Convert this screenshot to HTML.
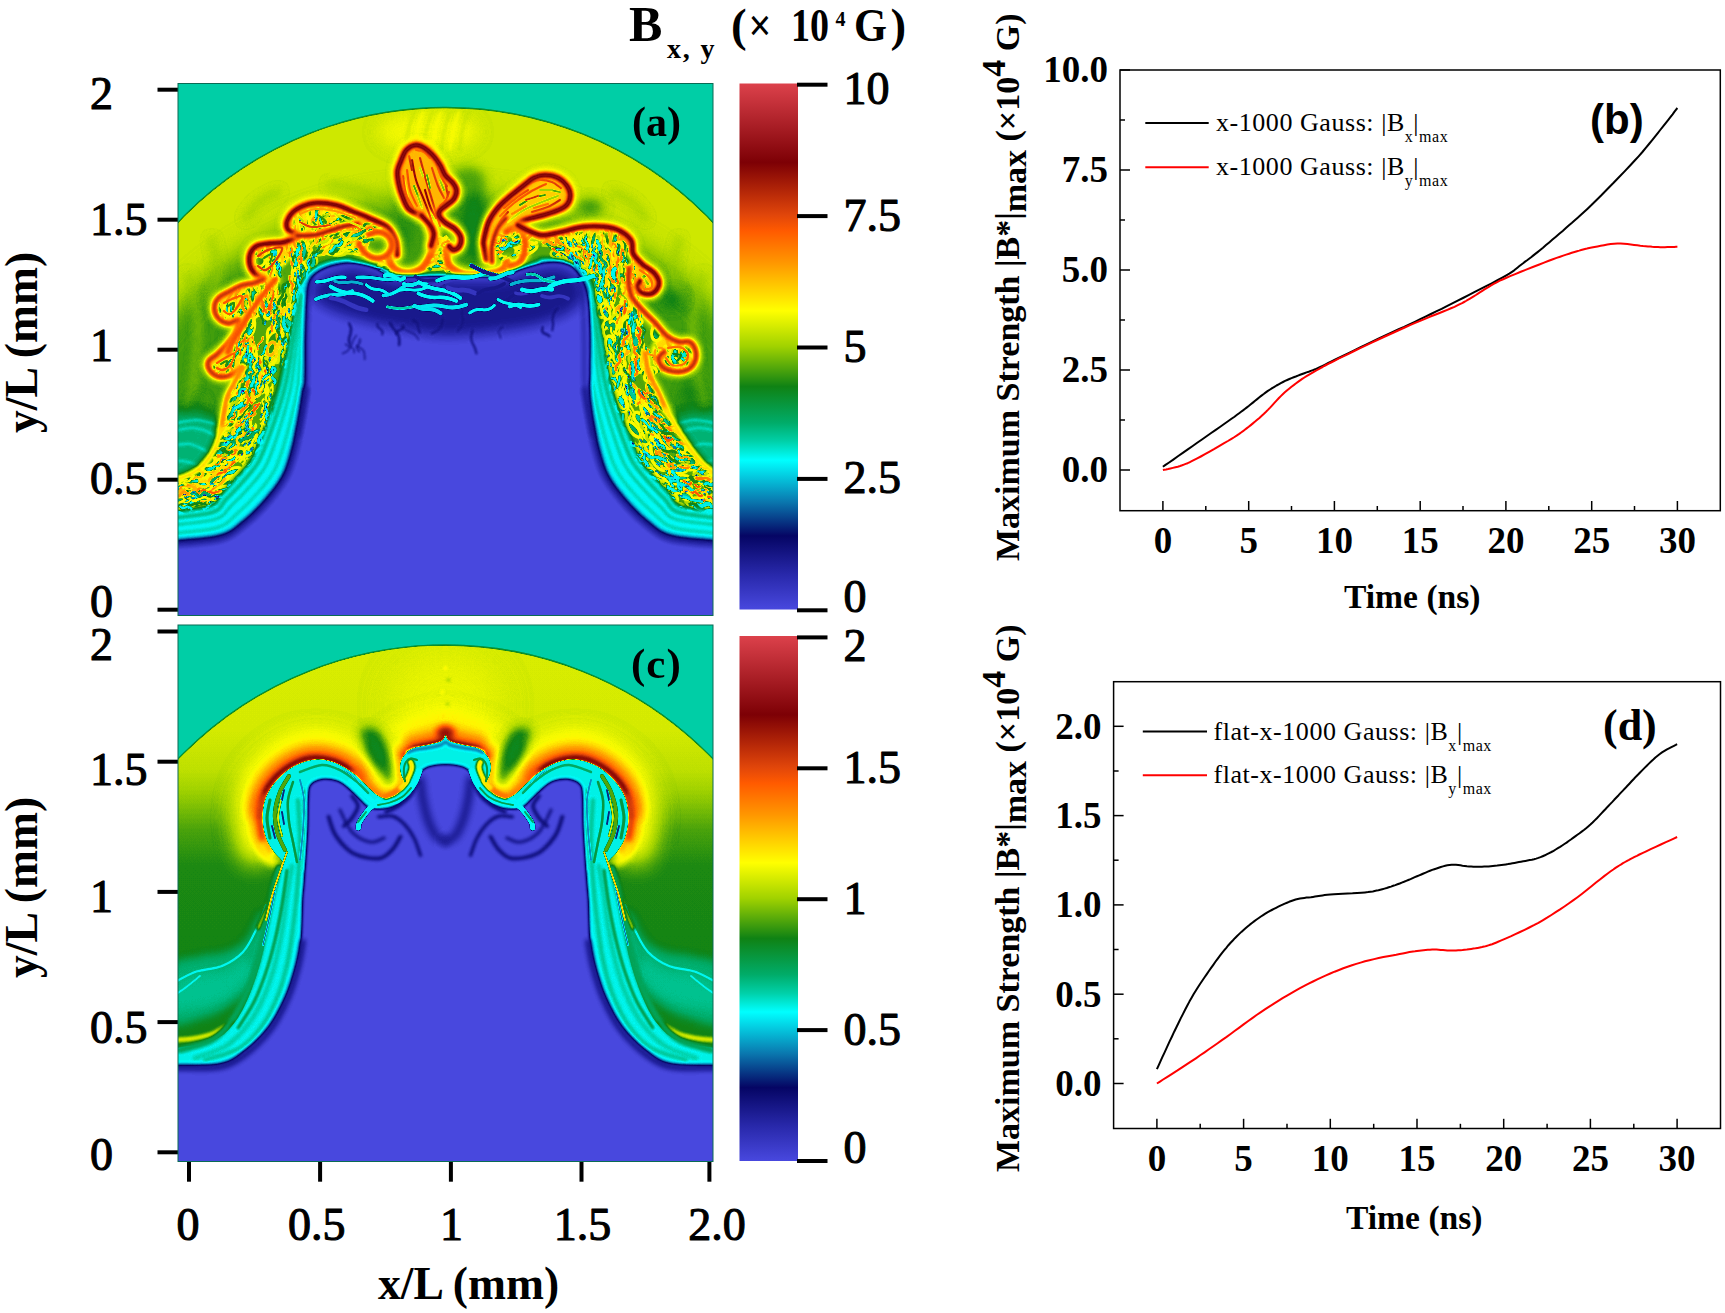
<!DOCTYPE html>
<html lang="en"><head><meta charset="utf-8"><title>Figure</title>
<style>
html,body{margin:0;padding:0;background:#fff;}
body{width:1725px;height:1313px;overflow:hidden;}
svg{display:block;}
text{font-family:"Liberation Serif", "DejaVu Serif", serif;fill:#000;}
.b{font-weight:bold;}
.sans{font-family:"Liberation Sans", "DejaVu Sans", sans-serif;}
</style></head><body>
<svg width="1725" height="1313" viewBox="0 0 1725 1313">
<defs>
<linearGradient id="cb" x1="0" y1="1" x2="0" y2="0"><stop offset="0.0000" stop-color="#4848de"/><stop offset="0.0670" stop-color="#2828aa"/><stop offset="0.1400" stop-color="#050564"/><stop offset="0.2050" stop-color="#0a78af"/><stop offset="0.2840" stop-color="#00ffff"/><stop offset="0.3200" stop-color="#00d0a8"/><stop offset="0.3550" stop-color="#00ac69"/><stop offset="0.4240" stop-color="#0f8214"/><stop offset="0.5000" stop-color="#a0d200"/><stop offset="0.5680" stop-color="#ffff00"/><stop offset="0.6600" stop-color="#ff9600"/><stop offset="0.7200" stop-color="#ff5a00"/><stop offset="0.7500" stop-color="#e1460a"/><stop offset="0.8500" stop-color="#7d0005"/><stop offset="1.0000" stop-color="#dc414b"/></linearGradient>
<filter id="cmap" x="0" y="0" width="100%" height="100%" filterUnits="objectBoundingBox" color-interpolation-filters="sRGB">
<feComponentTransfer>
<feFuncR type="table" tableValues="0.2824 0.2589 0.2355 0.2121 0.1887 0.1653 0.1418 0.1183 0.0948 0.0713 0.0478 0.0243 0.0226 0.0264 0.0302 0.0339 0.0377 0.0355 0.0293 0.0231 0.0169 0.0107 0.0045 0.0000 0.0000 0.0000 0.0000 0.0000 0.0000 0.0064 0.0171 0.0277 0.0384 0.0490 0.0663 0.1598 0.2534 0.3469 0.4404 0.5339 0.6275 0.6959 0.7644 0.8329 0.9014 0.9699 1.0000 1.0000 1.0000 1.0000 1.0000 1.0000 1.0000 1.0000 1.0000 1.0000 1.0000 1.0000 0.9804 0.9314 0.8824 0.8333 0.7843 0.7353 0.6863 0.6373 0.5882 0.5392 0.4902 0.5212 0.5523 0.5833 0.6144 0.6454 0.6765 0.7075 0.7386 0.7696 0.8007 0.8317 0.8627"/>
<feFuncG type="table" tableValues="0.2824 0.2589 0.2355 0.2121 0.1887 0.1653 0.1418 0.1183 0.0948 0.0713 0.0478 0.0243 0.0890 0.1757 0.2624 0.3492 0.4359 0.5208 0.6046 0.6884 0.7722 0.8559 0.9397 0.9821 0.9181 0.8541 0.7955 0.7451 0.6947 0.6566 0.6268 0.5969 0.5671 0.5373 0.5139 0.5655 0.6171 0.6687 0.7203 0.7719 0.8235 0.8560 0.8884 0.9208 0.9533 0.9857 0.9687 0.9127 0.8568 0.8008 0.7449 0.6889 0.6330 0.5784 0.5294 0.4804 0.4314 0.3824 0.3399 0.3072 0.2745 0.2402 0.2059 0.1716 0.1373 0.1029 0.0686 0.0343 0.0000 0.0212 0.0425 0.0637 0.0850 0.1062 0.1275 0.1487 0.1699 0.1912 0.2124 0.2337 0.2549"/>
<feFuncB type="table" tableValues="0.8706 0.8325 0.7945 0.7565 0.7184 0.6804 0.6366 0.5896 0.5426 0.4956 0.4486 0.4016 0.4374 0.4940 0.5505 0.6071 0.6637 0.7161 0.7657 0.8153 0.8650 0.9146 0.9643 0.9668 0.8484 0.7299 0.6235 0.5353 0.4471 0.3755 0.3151 0.2548 0.1944 0.1340 0.0774 0.0645 0.0516 0.0387 0.0258 0.0129 0.0000 0.0000 0.0000 0.0000 0.0000 0.0000 0.0000 0.0000 0.0000 0.0000 0.0000 0.0000 0.0000 0.0000 0.0000 0.0000 0.0000 0.0000 0.0065 0.0229 0.0392 0.0368 0.0343 0.0319 0.0294 0.0270 0.0245 0.0221 0.0196 0.0425 0.0654 0.0882 0.1111 0.1340 0.1569 0.1797 0.2026 0.2255 0.2484 0.2712 0.2941"/>
</feComponentTransfer></filter>
<filter id="bl0_6" filterUnits="userSpaceOnUse" x="120" y="40" width="660" height="1180" color-interpolation-filters="sRGB"><feGaussianBlur stdDeviation="0.6"/></filter>
<filter id="bl0_8" filterUnits="userSpaceOnUse" x="120" y="40" width="660" height="1180" color-interpolation-filters="sRGB"><feGaussianBlur stdDeviation="0.8"/></filter>
<filter id="bl1" filterUnits="userSpaceOnUse" x="120" y="40" width="660" height="1180" color-interpolation-filters="sRGB"><feGaussianBlur stdDeviation="1"/></filter>
<filter id="bl1_5" filterUnits="userSpaceOnUse" x="120" y="40" width="660" height="1180" color-interpolation-filters="sRGB"><feGaussianBlur stdDeviation="1.5"/></filter>
<filter id="bl2" filterUnits="userSpaceOnUse" x="120" y="40" width="660" height="1180" color-interpolation-filters="sRGB"><feGaussianBlur stdDeviation="2"/></filter>
<filter id="bl3" filterUnits="userSpaceOnUse" x="120" y="40" width="660" height="1180" color-interpolation-filters="sRGB"><feGaussianBlur stdDeviation="3"/></filter>
<filter id="bl4" filterUnits="userSpaceOnUse" x="120" y="40" width="660" height="1180" color-interpolation-filters="sRGB"><feGaussianBlur stdDeviation="4"/></filter>
<filter id="bl5" filterUnits="userSpaceOnUse" x="120" y="40" width="660" height="1180" color-interpolation-filters="sRGB"><feGaussianBlur stdDeviation="5"/></filter>
<filter id="bl6" filterUnits="userSpaceOnUse" x="120" y="40" width="660" height="1180" color-interpolation-filters="sRGB"><feGaussianBlur stdDeviation="6"/></filter>
<filter id="bl8" filterUnits="userSpaceOnUse" x="120" y="40" width="660" height="1180" color-interpolation-filters="sRGB"><feGaussianBlur stdDeviation="8"/></filter>
<filter id="bl10" filterUnits="userSpaceOnUse" x="120" y="40" width="660" height="1180" color-interpolation-filters="sRGB"><feGaussianBlur stdDeviation="10"/></filter>
<filter id="bl12" filterUnits="userSpaceOnUse" x="120" y="40" width="660" height="1180" color-interpolation-filters="sRGB"><feGaussianBlur stdDeviation="12"/></filter>
<filter id="bl16" filterUnits="userSpaceOnUse" x="120" y="40" width="660" height="1180" color-interpolation-filters="sRGB"><feGaussianBlur stdDeviation="16"/></filter>
<filter id="bl20" filterUnits="userSpaceOnUse" x="120" y="40" width="660" height="1180" color-interpolation-filters="sRGB"><feGaussianBlur stdDeviation="20"/></filter>
<filter id="bl24" filterUnits="userSpaceOnUse" x="120" y="40" width="660" height="1180" color-interpolation-filters="sRGB"><feGaussianBlur stdDeviation="24"/></filter>
<clipPath id="clipA"><rect x="178" y="83.5" width="535" height="532"/></clipPath>
<clipPath id="clipC"><rect x="178" y="625" width="535" height="536.5"/></clipPath>
</defs>
<rect x="0" y="0" width="1725" height="1313" fill="#fff"/>
<text x="629" y="41" font-size="50" class="b">B</text>
<text x="667" y="58" font-size="28" class="b" letter-spacing="1.8">x, y</text>
<text x="731" y="41" font-size="47" class="b">(</text>
<text x="748.5" y="41" font-size="47" class="b" textLength="23" lengthAdjust="spacingAndGlyphs">×</text>
<text x="791" y="41" font-size="46" class="b" textLength="38" lengthAdjust="spacingAndGlyphs">10</text>
<text x="835.5" y="26" font-size="20" class="b">4</text>
<text x="854" y="41" font-size="47" class="b" textLength="33" lengthAdjust="spacingAndGlyphs">G</text>
<text x="890.5" y="41" font-size="47" class="b">)</text>
<rect x="739.5" y="83.5" width="58.5" height="526" fill="url(#cb)"/>
<rect x="739.5" y="636" width="58.5" height="525" fill="url(#cb)"/>
<line x1="797.0" y1="84.7" x2="827.5" y2="84.7" stroke="#000" stroke-width="4"/>
<text x="843.5" y="103.7" font-size="46" text-anchor="start" class=""  stroke="#000" stroke-width="1.1" stroke-linejoin="round">10</text>
<line x1="797.0" y1="216.1" x2="827.5" y2="216.1" stroke="#000" stroke-width="4"/>
<text x="843.5" y="230.6" font-size="46" text-anchor="start" class=""  stroke="#000" stroke-width="1.1" stroke-linejoin="round">7.5</text>
<line x1="797.0" y1="347.5" x2="827.5" y2="347.5" stroke="#000" stroke-width="4"/>
<text x="843.5" y="362.0" font-size="46" text-anchor="start" class=""  stroke="#000" stroke-width="1.1" stroke-linejoin="round">5</text>
<line x1="797.0" y1="478.9" x2="827.5" y2="478.9" stroke="#000" stroke-width="4"/>
<text x="843.5" y="493.4" font-size="46" text-anchor="start" class=""  stroke="#000" stroke-width="1.1" stroke-linejoin="round">2.5</text>
<line x1="797.0" y1="610.3" x2="827.5" y2="610.3" stroke="#000" stroke-width="4"/>
<text x="843.5" y="612.3" font-size="46" text-anchor="start" class=""  stroke="#000" stroke-width="1.1" stroke-linejoin="round">0</text>
<line x1="797.0" y1="637.4" x2="827.5" y2="637.4" stroke="#000" stroke-width="4"/>
<text x="843.5" y="661.4" font-size="46" text-anchor="start" class=""  stroke="#000" stroke-width="1.1" stroke-linejoin="round">2</text>
<line x1="797.0" y1="768.3" x2="827.5" y2="768.3" stroke="#000" stroke-width="4"/>
<text x="843.5" y="782.8" font-size="46" text-anchor="start" class=""  stroke="#000" stroke-width="1.1" stroke-linejoin="round">1.5</text>
<line x1="797.0" y1="899.2" x2="827.5" y2="899.2" stroke="#000" stroke-width="4"/>
<text x="843.5" y="913.7" font-size="46" text-anchor="start" class=""  stroke="#000" stroke-width="1.1" stroke-linejoin="round">1</text>
<line x1="797.0" y1="1030.1" x2="827.5" y2="1030.1" stroke="#000" stroke-width="4"/>
<text x="843.5" y="1044.6" font-size="46" text-anchor="start" class=""  stroke="#000" stroke-width="1.1" stroke-linejoin="round">0.5</text>
<line x1="797.0" y1="1161.0" x2="827.5" y2="1161.0" stroke="#000" stroke-width="4"/>
<text x="843.5" y="1163.0" font-size="46" text-anchor="start" class=""  stroke="#000" stroke-width="1.1" stroke-linejoin="round">0</text>
<line x1="157.5" y1="89.7" x2="178.0" y2="89.7" stroke="#000" stroke-width="4"/>
<text x="90.0" y="108.7" font-size="46" text-anchor="start" class=""  stroke="#000" stroke-width="1.1" stroke-linejoin="round">2</text>
<line x1="157.5" y1="219.7" x2="178.0" y2="219.7" stroke="#000" stroke-width="4"/>
<text x="90.0" y="235.2" font-size="46" text-anchor="start" class=""  stroke="#000" stroke-width="1.1" stroke-linejoin="round">1.5</text>
<line x1="157.5" y1="349.7" x2="178.0" y2="349.7" stroke="#000" stroke-width="4"/>
<text x="90.0" y="360.7" font-size="46" text-anchor="start" class=""  stroke="#000" stroke-width="1.1" stroke-linejoin="round">1</text>
<line x1="157.5" y1="479.7" x2="178.0" y2="479.7" stroke="#000" stroke-width="4"/>
<text x="90.0" y="493.7" font-size="46" text-anchor="start" class=""  stroke="#000" stroke-width="1.1" stroke-linejoin="round">0.5</text>
<line x1="157.5" y1="609.7" x2="178.0" y2="609.7" stroke="#000" stroke-width="4"/>
<text x="90.0" y="616.7" font-size="46" text-anchor="start" class=""  stroke="#000" stroke-width="1.1" stroke-linejoin="round">0</text>
<line x1="157.5" y1="631.5" x2="178.0" y2="631.5" stroke="#000" stroke-width="4"/>
<text x="90.0" y="659.5" font-size="46" text-anchor="start" class=""  stroke="#000" stroke-width="1.1" stroke-linejoin="round">2</text>
<line x1="157.5" y1="761.7" x2="178.0" y2="761.7" stroke="#000" stroke-width="4"/>
<text x="90.0" y="784.7" font-size="46" text-anchor="start" class=""  stroke="#000" stroke-width="1.1" stroke-linejoin="round">1.5</text>
<line x1="157.5" y1="891.9" x2="178.0" y2="891.9" stroke="#000" stroke-width="4"/>
<text x="90.0" y="911.9" font-size="46" text-anchor="start" class=""  stroke="#000" stroke-width="1.1" stroke-linejoin="round">1</text>
<line x1="157.5" y1="1022.1" x2="178.0" y2="1022.1" stroke="#000" stroke-width="4"/>
<text x="90.0" y="1043.1" font-size="46" text-anchor="start" class=""  stroke="#000" stroke-width="1.1" stroke-linejoin="round">0.5</text>
<line x1="157.5" y1="1152.3" x2="178.0" y2="1152.3" stroke="#000" stroke-width="4"/>
<text x="90.0" y="1169.8" font-size="46" text-anchor="start" class=""  stroke="#000" stroke-width="1.1" stroke-linejoin="round">0</text>
<line x1="189.0" y1="1161.0" x2="189.0" y2="1181.7" stroke="#000" stroke-width="4"/>
<text x="188.0" y="1239.5" font-size="46" text-anchor="middle" class=""  stroke="#000" stroke-width="1.1" stroke-linejoin="round">0</text>
<line x1="320.1" y1="1161.0" x2="320.1" y2="1181.7" stroke="#000" stroke-width="4"/>
<text x="316.7" y="1239.5" font-size="46" text-anchor="middle" class=""  stroke="#000" stroke-width="1.1" stroke-linejoin="round">0.5</text>
<line x1="450.9" y1="1161.0" x2="450.9" y2="1181.7" stroke="#000" stroke-width="4"/>
<text x="451.5" y="1239.5" font-size="46" text-anchor="middle" class=""  stroke="#000" stroke-width="1.1" stroke-linejoin="round">1</text>
<line x1="581.5" y1="1161.0" x2="581.5" y2="1181.7" stroke="#000" stroke-width="4"/>
<text x="582.6" y="1239.5" font-size="46" text-anchor="middle" class=""  stroke="#000" stroke-width="1.1" stroke-linejoin="round">1.5</text>
<line x1="709.4" y1="1161.0" x2="709.4" y2="1181.7" stroke="#000" stroke-width="4"/>
<text x="717.0" y="1239.5" font-size="46" text-anchor="middle" class=""  stroke="#000" stroke-width="1.1" stroke-linejoin="round">2.0</text>
<text x="378.0" y="1298.5" font-size="45.6" text-anchor="start" class="b" >x/L (mm)</text>
<text transform="translate(36.5,433) rotate(-90)" font-size="45.6" class="b">y/L (mm)</text>
<text transform="translate(36.5,978) rotate(-90)" font-size="45.6" class="b">y/L (mm)</text>
<rect x="1120.0" y="70.0" width="600.3" height="440.7" fill="none" stroke="#000" stroke-width="1.5"/>
<line x1="1162.9" y1="510.7" x2="1162.9" y2="501.0" stroke="#000" stroke-width="1.5"/>
<text x="1162.9" y="552.7" font-size="37" text-anchor="middle" class="b" >0</text>
<line x1="1248.7" y1="510.7" x2="1248.7" y2="501.0" stroke="#000" stroke-width="1.5"/>
<text x="1248.7" y="552.7" font-size="37" text-anchor="middle" class="b" >5</text>
<line x1="1334.4" y1="510.7" x2="1334.4" y2="501.0" stroke="#000" stroke-width="1.5"/>
<text x="1334.4" y="552.7" font-size="37" text-anchor="middle" class="b" >10</text>
<line x1="1420.2" y1="510.7" x2="1420.2" y2="501.0" stroke="#000" stroke-width="1.5"/>
<text x="1420.2" y="552.7" font-size="37" text-anchor="middle" class="b" >15</text>
<line x1="1505.9" y1="510.7" x2="1505.9" y2="501.0" stroke="#000" stroke-width="1.5"/>
<text x="1505.9" y="552.7" font-size="37" text-anchor="middle" class="b" >20</text>
<line x1="1591.7" y1="510.7" x2="1591.7" y2="501.0" stroke="#000" stroke-width="1.5"/>
<text x="1591.7" y="552.7" font-size="37" text-anchor="middle" class="b" >25</text>
<line x1="1677.4" y1="510.7" x2="1677.4" y2="501.0" stroke="#000" stroke-width="1.5"/>
<text x="1677.4" y="552.7" font-size="37" text-anchor="middle" class="b" >30</text>
<line x1="1205.8" y1="510.7" x2="1205.8" y2="506.0" stroke="#000" stroke-width="1.5"/>
<line x1="1291.5" y1="510.7" x2="1291.5" y2="506.0" stroke="#000" stroke-width="1.5"/>
<line x1="1377.3" y1="510.7" x2="1377.3" y2="506.0" stroke="#000" stroke-width="1.5"/>
<line x1="1463.0" y1="510.7" x2="1463.0" y2="506.0" stroke="#000" stroke-width="1.5"/>
<line x1="1548.8" y1="510.7" x2="1548.8" y2="506.0" stroke="#000" stroke-width="1.5"/>
<line x1="1634.5" y1="510.7" x2="1634.5" y2="506.0" stroke="#000" stroke-width="1.5"/>
<line x1="1120.0" y1="470.0" x2="1130.0" y2="470.0" stroke="#000" stroke-width="1.5"/>
<text x="1108.0" y="482.3" font-size="37" text-anchor="end" class="b" >0.0</text>
<line x1="1120.0" y1="370.0" x2="1130.0" y2="370.0" stroke="#000" stroke-width="1.5"/>
<text x="1108.0" y="382.3" font-size="37" text-anchor="end" class="b" >2.5</text>
<line x1="1120.0" y1="270.0" x2="1130.0" y2="270.0" stroke="#000" stroke-width="1.5"/>
<text x="1108.0" y="282.3" font-size="37" text-anchor="end" class="b" >5.0</text>
<line x1="1120.0" y1="170.0" x2="1130.0" y2="170.0" stroke="#000" stroke-width="1.5"/>
<text x="1108.0" y="182.3" font-size="37" text-anchor="end" class="b" >7.5</text>
<line x1="1120.0" y1="70.0" x2="1130.0" y2="70.0" stroke="#000" stroke-width="1.5"/>
<text x="1108.0" y="82.3" font-size="37" text-anchor="end" class="b" >10.0</text>
<line x1="1120.0" y1="420.0" x2="1125.0" y2="420.0" stroke="#000" stroke-width="1.5"/>
<line x1="1120.0" y1="320.0" x2="1125.0" y2="320.0" stroke="#000" stroke-width="1.5"/>
<line x1="1120.0" y1="220.0" x2="1125.0" y2="220.0" stroke="#000" stroke-width="1.5"/>
<line x1="1120.0" y1="120.0" x2="1125.0" y2="120.0" stroke="#000" stroke-width="1.5"/>
<path d="M1162.9 466.8 L1165.5 464.9 L1169.1 462.5 L1173.3 459.6 L1177.9 456.3 L1182.8 452.9 L1187.8 449.4 L1192.7 446.0 L1197.2 442.8 L1201.6 439.7 L1206.2 436.5 L1210.8 433.3 L1215.4 430.1 L1219.9 427.0 L1224.1 424.0 L1228.0 421.3 L1231.5 418.8 L1234.5 416.7 L1237.0 414.8 L1239.2 413.2 L1241.1 411.8 L1243.0 410.4 L1244.8 409.0 L1246.6 407.6 L1248.7 406.0 L1250.8 404.3 L1252.9 402.6 L1255.1 400.8 L1257.2 399.1 L1259.4 397.3 L1261.5 395.6 L1263.7 394.0 L1265.8 392.4 L1267.9 390.9 L1270.1 389.5 L1272.2 388.1 L1274.4 386.8 L1276.5 385.5 L1278.7 384.3 L1280.8 383.1 L1283.0 382.0 L1285.1 380.9 L1287.2 380.0 L1289.4 379.0 L1291.5 378.1 L1293.7 377.3 L1295.8 376.5 L1298.0 375.6 L1300.1 374.8 L1302.2 374.0 L1304.4 373.2 L1306.5 372.4 L1308.7 371.7 L1310.8 370.9 L1313.0 370.1 L1315.1 369.3 L1317.2 368.4 L1319.2 367.5 L1320.9 366.7 L1322.6 365.9 L1324.2 365.1 L1326.1 364.1 L1328.3 363.0 L1331.0 361.7 L1334.4 360.0 L1338.5 358.0 L1343.3 355.7 L1348.6 353.1 L1354.2 350.3 L1360.1 347.5 L1366.0 344.6 L1371.7 341.8 L1377.3 339.2 L1382.6 336.7 L1388.0 334.2 L1393.4 331.7 L1398.7 329.2 L1404.1 326.8 L1409.4 324.3 L1414.8 321.8 L1420.2 319.2 L1425.5 316.6 L1430.9 314.0 L1436.2 311.4 L1441.6 308.8 L1446.9 306.1 L1452.3 303.4 L1457.7 300.7 L1463.0 298.0 L1468.6 295.2 L1474.3 292.2 L1480.2 289.2 L1486.1 286.2 L1491.7 283.3 L1497.0 280.5 L1501.8 277.9 L1505.9 275.6 L1509.3 273.6 L1512.0 271.8 L1514.2 270.3 L1516.1 268.8 L1517.7 267.5 L1519.4 266.1 L1521.1 264.7 L1523.1 263.2 L1525.1 261.6 L1527.1 260.2 L1529.1 258.7 L1531.1 257.2 L1533.1 255.6 L1535.3 253.9 L1537.6 252.1 L1540.2 250.0 L1543.0 247.7 L1546.0 245.1 L1549.2 242.4 L1552.5 239.6 L1555.9 236.7 L1559.3 233.8 L1562.7 230.9 L1565.9 228.0 L1569.0 225.3 L1572.0 222.8 L1574.8 220.3 L1577.7 217.8 L1580.7 215.1 L1584.0 212.1 L1587.6 208.7 L1591.7 204.8 L1596.3 200.2 L1601.6 195.0 L1607.2 189.2 L1613.1 183.3 L1618.9 177.2 L1624.6 171.4 L1629.9 165.8 L1634.5 160.8 L1638.6 156.3 L1642.4 152.0 L1645.8 147.9 L1649.0 144.0 L1652.0 140.3 L1654.8 136.8 L1657.6 133.3 L1660.2 130.0 L1662.9 126.7 L1665.5 123.4 L1668.1 120.1 L1670.4 117.1 L1672.6 114.3 L1674.5 111.7 L1676.1 109.6 L1677.4 108.0" fill="none" stroke="#000" stroke-width="2" stroke-linejoin="round"/>
<path d="M1162.9 470.0 L1164.2 469.7 L1166.0 469.4 L1168.1 469.0 L1170.4 468.5 L1172.9 467.9 L1175.4 467.3 L1177.8 466.7 L1180.1 466.0 L1182.1 465.3 L1183.9 464.6 L1185.7 463.9 L1187.6 463.2 L1189.5 462.3 L1191.7 461.2 L1194.2 459.9 L1197.2 458.4 L1200.8 456.5 L1205.0 454.2 L1209.6 451.6 L1214.4 448.9 L1219.1 446.1 L1223.7 443.4 L1227.9 441.0 L1231.5 438.8 L1234.5 437.0 L1237.0 435.3 L1239.2 433.9 L1241.1 432.5 L1243.0 431.2 L1244.8 429.8 L1246.6 428.4 L1248.7 426.8 L1250.8 425.1 L1252.9 423.4 L1255.1 421.6 L1257.2 419.8 L1259.4 417.9 L1261.5 416.0 L1263.7 414.0 L1265.8 412.0 L1267.9 409.9 L1270.1 407.6 L1272.2 405.3 L1274.4 402.9 L1276.5 400.6 L1278.7 398.3 L1280.8 396.1 L1283.0 394.0 L1285.1 392.1 L1287.2 390.2 L1289.4 388.4 L1291.5 386.7 L1293.7 385.1 L1295.8 383.5 L1298.0 381.9 L1300.1 380.4 L1302.2 378.9 L1304.4 377.5 L1306.5 376.2 L1308.7 374.9 L1310.8 373.7 L1313.0 372.4 L1315.1 371.2 L1317.2 370.0 L1319.2 368.9 L1320.9 367.9 L1322.6 367.0 L1324.2 366.0 L1326.1 365.0 L1328.3 363.9 L1331.0 362.5 L1334.4 360.8 L1338.5 358.7 L1343.3 356.4 L1348.6 353.8 L1354.2 351.0 L1360.1 348.2 L1366.0 345.4 L1371.7 342.6 L1377.3 340.0 L1382.7 337.5 L1388.2 335.0 L1393.7 332.5 L1399.2 330.0 L1404.7 327.5 L1410.0 325.2 L1415.2 322.9 L1420.2 320.8 L1425.0 318.8 L1429.7 316.8 L1434.4 315.0 L1438.9 313.2 L1443.2 311.5 L1447.3 309.8 L1451.0 308.3 L1454.5 306.8 L1457.4 305.4 L1459.9 304.2 L1462.1 303.1 L1464.1 302.0 L1465.9 301.0 L1467.7 299.9 L1469.6 298.8 L1471.6 297.6 L1473.7 296.3 L1475.9 295.0 L1478.0 293.6 L1480.2 292.2 L1482.3 290.8 L1484.5 289.4 L1486.6 288.1 L1488.8 286.8 L1490.7 285.7 L1492.4 284.7 L1494.1 283.7 L1495.7 282.8 L1497.6 281.8 L1499.8 280.7 L1502.5 279.5 L1505.9 278.0 L1510.1 276.2 L1515.2 274.1 L1520.8 271.8 L1526.8 269.4 L1532.8 267.0 L1538.7 264.7 L1544.1 262.6 L1548.8 260.8 L1552.9 259.3 L1556.6 257.9 L1560.1 256.7 L1563.2 255.6 L1566.2 254.6 L1569.1 253.7 L1571.8 252.8 L1574.5 252.0 L1577.0 251.2 L1579.2 250.6 L1581.2 250.0 L1583.1 249.5 L1585.0 249.0 L1587.0 248.6 L1589.2 248.1 L1591.7 247.6 L1594.5 247.0 L1597.5 246.4 L1600.7 245.8 L1604.0 245.2 L1607.4 244.6 L1610.7 244.1 L1614.1 243.8 L1617.4 243.6 L1620.6 243.6 L1624.0 243.8 L1627.4 244.1 L1630.8 244.5 L1634.1 244.9 L1637.3 245.3 L1640.3 245.7 L1643.1 246.0 L1645.7 246.2 L1648.0 246.4 L1650.2 246.6 L1652.2 246.8 L1654.2 246.9 L1656.2 247.0 L1658.2 247.1 L1660.2 247.2 L1662.5 247.2 L1664.9 247.2 L1667.4 247.1 L1669.9 247.1 L1672.2 247.0 L1674.3 246.9 L1676.1 246.8 L1677.4 246.8" fill="none" stroke="#f00" stroke-width="2" stroke-linejoin="round"/>
<line x1="1145.3" y1="123.0" x2="1208.7" y2="123.0" stroke="#000" stroke-width="2"/>
<line x1="1145.3" y1="167.2" x2="1208.7" y2="167.2" stroke="#f00" stroke-width="2"/>
<text x="1216" y="131" font-size="26" letter-spacing="0.55">x-1000 Gauss: |B<tspan font-size="16" dy="11">x</tspan><tspan dy="-11">|</tspan><tspan font-size="16" dy="11">max</tspan></text>
<text x="1216" y="175" font-size="26" letter-spacing="0.55">x-1000 Gauss: |B<tspan font-size="16" dy="11">y</tspan><tspan dy="-11">|</tspan><tspan font-size="16" dy="11">max</tspan></text>
<text x="1590" y="133.6" font-size="42" class="sans b">(b)</text>
<text x="1344.0" y="607.8" font-size="33.6" text-anchor="start" class="b" >Time (ns)</text>
<text transform="translate(1018.7,561) rotate(-90)" font-size="34" class="b">Maximum Strength |B*|<tspan dy="7">max</tspan><tspan dy="-7"> (×10</tspan><tspan dy="-14">4</tspan><tspan dy="14"> G)</tspan></text>
<rect x="1113.6" y="681.7" width="606.9" height="446.8" fill="none" stroke="#000" stroke-width="1.5"/>
<line x1="1156.9" y1="1128.5" x2="1156.9" y2="1118.8" stroke="#000" stroke-width="1.5"/>
<text x="1156.9" y="1170.5" font-size="37" text-anchor="middle" class="b" >0</text>
<line x1="1243.6" y1="1128.5" x2="1243.6" y2="1118.8" stroke="#000" stroke-width="1.5"/>
<text x="1243.6" y="1170.5" font-size="37" text-anchor="middle" class="b" >5</text>
<line x1="1330.3" y1="1128.5" x2="1330.3" y2="1118.8" stroke="#000" stroke-width="1.5"/>
<text x="1330.3" y="1170.5" font-size="37" text-anchor="middle" class="b" >10</text>
<line x1="1417.0" y1="1128.5" x2="1417.0" y2="1118.8" stroke="#000" stroke-width="1.5"/>
<text x="1417.0" y="1170.5" font-size="37" text-anchor="middle" class="b" >15</text>
<line x1="1503.7" y1="1128.5" x2="1503.7" y2="1118.8" stroke="#000" stroke-width="1.5"/>
<text x="1503.7" y="1170.5" font-size="37" text-anchor="middle" class="b" >20</text>
<line x1="1590.4" y1="1128.5" x2="1590.4" y2="1118.8" stroke="#000" stroke-width="1.5"/>
<text x="1590.4" y="1170.5" font-size="37" text-anchor="middle" class="b" >25</text>
<line x1="1677.1" y1="1128.5" x2="1677.1" y2="1118.8" stroke="#000" stroke-width="1.5"/>
<text x="1677.1" y="1170.5" font-size="37" text-anchor="middle" class="b" >30</text>
<line x1="1200.2" y1="1128.5" x2="1200.2" y2="1123.8" stroke="#000" stroke-width="1.5"/>
<line x1="1287.0" y1="1128.5" x2="1287.0" y2="1123.8" stroke="#000" stroke-width="1.5"/>
<line x1="1373.7" y1="1128.5" x2="1373.7" y2="1123.8" stroke="#000" stroke-width="1.5"/>
<line x1="1460.4" y1="1128.5" x2="1460.4" y2="1123.8" stroke="#000" stroke-width="1.5"/>
<line x1="1547.1" y1="1128.5" x2="1547.1" y2="1123.8" stroke="#000" stroke-width="1.5"/>
<line x1="1633.8" y1="1128.5" x2="1633.8" y2="1123.8" stroke="#000" stroke-width="1.5"/>
<line x1="1113.6" y1="1083.5" x2="1123.6" y2="1083.5" stroke="#000" stroke-width="1.5"/>
<text x="1101.6" y="1095.8" font-size="37" text-anchor="end" class="b" >0.0</text>
<line x1="1113.6" y1="994.2" x2="1123.6" y2="994.2" stroke="#000" stroke-width="1.5"/>
<text x="1101.6" y="1006.5" font-size="37" text-anchor="end" class="b" >0.5</text>
<line x1="1113.6" y1="904.9" x2="1123.6" y2="904.9" stroke="#000" stroke-width="1.5"/>
<text x="1101.6" y="917.2" font-size="37" text-anchor="end" class="b" >1.0</text>
<line x1="1113.6" y1="815.6" x2="1123.6" y2="815.6" stroke="#000" stroke-width="1.5"/>
<text x="1101.6" y="827.9" font-size="37" text-anchor="end" class="b" >1.5</text>
<line x1="1113.6" y1="726.3" x2="1123.6" y2="726.3" stroke="#000" stroke-width="1.5"/>
<text x="1101.6" y="738.6" font-size="37" text-anchor="end" class="b" >2.0</text>
<line x1="1113.6" y1="1038.8" x2="1118.6" y2="1038.8" stroke="#000" stroke-width="1.5"/>
<line x1="1113.6" y1="949.5" x2="1118.6" y2="949.5" stroke="#000" stroke-width="1.5"/>
<line x1="1113.6" y1="860.2" x2="1118.6" y2="860.2" stroke="#000" stroke-width="1.5"/>
<line x1="1113.6" y1="771.0" x2="1118.6" y2="771.0" stroke="#000" stroke-width="1.5"/>
<path d="M1156.9 1069.2 L1158.2 1066.3 L1160.0 1062.4 L1162.1 1057.7 L1164.5 1052.6 L1167.0 1047.2 L1169.5 1041.7 L1172.0 1036.5 L1174.2 1031.7 L1176.4 1027.2 L1178.6 1022.8 L1180.7 1018.4 L1182.9 1014.1 L1185.1 1009.8 L1187.2 1005.7 L1189.4 1001.6 L1191.6 997.8 L1193.7 994.1 L1195.9 990.5 L1198.1 987.0 L1200.2 983.7 L1202.4 980.5 L1204.6 977.3 L1206.8 974.1 L1208.9 971.0 L1211.1 967.9 L1213.3 964.8 L1215.4 961.8 L1217.6 958.8 L1219.8 955.9 L1221.9 953.1 L1224.1 950.4 L1226.3 947.8 L1228.4 945.2 L1230.6 942.8 L1232.8 940.5 L1234.9 938.2 L1237.1 936.0 L1239.3 933.9 L1241.4 931.9 L1243.6 929.9 L1245.8 928.0 L1247.9 926.2 L1250.1 924.4 L1252.3 922.7 L1254.4 921.1 L1256.6 919.5 L1258.8 918.0 L1260.9 916.5 L1263.1 915.1 L1265.3 913.7 L1267.4 912.4 L1269.6 911.2 L1271.8 910.0 L1273.9 908.9 L1276.1 907.8 L1278.3 906.7 L1280.4 905.6 L1282.6 904.6 L1284.8 903.6 L1287.0 902.7 L1289.1 901.8 L1291.3 901.0 L1293.5 900.2 L1295.6 899.5 L1297.8 899.0 L1300.0 898.5 L1302.1 898.2 L1304.3 897.9 L1306.5 897.6 L1308.6 897.4 L1310.8 897.2 L1313.0 896.9 L1315.0 896.6 L1316.9 896.3 L1318.7 896.0 L1320.5 895.7 L1322.5 895.4 L1324.7 895.1 L1327.3 894.8 L1330.3 894.5 L1333.9 894.3 L1338.2 894.0 L1342.8 893.8 L1347.6 893.5 L1352.5 893.3 L1357.1 893.0 L1361.4 892.7 L1365.0 892.4 L1368.0 892.1 L1370.5 891.7 L1372.8 891.4 L1374.7 891.0 L1376.6 890.6 L1378.4 890.2 L1380.3 889.7 L1382.3 889.2 L1384.5 888.6 L1386.7 888.0 L1388.8 887.3 L1391.0 886.6 L1393.2 885.8 L1395.3 885.1 L1397.5 884.3 L1399.7 883.5 L1401.8 882.6 L1404.0 881.8 L1406.2 880.9 L1408.3 880.0 L1410.5 879.1 L1412.7 878.1 L1414.8 877.2 L1417.0 876.3 L1419.2 875.4 L1421.3 874.5 L1423.5 873.5 L1425.7 872.6 L1427.8 871.7 L1430.0 870.8 L1432.2 869.9 L1434.3 869.2 L1436.5 868.5 L1438.7 867.7 L1440.8 867.0 L1443.0 866.4 L1445.2 865.8 L1447.3 865.3 L1449.5 865.0 L1451.7 864.7 L1453.8 864.7 L1456.0 864.8 L1458.2 865.0 L1460.4 865.3 L1462.5 865.7 L1464.7 866.0 L1466.9 866.3 L1469.0 866.5 L1471.2 866.6 L1473.4 866.7 L1475.5 866.7 L1477.7 866.7 L1479.9 866.7 L1482.0 866.7 L1484.2 866.6 L1486.4 866.5 L1488.5 866.4 L1490.7 866.2 L1492.9 866.0 L1495.0 865.8 L1497.2 865.6 L1499.4 865.3 L1501.5 865.0 L1503.7 864.7 L1505.9 864.4 L1508.0 864.1 L1510.2 863.7 L1512.4 863.3 L1514.5 862.9 L1516.7 862.5 L1518.9 862.1 L1521.0 861.7 L1523.2 861.3 L1525.4 860.9 L1527.5 860.5 L1529.7 860.1 L1531.9 859.7 L1534.0 859.2 L1536.2 858.6 L1538.4 857.9 L1540.5 857.1 L1542.7 856.2 L1544.9 855.3 L1547.1 854.2 L1549.2 853.1 L1551.4 852.0 L1553.6 850.8 L1555.7 849.5 L1557.9 848.2 L1560.1 846.9 L1562.2 845.5 L1564.4 844.0 L1566.6 842.6 L1568.7 841.0 L1570.9 839.5 L1573.1 837.9 L1575.2 836.4 L1577.4 834.8 L1579.6 833.2 L1581.7 831.6 L1583.9 830.0 L1586.1 828.2 L1588.2 826.4 L1590.4 824.5 L1592.6 822.5 L1594.7 820.4 L1596.9 818.2 L1599.1 815.9 L1601.2 813.6 L1603.4 811.3 L1605.6 809.0 L1607.7 806.7 L1609.9 804.4 L1612.1 802.1 L1614.2 799.8 L1616.4 797.5 L1618.6 795.2 L1620.7 792.9 L1622.9 790.6 L1625.1 788.3 L1627.2 786.0 L1629.4 783.7 L1631.6 781.3 L1633.8 779.0 L1635.9 776.7 L1638.1 774.5 L1640.3 772.2 L1642.4 770.1 L1644.6 767.9 L1646.8 765.7 L1648.9 763.6 L1651.1 761.5 L1653.3 759.5 L1655.4 757.5 L1657.6 755.7 L1659.8 754.0 L1662.0 752.4 L1664.5 750.9 L1667.0 749.4 L1669.5 748.1 L1671.9 746.8 L1674.0 745.8 L1675.8 744.9 L1677.1 744.2" fill="none" stroke="#000" stroke-width="2" stroke-linejoin="round"/>
<path d="M1156.9 1083.5 L1159.6 1081.8 L1163.1 1079.5 L1167.4 1076.8 L1172.1 1073.8 L1177.1 1070.7 L1182.1 1067.4 L1187.0 1064.2 L1191.6 1061.2 L1195.9 1058.3 L1200.2 1055.3 L1204.6 1052.3 L1208.9 1049.3 L1213.3 1046.2 L1217.6 1043.2 L1221.9 1040.1 L1226.3 1037.1 L1230.6 1034.0 L1234.9 1030.8 L1239.3 1027.6 L1243.6 1024.4 L1247.9 1021.2 L1252.3 1018.1 L1256.6 1015.0 L1260.9 1012.1 L1265.3 1009.2 L1269.6 1006.4 L1273.9 1003.6 L1278.3 1000.9 L1282.6 998.2 L1287.0 995.6 L1291.3 993.1 L1295.6 990.6 L1300.0 988.2 L1304.3 985.9 L1308.6 983.7 L1313.0 981.5 L1317.3 979.4 L1321.6 977.3 L1326.0 975.4 L1330.3 973.5 L1334.6 971.7 L1339.0 970.0 L1343.3 968.3 L1347.6 966.8 L1352.0 965.3 L1356.3 963.9 L1360.6 962.6 L1365.0 961.3 L1369.4 960.2 L1374.1 959.1 L1378.7 958.1 L1383.4 957.1 L1387.9 956.2 L1392.2 955.4 L1396.2 954.7 L1399.7 954.0 L1402.7 953.4 L1405.2 952.9 L1407.4 952.5 L1409.4 952.1 L1411.3 951.8 L1413.1 951.5 L1415.0 951.3 L1417.0 951.0 L1419.2 950.7 L1421.3 950.4 L1423.5 950.2 L1425.7 950.0 L1427.8 949.8 L1430.0 949.7 L1432.2 949.6 L1434.3 949.5 L1436.5 949.6 L1438.7 949.7 L1440.8 949.9 L1443.0 950.1 L1445.2 950.3 L1447.3 950.5 L1449.5 950.6 L1451.7 950.6 L1453.8 950.6 L1456.0 950.5 L1458.2 950.3 L1460.4 950.2 L1462.5 950.0 L1464.7 949.7 L1466.9 949.5 L1469.0 949.2 L1471.2 948.9 L1473.4 948.6 L1475.5 948.3 L1477.7 947.9 L1479.9 947.5 L1482.0 947.1 L1484.2 946.6 L1486.4 946.0 L1488.4 945.4 L1490.3 944.8 L1492.1 944.2 L1493.9 943.5 L1495.9 942.7 L1498.1 941.8 L1500.7 940.7 L1503.7 939.4 L1507.2 937.8 L1511.2 936.1 L1515.4 934.1 L1520.0 932.0 L1524.6 929.8 L1529.3 927.5 L1533.9 925.2 L1538.4 922.8 L1542.7 920.3 L1547.1 917.7 L1551.4 915.0 L1555.7 912.2 L1560.1 909.4 L1564.4 906.5 L1568.7 903.5 L1573.1 900.4 L1577.5 897.2 L1582.1 893.7 L1586.8 890.0 L1591.5 886.3 L1596.0 882.6 L1600.3 879.2 L1604.2 876.1 L1607.7 873.5 L1610.7 871.3 L1613.3 869.5 L1615.5 867.9 L1617.5 866.6 L1619.3 865.5 L1621.2 864.4 L1623.0 863.2 L1625.1 862.0 L1627.1 860.8 L1629.0 859.8 L1630.8 858.8 L1632.7 857.9 L1634.6 856.9 L1636.9 855.8 L1639.4 854.5 L1642.4 853.1 L1646.2 851.3 L1650.7 849.2 L1655.7 846.9 L1660.8 844.5 L1665.9 842.2 L1670.5 840.1 L1674.3 838.3 L1677.1 837.0" fill="none" stroke="#f00" stroke-width="2" stroke-linejoin="round"/>
<line x1="1142.8" y1="731.5" x2="1207.0" y2="731.5" stroke="#000" stroke-width="2"/>
<line x1="1142.8" y1="775.2" x2="1207" y2="775.2" stroke="#f00" stroke-width="2"/>
<text x="1213.5" y="739.5" font-size="26" letter-spacing="0.55">flat-x-1000 Gauss: |B<tspan font-size="16" dy="11">x</tspan><tspan dy="-11">|</tspan><tspan font-size="16" dy="11">max</tspan></text>
<text x="1213.5" y="783.2" font-size="26" letter-spacing="0.55">flat-x-1000 Gauss: |B<tspan font-size="16" dy="11">y</tspan><tspan dy="-11">|</tspan><tspan font-size="16" dy="11">max</tspan></text>
<text x="1603" y="740" font-size="44" class="b">(d)</text>
<text x="1346.0" y="1229.0" font-size="33.6" text-anchor="start" class="b" >Time (ns)</text>
<text transform="translate(1018.7,1172) rotate(-90)" font-size="34" class="b">Maximum Strength |B*|<tspan dy="7">max</tspan><tspan dy="-7"> (×10</tspan><tspan dy="-14">4</tspan><tspan dy="14"> G)</tspan></text>
<g clip-path="url(#clipA)"><g filter="url(#cmap)">
<rect x="170" y="75" width="551" height="550" fill="#525252"/>
<clipPath id="aCirc"><circle cx="445.5" cy="476.7" r="369.2"/></clipPath>
<g clip-path="url(#aCirc)">
<circle cx="445.5" cy="476.7" r="369.2" fill="#888888"/>
<ellipse cx="445.5" cy="480" rx="338" ry="286" fill="#737373" filter="url(#bl12)"/>
<ellipse cx="428" cy="132" rx="50" ry="20" fill="#909090" filter="url(#bl8)" opacity="0.85"/>
<path d="M405.0 150.0C405.7 146.3 407.5 134.3 409.0 128.0C410.5 121.7 413.2 114.7 414.0 112.0" fill="none" stroke="#858585" stroke-width="2.5" stroke-linecap="round" stroke-linejoin="round" filter="url(#bl1_5)" opacity="0.7"/>
<path d="M414.0 150.0C414.7 146.3 416.5 134.3 418.0 128.0C419.5 121.7 422.2 114.7 423.0 112.0" fill="none" stroke="#939393" stroke-width="2.5" stroke-linecap="round" stroke-linejoin="round" filter="url(#bl1_5)" opacity="0.7"/>
<path d="M423.0 150.0C423.7 146.3 425.5 134.3 427.0 128.0C428.5 121.7 431.2 114.7 432.0 112.0" fill="none" stroke="#858585" stroke-width="2.5" stroke-linecap="round" stroke-linejoin="round" filter="url(#bl1_5)" opacity="0.7"/>
<path d="M432.0 150.0C432.7 146.3 434.5 134.3 436.0 128.0C437.5 121.7 440.2 114.7 441.0 112.0" fill="none" stroke="#939393" stroke-width="2.5" stroke-linecap="round" stroke-linejoin="round" filter="url(#bl1_5)" opacity="0.7"/>
<path d="M441.0 150.0C441.7 146.3 443.5 134.3 445.0 128.0C446.5 121.7 449.2 114.7 450.0 112.0" fill="none" stroke="#858585" stroke-width="2.5" stroke-linecap="round" stroke-linejoin="round" filter="url(#bl1_5)" opacity="0.7"/>
<path d="M450.0 150.0C450.7 146.3 452.5 134.3 454.0 128.0C455.5 121.7 458.2 114.7 459.0 112.0" fill="none" stroke="#939393" stroke-width="2.5" stroke-linecap="round" stroke-linejoin="round" filter="url(#bl1_5)" opacity="0.7"/>
<path d="M459.0 150.0C459.7 146.3 461.5 134.3 463.0 128.0C464.5 121.7 467.2 114.7 468.0 112.0" fill="none" stroke="#858585" stroke-width="2.5" stroke-linecap="round" stroke-linejoin="round" filter="url(#bl1_5)" opacity="0.7"/>
<path d="M188.0 275.0C189.7 282.5 197.0 302.5 198.0 320.0C199.0 337.5 196.0 361.7 194.0 380.0C192.0 398.3 187.3 421.7 186.0 430.0" fill="none" stroke="#7e7e7e" stroke-width="7.0" stroke-linecap="round" stroke-linejoin="round" filter="url(#bl4)" opacity="0.8"/>
<path d="M703.0 275.0C701.3 282.5 694.0 302.5 693.0 320.0C692.0 337.5 695.0 361.7 697.0 380.0C699.0 398.3 703.7 421.7 705.0 430.0" fill="none" stroke="#7e7e7e" stroke-width="7.0" stroke-linecap="round" stroke-linejoin="round" filter="url(#bl4)" opacity="0.8"/>
<path d="M212.0 240.0C213.0 245.8 218.7 265.0 218.0 275.0C217.3 285.0 209.7 295.8 208.0 300.0" fill="none" stroke="#7e7e7e" stroke-width="7.0" stroke-linecap="round" stroke-linejoin="round" filter="url(#bl4)" opacity="0.8"/>
<path d="M679.0 240.0C678.0 245.8 672.3 265.0 673.0 275.0C673.7 285.0 681.3 295.8 683.0 300.0" fill="none" stroke="#7e7e7e" stroke-width="7.0" stroke-linecap="round" stroke-linejoin="round" filter="url(#bl4)" opacity="0.8"/>
<path d="M203.0 400.0C201.8 406.7 199.2 429.2 196.0 440.0C192.8 450.8 186.0 460.8 184.0 465.0" fill="none" stroke="#7e7e7e" stroke-width="7.0" stroke-linecap="round" stroke-linejoin="round" filter="url(#bl4)" opacity="0.8"/>
<path d="M688.0 400.0C689.2 406.7 691.8 429.2 695.0 440.0C698.2 450.8 705.0 460.8 707.0 465.0" fill="none" stroke="#7e7e7e" stroke-width="7.0" stroke-linecap="round" stroke-linejoin="round" filter="url(#bl4)" opacity="0.8"/>
<path d="M246.0 218.0C248.0 215.5 252.7 207.3 258.0 203.0C263.3 198.7 274.7 193.8 278.0 192.0" fill="none" stroke="#7e7e7e" stroke-width="7.0" stroke-linecap="round" stroke-linejoin="round" filter="url(#bl4)" opacity="0.8"/>
<path d="M645.0 218.0C643.0 215.5 638.3 207.3 633.0 203.0C627.7 198.7 616.3 193.8 613.0 192.0" fill="none" stroke="#7e7e7e" stroke-width="7.0" stroke-linecap="round" stroke-linejoin="round" filter="url(#bl4)" opacity="0.8"/>
<path d="M330.0 185.0C335.0 185.8 350.8 186.7 360.0 190.0C369.2 193.3 380.8 202.5 385.0 205.0" fill="none" stroke="#7e7e7e" stroke-width="7.0" stroke-linecap="round" stroke-linejoin="round" filter="url(#bl4)" opacity="0.8"/>
<path d="M561.0 185.0C556.0 185.8 540.2 186.7 531.0 190.0C521.8 193.3 510.2 202.5 506.0 205.0" fill="none" stroke="#7e7e7e" stroke-width="7.0" stroke-linecap="round" stroke-linejoin="round" filter="url(#bl4)" opacity="0.8"/>
<ellipse cx="474" cy="222" rx="13" ry="40" fill="#6a6a6a" filter="url(#bl6)" opacity="0.9"/>
<ellipse cx="468" cy="180" rx="18" ry="14" fill="#737373" filter="url(#bl6)" opacity="0.9"/>
<ellipse cx="404" cy="232" rx="7" ry="18" fill="#6e6e6e" filter="url(#bl6)" opacity="0.9"/>
<ellipse cx="590" cy="207" rx="14" ry="8" fill="#6e6e6e" filter="url(#bl6)" opacity="0.9"/>
<ellipse cx="300" cy="252" rx="8" ry="5" fill="#6e6e6e" filter="url(#bl6)" opacity="0.9"/>
<ellipse cx="672" cy="300" rx="12" ry="9" fill="#6b6b6b" filter="url(#bl6)" opacity="0.9"/>
<ellipse cx="690" cy="410" rx="10" ry="30" fill="#6c6c6c" filter="url(#bl6)" opacity="0.9"/>
<ellipse cx="198" cy="425" rx="10" ry="30" fill="#6c6c6c" filter="url(#bl6)" opacity="0.9"/>
<ellipse cx="232" cy="338" rx="7" ry="5" fill="#6b6b6b" filter="url(#bl6)" opacity="0.9"/>
<path d="M170.0 418.0C174.3 407.0 188.3 413.7 196.0 414.0C203.7 414.3 211.0 416.0 216.0 420.0C221.0 424.0 226.0 431.0 226.0 438.0C226.0 445.0 221.0 456.0 216.0 462.0C211.0 468.0 203.7 471.0 196.0 474.0C188.3 477.0 174.3 489.3 170.0 480.0C165.7 470.7 165.7 429.0 170.0 418.0Z" fill="#585858" filter="url(#bl6)" opacity="0.95"/>
<path d="M170.0 432.0C173.7 431.3 185.0 427.7 192.0 428.0C199.0 428.3 207.0 431.0 212.0 434.0C217.0 437.0 220.3 444.0 222.0 446.0" fill="none" stroke="#4b4b4b" stroke-width="2.2" stroke-linecap="round" stroke-linejoin="round" filter="url(#bl1)" opacity="0.9"/>
<path d="M170.0 446.0C173.3 445.7 183.7 443.0 190.0 444.0C196.3 445.0 205.0 450.7 208.0 452.0" fill="none" stroke="#4b4b4b" stroke-width="2.2" stroke-linecap="round" stroke-linejoin="round" filter="url(#bl1)" opacity="0.9"/>
<path d="M170.0 460.0C173.0 460.3 182.3 460.7 188.0 462.0C193.7 463.3 201.3 467.0 204.0 468.0" fill="none" stroke="#4b4b4b" stroke-width="2.2" stroke-linecap="round" stroke-linejoin="round" filter="url(#bl1)" opacity="0.9"/>
<path d="M172.0 424.0C176.0 423.3 189.0 420.0 196.0 420.0C203.0 420.0 211.0 423.3 214.0 424.0" fill="none" stroke="#4b4b4b" stroke-width="2.2" stroke-linecap="round" stroke-linejoin="round" filter="url(#bl1)" opacity="0.9"/>
<path d="M721.0 418.0C716.7 407.0 702.7 413.7 695.0 414.0C687.3 414.3 680.0 416.0 675.0 420.0C670.0 424.0 665.0 431.0 665.0 438.0C665.0 445.0 670.0 456.0 675.0 462.0C680.0 468.0 687.3 471.0 695.0 474.0C702.7 477.0 716.7 489.3 721.0 480.0C725.3 470.7 725.3 429.0 721.0 418.0Z" fill="#585858" filter="url(#bl6)" opacity="0.95"/>
<path d="M721.0 432.0C717.3 431.3 706.0 427.7 699.0 428.0C692.0 428.3 684.0 431.0 679.0 434.0C674.0 437.0 670.7 444.0 669.0 446.0" fill="none" stroke="#4b4b4b" stroke-width="2.2" stroke-linecap="round" stroke-linejoin="round" filter="url(#bl1)" opacity="0.9"/>
<path d="M721.0 446.0C717.7 445.7 707.3 443.0 701.0 444.0C694.7 445.0 686.0 450.7 683.0 452.0" fill="none" stroke="#4b4b4b" stroke-width="2.2" stroke-linecap="round" stroke-linejoin="round" filter="url(#bl1)" opacity="0.9"/>
<path d="M721.0 460.0C718.0 460.3 708.7 460.7 703.0 462.0C697.3 463.3 689.7 467.0 687.0 468.0" fill="none" stroke="#4b4b4b" stroke-width="2.2" stroke-linecap="round" stroke-linejoin="round" filter="url(#bl1)" opacity="0.9"/>
<path d="M719.0 424.0C715.0 423.3 702.0 420.0 695.0 420.0C688.0 420.0 680.0 423.3 677.0 424.0" fill="none" stroke="#4b4b4b" stroke-width="2.2" stroke-linecap="round" stroke-linejoin="round" filter="url(#bl1)" opacity="0.9"/>
</g>
<circle cx="445.5" cy="476.7" r="369.2" fill="none" stroke="#666666" stroke-width="1.3"/>
<clipPath id="aSheath"><path d="M170.0 480.0C172.3 479.5 179.0 479.0 184.0 477.0C189.0 475.0 195.0 472.5 200.0 468.0C205.0 463.5 210.5 456.3 214.0 450.0C217.5 443.7 219.2 437.2 221.0 430.0C222.8 422.8 223.8 412.8 225.0 407.0C226.2 401.2 226.2 399.5 228.0 395.0C229.8 390.5 233.7 384.6 236.0 380.0C238.3 375.4 242.8 368.3 242.0 367.5C241.2 366.7 235.1 373.6 231.3 375.1C227.5 376.6 222.7 377.4 219.1 376.6C215.5 375.8 211.8 373.0 210.0 370.5C208.2 368.0 207.2 364.2 208.5 361.4C209.8 358.6 214.6 356.6 217.6 353.8C220.6 351.0 223.6 348.2 226.7 344.7C229.8 341.1 233.9 336.6 235.9 332.5C237.9 328.4 240.2 321.8 238.9 320.3C237.6 318.8 231.9 323.8 228.3 323.3C224.8 322.8 219.9 320.1 217.6 317.3C215.3 314.5 214.2 309.9 214.5 306.6C214.8 303.3 216.5 300.0 219.1 297.5C221.7 295.0 226.0 293.4 229.8 291.4C233.6 289.4 237.9 286.7 242.0 285.3C246.1 283.9 250.5 284.0 254.1 283.0C257.6 282.0 263.3 280.8 263.3 279.2C263.3 277.6 256.4 275.6 254.1 273.1C251.8 270.6 250.2 267.3 249.6 264.0C249.0 260.7 249.0 256.4 250.3 253.3C251.6 250.2 254.0 247.3 257.2 245.7C260.4 244.0 264.8 244.0 269.4 243.4C274.0 242.8 280.0 243.2 284.6 241.9C289.2 240.6 296.3 238.0 296.8 235.8C297.3 233.6 289.1 231.6 287.6 228.9C286.1 226.2 286.1 223.1 287.6 219.8C289.1 216.5 292.2 211.9 296.8 209.1C301.4 206.3 308.3 203.7 315.0 203.0C321.7 202.3 330.5 203.7 336.9 205.2C343.3 206.7 348.0 209.7 353.6 211.9C359.2 214.1 364.7 216.1 370.3 218.6C375.9 221.1 383.2 219.7 387.0 226.9C390.8 234.1 391.2 255.0 393.0 262.0C394.8 269.0 395.1 267.2 398.0 269.0C400.9 270.8 406.2 273.2 410.2 273.0C414.2 272.8 418.7 270.8 422.0 268.0C425.3 265.2 428.0 260.5 430.0 256.0C432.0 251.5 432.3 245.0 434.0 241.0C435.7 237.0 437.3 232.2 440.0 232.0C442.7 231.8 449.0 236.7 450.0 240.0C451.0 243.3 446.2 248.0 446.0 252.0C445.8 256.0 447.2 260.8 449.0 264.0C450.8 267.2 453.9 269.2 457.0 271.0C460.1 272.8 461.6 274.2 467.6 274.5C473.6 274.8 487.1 273.9 493.0 273.0C498.9 272.1 502.5 272.0 503.3 269.0C504.1 266.0 500.2 259.8 498.0 255.0C495.8 250.2 489.7 244.5 490.0 240.0C490.3 235.5 495.4 230.5 500.0 228.0C504.6 225.5 511.9 224.5 517.7 225.2C523.5 225.9 528.0 230.8 535.0 232.0C542.0 233.2 552.0 233.0 560.0 232.2C568.0 231.3 575.3 227.8 582.9 226.9C590.5 226.0 599.4 226.2 605.7 226.9C612.0 227.7 616.6 229.0 620.9 231.4C625.2 233.8 629.6 237.6 631.6 241.3C633.6 245.0 631.3 249.7 633.1 253.5C634.9 257.3 638.7 260.9 642.3 264.2C645.9 267.5 651.7 270.0 654.5 273.3C657.3 276.6 659.3 280.7 659.0 284.0C658.7 287.3 656.1 291.1 652.9 293.1C649.7 295.1 641.8 293.2 640.0 296.0C638.2 298.8 639.9 305.5 642.3 309.9C644.7 314.2 650.5 317.8 654.5 322.1C658.5 326.4 662.6 332.5 666.6 335.8C670.6 339.1 675.0 340.9 678.8 341.9C682.6 342.9 686.7 340.4 689.5 341.9C692.3 343.4 694.8 347.4 695.6 351.0C696.4 354.6 695.9 359.9 694.1 363.2C692.3 366.5 689.0 369.5 684.9 370.8C680.8 372.1 674.7 370.1 669.7 370.8C664.7 371.5 657.0 371.7 655.0 375.0C653.0 378.3 655.6 384.7 657.5 390.6C659.4 396.5 663.2 403.8 666.6 410.4C670.0 417.0 674.1 423.7 678.0 430.0C681.9 436.3 685.8 442.3 690.0 448.0C694.2 453.7 697.8 459.0 703.0 464.0C708.2 469.0 718.0 475.7 721.0 478.0L721 640 L170 640Z"/></clipPath>
<g clip-path="url(#aSheath)">
<path d="M170.0 480.0C172.3 479.5 179.0 479.0 184.0 477.0C189.0 475.0 195.0 472.5 200.0 468.0C205.0 463.5 210.5 456.3 214.0 450.0C217.5 443.7 219.2 437.2 221.0 430.0C222.8 422.8 223.8 412.8 225.0 407.0C226.2 401.2 226.2 399.5 228.0 395.0C229.8 390.5 233.7 384.6 236.0 380.0C238.3 375.4 242.8 368.3 242.0 367.5C241.2 366.7 235.1 373.6 231.3 375.1C227.5 376.6 222.7 377.4 219.1 376.6C215.5 375.8 211.8 373.0 210.0 370.5C208.2 368.0 207.2 364.2 208.5 361.4C209.8 358.6 214.6 356.6 217.6 353.8C220.6 351.0 223.6 348.2 226.7 344.7C229.8 341.1 233.9 336.6 235.9 332.5C237.9 328.4 240.2 321.8 238.9 320.3C237.6 318.8 231.9 323.8 228.3 323.3C224.8 322.8 219.9 320.1 217.6 317.3C215.3 314.5 214.2 309.9 214.5 306.6C214.8 303.3 216.5 300.0 219.1 297.5C221.7 295.0 226.0 293.4 229.8 291.4C233.6 289.4 237.9 286.7 242.0 285.3C246.1 283.9 250.5 284.0 254.1 283.0C257.6 282.0 263.3 280.8 263.3 279.2C263.3 277.6 256.4 275.6 254.1 273.1C251.8 270.6 250.2 267.3 249.6 264.0C249.0 260.7 249.0 256.4 250.3 253.3C251.6 250.2 254.0 247.3 257.2 245.7C260.4 244.0 264.8 244.0 269.4 243.4C274.0 242.8 280.0 243.2 284.6 241.9C289.2 240.6 296.3 238.0 296.8 235.8C297.3 233.6 289.1 231.6 287.6 228.9C286.1 226.2 286.1 223.1 287.6 219.8C289.1 216.5 292.2 211.9 296.8 209.1C301.4 206.3 308.3 203.7 315.0 203.0C321.7 202.3 330.5 203.7 336.9 205.2C343.3 206.7 348.0 209.7 353.6 211.9C359.2 214.1 364.7 216.1 370.3 218.6C375.9 221.1 383.2 219.7 387.0 226.9C390.8 234.1 391.2 255.0 393.0 262.0C394.8 269.0 395.1 267.2 398.0 269.0C400.9 270.8 406.2 273.2 410.2 273.0C414.2 272.8 418.7 270.8 422.0 268.0C425.3 265.2 428.0 260.5 430.0 256.0C432.0 251.5 432.3 245.0 434.0 241.0C435.7 237.0 437.3 232.2 440.0 232.0C442.7 231.8 449.0 236.7 450.0 240.0C451.0 243.3 446.2 248.0 446.0 252.0C445.8 256.0 447.2 260.8 449.0 264.0C450.8 267.2 453.9 269.2 457.0 271.0C460.1 272.8 461.6 274.2 467.6 274.5C473.6 274.8 487.1 273.9 493.0 273.0C498.9 272.1 502.5 272.0 503.3 269.0C504.1 266.0 500.2 259.8 498.0 255.0C495.8 250.2 489.7 244.5 490.0 240.0C490.3 235.5 495.4 230.5 500.0 228.0C504.6 225.5 511.9 224.5 517.7 225.2C523.5 225.9 528.0 230.8 535.0 232.0C542.0 233.2 552.0 233.0 560.0 232.2C568.0 231.3 575.3 227.8 582.9 226.9C590.5 226.0 599.4 226.2 605.7 226.9C612.0 227.7 616.6 229.0 620.9 231.4C625.2 233.8 629.6 237.6 631.6 241.3C633.6 245.0 631.3 249.7 633.1 253.5C634.9 257.3 638.7 260.9 642.3 264.2C645.9 267.5 651.7 270.0 654.5 273.3C657.3 276.6 659.3 280.7 659.0 284.0C658.7 287.3 656.1 291.1 652.9 293.1C649.7 295.1 641.8 293.2 640.0 296.0C638.2 298.8 639.9 305.5 642.3 309.9C644.7 314.2 650.5 317.8 654.5 322.1C658.5 326.4 662.6 332.5 666.6 335.8C670.6 339.1 675.0 340.9 678.8 341.9C682.6 342.9 686.7 340.4 689.5 341.9C692.3 343.4 694.8 347.4 695.6 351.0C696.4 354.6 695.9 359.9 694.1 363.2C692.3 366.5 689.0 369.5 684.9 370.8C680.8 372.1 674.7 370.1 669.7 370.8C664.7 371.5 657.0 371.7 655.0 375.0C653.0 378.3 655.6 384.7 657.5 390.6C659.4 396.5 663.2 403.8 666.6 410.4C670.0 417.0 674.1 423.7 678.0 430.0C681.9 436.3 685.8 442.3 690.0 448.0C694.2 453.7 697.8 459.0 703.0 464.0C708.2 469.0 718.0 475.7 721.0 478.0L721 640 L170 640Z" fill="#757575"/>
<path d="M287.6 219.8C289.1 216.5 292.2 211.9 296.8 209.1C301.4 206.3 308.3 203.7 315.0 203.0C321.7 202.3 330.5 203.7 336.9 205.2C343.3 206.7 348.0 209.7 353.6 211.9C359.2 214.1 364.7 216.1 370.3 218.6C375.9 221.1 386.7 224.7 387.0 226.9C387.3 229.1 378.2 231.5 372.0 232.0C365.8 232.5 357.0 230.0 350.0 230.0C343.0 230.0 336.3 231.0 330.0 232.0C323.7 233.0 317.5 235.4 312.0 236.0C306.5 236.6 300.9 237.0 296.8 235.8C292.7 234.6 289.1 231.6 287.6 228.9C286.1 226.2 286.1 223.1 287.6 219.8Z" fill="#9e9e9e" filter="url(#bl2)" opacity="0.95"/>
<path d="M250.3 253.3C251.6 250.2 254.0 247.3 257.2 245.7C260.4 244.0 264.8 244.0 269.4 243.4C274.0 242.8 280.0 243.0 284.6 241.9C289.2 240.8 294.2 236.3 296.8 237.0C299.4 237.7 301.1 242.5 300.0 246.0C298.9 249.5 293.7 254.0 290.0 258.0C286.3 262.0 282.4 266.5 278.0 270.0C273.6 273.5 267.3 278.7 263.3 279.2C259.3 279.7 256.4 275.6 254.1 273.1C251.8 270.6 250.2 267.3 249.6 264.0C249.0 260.7 249.0 256.4 250.3 253.3Z" fill="#9e9e9e" filter="url(#bl2)" opacity="0.95"/>
<path d="M214.5 306.6C214.8 303.3 216.5 300.0 219.1 297.5C221.7 295.0 226.0 293.4 229.8 291.4C233.6 289.4 237.9 286.7 242.0 285.3C246.1 283.9 250.5 283.7 254.1 283.0C257.6 282.3 260.7 280.8 263.3 281.0C265.9 281.2 270.2 281.3 270.0 284.0C269.8 286.7 265.1 292.5 262.0 297.0C258.9 301.5 254.4 306.7 251.1 311.2C247.8 315.7 245.8 322.0 242.0 324.0C238.2 326.0 232.4 324.4 228.3 323.3C224.2 322.2 219.9 320.1 217.6 317.3C215.3 314.5 214.2 309.9 214.5 306.6Z" fill="#9c9c9c" filter="url(#bl2)" opacity="0.95"/>
<path d="M208.5 361.4C209.8 358.6 214.6 356.6 217.6 353.8C220.6 351.0 223.6 348.2 226.7 344.7C229.8 341.1 233.5 335.3 235.9 332.5C238.3 329.7 241.0 325.9 241.0 328.0C241.0 330.1 235.5 340.3 236.0 345.0C236.5 349.7 243.0 352.2 244.0 356.0C245.0 359.8 244.1 364.3 242.0 367.5C239.9 370.7 235.1 373.6 231.3 375.1C227.5 376.6 222.7 377.4 219.1 376.6C215.5 375.8 211.8 373.0 210.0 370.5C208.2 368.0 207.2 364.2 208.5 361.4Z" fill="#9c9c9c" filter="url(#bl2)" opacity="0.95"/>
<path d="M633.1 253.5C635.3 252.2 638.7 260.9 642.3 264.2C645.9 267.5 651.7 270.0 654.5 273.3C657.3 276.6 659.3 280.7 659.0 284.0C658.7 287.3 655.7 291.6 652.9 293.1C650.1 294.6 645.8 293.6 642.3 293.1C638.8 292.6 634.2 293.5 632.0 290.0C629.8 286.5 628.8 278.1 629.0 272.0C629.2 265.9 630.9 254.8 633.1 253.5Z" fill="#9e9e9e" filter="url(#bl2)" opacity="0.95"/>
<path d="M666.6 335.8C670.4 336.1 675.0 340.9 678.8 341.9C682.6 342.9 686.7 340.4 689.5 341.9C692.3 343.4 694.8 347.4 695.6 351.0C696.4 354.6 695.9 359.9 694.1 363.2C692.3 366.5 689.0 369.5 684.9 370.8C680.8 372.1 674.2 371.6 669.7 370.8C665.2 370.0 661.0 369.1 658.0 366.0C655.0 362.9 652.3 356.3 652.0 352.0C651.7 347.7 653.6 342.7 656.0 340.0C658.4 337.3 662.8 335.5 666.6 335.8Z" fill="#9c9c9c" filter="url(#bl2)" opacity="0.95"/>
<g filter="url(#bl0_6)">
<ellipse cx="230.6" cy="333.7" rx="10.5" ry="4.3" transform="rotate(-50 230.6 333.7)" fill="#4c4c4c" stroke="#919191" stroke-width="2.6"/>
<ellipse cx="342.5" cy="213.5" rx="6" ry="5.3" transform="rotate(-36 342.5 213.5)" fill="#5c5c5c" stroke="#919191" stroke-width="3.7"/>
<ellipse cx="249" cy="359.9" rx="6.5" ry="4.1" transform="rotate(-89 249 359.9)" fill="#6b6b6b" stroke="#a1a1a1" stroke-width="3.7"/>
<ellipse cx="336.8" cy="228.3" rx="6.9" ry="3.3" transform="rotate(-26 336.8 228.3)" fill="#4c4c4c" stroke="#a1a1a1" stroke-width="3.7"/>
<ellipse cx="227.6" cy="424.7" rx="9.7" ry="2.9" transform="rotate(-48 227.6 424.7)" fill="#5c5c5c" stroke="#919191" stroke-width="2.7"/>
<ellipse cx="239.2" cy="337.6" rx="9.3" ry="3.5" transform="rotate(-80 239.2 337.6)" fill="#6b6b6b" stroke="#969696" stroke-width="3.1"/>
<ellipse cx="308.5" cy="257.2" rx="8.1" ry="3.5" transform="rotate(-93 308.5 257.2)" fill="#3d3d3d" stroke="#8a8a8a" stroke-width="3.1"/>
<ellipse cx="259.2" cy="378.3" rx="7.3" ry="3.9" transform="rotate(-76 259.2 378.3)" fill="#4a4a4a" stroke="#a1a1a1" stroke-width="2.6"/>
<ellipse cx="206.4" cy="485.4" rx="8.8" ry="4.5" transform="rotate(-4 206.4 485.4)" fill="#3d3d3d" stroke="#919191" stroke-width="3.6"/>
<ellipse cx="354.5" cy="227.5" rx="10.1" ry="3.4" transform="rotate(3 354.5 227.5)" fill="#4c4c4c" stroke="#adadad" stroke-width="3.5"/>
<ellipse cx="186.3" cy="495.3" rx="8.6" ry="5.2" transform="rotate(-23 186.3 495.3)" fill="#6b6b6b" stroke="#919191" stroke-width="3.5"/>
<ellipse cx="239.7" cy="335.9" rx="5.8" ry="3.4" transform="rotate(-60 239.7 335.9)" fill="#4a4a4a" stroke="#919191" stroke-width="2.8"/>
<ellipse cx="270.9" cy="267.2" rx="10" ry="3.9" transform="rotate(-72 270.9 267.2)" fill="#707070" stroke="#919191" stroke-width="2.6"/>
<ellipse cx="288.4" cy="309.8" rx="9.1" ry="2.8" transform="rotate(-106 288.4 309.8)" fill="#5c5c5c" stroke="#919191" stroke-width="3.4"/>
<ellipse cx="170" cy="489.1" rx="9.2" ry="4.5" transform="rotate(-15 170 489.1)" fill="#4a4a4a" stroke="#969696" stroke-width="3.8"/>
<ellipse cx="198.2" cy="515.1" rx="5.4" ry="3.1" transform="rotate(-32 198.2 515.1)" fill="#3d3d3d" stroke="#8a8a8a" stroke-width="3.2"/>
<ellipse cx="229.6" cy="410" rx="7.9" ry="3.3" transform="rotate(-64 229.6 410)" fill="#4c4c4c" stroke="#adadad" stroke-width="2.6"/>
<ellipse cx="288.5" cy="339.2" rx="10.6" ry="3.1" transform="rotate(-114 288.5 339.2)" fill="#6b6b6b" stroke="#8a8a8a" stroke-width="3.7"/>
<ellipse cx="256" cy="369.9" rx="9.6" ry="3.7" transform="rotate(-82 256 369.9)" fill="#4a4a4a" stroke="#a1a1a1" stroke-width="3.1"/>
<ellipse cx="262.2" cy="288.3" rx="8.6" ry="2.8" transform="rotate(-77 262.2 288.3)" fill="#545454" stroke="#a1a1a1" stroke-width="3.6"/>
<ellipse cx="273.1" cy="351.9" rx="7.7" ry="4.8" transform="rotate(-85 273.1 351.9)" fill="#707070" stroke="#919191" stroke-width="2.7"/>
<ellipse cx="239" cy="420.3" rx="8.1" ry="2.8" transform="rotate(-33 239 420.3)" fill="#4a4a4a" stroke="#919191" stroke-width="3.5"/>
<ellipse cx="294" cy="310.4" rx="8.6" ry="4.2" transform="rotate(-61 294 310.4)" fill="#4c4c4c" stroke="#919191" stroke-width="3.5"/>
<ellipse cx="284.8" cy="301" rx="10.5" ry="4.8" transform="rotate(-73 284.8 301)" fill="#6b6b6b" stroke="#969696" stroke-width="3.5"/>
<ellipse cx="256.7" cy="286.3" rx="10.4" ry="5.2" transform="rotate(-73 256.7 286.3)" fill="#545454" stroke="#a1a1a1" stroke-width="3.5"/>
<ellipse cx="321.8" cy="251.6" rx="6.2" ry="3.3" transform="rotate(-16 321.8 251.6)" fill="#707070" stroke="#8a8a8a" stroke-width="2.8"/>
<ellipse cx="249.7" cy="436.8" rx="10.3" ry="5.5" transform="rotate(-22 249.7 436.8)" fill="#4a4a4a" stroke="#919191" stroke-width="2.5"/>
<ellipse cx="242.3" cy="427.8" rx="6.8" ry="3.4" transform="rotate(-50 242.3 427.8)" fill="#5c5c5c" stroke="#969696" stroke-width="2.7"/>
<ellipse cx="177.4" cy="520.6" rx="8.1" ry="4.1" transform="rotate(-22 177.4 520.6)" fill="#707070" stroke="#8a8a8a" stroke-width="2.6"/>
<ellipse cx="305.1" cy="267.1" rx="5.1" ry="4.5" transform="rotate(-74 305.1 267.1)" fill="#4c4c4c" stroke="#919191" stroke-width="2.8"/>
<ellipse cx="213.4" cy="461.7" rx="5.3" ry="3.3" transform="rotate(-13 213.4 461.7)" fill="#4c4c4c" stroke="#a1a1a1" stroke-width="2.5"/>
<ellipse cx="270.2" cy="419.5" rx="10.4" ry="4.3" transform="rotate(-73 270.2 419.5)" fill="#6b6b6b" stroke="#919191" stroke-width="3.8"/>
<ellipse cx="178.7" cy="486.7" rx="11" ry="4.5" transform="rotate(11 178.7 486.7)" fill="#3d3d3d" stroke="#adadad" stroke-width="2.5"/>
<ellipse cx="170" cy="515.6" rx="10.6" ry="3.2" transform="rotate(-7 170 515.6)" fill="#707070" stroke="#8a8a8a" stroke-width="2.6"/>
<ellipse cx="355.4" cy="251" rx="8.7" ry="3" transform="rotate(15 355.4 251)" fill="#4c4c4c" stroke="#919191" stroke-width="3"/>
<ellipse cx="234.9" cy="342.6" rx="8.6" ry="3.8" transform="rotate(-85 234.9 342.6)" fill="#707070" stroke="#adadad" stroke-width="3.3"/>
<ellipse cx="259.9" cy="382.5" rx="9" ry="4.8" transform="rotate(-100 259.9 382.5)" fill="#6b6b6b" stroke="#adadad" stroke-width="3.5"/>
<ellipse cx="275" cy="309" rx="8.8" ry="3.9" transform="rotate(-78 275 309)" fill="#4a4a4a" stroke="#adadad" stroke-width="2.5"/>
<ellipse cx="301.7" cy="231.5" rx="7.4" ry="4.4" transform="rotate(-75 301.7 231.5)" fill="#5c5c5c" stroke="#969696" stroke-width="2.8"/>
<ellipse cx="257.5" cy="436.3" rx="9.3" ry="3.5" transform="rotate(-41 257.5 436.3)" fill="#707070" stroke="#8a8a8a" stroke-width="2.5"/>
<ellipse cx="260.9" cy="442.3" rx="9.3" ry="4.1" transform="rotate(-28 260.9 442.3)" fill="#3d3d3d" stroke="#8a8a8a" stroke-width="3.5"/>
<ellipse cx="249.3" cy="345.3" rx="5.7" ry="4.5" transform="rotate(-76 249.3 345.3)" fill="#5c5c5c" stroke="#adadad" stroke-width="2.7"/>
<ellipse cx="216" cy="500.8" rx="8.2" ry="3.1" transform="rotate(-16 216 500.8)" fill="#6b6b6b" stroke="#8a8a8a" stroke-width="3.3"/>
<ellipse cx="303.3" cy="294.1" rx="6.6" ry="4.4" transform="rotate(-92 303.3 294.1)" fill="#4c4c4c" stroke="#919191" stroke-width="3.5"/>
<ellipse cx="193.3" cy="498.1" rx="11" ry="5.4" transform="rotate(7 193.3 498.1)" fill="#3d3d3d" stroke="#adadad" stroke-width="2.7"/>
<ellipse cx="267.4" cy="367.5" rx="10.4" ry="4.9" transform="rotate(-72 267.4 367.5)" fill="#4c4c4c" stroke="#8a8a8a" stroke-width="2.9"/>
<ellipse cx="284" cy="346" rx="9.1" ry="4.3" transform="rotate(-79 284 346)" fill="#4c4c4c" stroke="#919191" stroke-width="3.3"/>
<ellipse cx="270.8" cy="360.8" rx="10.7" ry="4.2" transform="rotate(-71 270.8 360.8)" fill="#545454" stroke="#8a8a8a" stroke-width="2.7"/>
<ellipse cx="292.4" cy="246.9" rx="5.4" ry="3.5" transform="rotate(-92 292.4 246.9)" fill="#5c5c5c" stroke="#919191" stroke-width="3.3"/>
<ellipse cx="253.5" cy="355.3" rx="8.2" ry="3" transform="rotate(-97 253.5 355.3)" fill="#545454" stroke="#919191" stroke-width="3.3"/>
<ellipse cx="216.3" cy="483.7" rx="8.8" ry="3.8" transform="rotate(-14 216.3 483.7)" fill="#545454" stroke="#adadad" stroke-width="2.7"/>
<ellipse cx="243.6" cy="480.1" rx="9.5" ry="5.1" transform="rotate(-69 243.6 480.1)" fill="#707070" stroke="#919191" stroke-width="2.6"/>
<ellipse cx="351.7" cy="214.6" rx="9.6" ry="3.4" transform="rotate(-27 351.7 214.6)" fill="#3d3d3d" stroke="#adadad" stroke-width="2.8"/>
<ellipse cx="315.1" cy="229.3" rx="5.9" ry="5.1" transform="rotate(-69 315.1 229.3)" fill="#6b6b6b" stroke="#919191" stroke-width="2.8"/>
<ellipse cx="340.5" cy="251.1" rx="8.9" ry="4.4" transform="rotate(-12 340.5 251.1)" fill="#707070" stroke="#8a8a8a" stroke-width="2.9"/>
<ellipse cx="231.1" cy="458.3" rx="7.6" ry="4.3" transform="rotate(-12 231.1 458.3)" fill="#4a4a4a" stroke="#adadad" stroke-width="3"/>
<ellipse cx="337.1" cy="227.6" rx="6.9" ry="5.3" transform="rotate(-27 337.1 227.6)" fill="#4a4a4a" stroke="#919191" stroke-width="3.4"/>
<ellipse cx="290.3" cy="347.1" rx="9.6" ry="3.7" transform="rotate(-67 290.3 347.1)" fill="#5c5c5c" stroke="#919191" stroke-width="2.7"/>
<ellipse cx="224.9" cy="485" rx="10.4" ry="3.7" transform="rotate(-34 224.9 485)" fill="#6b6b6b" stroke="#919191" stroke-width="3.2"/>
<ellipse cx="254.8" cy="464.6" rx="8.2" ry="5.5" transform="rotate(-47 254.8 464.6)" fill="#707070" stroke="#919191" stroke-width="2.7"/>
<ellipse cx="277.1" cy="309.8" rx="5.5" ry="5" transform="rotate(-116 277.1 309.8)" fill="#545454" stroke="#adadad" stroke-width="3.3"/>
<ellipse cx="242.9" cy="429.4" rx="9.8" ry="4.8" transform="rotate(-63 242.9 429.4)" fill="#707070" stroke="#adadad" stroke-width="2.9"/>
<ellipse cx="198.3" cy="513.5" rx="8.5" ry="3.3" transform="rotate(-29 198.3 513.5)" fill="#3d3d3d" stroke="#8a8a8a" stroke-width="3"/>
<ellipse cx="269.2" cy="302.9" rx="5.1" ry="4.2" transform="rotate(-86 269.2 302.9)" fill="#3d3d3d" stroke="#969696" stroke-width="3.2"/>
<ellipse cx="170" cy="499" rx="10.1" ry="3.9" transform="rotate(-1 170 499)" fill="#5c5c5c" stroke="#919191" stroke-width="2.8"/>
<ellipse cx="244.2" cy="379.8" rx="7" ry="3.5" transform="rotate(-96 244.2 379.8)" fill="#4a4a4a" stroke="#adadad" stroke-width="2.8"/>
<ellipse cx="220.3" cy="438.2" rx="8.9" ry="3.1" transform="rotate(-12 220.3 438.2)" fill="#5c5c5c" stroke="#919191" stroke-width="3"/>
<ellipse cx="227.8" cy="321.2" rx="9.6" ry="4.2" transform="rotate(-64 227.8 321.2)" fill="#707070" stroke="#919191" stroke-width="3"/>
<ellipse cx="220.4" cy="444.8" rx="10.8" ry="4.6" transform="rotate(-31 220.4 444.8)" fill="#3d3d3d" stroke="#969696" stroke-width="3.2"/>
<ellipse cx="229.1" cy="439.2" rx="8.7" ry="2.9" transform="rotate(-16 229.1 439.2)" fill="#5c5c5c" stroke="#919191" stroke-width="3.8"/>
<ellipse cx="218.2" cy="383.1" rx="5" ry="3.8" transform="rotate(-79 218.2 383.1)" fill="#3d3d3d" stroke="#969696" stroke-width="3.1"/>
<ellipse cx="322.2" cy="227.1" rx="5.1" ry="3.8" transform="rotate(-95 322.2 227.1)" fill="#5c5c5c" stroke="#adadad" stroke-width="2.6"/>
<ellipse cx="299.7" cy="282.4" rx="6.5" ry="3.2" transform="rotate(-80 299.7 282.4)" fill="#545454" stroke="#919191" stroke-width="3.4"/>
<ellipse cx="293.2" cy="247.5" rx="7.3" ry="4.2" transform="rotate(-100 293.2 247.5)" fill="#545454" stroke="#969696" stroke-width="3.6"/>
<ellipse cx="283.7" cy="345.4" rx="9.4" ry="3.6" transform="rotate(-104 283.7 345.4)" fill="#6b6b6b" stroke="#919191" stroke-width="3.7"/>
<ellipse cx="238.7" cy="350.8" rx="7.8" ry="4.4" transform="rotate(-50 238.7 350.8)" fill="#3d3d3d" stroke="#919191" stroke-width="2.5"/>
<ellipse cx="286.7" cy="335.7" rx="6.1" ry="3.4" transform="rotate(-104 286.7 335.7)" fill="#545454" stroke="#8a8a8a" stroke-width="3.4"/>
<ellipse cx="191.8" cy="515.4" rx="6.1" ry="3.6" transform="rotate(-25 191.8 515.4)" fill="#707070" stroke="#8a8a8a" stroke-width="3.5"/>
<ellipse cx="186" cy="499" rx="8.3" ry="5" transform="rotate(-7 186 499)" fill="#5c5c5c" stroke="#969696" stroke-width="2.8"/>
<ellipse cx="251" cy="443.8" rx="9" ry="4.9" transform="rotate(-68 251 443.8)" fill="#6b6b6b" stroke="#a1a1a1" stroke-width="3.6"/>
<ellipse cx="301.2" cy="276" rx="6.3" ry="3.2" transform="rotate(-70 301.2 276)" fill="#4a4a4a" stroke="#a1a1a1" stroke-width="3.8"/>
<ellipse cx="246.8" cy="339.6" rx="6.6" ry="5.5" transform="rotate(-64 246.8 339.6)" fill="#3d3d3d" stroke="#adadad" stroke-width="2.7"/>
<ellipse cx="271.3" cy="306" rx="7.8" ry="3.8" transform="rotate(-71 271.3 306)" fill="#3d3d3d" stroke="#919191" stroke-width="3.4"/>
<ellipse cx="275.7" cy="356.5" rx="5.9" ry="3.7" transform="rotate(-93 275.7 356.5)" fill="#707070" stroke="#8a8a8a" stroke-width="3.6"/>
<ellipse cx="289.9" cy="234.1" rx="8.8" ry="5.5" transform="rotate(-101 289.9 234.1)" fill="#545454" stroke="#adadad" stroke-width="3.1"/>
<ellipse cx="220.9" cy="489.9" rx="9.6" ry="2.8" transform="rotate(-12 220.9 489.9)" fill="#4c4c4c" stroke="#919191" stroke-width="3.6"/>
<ellipse cx="268.2" cy="311.6" rx="7.1" ry="4.5" transform="rotate(-83 268.2 311.6)" fill="#4a4a4a" stroke="#919191" stroke-width="3.6"/>
<ellipse cx="266.3" cy="288.8" rx="10.7" ry="4.4" transform="rotate(-68 266.3 288.8)" fill="#4a4a4a" stroke="#a1a1a1" stroke-width="2.8"/>
<ellipse cx="250.5" cy="445.7" rx="6.2" ry="4.6" transform="rotate(-32 250.5 445.7)" fill="#707070" stroke="#8a8a8a" stroke-width="3"/>
<ellipse cx="358.9" cy="246.6" rx="7.5" ry="4.1" transform="rotate(15 358.9 246.6)" fill="#4c4c4c" stroke="#8a8a8a" stroke-width="3.7"/>
<ellipse cx="177.4" cy="520.7" rx="7.4" ry="4.3" transform="rotate(22 177.4 520.7)" fill="#6b6b6b" stroke="#919191" stroke-width="3.3"/>
<ellipse cx="260.8" cy="372.5" rx="5.4" ry="3.2" transform="rotate(-64 260.8 372.5)" fill="#6b6b6b" stroke="#919191" stroke-width="3.3"/>
<ellipse cx="191.5" cy="518.2" rx="7.7" ry="5.1" transform="rotate(5 191.5 518.2)" fill="#5c5c5c" stroke="#8a8a8a" stroke-width="3.1"/>
<ellipse cx="243.5" cy="430.8" rx="5.7" ry="4.9" transform="rotate(-35 243.5 430.8)" fill="#4c4c4c" stroke="#969696" stroke-width="3.6"/>
<ellipse cx="265.1" cy="284.2" rx="5.9" ry="4.5" transform="rotate(-63 265.1 284.2)" fill="#4c4c4c" stroke="#919191" stroke-width="3.4"/>
<ellipse cx="205.7" cy="495.2" rx="7.4" ry="4.6" transform="rotate(-20 205.7 495.2)" fill="#3d3d3d" stroke="#969696" stroke-width="2.7"/>
<ellipse cx="357.2" cy="237.6" rx="6.9" ry="3.5" transform="rotate(-12 357.2 237.6)" fill="#6b6b6b" stroke="#919191" stroke-width="3.3"/>
<ellipse cx="231.2" cy="389.3" rx="7.3" ry="3.1" transform="rotate(-48 231.2 389.3)" fill="#3d3d3d" stroke="#a1a1a1" stroke-width="2.6"/>
<ellipse cx="295.3" cy="273" rx="6.2" ry="2.9" transform="rotate(-89 295.3 273)" fill="#545454" stroke="#919191" stroke-width="3.4"/>
<ellipse cx="220.6" cy="464.3" rx="5.2" ry="5.5" transform="rotate(-34 220.6 464.3)" fill="#545454" stroke="#919191" stroke-width="3.5"/>
<ellipse cx="178.1" cy="503" rx="7.6" ry="4.2" transform="rotate(2 178.1 503)" fill="#3d3d3d" stroke="#969696" stroke-width="3.5"/>
<ellipse cx="235.4" cy="379.7" rx="7" ry="3.9" transform="rotate(-95 235.4 379.7)" fill="#707070" stroke="#a1a1a1" stroke-width="3"/>
<ellipse cx="184.4" cy="521.3" rx="9.7" ry="4.6" transform="rotate(0 184.4 521.3)" fill="#3d3d3d" stroke="#919191" stroke-width="2.4"/>
<ellipse cx="288.2" cy="321.6" rx="7.1" ry="4.6" transform="rotate(-111 288.2 321.6)" fill="#545454" stroke="#919191" stroke-width="2.9"/>
<ellipse cx="201.3" cy="480.6" rx="9.7" ry="5" transform="rotate(0 201.3 480.6)" fill="#6b6b6b" stroke="#adadad" stroke-width="2.6"/>
<ellipse cx="251.3" cy="438.3" rx="6.4" ry="4.5" transform="rotate(-55 251.3 438.3)" fill="#4c4c4c" stroke="#919191" stroke-width="3.2"/>
<ellipse cx="198.3" cy="514.3" rx="11" ry="4.7" transform="rotate(18 198.3 514.3)" fill="#4c4c4c" stroke="#8a8a8a" stroke-width="3.2"/>
<ellipse cx="272.4" cy="336.7" rx="9" ry="4.9" transform="rotate(-100 272.4 336.7)" fill="#5c5c5c" stroke="#919191" stroke-width="3.1"/>
<ellipse cx="187.3" cy="481.5" rx="7" ry="3" transform="rotate(15 187.3 481.5)" fill="#5c5c5c" stroke="#a1a1a1" stroke-width="2.8"/>
<ellipse cx="291.8" cy="240.7" rx="10.8" ry="3.2" transform="rotate(-64 291.8 240.7)" fill="#707070" stroke="#919191" stroke-width="3.2"/>
<ellipse cx="220.4" cy="450" rx="8.4" ry="3.5" transform="rotate(-7 220.4 450)" fill="#4a4a4a" stroke="#adadad" stroke-width="3.8"/>
<ellipse cx="362.2" cy="242.7" rx="5.9" ry="5.3" transform="rotate(-38 362.2 242.7)" fill="#4c4c4c" stroke="#969696" stroke-width="3.4"/>
<ellipse cx="207" cy="477.2" rx="9.5" ry="3.8" transform="rotate(-25 207 477.2)" fill="#545454" stroke="#969696" stroke-width="3.2"/>
<ellipse cx="348.9" cy="249.5" rx="5.2" ry="3.3" transform="rotate(17 348.9 249.5)" fill="#707070" stroke="#8a8a8a" stroke-width="3.7"/>
<ellipse cx="334" cy="235.7" rx="9.5" ry="5.1" transform="rotate(-10 334 235.7)" fill="#6b6b6b" stroke="#919191" stroke-width="3.3"/>
<ellipse cx="308.5" cy="266.6" rx="6.2" ry="4.1" transform="rotate(-97 308.5 266.6)" fill="#545454" stroke="#8a8a8a" stroke-width="2.9"/>
<ellipse cx="246.2" cy="335.1" rx="6" ry="4.2" transform="rotate(-93 246.2 335.1)" fill="#707070" stroke="#adadad" stroke-width="3.2"/>
<ellipse cx="264.5" cy="285.2" rx="8.9" ry="2.9" transform="rotate(-79 264.5 285.2)" fill="#4a4a4a" stroke="#969696" stroke-width="2.6"/>
<ellipse cx="250.3" cy="376.1" rx="5.6" ry="3.7" transform="rotate(-50 250.3 376.1)" fill="#4c4c4c" stroke="#a1a1a1" stroke-width="3.7"/>
<ellipse cx="286.9" cy="336.1" rx="6.7" ry="5.2" transform="rotate(-91 286.9 336.1)" fill="#3d3d3d" stroke="#919191" stroke-width="3.7"/>
<ellipse cx="206.8" cy="479.7" rx="7.6" ry="4.3" transform="rotate(16 206.8 479.7)" fill="#3d3d3d" stroke="#a1a1a1" stroke-width="3.1"/>
<ellipse cx="240.3" cy="385.6" rx="7.6" ry="5.2" transform="rotate(-55 240.3 385.6)" fill="#4c4c4c" stroke="#adadad" stroke-width="2.5"/>
<ellipse cx="297.9" cy="273.8" rx="9.4" ry="4.4" transform="rotate(-73 297.9 273.8)" fill="#707070" stroke="#adadad" stroke-width="2.8"/>
<ellipse cx="292.4" cy="243.4" rx="6.5" ry="5.1" transform="rotate(-102 292.4 243.4)" fill="#4a4a4a" stroke="#adadad" stroke-width="3.6"/>
<ellipse cx="249.7" cy="360.8" rx="9.2" ry="4.2" transform="rotate(-95 249.7 360.8)" fill="#707070" stroke="#919191" stroke-width="2.8"/>
<ellipse cx="328.5" cy="229.4" rx="10.3" ry="5.5" transform="rotate(-20 328.5 229.4)" fill="#545454" stroke="#a1a1a1" stroke-width="3.6"/>
<ellipse cx="250.3" cy="311" rx="8.3" ry="4.3" transform="rotate(-99 250.3 311)" fill="#3d3d3d" stroke="#969696" stroke-width="3.3"/>
<ellipse cx="177.8" cy="510.2" rx="5.7" ry="3" transform="rotate(-5 177.8 510.2)" fill="#4c4c4c" stroke="#a1a1a1" stroke-width="2.6"/>
<ellipse cx="206.1" cy="488.6" rx="10.7" ry="2.8" transform="rotate(-20 206.1 488.6)" fill="#4c4c4c" stroke="#adadad" stroke-width="2.8"/>
<ellipse cx="237.3" cy="387.3" rx="5.4" ry="5.2" transform="rotate(-27 237.3 387.3)" fill="#545454" stroke="#969696" stroke-width="3"/>
<ellipse cx="216.5" cy="476.9" rx="8.5" ry="2.9" transform="rotate(-39 216.5 476.9)" fill="#5c5c5c" stroke="#969696" stroke-width="3.7"/>
<ellipse cx="264.6" cy="285.4" rx="8" ry="5.3" transform="rotate(-61 264.6 285.4)" fill="#6b6b6b" stroke="#969696" stroke-width="3.1"/>
<ellipse cx="263.2" cy="361.1" rx="6.8" ry="5.3" transform="rotate(-57 263.2 361.1)" fill="#545454" stroke="#919191" stroke-width="2.7"/>
<ellipse cx="170" cy="509" rx="5.1" ry="4.5" transform="rotate(5 170 509)" fill="#707070" stroke="#969696" stroke-width="3.2"/>
<ellipse cx="223.4" cy="450.4" rx="6.4" ry="5.4" transform="rotate(-3 223.4 450.4)" fill="#5c5c5c" stroke="#adadad" stroke-width="3.3"/>
<ellipse cx="233.4" cy="441.1" rx="9.9" ry="5.4" transform="rotate(-55 233.4 441.1)" fill="#5c5c5c" stroke="#969696" stroke-width="3"/>
<ellipse cx="294.1" cy="222.8" rx="9.2" ry="5.3" transform="rotate(-90 294.1 222.8)" fill="#6b6b6b" stroke="#919191" stroke-width="2.5"/>
<ellipse cx="273.6" cy="251.3" rx="6.8" ry="4.7" transform="rotate(-106 273.6 251.3)" fill="#3d3d3d" stroke="#919191" stroke-width="2.7"/>
<ellipse cx="229.1" cy="309" rx="9" ry="4.9" transform="rotate(-87 229.1 309)" fill="#4c4c4c" stroke="#919191" stroke-width="3.3"/>
<ellipse cx="238.8" cy="416.4" rx="8.1" ry="5.4" transform="rotate(-33 238.8 416.4)" fill="#4c4c4c" stroke="#919191" stroke-width="2.7"/>
<ellipse cx="251.6" cy="447.4" rx="5.8" ry="4.6" transform="rotate(-47 251.6 447.4)" fill="#6b6b6b" stroke="#8a8a8a" stroke-width="2.5"/>
<ellipse cx="240.4" cy="342.5" rx="8.2" ry="2.9" transform="rotate(-67 240.4 342.5)" fill="#4a4a4a" stroke="#adadad" stroke-width="2.8"/>
<ellipse cx="294" cy="222.2" rx="9.8" ry="3" transform="rotate(-100 294 222.2)" fill="#707070" stroke="#969696" stroke-width="3.5"/>
<ellipse cx="344.5" cy="244.3" rx="6.7" ry="4.3" transform="rotate(-28 344.5 244.3)" fill="#545454" stroke="#8a8a8a" stroke-width="3.7"/>
<ellipse cx="241.5" cy="421.4" rx="7.8" ry="4.8" transform="rotate(-51 241.5 421.4)" fill="#4c4c4c" stroke="#919191" stroke-width="3.7"/>
<ellipse cx="247.9" cy="432.3" rx="6.1" ry="4.3" transform="rotate(-47 247.9 432.3)" fill="#4a4a4a" stroke="#919191" stroke-width="2.9"/>
<ellipse cx="220.7" cy="470.9" rx="5.2" ry="3.6" transform="rotate(-12 220.7 470.9)" fill="#3d3d3d" stroke="#a1a1a1" stroke-width="3.3"/>
<ellipse cx="333.6" cy="212.3" rx="10.7" ry="3.3" transform="rotate(-17 333.6 212.3)" fill="#5c5c5c" stroke="#adadad" stroke-width="2.6"/>
<ellipse cx="186.7" cy="490" rx="6.4" ry="4" transform="rotate(9 186.7 490)" fill="#707070" stroke="#adadad" stroke-width="3.5"/>
<ellipse cx="235.3" cy="394.1" rx="7.9" ry="3.4" transform="rotate(-44 235.3 394.1)" fill="#6b6b6b" stroke="#919191" stroke-width="3.1"/>
<ellipse cx="216.4" cy="480" rx="8.6" ry="4.7" transform="rotate(-8 216.4 480)" fill="#545454" stroke="#919191" stroke-width="3.6"/>
<ellipse cx="232.7" cy="385.4" rx="5.9" ry="2.8" transform="rotate(-48 232.7 385.4)" fill="#6b6b6b" stroke="#919191" stroke-width="3"/>
<ellipse cx="326.6" cy="235.6" rx="6.6" ry="5" transform="rotate(-58 326.6 235.6)" fill="#5c5c5c" stroke="#a1a1a1" stroke-width="3.7"/>
<ellipse cx="272.5" cy="288.4" rx="8.3" ry="4.9" transform="rotate(-103 272.5 288.4)" fill="#5c5c5c" stroke="#adadad" stroke-width="2.6"/>
<ellipse cx="293.2" cy="290.6" rx="5.3" ry="3.6" transform="rotate(-81 293.2 290.6)" fill="#707070" stroke="#969696" stroke-width="3.1"/>
<ellipse cx="332.8" cy="214.9" rx="8.5" ry="3" transform="rotate(-15 332.8 214.9)" fill="#3d3d3d" stroke="#969696" stroke-width="2.6"/>
<ellipse cx="272.4" cy="300.7" rx="6" ry="4.7" transform="rotate(-70 272.4 300.7)" fill="#545454" stroke="#969696" stroke-width="3.5"/>
<ellipse cx="201.8" cy="475.6" rx="7.5" ry="3.8" transform="rotate(-22 201.8 475.6)" fill="#6b6b6b" stroke="#919191" stroke-width="3.8"/>
<ellipse cx="234" cy="389.8" rx="7.9" ry="4.9" transform="rotate(-20 234 389.8)" fill="#545454" stroke="#919191" stroke-width="2.6"/>
<ellipse cx="186.5" cy="491.5" rx="9.5" ry="2.9" transform="rotate(-21 186.5 491.5)" fill="#4c4c4c" stroke="#a1a1a1" stroke-width="3.6"/>
<ellipse cx="241.5" cy="415.4" rx="7.4" ry="3.6" transform="rotate(-53 241.5 415.4)" fill="#4a4a4a" stroke="#919191" stroke-width="2.5"/>
<ellipse cx="229.1" cy="403.7" rx="11" ry="4.9" transform="rotate(-42 229.1 403.7)" fill="#5c5c5c" stroke="#919191" stroke-width="2.7"/>
<ellipse cx="292.6" cy="353" rx="8.3" ry="3.5" transform="rotate(-91 292.6 353)" fill="#4a4a4a" stroke="#919191" stroke-width="3.7"/>
<ellipse cx="220.8" cy="477.4" rx="7" ry="5.4" transform="rotate(-24 220.8 477.4)" fill="#6b6b6b" stroke="#969696" stroke-width="2.5"/>
<ellipse cx="238.7" cy="483.6" rx="8.9" ry="3" transform="rotate(-51 238.7 483.6)" fill="#4c4c4c" stroke="#919191" stroke-width="3.4"/>
<ellipse cx="324.5" cy="242.7" rx="7.8" ry="3.9" transform="rotate(-14 324.5 242.7)" fill="#545454" stroke="#adadad" stroke-width="2.9"/>
<ellipse cx="304.9" cy="265.1" rx="7.5" ry="3.5" transform="rotate(-71 304.9 265.1)" fill="#545454" stroke="#8a8a8a" stroke-width="3.5"/>
<ellipse cx="195.6" cy="473.3" rx="7.4" ry="4.4" transform="rotate(8 195.6 473.3)" fill="#545454" stroke="#a1a1a1" stroke-width="3.1"/>
<ellipse cx="216.4" cy="480.3" rx="9.1" ry="5.1" transform="rotate(-29 216.4 480.3)" fill="#5c5c5c" stroke="#a1a1a1" stroke-width="2.9"/>
<ellipse cx="272" cy="287.2" rx="9.1" ry="3.8" transform="rotate(-101 272 287.2)" fill="#4a4a4a" stroke="#919191" stroke-width="2.4"/>
<ellipse cx="262.4" cy="266.9" rx="6.6" ry="3.9" transform="rotate(-64 262.4 266.9)" fill="#5c5c5c" stroke="#919191" stroke-width="3.4"/>
<ellipse cx="201.1" cy="483" rx="7.2" ry="3.2" transform="rotate(18 201.1 483)" fill="#4a4a4a" stroke="#969696" stroke-width="2.9"/>
<ellipse cx="230.2" cy="414.8" rx="10" ry="3.1" transform="rotate(-13 230.2 414.8)" fill="#5c5c5c" stroke="#919191" stroke-width="3.6"/>
<ellipse cx="252" cy="449.2" rx="10.1" ry="3.8" transform="rotate(-59 252 449.2)" fill="#4a4a4a" stroke="#919191" stroke-width="3.6"/>
<ellipse cx="170" cy="492.4" rx="7.4" ry="3.4" transform="rotate(-32 170 492.4)" fill="#6b6b6b" stroke="#919191" stroke-width="2.6"/>
<ellipse cx="258.9" cy="310" rx="5.2" ry="3.6" transform="rotate(-84 258.9 310)" fill="#545454" stroke="#adadad" stroke-width="3.2"/>
<ellipse cx="232.5" cy="472.1" rx="9.2" ry="3.5" transform="rotate(-18 232.5 472.1)" fill="#4c4c4c" stroke="#919191" stroke-width="3.3"/>
<ellipse cx="303.7" cy="252.2" rx="10" ry="4.2" transform="rotate(-90 303.7 252.2)" fill="#545454" stroke="#919191" stroke-width="2.6"/>
<ellipse cx="290.1" cy="246" rx="7.1" ry="3.1" transform="rotate(-95 290.1 246)" fill="#3d3d3d" stroke="#adadad" stroke-width="3.3"/>
<ellipse cx="250.1" cy="326.6" rx="10.1" ry="4.8" transform="rotate(-81 250.1 326.6)" fill="#4a4a4a" stroke="#919191" stroke-width="2.4"/>
<ellipse cx="301.8" cy="270.1" rx="9" ry="5.3" transform="rotate(-104 301.8 270.1)" fill="#5c5c5c" stroke="#919191" stroke-width="3.4"/>
<ellipse cx="340.3" cy="219.3" rx="10.2" ry="3.4" transform="rotate(-26 340.3 219.3)" fill="#3d3d3d" stroke="#919191" stroke-width="2.5"/>
<ellipse cx="352.1" cy="244.9" rx="7.4" ry="3" transform="rotate(-16 352.1 244.9)" fill="#4a4a4a" stroke="#a1a1a1" stroke-width="2.9"/>
<ellipse cx="242.8" cy="330.1" rx="6.7" ry="3.2" transform="rotate(-79 242.8 330.1)" fill="#5c5c5c" stroke="#a1a1a1" stroke-width="3.1"/>
<ellipse cx="297.2" cy="270.3" rx="9" ry="3.4" transform="rotate(-111 297.2 270.3)" fill="#6b6b6b" stroke="#919191" stroke-width="2.9"/>
<ellipse cx="251.6" cy="366.4" rx="5.9" ry="4.4" transform="rotate(-66 251.6 366.4)" fill="#3d3d3d" stroke="#a1a1a1" stroke-width="3.2"/>
<ellipse cx="259.6" cy="260.9" rx="5.7" ry="5.3" transform="rotate(-65 259.6 260.9)" fill="#707070" stroke="#919191" stroke-width="2.8"/>
<ellipse cx="170" cy="508.6" rx="10.1" ry="3.6" transform="rotate(6 170 508.6)" fill="#707070" stroke="#a1a1a1" stroke-width="3.6"/>
<ellipse cx="274.3" cy="307.3" rx="5.2" ry="3.7" transform="rotate(-96 274.3 307.3)" fill="#4a4a4a" stroke="#919191" stroke-width="2.8"/>
<ellipse cx="241.1" cy="311.9" rx="7.8" ry="4.5" transform="rotate(-54 241.1 311.9)" fill="#5c5c5c" stroke="#919191" stroke-width="2.9"/>
<ellipse cx="240.2" cy="405.3" rx="10.7" ry="4.9" transform="rotate(-48 240.2 405.3)" fill="#5c5c5c" stroke="#adadad" stroke-width="3.3"/>
<ellipse cx="263.6" cy="249.4" rx="7.5" ry="3.5" transform="rotate(-70 263.6 249.4)" fill="#4c4c4c" stroke="#a1a1a1" stroke-width="3.6"/>
<ellipse cx="212.9" cy="469.2" rx="5.2" ry="3.2" transform="rotate(-5 212.9 469.2)" fill="#707070" stroke="#a1a1a1" stroke-width="2.8"/>
<ellipse cx="324.1" cy="217.2" rx="10.9" ry="3.2" transform="rotate(-84 324.1 217.2)" fill="#707070" stroke="#969696" stroke-width="2.7"/>
<ellipse cx="303.2" cy="292.7" rx="8.1" ry="5.3" transform="rotate(-60 303.2 292.7)" fill="#545454" stroke="#8a8a8a" stroke-width="2.4"/>
<ellipse cx="242" cy="384.5" rx="10.1" ry="4.9" transform="rotate(-69 242 384.5)" fill="#707070" stroke="#adadad" stroke-width="3.6"/>
<ellipse cx="208.2" cy="460.9" rx="7.1" ry="5.2" transform="rotate(-16 208.2 460.9)" fill="#6b6b6b" stroke="#969696" stroke-width="3.4"/>
<ellipse cx="248.6" cy="289.8" rx="5.9" ry="3.3" transform="rotate(-99 248.6 289.8)" fill="#5c5c5c" stroke="#a1a1a1" stroke-width="2.9"/>
<ellipse cx="245.5" cy="428.1" rx="8.4" ry="3.8" transform="rotate(-68 245.5 428.1)" fill="#3d3d3d" stroke="#a1a1a1" stroke-width="3.4"/>
<ellipse cx="297.8" cy="247.3" rx="6.4" ry="3.5" transform="rotate(-97 297.8 247.3)" fill="#707070" stroke="#adadad" stroke-width="2.6"/>
<ellipse cx="244" cy="396" rx="5.8" ry="3" transform="rotate(-92 244 396)" fill="#5c5c5c" stroke="#adadad" stroke-width="2.5"/>
<ellipse cx="185.8" cy="502.3" rx="10.1" ry="4.2" transform="rotate(3 185.8 502.3)" fill="#4a4a4a" stroke="#969696" stroke-width="2.5"/>
<ellipse cx="276.1" cy="328.8" rx="7.5" ry="4.1" transform="rotate(-93 276.1 328.8)" fill="#3d3d3d" stroke="#adadad" stroke-width="3"/>
<ellipse cx="243.6" cy="422.4" rx="9.3" ry="3.5" transform="rotate(-36 243.6 422.4)" fill="#6b6b6b" stroke="#a1a1a1" stroke-width="2.9"/>
<ellipse cx="177.6" cy="514.2" rx="9.6" ry="5.1" transform="rotate(12 177.6 514.2)" fill="#3d3d3d" stroke="#919191" stroke-width="3.2"/>
<ellipse cx="334.6" cy="250" rx="9.2" ry="4.5" transform="rotate(-4 334.6 250)" fill="#5c5c5c" stroke="#919191" stroke-width="3.5"/>
<ellipse cx="312.4" cy="261.4" rx="7.3" ry="4.6" transform="rotate(-90 312.4 261.4)" fill="#545454" stroke="#8a8a8a" stroke-width="2.7"/>
<ellipse cx="273.7" cy="339.2" rx="8.5" ry="5.3" transform="rotate(-53 273.7 339.2)" fill="#707070" stroke="#919191" stroke-width="2.6"/>
<ellipse cx="308.4" cy="213" rx="6.5" ry="4.6" transform="rotate(-83 308.4 213)" fill="#707070" stroke="#969696" stroke-width="3.4"/>
<ellipse cx="266.3" cy="376.7" rx="5.9" ry="5.5" transform="rotate(-58 266.3 376.7)" fill="#4a4a4a" stroke="#8a8a8a" stroke-width="2.7"/>
<ellipse cx="243.6" cy="299.1" rx="8.2" ry="5" transform="rotate(-85 243.6 299.1)" fill="#5c5c5c" stroke="#969696" stroke-width="3.7"/>
<ellipse cx="246.3" cy="303.9" rx="7.9" ry="3.8" transform="rotate(-91 246.3 303.9)" fill="#3d3d3d" stroke="#adadad" stroke-width="3.5"/>
<ellipse cx="296.3" cy="278.2" rx="7.4" ry="4.5" transform="rotate(-72 296.3 278.2)" fill="#545454" stroke="#969696" stroke-width="3.8"/>
<ellipse cx="350.3" cy="234.5" rx="9.2" ry="4.3" transform="rotate(6 350.3 234.5)" fill="#5c5c5c" stroke="#a1a1a1" stroke-width="2.6"/>
<ellipse cx="300.6" cy="300.7" rx="5.6" ry="5.3" transform="rotate(-102 300.6 300.7)" fill="#3d3d3d" stroke="#8a8a8a" stroke-width="3.1"/>
<ellipse cx="243.2" cy="434.5" rx="6.9" ry="2.9" transform="rotate(-41 243.2 434.5)" fill="#545454" stroke="#919191" stroke-width="2.6"/>
<ellipse cx="280.5" cy="338.5" rx="6.9" ry="3" transform="rotate(-101 280.5 338.5)" fill="#6b6b6b" stroke="#a1a1a1" stroke-width="3.2"/>
<ellipse cx="295" cy="259.6" rx="5.9" ry="2.8" transform="rotate(-72 295 259.6)" fill="#4a4a4a" stroke="#adadad" stroke-width="3.3"/>
<ellipse cx="226.9" cy="454.9" rx="7" ry="3.2" transform="rotate(-14 226.9 454.9)" fill="#545454" stroke="#919191" stroke-width="3.8"/>
<ellipse cx="333.8" cy="211.7" rx="5.2" ry="3.7" transform="rotate(-30 333.8 211.7)" fill="#707070" stroke="#a1a1a1" stroke-width="3.2"/>
<ellipse cx="249.7" cy="437.2" rx="8.7" ry="5" transform="rotate(-59 249.7 437.2)" fill="#4c4c4c" stroke="#919191" stroke-width="2.7"/>
<ellipse cx="235.9" cy="344.7" rx="6.5" ry="5" transform="rotate(-69 235.9 344.7)" fill="#3d3d3d" stroke="#969696" stroke-width="3.7"/>
<ellipse cx="350.4" cy="217.3" rx="10.1" ry="5.4" transform="rotate(-21 350.4 217.3)" fill="#545454" stroke="#919191" stroke-width="3.3"/>
<ellipse cx="240.2" cy="453.2" rx="5.1" ry="4.3" transform="rotate(-70 240.2 453.2)" fill="#6b6b6b" stroke="#969696" stroke-width="3.1"/>
<ellipse cx="222.4" cy="428.8" rx="10.8" ry="2.8" transform="rotate(-29 222.4 428.8)" fill="#4a4a4a" stroke="#919191" stroke-width="3.5"/>
<ellipse cx="271.4" cy="348.8" rx="6.8" ry="4.2" transform="rotate(-70 271.4 348.8)" fill="#707070" stroke="#a1a1a1" stroke-width="3.5"/>
<ellipse cx="266.2" cy="365.6" rx="7.4" ry="4.7" transform="rotate(-94 266.2 365.6)" fill="#707070" stroke="#8a8a8a" stroke-width="3.7"/>
<ellipse cx="282.3" cy="356.2" rx="8.5" ry="3.4" transform="rotate(-86 282.3 356.2)" fill="#4a4a4a" stroke="#8a8a8a" stroke-width="2.9"/>
<ellipse cx="170" cy="498.8" rx="11" ry="4.5" transform="rotate(-9 170 498.8)" fill="#3d3d3d" stroke="#969696" stroke-width="2.8"/>
<ellipse cx="178.2" cy="500.2" rx="6.9" ry="3.1" transform="rotate(-15 178.2 500.2)" fill="#5c5c5c" stroke="#919191" stroke-width="3.4"/>
<path d="M235.3 482.8Q235.3 477.6 240.5 478.1T245.1 472.5T251.6 467.9" stroke="#6e6e6e" stroke-width="3.3"/>
<path d="M215.8 466.5Q218.8 469.6 220.6 465.7T224 465.8" stroke="#919191" stroke-width="2.9"/>
<path d="M293.2 307.8Q297 304.9 294.4 300.8T295.2 295.1T296 286.3" stroke="#4c4c4c" stroke-width="2.2"/>
<path d="M261.4 435.4Q259.3 432.1 261.3 428.7T260.6 422.3" stroke="#8f8f8f" stroke-width="2.6"/>
<path d="M216.9 475.2Q218.5 472.3 221.8 473T226.6 469.9T230.9 468.4" stroke="#b8b8b8" stroke-width="2.2"/>
<path d="M225.7 456.1Q226.8 452.3 230.6 453.8T235.7 451.6" stroke="#b8b8b8" stroke-width="1.8"/>
<path d="M164.3 508.3Q166.7 505.8 170 506.9T176.2 506.3" stroke="#b0b0b0" stroke-width="2.7"/>
<path d="M183.8 501.7Q187.3 503.7 190 500.7T196.4 498.6T203 497.5" stroke="#919191" stroke-width="1.9"/>
<path d="M203.4 377.4Q207.7 376 208.7 371.5T215.5 364.7T220.6 359.8" stroke="#858585" stroke-width="3.3"/>
<path d="M330.7 214Q335.7 212.6 335.1 207.5T339.1 199.7" stroke="#919191" stroke-width="3.3"/>
<path d="M240.2 481.5Q242.8 480.9 243.4 478.3T246 473.9" stroke="#999999" stroke-width="2"/>
<path d="M223.8 471.7Q225.2 467.8 229 466T235.3 461T240.7 454.5" stroke="#b8b8b8" stroke-width="2.4"/>
<path d="M293.3 251.9Q293.2 247.9 295.8 244.8T299 238.1T299.7 229.9" stroke="#919191" stroke-width="2.7"/>
<path d="M255.2 283Q252.8 280.1 255.5 277.6T256 273.4T255.1 265.8" stroke="#b0b0b0" stroke-width="1.9"/>
<path d="M249.1 378.3Q254.1 376.3 252.4 371.2T257.1 364.4T257.7 356.8" stroke="#b0b0b0" stroke-width="3.2"/>
<path d="M235.5 430.7Q240.2 431.3 242.2 427T248 424.6" stroke="#4a4a4a" stroke-width="3.4"/>
<path d="M300.8 235Q303.8 231.4 301.4 227.5T300.5 219.7" stroke="#919191" stroke-width="3.1"/>
<path d="M223.1 421.7Q224.8 419.1 227.2 421T230 418.8" stroke="#919191" stroke-width="2.3"/>
<path d="M195.1 483.7Q197.8 481.6 201.2 481.8T207 479.8" stroke="#999999" stroke-width="2.8"/>
<path d="M356.7 243.5Q359.2 241.7 362 242.9T367.1 242.5" stroke="#b8b8b8" stroke-width="2.2"/>
<path d="M221.8 425.4Q223.7 421.1 227.5 423.9T232.2 422.5" stroke="#6e6e6e" stroke-width="3.4"/>
<path d="M237.5 298.7Q233.9 295.2 237.7 291.9T237.5 285.8T237.5 278.8" stroke="#b0b0b0" stroke-width="2.8"/>
<path d="M217.3 447.6Q218.9 443.6 223.1 444.1T229 440.3" stroke="#919191" stroke-width="1.8"/>
<path d="M284.4 295.6Q283.1 291.4 286.5 288.7T287.3 281.2" stroke="#6e6e6e" stroke-width="2.8"/>
<path d="M292.9 326.1Q296.2 322.5 291.9 320.1T289.7 315T289.2 309.1" stroke="#919191" stroke-width="3.1"/>
<path d="M266.8 291.9Q268.7 288.4 265.2 286.6T262.2 280" stroke="#b0b0b0" stroke-width="3.2"/>
<path d="M343.4 236.8Q347.1 239.6 349.6 235.7T354.9 233.7" stroke="#999999" stroke-width="3.1"/>
<path d="M297.1 271.2Q294.2 266.7 298.6 263.5T300.6 256.6T302.4 247" stroke="#b0b0b0" stroke-width="3.1"/>
<path d="M226.6 303.3Q226.8 299.9 229.2 297.4T232.3 291.4T234.9 286.1" stroke="#b0b0b0" stroke-width="2.4"/>
<path d="M206.4 506.5Q211.4 508.1 212.8 503T218.6 499.2T224.9 496.4" stroke="#5c5c5c" stroke-width="3"/>
<path d="M295.1 253.2Q291.3 250.1 293 245.5T289.6 239T289.7 231.1" stroke="#b0b0b0" stroke-width="3.2"/>
<path d="M245.8 364.9Q249.5 363.4 248.8 359.6T252.5 352.9" stroke="#4a4a4a" stroke-width="3.2"/>
<path d="M246.8 370.9Q246.2 367.1 248.8 364.3T251.4 357.7T252.3 350.4" stroke="#6e6e6e" stroke-width="2.1"/>
<path d="M252.7 387.1Q255.9 384 252.5 381T251 373.4" stroke="#5c5c5c" stroke-width="2.7"/>
<path d="M244.2 380.1Q249 379.3 247.1 374.9T249.3 369.7T252.8 363" stroke="#4a4a4a" stroke-width="3.2"/>
<path d="M291.7 355.5Q295 353.5 291.9 351.1T293.3 346.3" stroke="#4c4c4c" stroke-width="2.5"/>
<path d="M350.6 252.8Q352.4 251 354.9 251.5T360.6 250.6" stroke="#858585" stroke-width="2.5"/>
<path d="M270.3 302.6Q274.7 300.2 272.9 295.5T275.3 288.3T277.8 281.7" stroke="#858585" stroke-width="3.1"/>
<path d="M228.3 419.7Q229.1 415.6 232.7 413.7T237.2 406.7T242.3 400.2" stroke="#4c4c4c" stroke-width="2"/>
<path d="M286.5 348.9Q283.5 344.8 287.1 341.1T287.1 334.2T287.1 324.2" stroke="#4c4c4c" stroke-width="1.9"/>
<path d="M245.8 447.2Q245.8 443 248.8 440T251.9 431.4T254.7 426.1" stroke="#919191" stroke-width="3.2"/>
<path d="M255.3 376.6Q251.9 372.7 255.1 368.6T254 361.7" stroke="#858585" stroke-width="2.5"/>
<path d="M238.1 404.3Q240.7 401.9 240.8 398.4T242 391.3T245.8 386.6" stroke="#919191" stroke-width="2"/>
<path d="M241.8 441.9Q246 440.5 246.3 436.2T252.2 429.4T254.6 424" stroke="#8f8f8f" stroke-width="3.2"/>
<path d="M212.6 312.5Q216.7 311.4 215.2 307.4T216.4 301.1T219.7 296.3" stroke="#4c4c4c" stroke-width="2.9"/>
<path d="M270.5 420.7Q273.7 417.9 273.3 413.7T275.6 407.4" stroke="#8f8f8f" stroke-width="2.5"/>
<path d="M212.2 454Q213.9 450.4 217.7 451.6T223.2 450.1T230 448" stroke="#6e6e6e" stroke-width="1.9"/>
<path d="M352.3 234.5Q356 232 358.5 235.6T365.3 236.6" stroke="#a8a8a8" stroke-width="2.8"/>
<path d="M239.3 462.5Q240.7 459.6 243.7 458.6T248.3 454.5T253.6 450.4" stroke="#8f8f8f" stroke-width="2.5"/>
<path d="M268.9 269.8Q267 266.9 268.5 263.9T267.2 259.2T266.4 252.3" stroke="#919191" stroke-width="3.1"/>
<path d="M216.1 439Q218.5 435.2 222.8 436.4T230.2 434.1" stroke="#5c5c5c" stroke-width="2.2"/>
<path d="M307.7 264Q311.5 263.3 311.1 259.5T315.3 254.4T318.5 251.7" stroke="#5c5c5c" stroke-width="2.2"/>
<path d="M233.6 376.6Q232.6 371.7 237.7 371.3T242.6 365.8" stroke="#4a4a4a" stroke-width="2.6"/>
<path d="M190.4 512.5Q193.8 512.2 196 509.6T201.8 506.6T205.8 503.3" stroke="#858585" stroke-width="2.5"/>
<path d="M182.2 488.4Q184.5 486.6 186.8 488.6T192.3 488.4" stroke="#919191" stroke-width="2.2"/>
<path d="M239.7 422.3Q243.5 422.1 243.8 418.3T247.7 415.3T252.6 411.5" stroke="#b8b8b8" stroke-width="2.8"/>
<path d="M245.1 403.9Q243.8 401.1 245.3 398.5T246.3 392.4" stroke="#a8a8a8" stroke-width="2.6"/>
<path d="M284.4 367.6Q288.3 367.2 286.2 363.9T288.7 360.7" stroke="#4a4a4a" stroke-width="2.3"/>
<path d="M267.8 401.8Q264.4 398.6 267.1 394.7T267.3 386.9T265.8 380" stroke="#8f8f8f" stroke-width="2.7"/>
<path d="M222.7 382.8Q226.1 382.7 228 380.1T233.2 377.1T239.6 375.8" stroke="#4a4a4a" stroke-width="2.9"/>
<path d="M246.9 467.7Q247.1 462.9 251.7 461.6T255.9 456.5" stroke="#999999" stroke-width="2.6"/>
<path d="M276.3 331.5Q272.6 329.5 274.8 325.9T271.9 321.3" stroke="#919191" stroke-width="2.7"/>
<path d="M297.7 251.9Q296 249.5 298.1 247.7T298.6 243.6" stroke="#4a4a4a" stroke-width="2.4"/>
<path d="M246 466.4Q246.5 461.3 251.7 461.7T255.9 456" stroke="#919191" stroke-width="2.9"/>
<path d="M227.3 316.4Q230 313.1 229 308.9T230.3 300.6" stroke="#919191" stroke-width="2.3"/>
<path d="M300.5 220.8Q302.5 218.7 300.4 216.7T299.3 211.6" stroke="#b0b0b0" stroke-width="2"/>
<path d="M340.6 248.8Q343.6 247.2 346 249.5T351.7 250.7T357.3 250.9" stroke="#5c5c5c" stroke-width="2.5"/>
<path d="M217.1 441.6Q219 438.2 222.8 437.8T230.1 434.9" stroke="#858585" stroke-width="3.2"/>
<path d="M231 485.4Q230.7 482.6 233.5 482.1T236.4 478.2" stroke="#8f8f8f" stroke-width="2.1"/>
<path d="M178 477.5Q180.9 480.7 184.3 478T190.3 478.7T198.1 480.6" stroke="#4c4c4c" stroke-width="3.3"/>
<path d="M333.1 243.7Q335.4 241.9 337.7 243.6T342.4 242.8" stroke="#8f8f8f" stroke-width="3.2"/>
<path d="M247.8 456.2Q252.9 455.6 251.8 450.7T256.9 446" stroke="#4c4c4c" stroke-width="2.9"/>
<path d="M221.6 439.7Q224.4 435 229 438T236.5 435" stroke="#919191" stroke-width="2.9"/>
<path d="M171.1 484.7Q174.8 488.4 178.8 484.9T186.4 485.3" stroke="#919191" stroke-width="2.3"/>
<path d="M275.3 308.8Q271.3 306.3 272.5 301.7T271 295T266.2 287" stroke="#4a4a4a" stroke-width="2.1"/>
<path d="M273.6 384Q277.2 381 273.2 378.6T273.6 372.3T271.3 367.3" stroke="#4c4c4c" stroke-width="3"/>
<path d="M284.5 315.6Q282.4 311.7 285.9 308.9T287.8 303.6T289.7 296.6" stroke="#999999" stroke-width="3"/>
<path d="M275.9 311Q279.6 309.2 278.1 305.3T280.4 299.3T283.4 293.3" stroke="#b8b8b8" stroke-width="2.9"/>
<path d="M291.8 238.8Q287.8 236.3 289.4 231.9T286.3 224.1" stroke="#999999" stroke-width="1.9"/>
<path d="M267.1 313.7Q265.2 311.1 266.7 308.3T266.9 304.2" stroke="#b0b0b0" stroke-width="2.9"/>
<path d="M257.1 385.1Q261.2 382.5 258 378.8T258.6 372.8T258.6 365.5" stroke="#5c5c5c" stroke-width="2"/>
<path d="M316.6 252.1Q319.7 248.8 318.7 244.4T321 238T321.8 229.1" stroke="#b8b8b8" stroke-width="2.6"/>
<path d="M213.6 385.6Q213 382.3 215.6 380.2T216.3 376T218.1 368.6" stroke="#5c5c5c" stroke-width="2.5"/>
<path d="M231.4 410.8Q231.9 406.5 236.2 407.3T239.7 404.7T244.7 399.1" stroke="#858585" stroke-width="1.9"/>
<path d="M232.7 421Q231.6 417 235.5 415.8T237.3 410.1" stroke="#919191" stroke-width="3.4"/>
<path d="M221.5 431.2Q224.8 430.3 225.6 427T229.5 421.6T233.8 417.4" stroke="#919191" stroke-width="3.1"/>
<path d="M218.8 441.5Q223 442.3 225.7 439T231.1 436" stroke="#858585" stroke-width="3.4"/>
<path d="M272.8 397.8Q270.3 395.6 271.6 392.4T270.7 386.7" stroke="#919191" stroke-width="2.7"/>
<path d="M248.8 456.6Q252.1 456.6 252.8 453.4T257.3 451.4" stroke="#5c5c5c" stroke-width="1.9"/>
<path d="M233.7 389.5Q237.2 388.5 238.2 385T243.4 380.9" stroke="#b0b0b0" stroke-width="2.8"/>
<path d="M245.1 418.5Q246.4 415.2 249.7 413.7T255.5 408.4T259.4 405.3" stroke="#b8b8b8" stroke-width="3.2"/>
<path d="M159.5 483.8Q163.6 484.3 166.5 481.4T172.8 479.3T179.8 476.7" stroke="#4a4a4a" stroke-width="1.9"/>
<path d="M299.6 297Q302.1 294.3 299 292.5T298.7 287.1" stroke="#5c5c5c" stroke-width="2.5"/>
<path d="M300.2 283Q302.8 280.4 301.3 277T303.5 270.1" stroke="#919191" stroke-width="2.7"/>
<path d="M215.9 398.6Q217.1 395.3 220.3 393.8T225.2 388.9T229.3 382.7" stroke="#b8b8b8" stroke-width="2.5"/>
<path d="M229.8 479.8Q233.4 478.5 234.9 475T240.4 469.5T245.1 464.6" stroke="#8f8f8f" stroke-width="3"/>
<path d="M278.2 314.2Q276.5 310.7 280.1 309T283.3 302.7T284.2 299.2" stroke="#6e6e6e" stroke-width="2.5"/>
<path d="M231.1 367.9Q233.7 366 233.4 362.8T236.1 357.3T239.3 351.5" stroke="#999999" stroke-width="2.9"/>
<path d="M261.4 393.9Q265.3 392.7 264.8 388.6T267 383.7T270.2 377.2" stroke="#8f8f8f" stroke-width="1.8"/>
<path d="M212.1 475.3Q215.9 474.2 217.8 470.8T224.1 467.5T230.5 461.6" stroke="#999999" stroke-width="2.8"/>
<path d="M200.6 491.4Q204.2 488.6 208 491.1T215.9 492.2T222.1 491.2" stroke="#b8b8b8" stroke-width="2.8"/>
<path d="M299.1 278.7Q302.2 276.7 300.9 273.3T303.9 266.8" stroke="#6e6e6e" stroke-width="2.2"/>
<path d="M242.9 337.3Q241.1 334 244.5 332.5T246.9 327" stroke="#4c4c4c" stroke-width="2.5"/>
<path d="M245.6 454.4Q247.6 450.8 251.6 450.2T259 446.5" stroke="#4c4c4c" stroke-width="3.2"/>
<path d="M334.7 244.4Q338.9 244.5 342.4 242.3T350.7 239.2T356.8 238" stroke="#919191" stroke-width="2.8"/>
<path d="M322.6 255.3Q324.3 251.4 328.4 250.4T333.3 244.1" stroke="#999999" stroke-width="3.2"/>
<path d="M280.3 291.5Q278.2 289.4 278.9 286.5T278.1 281.8" stroke="#6e6e6e" stroke-width="2"/>
<path d="M253.3 363.3Q249.9 360.1 251.9 355.9T250 347.4" stroke="#b8b8b8" stroke-width="3"/>
<path d="M296.7 268.2Q300.3 265 296.2 262.6T296.9 257.8T296.1 252.7" stroke="#919191" stroke-width="2.1"/>
<path d="M239.5 437.3Q238 432.6 242.8 431.8T244.9 427.6" stroke="#6e6e6e" stroke-width="3.3"/>
<path d="M194.3 499.4Q196.8 497.7 199.7 498.4T206.5 498.4" stroke="#4a4a4a" stroke-width="2.2"/>
<path d="M244.7 426.7Q248.1 425.3 246.9 421.7T249.2 417.9T251.6 411.2" stroke="#4c4c4c" stroke-width="2.2"/>
<path d="M236.9 354.6Q241.1 352.3 239.7 347.8T241.3 339.8" stroke="#5c5c5c" stroke-width="2.1"/>
<path d="M243.6 444.3Q248.2 442.7 248.1 437.7T251.7 432.6" stroke="#858585" stroke-width="2.8"/>
<path d="M301.2 310Q298.9 307.5 301.5 305.3T302.7 301.5" stroke="#999999" stroke-width="3.1"/>
<path d="M280.4 322.5Q283 318.6 279.9 315.2T278.9 308.4" stroke="#858585" stroke-width="2.4"/>
<path d="M259.2 384.9Q262 383.1 261.6 379.8T263.4 375.2T265 369.2" stroke="#b8b8b8" stroke-width="2.7"/>
<path d="M259.9 293Q261.5 289.1 259.3 285.5T257.7 278.3T259.3 269.1" stroke="#999999" stroke-width="2.2"/>
<path d="M244.6 433.2Q249.2 433.1 248.2 428.7T250.9 423.5" stroke="#6e6e6e" stroke-width="2.5"/>
<path d="M243.9 439.1Q243.2 435.2 246.9 433.4T250.7 427.7" stroke="#b0b0b0" stroke-width="1.8"/>
<path d="M323.1 214.9Q327.1 214.4 325.3 210.8T327.3 207" stroke="#858585" stroke-width="2.3"/>
<path d="M303.3 243.1Q305.2 240.1 302.5 237.8T302 233.2T301.4 225.9" stroke="#919191" stroke-width="2.3"/>
<path d="M260.6 316.8Q262.9 314.1 259.9 312.1T259 306.4" stroke="#5c5c5c" stroke-width="3.4"/>
<path d="M223.3 327.6Q224.6 324.1 222.2 321.3T219.8 313.9" stroke="#4a4a4a" stroke-width="2.3"/>
<path d="M202.4 470.3Q204.5 467.3 207.6 469.4T213.4 469" stroke="#919191" stroke-width="2.7"/>
<path d="M173.7 508.8Q176.5 509 177.9 506.6T183.5 503.9" stroke="#6e6e6e" stroke-width="2.5"/>
<path d="M293.6 261.5Q291.3 258.5 294.3 256.2T293.9 250.4" stroke="#6e6e6e" stroke-width="2.5"/>
<path d="M294.4 291.2Q296.6 289 296.3 285.9T297.5 281.5T300.4 275.9" stroke="#6e6e6e" stroke-width="2.5"/>
<path d="M358.2 229.6Q362 229.9 363.4 226.4T368.6 223.3T374.3 220.2" stroke="#4c4c4c" stroke-width="2.7"/>
<path d="M329.9 252.1Q332.4 255.7 333.9 251.6T336.8 252" stroke="#6e6e6e" stroke-width="3.4"/>
<path d="M284.9 324.7Q281.4 321.4 285 318.2T285.5 311.4T285 306.6" stroke="#999999" stroke-width="1.9"/>
<path d="M192.1 500.5Q196.2 501 199.7 498.7T207.7 497.6" stroke="#919191" stroke-width="3"/>
<path d="M240.3 364.6Q240.8 360.6 243.3 357.4T246.3 351.6T250.4 344.4" stroke="#858585" stroke-width="2.9"/>
<path d="M234.9 336.2Q237.2 334.2 235.2 331.9T234.2 327.3" stroke="#999999" stroke-width="3.3"/>
<path d="M287.6 341Q289.3 338.7 287.2 336.8T285.8 332.8" stroke="#8f8f8f" stroke-width="3.1"/>
<path d="M232.5 386.9Q235.8 385.2 236.6 381.6T241.5 375.3" stroke="#858585" stroke-width="3.1"/>
<path d="M307.3 249Q309.9 246.7 308.5 243.5T310.6 236.6" stroke="#919191" stroke-width="2.6"/>
<path d="M318.6 249.4Q319 244.4 324.1 244T330.9 238.8" stroke="#919191" stroke-width="3.3"/>
<path d="M258.5 314Q254.5 311.5 258.1 308.6T256.7 302.7" stroke="#919191" stroke-width="2.5"/>
<path d="M182.4 515.1Q185.8 514.2 188.5 516.4T194.7 516.4T200.2 518.4" stroke="#4a4a4a" stroke-width="2.5"/>
<path d="M237.6 349.9Q240.4 346.5 236.6 344.2T236.3 337.9T233.8 331.3" stroke="#919191" stroke-width="1.9"/>
<path d="M305.1 232.2Q305.2 228.6 308.4 227T311.4 221.7" stroke="#858585" stroke-width="1.9"/>
<path d="M233.1 438.8Q237.1 436.7 237.6 432.2T241.4 425.1" stroke="#4a4a4a" stroke-width="2"/>
<path d="M281.3 342.9Q284.7 340 282.7 336.1T282.7 329.4T284.6 322.2" stroke="#919191" stroke-width="2.4"/>
<path d="M232.3 368.4Q234.2 365.6 233.5 362.4T234.4 357.7T236.5 351.2" stroke="#4c4c4c" stroke-width="2"/>
<path d="M258.2 350.4Q256.6 346 260 342.9T262.7 336.5" stroke="#b0b0b0" stroke-width="1.9"/>
<path d="M287.7 242.6Q286.1 239.1 289.6 237.4T290.4 230.8T293.6 228.2" stroke="#4a4a4a" stroke-width="2.2"/>
<path d="M165.2 516.6Q167.2 519.8 170 517.3T174.3 519.2" stroke="#6e6e6e" stroke-width="2.4"/>
<path d="M271.4 279.8Q269.2 275.9 271.3 272T271.5 264.8T269.9 256.2" stroke="#b0b0b0" stroke-width="2.2"/>
<path d="M305.8 225.6Q310.1 225.5 308.4 221.5T310.9 216.8" stroke="#999999" stroke-width="2.9"/>
<path d="M239.5 406.4Q240 402.9 243.4 402.6T246.2 398.2" stroke="#919191" stroke-width="1.8"/>
<path d="M295.8 269.5Q294.1 266.6 295.9 263.7T296.2 257.4" stroke="#4c4c4c" stroke-width="3.4"/>
<path d="M333.6 245.9Q336.8 245 339.6 246.9T347.1 249.2T352.2 247.7" stroke="#8f8f8f" stroke-width="2"/>
<path d="M266.6 394Q264.3 390.5 265.6 386.6T265.9 379.9T263.3 372.6" stroke="#919191" stroke-width="3"/>
<path d="M229.2 366.2Q226.9 361.7 231.6 359.9T234.8 352.6T235.8 348.7" stroke="#4c4c4c" stroke-width="2.1"/>
<path d="M323.2 213.9Q325.7 209.2 330.5 211.5T338.8 209.4T344 207.5" stroke="#919191" stroke-width="3.1"/>
<path d="M173.1 518.4Q175.2 519.8 177.5 518.7T183 520.5" stroke="#919191" stroke-width="2.5"/>
<path d="M255.3 368Q257.8 365.8 256.6 362.6T259.3 357.9" stroke="#5c5c5c" stroke-width="2.4"/>
<path d="M245.9 294.2Q244.8 290.2 247 286.6T248.1 277.8" stroke="#858585" stroke-width="1.8"/>
<path d="M303.7 233Q299.4 230.2 301.8 225.7T300.9 218.6T296.9 212" stroke="#858585" stroke-width="2.9"/>
<path d="M210.8 377.4Q213.5 375.5 212.6 372.3T214.8 366.7" stroke="#4a4a4a" stroke-width="3.4"/>
<path d="M289.5 353.4Q290.6 350.5 289.4 347.8T288.1 343.4T290.3 336.4" stroke="#5c5c5c" stroke-width="3"/>
<path d="M283.3 344.9Q281.5 341.2 285.1 339.3T286.5 332.1T289.7 328.3" stroke="#4a4a4a" stroke-width="3.4"/>
<path d="M293.2 315.4Q294.6 312.7 293.8 309.8T295.5 304.7" stroke="#4a4a4a" stroke-width="2.9"/>
<path d="M260.8 355.7Q264.3 354.1 264.4 350.2T267.2 345.2" stroke="#4c4c4c" stroke-width="2"/>
<path d="M229.9 380.4Q226.9 376.9 230.3 373.8T230.2 365.8T231.4 361.1" stroke="#b0b0b0" stroke-width="2.7"/>
<path d="M241.9 415.7Q242.8 412.7 245.3 411T248.1 406.2" stroke="#b0b0b0" stroke-width="2.6"/>
<path d="M269.9 400.9Q268.2 397.5 270.6 394.5T272.6 389T272.7 383.3" stroke="#8f8f8f" stroke-width="2"/>
<path d="M232.1 434.4Q232.6 430.9 235.2 428.6T239.3 424.2T242.2 415.8" stroke="#b0b0b0" stroke-width="2.7"/>
<path d="M220.5 454.6Q224.9 454.3 226.5 450.1T234 444.4" stroke="#4a4a4a" stroke-width="2.5"/>
<path d="M267.6 394.2Q268.2 390.8 266.6 387.7T265.4 380.9T265.6 376.1" stroke="#919191" stroke-width="2.7"/>
<path d="M339.2 252.6Q341.3 247.8 346.1 249.9T351.8 247.4T358.6 243.2" stroke="#8f8f8f" stroke-width="3.3"/>
<path d="M330.8 233.8Q331.8 229.7 335.8 231T339.7 229.1" stroke="#999999" stroke-width="3"/>
<path d="M213.2 431.4Q217.6 431.5 219.3 427.4T225.8 422T231.3 421" stroke="#6e6e6e" stroke-width="2.3"/>
<path d="M271.8 365Q271.2 361.2 274.2 359T276.4 353.2T278.4 346.5" stroke="#999999" stroke-width="3.2"/>
<path d="M266.4 291.5Q263.7 289.7 265.4 286.9T263.1 281.1" stroke="#b8b8b8" stroke-width="3.4"/>
<path d="M339.6 224.1Q343.3 221.4 347.4 223.4T354.8 222.4" stroke="#4a4a4a" stroke-width="3.4"/>
<path d="M211.2 484.1Q214.6 484.1 216.4 481.2T221.5 478.1" stroke="#b0b0b0" stroke-width="2.4"/>
<path d="M163.6 515.6Q167.1 516.6 170 514.5T175.9 513.8" stroke="#8f8f8f" stroke-width="2.6"/>
<path d="M312.6 223Q312.3 219.4 315.1 217.1T318.3 210.5T319.1 206.7" stroke="#a8a8a8" stroke-width="3.3"/>
<path d="M291.9 246.9Q290.5 244.2 291.5 241.4T289.8 235.2T289.4 231.4" stroke="#a8a8a8" stroke-width="2.4"/>
<path d="M259.9 420.1Q263 417.9 264.3 414.3T269.7 407.6T272.6 402" stroke="#919191" stroke-width="2"/>
<path d="M250.5 328.7Q253.6 326.3 253.4 322.4T256 316.9T257.7 309.9" stroke="#919191" stroke-width="2.7"/>
<path d="M270.4 420.1Q273.6 416.4 270.9 412.4T271.3 404T272 395.7" stroke="#6e6e6e" stroke-width="2.9"/>
<path d="M213.8 390.1Q212.2 386 215.5 383T217.1 376.7T220.4 368.1" stroke="#858585" stroke-width="1.9"/>
<path d="M263.1 324.5Q263.8 320.4 261.4 317T258.4 310.4T258.3 302" stroke="#6e6e6e" stroke-width="2"/>
<path d="M338.2 221.9Q340.9 221.3 340.6 218.5T344.1 216.6" stroke="#5c5c5c" stroke-width="2.8"/>
<path d="M254.2 394.7Q256.5 392 256 388.5T258.9 382.9" stroke="#4a4a4a" stroke-width="3.1"/>
<path d="M194.1 504.2Q197.6 502.2 201.4 503.3T209.8 501.9T215.2 501.5" stroke="#6e6e6e" stroke-width="2.5"/>
<path d="M280.9 367.8Q279.5 363.7 281.8 360T284.1 352.9T284.8 345.5" stroke="#6e6e6e" stroke-width="2.2"/>
<path d="M356.1 238.9Q359.4 235.4 361.6 239.6T367.6 240.5T372.9 240.7" stroke="#4a4a4a" stroke-width="3.4"/>
<path d="M351.7 239.5Q355.9 239 358.5 235.7T365.3 232.7" stroke="#858585" stroke-width="3.3"/>
<path d="M264.2 253.6Q265.6 250.3 262.7 248.1T259.9 241.5T258.4 236.9" stroke="#919191" stroke-width="2"/>
<path d="M255.7 295.6Q259.6 293.1 256.5 289.7T256.6 284.9T258.3 278.4" stroke="#919191" stroke-width="2.8"/>
<path d="M264.9 284.4Q262.3 283 263.6 280.4T261.2 275.1" stroke="#919191" stroke-width="2.1"/>
<path d="M341 247.4Q343.5 250 346.6 248.3T351.3 247.8T356.3 251.1" stroke="#8f8f8f" stroke-width="3.2"/>
<path d="M280.8 313Q282.5 309.7 280.1 306.9T278.6 302.2T278.9 295.4" stroke="#999999" stroke-width="2.7"/>
<path d="M290 257.1Q289.4 253.4 292.2 250.8T295.5 244T297.9 238.4" stroke="#b0b0b0" stroke-width="2.2"/>
<path d="M240.2 441.8Q240.3 438 243.8 439.5T246.6 435.9" stroke="#5c5c5c" stroke-width="2.1"/>
<path d="M238.8 345.7Q242.3 343.5 239.3 340.6T241.2 336.4" stroke="#5c5c5c" stroke-width="3.1"/>
<path d="M255 401.8Q252.7 397.7 257.2 396.3T258.9 390.5T261.8 384.6" stroke="#999999" stroke-width="2.8"/>
<path d="M261.4 389.1Q262.7 385.7 260.8 382.7T260 377.2T259.7 369.8" stroke="#999999" stroke-width="2.8"/>
<path d="M211.6 506.2Q213.8 504.7 215.9 506.2T219.6 506.5" stroke="#4c4c4c" stroke-width="2.3"/>
<path d="M318.7 234.6Q321.1 231 325.3 230.7T331.9 225.9T339.5 221.7" stroke="#919191" stroke-width="2.2"/>
<path d="M217 456.9Q220.7 456.4 223.5 454T230.6 451.5T237 449.3" stroke="#b0b0b0" stroke-width="3.1"/>
<path d="M278.4 343.9Q276.7 340.8 278.7 338T278.3 332.7T279.7 327.5" stroke="#6e6e6e" stroke-width="2.8"/>
<path d="M316 256.8Q315.3 253.1 317.7 250.3T319.3 245T321.1 236.9" stroke="#4c4c4c" stroke-width="2"/>
<path d="M205.1 467.9Q209.1 471.7 213 467.8T219.8 466.3" stroke="#4c4c4c" stroke-width="2.7"/>
<path d="M179.8 505.7Q181.7 509.7 185.4 507.4T192 509.5" stroke="#4a4a4a" stroke-width="2.4"/>
<path d="M217.4 314.1Q221.5 311.8 218.7 308.1T220 302.8" stroke="#4c4c4c" stroke-width="3"/>
<path d="M249.6 316.5Q247.3 314 249.1 311.1T247.6 306.4T247.1 300.4" stroke="#858585" stroke-width="3.4"/>
<path d="M233.9 328.3Q236.9 325.8 235.2 322.3T237.7 315T238.6 311.7" stroke="#919191" stroke-width="3.2"/>
<path d="M252.5 403.8Q248.9 400.1 252.3 396.3T252.1 388.9" stroke="#b8b8b8" stroke-width="3.1"/>
<path d="M203.3 510.2Q207.3 509.7 210.4 512.3T217 514.4" stroke="#4a4a4a" stroke-width="2.7"/>
<path d="M278.1 327.6Q280.2 324.7 278.2 321.7T277.4 315" stroke="#5c5c5c" stroke-width="2.4"/>
<path d="M242.1 437.9Q243.3 433.2 248.1 433T253.1 428.5" stroke="#b0b0b0" stroke-width="2.9"/>
<path d="M259.8 295.4Q263.3 293.2 262.6 289.1T266.8 283.1" stroke="#b8b8b8" stroke-width="2.8"/>
<path d="M316.6 247.2Q318 243.1 322.3 242.6T328.1 238.3T334 235" stroke="#858585" stroke-width="3"/>
<path d="M259.6 290.8Q258.3 287.3 259.9 283.9T261.4 278.5" stroke="#919191" stroke-width="3.1"/>
<path d="M188.1 503.4Q189.8 506.3 192.7 504.6T198 505.6" stroke="#6e6e6e" stroke-width="2.6"/>
<path d="M268.1 380.9Q265.5 377 269.6 374.9T271.6 368.2T272.2 363" stroke="#4a4a4a" stroke-width="2"/>
<path d="M295.1 238.1Q293.6 234.1 295.3 230.3T294.9 222.7" stroke="#858585" stroke-width="1.9"/>
<path d="M190.8 478.4Q193.4 479.9 195.2 477.6T198.1 478" stroke="#a8a8a8" stroke-width="2.2"/>
<path d="M236.1 461.7Q235.6 456.6 240.7 456.8T244.2 450.7" stroke="#919191" stroke-width="2.8"/>
<path d="M230.9 402.4Q233.5 399.5 233.5 395.7T237.1 389.8T238.8 381.6" stroke="#919191" stroke-width="2.5"/>
<path d="M243.2 361.4Q241.9 357.8 245.1 355.7T248 350.8T248.1 345.1" stroke="#4c4c4c" stroke-width="2"/>
<path d="M250.8 401Q253.2 399.4 252.5 396.7T252.8 392" stroke="#999999" stroke-width="3.3"/>
<path d="M231.4 418.7Q236.2 417.4 235.7 412.4T238.8 406.6" stroke="#5c5c5c" stroke-width="3.3"/>
<path d="M204.3 508.8Q208.1 510.6 210.7 507.3T217.9 504.4" stroke="#858585" stroke-width="2.6"/>
<path d="M230.3 402.4Q231.4 398.3 235.6 397.7T239.5 392.5T246.4 389" stroke="#4c4c4c" stroke-width="2.7"/>
<path d="M257.1 450.6Q260.6 448 259 444T260.2 436.8T264.2 430.8" stroke="#4c4c4c" stroke-width="3"/>
<path d="M215.8 442.2Q216 437.6 220.5 438.9T225.9 434.4T230 431.6" stroke="#999999" stroke-width="3"/>
<path d="M304.5 258.8Q306.8 256.5 307.1 253.2T309 248.5T313.3 241.2" stroke="#6e6e6e" stroke-width="2.6"/>
<path d="M251 464.1Q254.4 462.2 253 458.5T254.1 453.1T257.3 447.3" stroke="#4a4a4a" stroke-width="2.8"/>
<path d="M298.1 256.3Q295.7 253.4 298.1 250.6T297.8 243.9T297 240.2" stroke="#4a4a4a" stroke-width="3.2"/>
<path d="M251.7 370.8Q254.3 367.9 251.4 365.3T251.5 358.8T250.6 354" stroke="#4c4c4c" stroke-width="3.2"/>
<path d="M282.9 355.2Q287 353.4 285.4 349.2T287.4 343.2" stroke="#999999" stroke-width="2.5"/>
<path d="M224.1 397.5Q225.4 393.8 228.5 391.5T233.2 385.2T238 379.5" stroke="#5c5c5c" stroke-width="2.3"/>
<path d="M167.8 496.2Q171.2 493.8 174.8 495.8T181.5 493.8T188.3 494.8" stroke="#a8a8a8" stroke-width="3.3"/>
<path d="M286.1 263.8Q281.7 262.8 284.8 259.4T284.3 255.5" stroke="#999999" stroke-width="2"/>
<path d="M271.2 314.4Q268.4 310.9 271.4 307.6T273 302" stroke="#b0b0b0" stroke-width="3.2"/>
<path d="M320.6 223.5Q320.5 220 323.8 218.7T328.3 213.7" stroke="#858585" stroke-width="3"/>
<path d="M261.2 389.1Q265 387.4 263.3 383.6T265 376.8T267.6 373.9" stroke="#4a4a4a" stroke-width="2.6"/>
<path d="M255 254.9Q258.3 252.4 254.6 250.4T255.7 245.5" stroke="#4c4c4c" stroke-width="2.2"/>
<path d="M365.3 229.3Q368.8 232.4 371.3 228.5T377.2 227.6T382.8 227.1" stroke="#4c4c4c" stroke-width="2"/>
<path d="M222.5 425.9Q225.9 426.7 227.5 423.6T233.1 422.3" stroke="#b0b0b0" stroke-width="2"/>
<path d="M233.6 353.6Q236.7 351.8 236.7 348.2T240.8 342.1T244.2 338.1" stroke="#b8b8b8" stroke-width="2.1"/>
<path d="M216.6 481.2Q219.9 481.4 220.8 478.1T224.6 474" stroke="#919191" stroke-width="2.4"/>
<path d="M238.6 352.6Q241.9 349.5 238.7 346.2T240 339" stroke="#919191" stroke-width="2"/>
<path d="M306.8 265.2Q311.8 264.3 310.8 259.3T315.1 252.1T318.5 247" stroke="#6e6e6e" stroke-width="2.8"/>
<path d="M205.3 381Q209.8 380.1 211.1 375.7T217.6 369.1T221.4 366.5" stroke="#919191" stroke-width="2.3"/>
<path d="M297.6 297.7Q300.8 295.9 299.9 292.3T301.6 286.2T306 280.8" stroke="#5c5c5c" stroke-width="2.2"/>
<path d="M207.2 442.9Q210.8 440.3 213.8 443.6T220.8 445.1T228 445.6" stroke="#4c4c4c" stroke-width="3.2"/>
<path d="M234.6 384.4Q236.6 382.6 235.6 380.1T235.9 374.6" stroke="#4a4a4a" stroke-width="1.8"/>
<path d="M262.9 314.7Q260.1 310.6 264.4 308.2T265.9 301.7T268 294.1" stroke="#4c4c4c" stroke-width="2.5"/>
<path d="M300.6 306.3Q303 303.5 300.3 301T300.9 295.3T300.6 289.1" stroke="#4c4c4c" stroke-width="2.5"/>
<path d="M220.2 407.2Q219.5 402.5 224.1 401T227.3 394.6T230.8 387.9" stroke="#4c4c4c" stroke-width="2"/>
<path d="M275.7 283.9Q272.7 281.2 275.5 278.5T274 272.5" stroke="#919191" stroke-width="2"/>
<path d="M329.9 245.3Q333.4 242.8 337.6 243.9T344.6 242.1" stroke="#858585" stroke-width="1.8"/>
<path d="M260 390.2Q263.5 388.5 263.2 384.7T267.8 377.7T270.4 374.6" stroke="#919191" stroke-width="2.7"/>
<path d="M211.6 446Q214.8 446.6 217.4 444.7T223.8 444.4T229.2 441.3" stroke="#4a4a4a" stroke-width="3.1"/>
<path d="M206.2 497.4Q209.9 495.1 212.8 498.4T220.1 499T225.9 500.5" stroke="#8f8f8f" stroke-width="3"/>
<path d="M241.1 428.6Q245.3 426.3 243.5 421.9T245.2 415.3" stroke="#858585" stroke-width="3"/>
<path d="M180.1 483.3Q181.2 479.4 185 481T191.1 479T194.6 476.4" stroke="#919191" stroke-width="2.5"/>
<path d="M262.9 413.8Q260.3 409.6 264.7 407.5T267.6 401.9" stroke="#999999" stroke-width="2.4"/>
<path d="M287.3 251.9Q289.8 248.6 289.8 244.5T291.4 237" stroke="#999999" stroke-width="2.6"/>
<path d="M253.7 351.1Q256.6 347.2 252.5 344.7T252 338.7" stroke="#999999" stroke-width="3.3"/>
<path d="M311.6 251.2Q309.7 246.9 313.3 243.8T315.8 235.8T315.5 229.7" stroke="#999999" stroke-width="3"/>
<path d="M303.3 246.7Q304.6 244.3 302.7 242.2T302.7 236.9" stroke="#4a4a4a" stroke-width="3"/>
<path d="M262.2 312.2Q265.4 309.5 263.5 305.8T263.6 299.9T266.6 292.2" stroke="#b8b8b8" stroke-width="3"/>
<path d="M216.1 435.8Q219.7 436.2 222.2 433.6T227.2 431T235.6 428" stroke="#858585" stroke-width="2.1"/>
<path d="M245.3 441.9Q244.4 438.2 247 435.4T250.1 430.2T250.6 421.2" stroke="#8f8f8f" stroke-width="3"/>
<path d="M225.5 374.5Q229.8 373 227.4 369.2T227.8 363.5T230.3 359.9" stroke="#5c5c5c" stroke-width="2.3"/>
<path d="M278.4 305.5Q277.9 301.2 280.9 298.2T283 289.5T286.3 284.1" stroke="#6e6e6e" stroke-width="3.3"/>
<path d="M264.7 299.8Q261.4 296.6 263.1 292.3T262.2 286.2T261 278.7" stroke="#4c4c4c" stroke-width="3.3"/>
<path d="M294.2 292.6Q291.5 290.6 292.5 287.3T291.4 283T289.8 275.3" stroke="#b0b0b0" stroke-width="2.2"/>
<path d="M274.2 314Q272.5 311.3 275.4 310T276.3 305.8" stroke="#6e6e6e" stroke-width="2.1"/>
<path d="M251.5 374.7Q254.8 372.4 252.7 369T254.1 363.2T254.6 356.6" stroke="#5c5c5c" stroke-width="2"/>
<path d="M283.2 342.9Q282.2 339.1 285.6 337.3T287.2 331.5" stroke="#6e6e6e" stroke-width="2.4"/>
<path d="M297.3 248.3Q294.6 244.6 296.8 240.6T296.7 233.8T295.3 224.8" stroke="#a8a8a8" stroke-width="1.8"/>
<path d="M250.3 450.2Q252.6 447.8 252.3 444.5T254.7 438.5T257.5 434.1" stroke="#8f8f8f" stroke-width="2.7"/>
<path d="M264.1 369Q267.9 365.4 263.9 362.1T263.1 355.3" stroke="#8f8f8f" stroke-width="2.5"/>
<path d="M244.1 437.4Q244.1 432.6 248.8 432.2T252.4 426.9" stroke="#b0b0b0" stroke-width="2.8"/>
<path d="M255.5 370.6Q251.5 366.9 255.2 362.9T255.3 355.9T254.5 346.5" stroke="#919191" stroke-width="2.8"/>
<path d="M235.7 384.2Q239 382 238.9 378.1T241.2 371.9" stroke="#4c4c4c" stroke-width="3.2"/>
<path d="M315.4 218.8Q317.1 216.6 316.4 213.8T318.8 207.4" stroke="#4a4a4a" stroke-width="3"/>
<path d="M262 408.2Q264.8 406.5 263 403.7T264.2 398.4" stroke="#919191" stroke-width="2"/>
<path d="M235.3 447.9Q239.9 446.7 237.5 442.7T240.4 436.3T242.2 431" stroke="#999999" stroke-width="2.7"/>
<path d="M288.9 334.3Q285.7 332.5 286.9 329.1T283.6 322.8" stroke="#6e6e6e" stroke-width="2.6"/>
<path d="M217.5 409.7Q221 411.1 223 407.8T229.7 406T234.3 403.1" stroke="#4c4c4c" stroke-width="2.4"/>
<path d="M363 237.7Q364.4 234.4 367.2 236.7T372.7 236.1" stroke="#5c5c5c" stroke-width="2.1"/>
<path d="M251.4 387.5Q250.8 384.4 253.1 382.3T253.8 376.2" stroke="#4a4a4a" stroke-width="2.8"/>
<path d="M241.8 464.5Q245.5 463.2 244.6 459.4T247.9 455.6T250.9 449.6" stroke="#8f8f8f" stroke-width="2.7"/>
<path d="M287.2 335Q289.2 331.6 286.1 329.1T283.6 321.9T284 316.1" stroke="#4c4c4c" stroke-width="3.2"/>
<path d="M231 417.8Q235.6 418.2 234.3 413.8T237.3 409.4" stroke="#b0b0b0" stroke-width="2.3"/>
<path d="M219.1 506.8Q219.3 502.5 223.4 501.1T227.1 496T231.7 488.7" stroke="#919191" stroke-width="3.4"/>
<path d="M295.4 289.4Q299.4 286.9 297.1 282.8T299.6 275.7" stroke="#6e6e6e" stroke-width="2.1"/>
<path d="M222 456.6Q225.8 454.8 226.6 450.7T232 443.4" stroke="#858585" stroke-width="2.6"/>
<path d="M231 408.2Q231.2 403.8 235.6 403.6T241.5 399.3T245.4 394.6" stroke="#919191" stroke-width="2.7"/>
<path d="M222.8 329.8Q225 327 224.1 323.6T226.1 317.7" stroke="#4c4c4c" stroke-width="1.8"/>
<path d="M299.4 262Q296.2 259.1 299.6 256.6T299.3 252.4" stroke="#a8a8a8" stroke-width="2.4"/>
<path d="M248.9 451Q248.3 447.4 251.9 447.4T254.9 443.7" stroke="#8f8f8f" stroke-width="3.4"/>
<path d="M307.2 264.5Q304.5 260.8 308.5 258.6T311 254.1" stroke="#858585" stroke-width="1.9"/>
<path d="M223.2 416.9Q228.3 416.2 227.3 411.2T232.6 406.1T235.7 400.9" stroke="#858585" stroke-width="3.3"/>
<path d="M294.3 251.3Q294.9 248.9 293.1 247T291.9 242.6" stroke="#919191" stroke-width="2.3"/>
<path d="M207.2 503.8Q208.2 498.7 213.1 500.2T219.7 498T225.5 492.4" stroke="#999999" stroke-width="2"/>
<path d="M227.4 437.1Q231.8 437.6 232.5 433.4T236.2 429.2" stroke="#999999" stroke-width="2.5"/>
<path d="M365.4 217.7Q367.3 220.7 370.3 218.8T375.3 220.7" stroke="#a8a8a8" stroke-width="1.8"/>
<path d="M238.5 381.7Q242.2 378.9 239.6 375T242 367T240.6 362" stroke="#4c4c4c" stroke-width="3.3"/>
<path d="M265.9 430.6Q269.5 427.5 265.4 425T264.3 419.6T264.7 412.6" stroke="#999999" stroke-width="2.3"/>
<path d="M308.6 234Q307.3 230.4 308.5 226.7T308.6 219.6T306.7 210.7" stroke="#919191" stroke-width="3.1"/>
<path d="M227.2 418.1Q230.7 416.1 232 412.3T237.8 406.8T242 401.9" stroke="#4a4a4a" stroke-width="3.3"/>
<path d="M325.9 220Q328.5 217.8 331.6 218.9T335.9 218.8" stroke="#999999" stroke-width="2.8"/>
<path d="M246.8 464.1Q247.7 460.3 250.9 458T253.8 452.7T259.9 444.6" stroke="#858585" stroke-width="2.8"/>
<path d="M265.1 440.7Q262.6 438.4 265.3 436.1T265.4 431.4" stroke="#999999" stroke-width="3.2"/>
<path d="M250.9 300.1Q248.6 296.9 250.4 293.5T249.6 285.9" stroke="#858585" stroke-width="2.1"/>
<path d="M287.8 302.7Q291.1 299.1 288.6 294.9T288.6 288.2" stroke="#858585" stroke-width="3.1"/>
<path d="M238.5 419.5Q241.7 417.9 243 414.7T246.8 409.4T250.9 405.3" stroke="#6e6e6e" stroke-width="1.9"/>
<path d="M237.4 425.4Q242.1 425.9 243.5 421.5T250.8 416T254.2 412.1" stroke="#a8a8a8" stroke-width="2.7"/>
<path d="M246 466.7Q250.8 467.7 252 462.9T256.6 458.7T263.8 453.9" stroke="#858585" stroke-width="2.4"/>
<path d="M307.8 255Q310.8 253.4 308.5 250.9T309.5 246.4" stroke="#999999" stroke-width="2.3"/>
<path d="M269.3 368.2Q269.4 364.8 272.4 363.3T276.2 358.1" stroke="#8f8f8f" stroke-width="3.4"/>
<path d="M267 420.1Q265.1 417.2 266.6 414.1T266.1 409.1T267.1 402.9" stroke="#4a4a4a" stroke-width="2.2"/>
<path d="M337 235.6Q338.7 232.9 341.8 232.1T347.4 229.2T351.7 223.5" stroke="#919191" stroke-width="3.3"/>
<path d="M215 464.4Q219.4 465.4 220.6 461T227.4 458.3" stroke="#b0b0b0" stroke-width="1.8"/>
<path d="M253.5 311.4Q255.3 307.9 253.9 304.2T252.9 296.7T253.2 291.2" stroke="#4a4a4a" stroke-width="3.1"/>
<path d="M221.9 453.7Q223 449.3 226.7 452.1T232.6 450.2" stroke="#6e6e6e" stroke-width="3.3"/>
<path d="M278 270Q276.1 267.3 278.3 265T278.4 261.4" stroke="#4a4a4a" stroke-width="2.2"/>
<path d="M263.1 295.2Q266.8 293.1 263.3 290.6T264.5 287.1" stroke="#4c4c4c" stroke-width="2"/>
<path d="M239.7 442.5Q241.9 438.7 246.3 438.4T253.1 434T259 431.2" stroke="#5c5c5c" stroke-width="3.1"/>
<path d="M231.1 340.1Q233 336.3 232.1 332.2T232 323.7T233.6 317.3" stroke="#919191" stroke-width="2.7"/>
<path d="M240.9 379.8Q239.1 376.9 241.8 374.9T242.2 368.8" stroke="#919191" stroke-width="2.6"/>
<path d="M276 353.4Q274.8 349.5 277.3 346.2T280 340.3" stroke="#999999" stroke-width="3.2"/>
<path d="M239.4 355.3Q242.1 351.6 238.6 348.8T237.8 341T238.2 335.3" stroke="#b8b8b8" stroke-width="2.2"/>
<path d="M231.5 378.8Q233.7 377.2 232.7 374.6T232.7 371.7" stroke="#919191" stroke-width="2.5"/>
<path d="M272.1 297.2Q269.3 294 272.2 290.9T272 285.8T271 277.4" stroke="#919191" stroke-width="3.1"/>
<path d="M269.3 309.9Q268.7 306.2 270.6 303T273 295.5T271.9 290.6" stroke="#b8b8b8" stroke-width="2.9"/>
<path d="M339.1 246.6Q343.5 247.4 345.1 243.3T351.3 240.4" stroke="#8f8f8f" stroke-width="2.5"/>
<path d="M283.5 357.9Q281.5 353.1 286.4 351.4T289.5 346.4" stroke="#919191" stroke-width="3.4"/>
<path d="M275.9 266.4Q273.9 263.3 277.3 262T279.1 258.8" stroke="#919191" stroke-width="3.2"/>
<path d="M212.5 388.2Q212.8 384.9 215.4 383T217.8 378.9T222.3 374" stroke="#b0b0b0" stroke-width="1.9"/>
<path d="M204.8 454Q207.8 451 210.8 453.9T215.4 453T221.7 453.5" stroke="#4a4a4a" stroke-width="3.3"/>
<path d="M206.9 495.2Q209.7 498.5 213 495.9T220.3 495.8T224.8 498.6" stroke="#6e6e6e" stroke-width="1.8"/>
<path d="M254 408.2Q253.2 404.9 256.5 404.8T259.7 402.3" stroke="#b8b8b8" stroke-width="2"/>
<path d="M328.7 251.8Q332.4 251.9 333.7 248.4T337.8 245.7T342.4 240.6" stroke="#4c4c4c" stroke-width="2.6"/>
<path d="M281.3 276.9Q277.5 274.5 280 270.8T277.2 264.8T275.9 257.5" stroke="#4a4a4a" stroke-width="2"/>
<path d="M216.9 503.4Q220.4 502.9 222.6 500.2T226.9 496.2T234.5 494.6" stroke="#8f8f8f" stroke-width="2.7"/>
<path d="M291.7 354.2Q289.7 351 289.8 347.1T289.3 341.3T287 332.4" stroke="#919191" stroke-width="3"/>
<path d="M351.9 228.8Q355.7 225.1 359.3 229T367.4 229T374.5 230.8" stroke="#b8b8b8" stroke-width="2.7"/>
<path d="M338.7 211.7Q342.5 213.2 344 209.4T349.3 206.9" stroke="#919191" stroke-width="3.2"/>
<path d="M360.3 240.6Q364.2 239.9 366.9 237T372.3 233.7" stroke="#919191" stroke-width="2.1"/>
<path d="M190.8 494.6Q193.9 491.3 197 494.7T202 494.1T209 495.7" stroke="#5c5c5c" stroke-width="3"/>
<path d="M292.9 309.4Q291.3 305.3 294.6 302.3T296.3 295.7T298.9 289" stroke="#919191" stroke-width="2.1"/>
<path d="M251.7 324.5Q254.8 320.5 251.5 316.8T252.2 308.7T251.7 302.9" stroke="#919191" stroke-width="2.4"/>
<path d="M269.7 303.5Q266 299.5 269.8 295.6T268.5 287.6" stroke="#999999" stroke-width="2.7"/>
<path d="M221.3 414.8Q225.6 413.7 226.5 409.4T232.8 403.4T238.2 397.1" stroke="#858585" stroke-width="3.2"/>
<path d="M206.3 489.3Q210.4 490.5 211.9 486.4T218.1 484.8" stroke="#919191" stroke-width="2.7"/>
<path d="M267.7 373.3Q270.2 368.8 266.2 365.5T263.8 358.7" stroke="#6e6e6e" stroke-width="1.8"/>
<path d="M294.4 281.5Q296.3 277.8 295.4 273.8T295.6 266.7" stroke="#919191" stroke-width="2.7"/>
<path d="M259.6 297.1Q261.6 293.1 258 290.5T256 283.9T254.8 278" stroke="#858585" stroke-width="2.4"/>
<path d="M352.7 235.3Q356.7 235.5 360.2 233.3T366.2 230.3" stroke="#4c4c4c" stroke-width="3.2"/>
<path d="M210.1 443.7Q214.9 445.9 216.9 441T224.5 438.3T231.9 435.5" stroke="#4a4a4a" stroke-width="2.8"/>
<path d="M239.6 438.8Q244.4 440.1 245.9 435.4T252.4 432.1T259.8 429.3" stroke="#5c5c5c" stroke-width="1.8"/>
<path d="M298.2 299.7Q295.7 295.9 298.2 292T299 285.2T298.1 275.2" stroke="#4a4a4a" stroke-width="2.4"/>
<path d="M214.8 427.5Q218.9 427.3 222.3 425T229.3 421.3" stroke="#919191" stroke-width="2.3"/>
<path d="M342.6 216Q345.1 212.1 348.6 215.2T354.7 213.6T359.2 212.6" stroke="#5c5c5c" stroke-width="2.7"/>
<path d="M330.2 237.1Q330.7 233.1 334.5 234.4T339.2 231.3" stroke="#4a4a4a" stroke-width="2"/>
<path d="M307.2 277Q306 273.5 308.1 270.5T308.3 265T310 258.9" stroke="#4a4a4a" stroke-width="1.8"/>
<path d="M249.2 362.6Q248.3 360.4 249.9 358.7" stroke="#333333" stroke-width="1.5"/>
<path d="M273.1 324.7Q274.6 322.8 273.5 320.7" stroke="#333333" stroke-width="1.5"/>
<path d="M270.2 267.6Q271.5 265.6 270.3 263.6" stroke="#333333" stroke-width="1.5"/>
<path d="M230.8 336.1Q232.4 334.3 231.5 332.1" stroke="#333333" stroke-width="1.5"/>
<path d="M269.7 397.3Q271.4 395.6 270.5 393.3" stroke="#333333" stroke-width="1.5"/>
<path d="M268.7 315Q270.2 313.1 269.1 311" stroke="#333333" stroke-width="1.5"/>
<path d="M271.5 321Q270.3 318.9 271.8 317.1" stroke="#333333" stroke-width="1.5"/>
<path d="M277.6 265Q276.4 263 277.7 261" stroke="#333333" stroke-width="1.5"/>
<path d="M243 445.8Q245.3 445.3 245.8 443" stroke="#333333" stroke-width="1.5"/>
<path d="M259.1 371.8Q260.9 370.3 260.2 368" stroke="#333333" stroke-width="1.5"/>
<path d="M354.4 250.1Q356.1 248.5 358.3 249.4" stroke="#333333" stroke-width="1.5"/>
<path d="M263.7 285.6Q265 283.7 263.7 281.6" stroke="#333333" stroke-width="1.5"/>
<path d="M260.2 279Q261.6 277 260.3 275" stroke="#333333" stroke-width="1.5"/>
<path d="M293.6 294.2Q294.9 292.2 293.7 290.2" stroke="#333333" stroke-width="1.5"/>
<path d="M227.5 486.6Q228.5 484.4 230.9 484.5" stroke="#333333" stroke-width="1.5"/>
<path d="M224.1 394.3Q226.3 393.4 226.3 391" stroke="#333333" stroke-width="1.5"/>
<path d="M282.8 345.9Q284.3 344 283.2 341.9" stroke="#333333" stroke-width="1.5"/>
<path d="M315.4 221.5Q317.2 219.8 316.4 217.6" stroke="#333333" stroke-width="1.5"/>
<path d="M232.5 409Q232.6 406.7 234.8 405.7" stroke="#333333" stroke-width="1.5"/>
<path d="M264.4 384.3Q263.7 382 265.5 380.4" stroke="#333333" stroke-width="1.5"/>
<path d="M301.5 232.1Q302.9 230.2 301.7 228.1" stroke="#333333" stroke-width="1.5"/>
<path d="M227.2 438.3Q228.2 436.1 230.6 436.2" stroke="#333333" stroke-width="1.5"/>
<path d="M342.5 230.7Q343.8 228.7 346.2 229.1" stroke="#333333" stroke-width="1.5"/>
<path d="M249.1 392.8Q250.9 391.2 250.2 388.9" stroke="#333333" stroke-width="1.5"/>
<path d="M247 431.6Q247.5 429.2 249.9 428.7" stroke="#333333" stroke-width="1.5"/>
<path d="M291.8 257.2Q290.6 255.2 291.9 253.2" stroke="#333333" stroke-width="1.5"/>
<path d="M265.1 325Q264.2 322.8 265.8 321" stroke="#333333" stroke-width="1.5"/>
<path d="M359.3 244.2Q361.5 245.1 363.2 243.5" stroke="#333333" stroke-width="1.5"/>
<path d="M246.3 427.6Q246.8 425.2 249.1 424.7" stroke="#333333" stroke-width="1.5"/>
<path d="M267.3 416.4Q269.1 414.8 268.5 412.5" stroke="#333333" stroke-width="1.5"/>
<path d="M302.3 239.9Q303.6 237.9 302.4 235.9" stroke="#333333" stroke-width="1.5"/>
<path d="M210.1 484.5Q211.9 483 214 484.1" stroke="#333333" stroke-width="1.5"/>
<path d="M298.4 278.7Q297.2 276.7 298.6 274.7" stroke="#333333" stroke-width="1.5"/>
<path d="M288.6 312.4Q290 310.4 288.7 308.4" stroke="#333333" stroke-width="1.5"/>
<path d="M280.1 340Q279 337.8 280.5 336" stroke="#333333" stroke-width="1.5"/>
<path d="M250.4 450.1Q250.9 447.8 253.3 447.3" stroke="#333333" stroke-width="1.5"/>
<path d="M246.2 358.3Q245.3 356.1 246.9 354.3" stroke="#333333" stroke-width="1.5"/>
<path d="M338.2 239.6Q340.6 239.9 341.9 238" stroke="#333333" stroke-width="1.5"/>
<path d="M184.2 497.2Q186.3 498.3 188.1 496.8" stroke="#333333" stroke-width="1.5"/>
<path d="M301.3 269.2Q300 267.2 301.4 265.2" stroke="#333333" stroke-width="1.5"/>
<path d="M260.2 386.6Q262.1 385.1 261.4 382.8" stroke="#333333" stroke-width="1.5"/>
<path d="M288.9 313.1Q290.3 311.1 289 309.1" stroke="#333333" stroke-width="1.5"/>
<path d="M168 497.7Q170.1 498.8 172 497.3" stroke="#333333" stroke-width="1.5"/>
<path d="M354.7 249.8Q356.4 248.1 358.6 249.1" stroke="#333333" stroke-width="1.5"/>
<path d="M300 281.2Q298.8 279.2 300.2 277.2" stroke="#333333" stroke-width="1.5"/>
<path d="M363.1 239.6Q365.3 240.5 367 238.9" stroke="#333333" stroke-width="1.5"/>
<path d="M299.5 297.2Q300.8 295.3 299.6 293.2" stroke="#333333" stroke-width="1.5"/>
<path d="M274.3 306.4Q273 304.4 274.4 302.4" stroke="#333333" stroke-width="1.5"/>
<path d="M247.8 445.4Q250 444.5 250 442.1" stroke="#333333" stroke-width="1.5"/>
<path d="M264.7 295.4Q266.1 293.4 264.8 291.4" stroke="#333333" stroke-width="1.5"/>
<path d="M245.6 423.8Q248 423.3 248.4 420.9" stroke="#333333" stroke-width="1.5"/>
<path d="M269.7 361.4Q268.7 359.2 270.4 357.5" stroke="#333333" stroke-width="1.5"/>
<path d="M237.5 337.6Q236.5 335.4 238.1 333.6" stroke="#333333" stroke-width="1.5"/>
<path d="M297.5 274.2Q298.9 272.2 297.6 270.2" stroke="#333333" stroke-width="1.5"/>
<path d="M273.2 306.5Q274.5 304.5 273.2 302.5" stroke="#333333" stroke-width="1.5"/>
<path d="M257.4 366.4Q259.1 364.7 258.1 362.5" stroke="#333333" stroke-width="1.5"/>
<path d="M250.5 451.7Q250.8 449.3 253.1 448.7" stroke="#333333" stroke-width="1.5"/>
<path d="M202.7 508.4Q204.8 509.5 206.7 508" stroke="#333333" stroke-width="1.5"/>
<path d="M191.8 492.7Q193.7 491.2 195.8 492.3" stroke="#333333" stroke-width="1.5"/>
<path d="M243.2 406.6Q245.5 406.1 246 403.8" stroke="#333333" stroke-width="1.5"/>
<path d="M278.5 314.7Q277.2 312.6 278.6 310.7" stroke="#333333" stroke-width="1.5"/>
<path d="M233.3 317.9Q232.4 315.7 234 314" stroke="#333333" stroke-width="1.5"/>
<path d="M240.7 313.7Q239.7 311.5 241.4 309.7" stroke="#333333" stroke-width="1.5"/>
<path d="M222.8 476.9Q225.2 477 226.2 474.8" stroke="#333333" stroke-width="1.5"/>
<path d="M314.4 233.8Q316.1 232.2 315.4 229.9" stroke="#333333" stroke-width="1.5"/>
<path d="M261.3 417.5Q260.6 415.2 262.4 413.6" stroke="#333333" stroke-width="1.5"/>
<path d="M264.1 384.1Q265.7 382.3 264.8 380.1" stroke="#333333" stroke-width="1.5"/>
<path d="M365.7 236.4Q367.5 234.8 369.7 235.7" stroke="#333333" stroke-width="1.5"/>
<path d="M241.8 422.3Q244.1 421.7 244.5 419.3" stroke="#333333" stroke-width="1.5"/>
<path d="M244.6 417.5Q246.9 417 247.4 414.7" stroke="#333333" stroke-width="1.5"/>
<path d="M248.6 444.9Q248.7 442.5 250.9 441.6" stroke="#333333" stroke-width="1.5"/>
<path d="M295.4 276.3Q294.2 274.3 295.6 272.3" stroke="#333333" stroke-width="1.5"/>
<path d="M191.4 498.1Q193.5 499.1 195.3 497.6" stroke="#333333" stroke-width="1.5"/>
<path d="M245 430.9Q247.2 430 247.3 427.6" stroke="#333333" stroke-width="1.5"/>
<path d="M324.8 237.3Q325.7 235.1 328.1 235" stroke="#333333" stroke-width="1.5"/>
<path d="M328.3 225.6Q329.2 223.4 331.6 223.4" stroke="#333333" stroke-width="1.5"/>
<ellipse cx="647.5" cy="431" rx="8" ry="3.8" transform="rotate(-103 647.5 431)" fill="#4c4c4c" stroke="#adadad" stroke-width="3.7"/>
<ellipse cx="633.5" cy="331.8" rx="8.2" ry="5.2" transform="rotate(-77 633.5 331.8)" fill="#4c4c4c" stroke="#919191" stroke-width="3.5"/>
<ellipse cx="633.2" cy="304.9" rx="5.5" ry="3.7" transform="rotate(-99 633.2 304.9)" fill="#4a4a4a" stroke="#adadad" stroke-width="2.5"/>
<ellipse cx="639.4" cy="359.8" rx="7.2" ry="3.9" transform="rotate(-122 639.4 359.8)" fill="#6b6b6b" stroke="#a1a1a1" stroke-width="2.6"/>
<ellipse cx="613.5" cy="352.4" rx="7.6" ry="4.5" transform="rotate(-97 613.5 352.4)" fill="#545454" stroke="#919191" stroke-width="2.5"/>
<ellipse cx="657.2" cy="331.8" rx="8.8" ry="5.4" transform="rotate(-79 657.2 331.8)" fill="#545454" stroke="#919191" stroke-width="3.2"/>
<ellipse cx="647.6" cy="428.7" rx="9.1" ry="3.8" transform="rotate(-148 647.6 428.7)" fill="#3d3d3d" stroke="#adadad" stroke-width="3"/>
<ellipse cx="614.1" cy="347.9" rx="6" ry="3.2" transform="rotate(-76 614.1 347.9)" fill="#5c5c5c" stroke="#8a8a8a" stroke-width="3"/>
<ellipse cx="647.6" cy="444.4" rx="7.3" ry="3.2" transform="rotate(-106 647.6 444.4)" fill="#545454" stroke="#a1a1a1" stroke-width="2.9"/>
<ellipse cx="600.8" cy="295.4" rx="8" ry="3" transform="rotate(-120 600.8 295.4)" fill="#6b6b6b" stroke="#8a8a8a" stroke-width="2.5"/>
<ellipse cx="649.9" cy="290.5" rx="6.1" ry="3.6" transform="rotate(-108 649.9 290.5)" fill="#4a4a4a" stroke="#919191" stroke-width="3.6"/>
<ellipse cx="665.1" cy="492.5" rx="7.9" ry="4.9" transform="rotate(-167 665.1 492.5)" fill="#6b6b6b" stroke="#919191" stroke-width="3.1"/>
<ellipse cx="569.6" cy="246.6" rx="7.9" ry="5.3" transform="rotate(-112 569.6 246.6)" fill="#5c5c5c" stroke="#919191" stroke-width="2.8"/>
<ellipse cx="615.3" cy="356.9" rx="9.6" ry="5.2" transform="rotate(-115 615.3 356.9)" fill="#4c4c4c" stroke="#969696" stroke-width="3.3"/>
<ellipse cx="619" cy="316.4" rx="10.8" ry="5" transform="rotate(-79 619 316.4)" fill="#5c5c5c" stroke="#a1a1a1" stroke-width="3.5"/>
<ellipse cx="556" cy="241.9" rx="6.2" ry="5.1" transform="rotate(-155 556 241.9)" fill="#545454" stroke="#919191" stroke-width="2.4"/>
<ellipse cx="639.7" cy="347.3" rx="6.3" ry="4.5" transform="rotate(-90 639.7 347.3)" fill="#545454" stroke="#969696" stroke-width="2.5"/>
<ellipse cx="631.7" cy="319.7" rx="9.8" ry="3.8" transform="rotate(-84 631.7 319.7)" fill="#4c4c4c" stroke="#969696" stroke-width="3.4"/>
<ellipse cx="638.1" cy="362" rx="6.2" ry="3.8" transform="rotate(-117 638.1 362)" fill="#545454" stroke="#adadad" stroke-width="3.4"/>
<ellipse cx="579.1" cy="268.2" rx="9.1" ry="5.3" transform="rotate(-122 579.1 268.2)" fill="#545454" stroke="#919191" stroke-width="3.5"/>
<ellipse cx="648.2" cy="429.2" rx="10.9" ry="4" transform="rotate(-124 648.2 429.2)" fill="#545454" stroke="#969696" stroke-width="2.4"/>
<ellipse cx="601.8" cy="278.8" rx="5.6" ry="4.5" transform="rotate(-114 601.8 278.8)" fill="#707070" stroke="#969696" stroke-width="2.6"/>
<ellipse cx="604" cy="250.2" rx="9.4" ry="4.6" transform="rotate(-107 604 250.2)" fill="#6b6b6b" stroke="#919191" stroke-width="2.8"/>
<ellipse cx="660.8" cy="484.5" rx="8.3" ry="4.3" transform="rotate(-170 660.8 484.5)" fill="#707070" stroke="#919191" stroke-width="2.6"/>
<ellipse cx="602.2" cy="311.2" rx="6.5" ry="5.3" transform="rotate(-69 602.2 311.2)" fill="#6b6b6b" stroke="#919191" stroke-width="2.9"/>
<ellipse cx="583.1" cy="269.4" rx="7.5" ry="3.3" transform="rotate(-125 583.1 269.4)" fill="#3d3d3d" stroke="#919191" stroke-width="2.5"/>
<ellipse cx="715" cy="488" rx="10" ry="2.8" transform="rotate(-172 715 488)" fill="#4a4a4a" stroke="#919191" stroke-width="3.2"/>
<ellipse cx="545.3" cy="235.9" rx="10.9" ry="4.3" transform="rotate(-172 545.3 235.9)" fill="#4c4c4c" stroke="#919191" stroke-width="3.5"/>
<ellipse cx="613.8" cy="351.1" rx="10.6" ry="4" transform="rotate(-76 613.8 351.1)" fill="#5c5c5c" stroke="#919191" stroke-width="2.5"/>
<ellipse cx="611.7" cy="279.6" rx="8.2" ry="3.5" transform="rotate(-79 611.7 279.6)" fill="#3d3d3d" stroke="#a1a1a1" stroke-width="3.4"/>
<ellipse cx="635.1" cy="313.6" rx="5.5" ry="5.3" transform="rotate(-81 635.1 313.6)" fill="#4a4a4a" stroke="#919191" stroke-width="2.8"/>
<ellipse cx="635.8" cy="353.8" rx="8" ry="2.9" transform="rotate(-71 635.8 353.8)" fill="#3d3d3d" stroke="#919191" stroke-width="2.7"/>
<ellipse cx="616.3" cy="252.6" rx="9.4" ry="3.1" transform="rotate(-116 616.3 252.6)" fill="#6b6b6b" stroke="#adadad" stroke-width="3.7"/>
<ellipse cx="573.4" cy="235.4" rx="9.2" ry="4.6" transform="rotate(-123 573.4 235.4)" fill="#4c4c4c" stroke="#919191" stroke-width="3.8"/>
<ellipse cx="607.2" cy="237.4" rx="10.9" ry="4.1" transform="rotate(-81 607.2 237.4)" fill="#545454" stroke="#a1a1a1" stroke-width="2.6"/>
<ellipse cx="620.3" cy="368.9" rx="8.8" ry="3.5" transform="rotate(-69 620.3 368.9)" fill="#3d3d3d" stroke="#969696" stroke-width="3.8"/>
<ellipse cx="662.5" cy="393.3" rx="9.6" ry="5.1" transform="rotate(-126 662.5 393.3)" fill="#707070" stroke="#969696" stroke-width="3.2"/>
<ellipse cx="632.1" cy="294.9" rx="5.8" ry="3.6" transform="rotate(-70 632.1 294.9)" fill="#545454" stroke="#a1a1a1" stroke-width="2.4"/>
<ellipse cx="697.1" cy="507.7" rx="6" ry="3.9" transform="rotate(-192 697.1 507.7)" fill="#3d3d3d" stroke="#919191" stroke-width="2.8"/>
<ellipse cx="621.7" cy="418.1" rx="9.1" ry="3.1" transform="rotate(-125 621.7 418.1)" fill="#707070" stroke="#919191" stroke-width="3.1"/>
<ellipse cx="636.7" cy="397.5" rx="6.1" ry="4.6" transform="rotate(-102 636.7 397.5)" fill="#3d3d3d" stroke="#adadad" stroke-width="3.7"/>
<ellipse cx="560.8" cy="249.9" rx="8.1" ry="3.5" transform="rotate(-164 560.8 249.9)" fill="#3d3d3d" stroke="#919191" stroke-width="2.5"/>
<ellipse cx="573.7" cy="237.5" rx="6.1" ry="4.7" transform="rotate(-141 573.7 237.5)" fill="#5c5c5c" stroke="#919191" stroke-width="3.8"/>
<ellipse cx="645.9" cy="433" rx="10.7" ry="4.7" transform="rotate(-134 645.9 433)" fill="#6b6b6b" stroke="#919191" stroke-width="2.6"/>
<ellipse cx="564" cy="246.3" rx="5.1" ry="3.4" transform="rotate(-113 564 246.3)" fill="#707070" stroke="#a1a1a1" stroke-width="2.6"/>
<ellipse cx="616.7" cy="354.3" rx="7" ry="5.4" transform="rotate(-117 616.7 354.3)" fill="#4a4a4a" stroke="#919191" stroke-width="3"/>
<ellipse cx="636.7" cy="304.7" rx="8" ry="5.3" transform="rotate(-96 636.7 304.7)" fill="#4a4a4a" stroke="#adadad" stroke-width="2.7"/>
<ellipse cx="632.1" cy="318.9" rx="10.8" ry="3.5" transform="rotate(-108 632.1 318.9)" fill="#707070" stroke="#919191" stroke-width="3"/>
<ellipse cx="595.4" cy="264.7" rx="7.6" ry="4.1" transform="rotate(-99 595.4 264.7)" fill="#6b6b6b" stroke="#a1a1a1" stroke-width="3.5"/>
<ellipse cx="616.1" cy="406.6" rx="8.2" ry="4.2" transform="rotate(-116 616.1 406.6)" fill="#3d3d3d" stroke="#8a8a8a" stroke-width="2.5"/>
<ellipse cx="565.3" cy="249.2" rx="5.4" ry="5.1" transform="rotate(-114 565.3 249.2)" fill="#545454" stroke="#adadad" stroke-width="2.4"/>
<ellipse cx="651.2" cy="404.4" rx="10" ry="4.1" transform="rotate(-153 651.2 404.4)" fill="#4c4c4c" stroke="#969696" stroke-width="3.8"/>
<ellipse cx="644.9" cy="438.8" rx="6.1" ry="4.7" transform="rotate(-106 644.9 438.8)" fill="#5c5c5c" stroke="#919191" stroke-width="3.4"/>
<ellipse cx="715" cy="485" rx="5.1" ry="3.4" transform="rotate(-164 715 485)" fill="#6b6b6b" stroke="#919191" stroke-width="3.7"/>
<ellipse cx="636.4" cy="426.2" rx="9" ry="4.6" transform="rotate(-133 636.4 426.2)" fill="#3d3d3d" stroke="#8a8a8a" stroke-width="3.7"/>
<ellipse cx="561.5" cy="251" rx="7.2" ry="4.9" transform="rotate(-149 561.5 251)" fill="#4c4c4c" stroke="#969696" stroke-width="3.3"/>
<ellipse cx="577.4" cy="258.5" rx="9.2" ry="3.7" transform="rotate(-87 577.4 258.5)" fill="#4c4c4c" stroke="#919191" stroke-width="3"/>
<ellipse cx="630.4" cy="317.4" rx="9.3" ry="2.8" transform="rotate(-111 630.4 317.4)" fill="#5c5c5c" stroke="#919191" stroke-width="3.5"/>
<ellipse cx="655.8" cy="399.8" rx="11" ry="3" transform="rotate(-155 655.8 399.8)" fill="#707070" stroke="#919191" stroke-width="3.2"/>
<ellipse cx="652.1" cy="418" rx="6.4" ry="5.5" transform="rotate(-96 652.1 418)" fill="#707070" stroke="#919191" stroke-width="2.5"/>
<ellipse cx="606.4" cy="374.8" rx="5.5" ry="5" transform="rotate(-69 606.4 374.8)" fill="#6b6b6b" stroke="#919191" stroke-width="3.8"/>
<ellipse cx="703.1" cy="476.3" rx="9.2" ry="3.2" transform="rotate(-175 703.1 476.3)" fill="#5c5c5c" stroke="#919191" stroke-width="3.1"/>
<ellipse cx="665.8" cy="442" rx="9.7" ry="3.4" transform="rotate(-131 665.8 442)" fill="#4a4a4a" stroke="#969696" stroke-width="3.5"/>
<ellipse cx="651.6" cy="402.5" rx="10.3" ry="2.8" transform="rotate(-134 651.6 402.5)" fill="#4a4a4a" stroke="#a1a1a1" stroke-width="3.5"/>
<ellipse cx="599.6" cy="268.3" rx="5.9" ry="3.7" transform="rotate(-101 599.6 268.3)" fill="#5c5c5c" stroke="#969696" stroke-width="3.1"/>
<ellipse cx="613.2" cy="381.5" rx="10.3" ry="5.2" transform="rotate(-106 613.2 381.5)" fill="#4a4a4a" stroke="#919191" stroke-width="2.7"/>
<ellipse cx="625.8" cy="346.6" rx="7.5" ry="5.2" transform="rotate(-84 625.8 346.6)" fill="#5c5c5c" stroke="#a1a1a1" stroke-width="3.6"/>
<ellipse cx="615.4" cy="322.2" rx="7.6" ry="5" transform="rotate(-79 615.4 322.2)" fill="#545454" stroke="#8a8a8a" stroke-width="3.3"/>
<ellipse cx="697.3" cy="502.2" rx="10.1" ry="4.1" transform="rotate(-187 697.3 502.2)" fill="#4a4a4a" stroke="#919191" stroke-width="3.1"/>
<ellipse cx="608.7" cy="360.2" rx="6.4" ry="4.4" transform="rotate(-114 608.7 360.2)" fill="#6b6b6b" stroke="#919191" stroke-width="2.7"/>
<ellipse cx="657.1" cy="408.5" rx="9.5" ry="5.5" transform="rotate(-150 657.1 408.5)" fill="#707070" stroke="#969696" stroke-width="3.5"/>
<ellipse cx="640" cy="358.9" rx="7.4" ry="4.3" transform="rotate(-88 640 358.9)" fill="#4a4a4a" stroke="#969696" stroke-width="3.4"/>
<ellipse cx="621" cy="355.8" rx="7.3" ry="3.3" transform="rotate(-90 621 355.8)" fill="#4c4c4c" stroke="#a1a1a1" stroke-width="2.9"/>
<ellipse cx="667.2" cy="375.8" rx="5.1" ry="5" transform="rotate(-114 667.2 375.8)" fill="#4a4a4a" stroke="#919191" stroke-width="3.6"/>
<ellipse cx="625.2" cy="337.3" rx="5.6" ry="3.4" transform="rotate(-114 625.2 337.3)" fill="#707070" stroke="#969696" stroke-width="3.8"/>
<ellipse cx="628.4" cy="341.6" rx="10.1" ry="5.3" transform="rotate(-92 628.4 341.6)" fill="#4a4a4a" stroke="#a1a1a1" stroke-width="3.1"/>
<ellipse cx="592.3" cy="249.5" rx="6.6" ry="3.2" transform="rotate(-77 592.3 249.5)" fill="#545454" stroke="#919191" stroke-width="3.7"/>
<ellipse cx="634" cy="331" rx="6.1" ry="3.6" transform="rotate(-95 634 331)" fill="#4c4c4c" stroke="#919191" stroke-width="2.8"/>
<ellipse cx="697.3" cy="501.8" rx="5.7" ry="3" transform="rotate(-150 697.3 501.8)" fill="#4c4c4c" stroke="#969696" stroke-width="3"/>
<ellipse cx="675.9" cy="375.4" rx="5.8" ry="5.5" transform="rotate(-134 675.9 375.4)" fill="#4a4a4a" stroke="#a1a1a1" stroke-width="3.5"/>
<ellipse cx="605.7" cy="294.1" rx="6.7" ry="4.1" transform="rotate(-92 605.7 294.1)" fill="#6b6b6b" stroke="#8a8a8a" stroke-width="3.4"/>
<ellipse cx="614.3" cy="258.2" rx="9.2" ry="3" transform="rotate(-105 614.3 258.2)" fill="#6b6b6b" stroke="#adadad" stroke-width="2.8"/>
<ellipse cx="605.3" cy="245" rx="7.5" ry="3.1" transform="rotate(-116 605.3 245)" fill="#545454" stroke="#a1a1a1" stroke-width="2.5"/>
<ellipse cx="688.1" cy="464.5" rx="8.9" ry="5.4" transform="rotate(-168 688.1 464.5)" fill="#5c5c5c" stroke="#919191" stroke-width="2.7"/>
<ellipse cx="675.8" cy="436.6" rx="8" ry="3.6" transform="rotate(-131 675.8 436.6)" fill="#707070" stroke="#adadad" stroke-width="2.8"/>
<ellipse cx="686.8" cy="486.7" rx="5.3" ry="3.5" transform="rotate(-149 686.8 486.7)" fill="#707070" stroke="#969696" stroke-width="3.1"/>
<ellipse cx="601.3" cy="231.8" rx="6.5" ry="3.2" transform="rotate(-123 601.3 231.8)" fill="#707070" stroke="#919191" stroke-width="3.7"/>
<ellipse cx="613.6" cy="351.7" rx="7.3" ry="3.1" transform="rotate(-89 613.6 351.7)" fill="#3d3d3d" stroke="#8a8a8a" stroke-width="3.1"/>
<ellipse cx="620.9" cy="257.6" rx="10.5" ry="5" transform="rotate(-101 620.9 257.6)" fill="#3d3d3d" stroke="#adadad" stroke-width="3.5"/>
<ellipse cx="623.1" cy="416.2" rx="7.3" ry="3" transform="rotate(-88 623.1 416.2)" fill="#545454" stroke="#8a8a8a" stroke-width="3.4"/>
<ellipse cx="614" cy="369.2" rx="7.1" ry="3.3" transform="rotate(-83 614 369.2)" fill="#545454" stroke="#8a8a8a" stroke-width="2.5"/>
<ellipse cx="593.6" cy="236.4" rx="10.7" ry="3.1" transform="rotate(-79 593.6 236.4)" fill="#3d3d3d" stroke="#919191" stroke-width="3.2"/>
<ellipse cx="621.9" cy="343.8" rx="10.1" ry="3.3" transform="rotate(-86 621.9 343.8)" fill="#4c4c4c" stroke="#919191" stroke-width="3.4"/>
<ellipse cx="687.6" cy="348.9" rx="7.8" ry="3.4" transform="rotate(-128 687.6 348.9)" fill="#6b6b6b" stroke="#919191" stroke-width="3.5"/>
<ellipse cx="620" cy="242.3" rx="9" ry="2.8" transform="rotate(-95 620 242.3)" fill="#707070" stroke="#adadad" stroke-width="3.4"/>
<ellipse cx="570.2" cy="260" rx="9.8" ry="4.2" transform="rotate(-107 570.2 260)" fill="#3d3d3d" stroke="#919191" stroke-width="3.1"/>
<ellipse cx="685.5" cy="511.8" rx="10.8" ry="3.5" transform="rotate(-184 685.5 511.8)" fill="#3d3d3d" stroke="#8a8a8a" stroke-width="2.8"/>
<ellipse cx="614.1" cy="359.3" rx="6.8" ry="3.6" transform="rotate(-94 614.1 359.3)" fill="#6b6b6b" stroke="#969696" stroke-width="2.9"/>
<ellipse cx="611.4" cy="328.8" rx="8" ry="4.9" transform="rotate(-69 611.4 328.8)" fill="#5c5c5c" stroke="#919191" stroke-width="2.8"/>
<ellipse cx="677.7" cy="468.1" rx="10.3" ry="5.2" transform="rotate(-176 677.7 468.1)" fill="#3d3d3d" stroke="#919191" stroke-width="2.5"/>
<ellipse cx="683.3" cy="462.1" rx="8.7" ry="5.4" transform="rotate(-162 683.3 462.1)" fill="#5c5c5c" stroke="#adadad" stroke-width="2.9"/>
<ellipse cx="627.1" cy="278.3" rx="8.1" ry="5.1" transform="rotate(-88 627.1 278.3)" fill="#707070" stroke="#919191" stroke-width="3.2"/>
<ellipse cx="683.7" cy="456.6" rx="5.9" ry="3.4" transform="rotate(-184 683.7 456.6)" fill="#4c4c4c" stroke="#919191" stroke-width="3.1"/>
<ellipse cx="573.1" cy="233.6" rx="8.9" ry="3.2" transform="rotate(-127 573.1 233.6)" fill="#6b6b6b" stroke="#a1a1a1" stroke-width="3.2"/>
<ellipse cx="675.7" cy="354.2" rx="6.2" ry="5" transform="rotate(-83 675.7 354.2)" fill="#6b6b6b" stroke="#969696" stroke-width="2.6"/>
<ellipse cx="636" cy="318.6" rx="5" ry="4.2" transform="rotate(-104 636 318.6)" fill="#545454" stroke="#919191" stroke-width="2.4"/>
<ellipse cx="662.2" cy="406.4" rx="9.8" ry="4.9" transform="rotate(-136 662.2 406.4)" fill="#5c5c5c" stroke="#919191" stroke-width="3.4"/>
<ellipse cx="658.5" cy="461.7" rx="10.4" ry="4.7" transform="rotate(-129 658.5 461.7)" fill="#5c5c5c" stroke="#919191" stroke-width="3.2"/>
<ellipse cx="579.9" cy="230.5" rx="5" ry="3.8" transform="rotate(-126 579.9 230.5)" fill="#545454" stroke="#969696" stroke-width="2.5"/>
<ellipse cx="620.8" cy="389.3" rx="7.5" ry="3.1" transform="rotate(-95 620.8 389.3)" fill="#4c4c4c" stroke="#8a8a8a" stroke-width="3.6"/>
<ellipse cx="606.3" cy="375" rx="7.1" ry="3.9" transform="rotate(-86 606.3 375)" fill="#545454" stroke="#919191" stroke-width="2.8"/>
<ellipse cx="614.9" cy="340.5" rx="7.2" ry="4.9" transform="rotate(-89 614.9 340.5)" fill="#6b6b6b" stroke="#919191" stroke-width="3.2"/>
<ellipse cx="558.1" cy="253.8" rx="7.3" ry="4.6" transform="rotate(-179 558.1 253.8)" fill="#5c5c5c" stroke="#8a8a8a" stroke-width="2.7"/>
<ellipse cx="625.2" cy="328" rx="5.8" ry="3.8" transform="rotate(-98 625.2 328)" fill="#6b6b6b" stroke="#969696" stroke-width="2.5"/>
<ellipse cx="702.8" cy="505.5" rx="10.8" ry="5.5" transform="rotate(-189 702.8 505.5)" fill="#4c4c4c" stroke="#969696" stroke-width="2.9"/>
<ellipse cx="680.3" cy="438.5" rx="11" ry="3.6" transform="rotate(-123 680.3 438.5)" fill="#707070" stroke="#969696" stroke-width="3"/>
<ellipse cx="628.6" cy="275.4" rx="8.1" ry="3.6" transform="rotate(-87 628.6 275.4)" fill="#707070" stroke="#919191" stroke-width="3.2"/>
<ellipse cx="663.3" cy="401.4" rx="9.9" ry="4" transform="rotate(-99 663.3 401.4)" fill="#707070" stroke="#a1a1a1" stroke-width="3.5"/>
<ellipse cx="635.5" cy="366" rx="9.5" ry="5" transform="rotate(-72 635.5 366)" fill="#545454" stroke="#adadad" stroke-width="3.6"/>
<ellipse cx="625.6" cy="392.3" rx="6.2" ry="4.6" transform="rotate(-107 625.6 392.3)" fill="#6b6b6b" stroke="#919191" stroke-width="2.9"/>
<ellipse cx="670.2" cy="493.6" rx="10.2" ry="3.5" transform="rotate(-130 670.2 493.6)" fill="#4c4c4c" stroke="#919191" stroke-width="3.7"/>
<ellipse cx="563.2" cy="244.7" rx="9.1" ry="3.5" transform="rotate(-132 563.2 244.7)" fill="#707070" stroke="#919191" stroke-width="3.2"/>
<ellipse cx="612.5" cy="263.2" rx="9.4" ry="4.7" transform="rotate(-71 612.5 263.2)" fill="#3d3d3d" stroke="#919191" stroke-width="3.8"/>
<ellipse cx="604.5" cy="269.7" rx="7.8" ry="4" transform="rotate(-89 604.5 269.7)" fill="#6b6b6b" stroke="#adadad" stroke-width="2.9"/>
<ellipse cx="630.3" cy="317.7" rx="6.2" ry="3.6" transform="rotate(-101 630.3 317.7)" fill="#4c4c4c" stroke="#a1a1a1" stroke-width="3.3"/>
<ellipse cx="592.6" cy="246.9" rx="8.1" ry="4.6" transform="rotate(-83 592.6 246.9)" fill="#3d3d3d" stroke="#919191" stroke-width="2.5"/>
<ellipse cx="668.2" cy="353.9" rx="8" ry="3" transform="rotate(-107 668.2 353.9)" fill="#545454" stroke="#919191" stroke-width="3.5"/>
<ellipse cx="586.7" cy="262.4" rx="10.2" ry="3.8" transform="rotate(-103 586.7 262.4)" fill="#545454" stroke="#a1a1a1" stroke-width="2.8"/>
<ellipse cx="647.1" cy="412.5" rx="8.5" ry="3.1" transform="rotate(-126 647.1 412.5)" fill="#4c4c4c" stroke="#919191" stroke-width="2.8"/>
<ellipse cx="570.5" cy="260.7" rx="6.3" ry="3.4" transform="rotate(-102 570.5 260.7)" fill="#6b6b6b" stroke="#8a8a8a" stroke-width="3.2"/>
<ellipse cx="655" cy="452.7" rx="9" ry="3.5" transform="rotate(-107 655 452.7)" fill="#707070" stroke="#919191" stroke-width="3.6"/>
<ellipse cx="586.7" cy="256.1" rx="10.8" ry="4.6" transform="rotate(-117 586.7 256.1)" fill="#4a4a4a" stroke="#919191" stroke-width="3.1"/>
<ellipse cx="634" cy="429.3" rx="9.6" ry="3.9" transform="rotate(-130 634 429.3)" fill="#5c5c5c" stroke="#919191" stroke-width="3.6"/>
<ellipse cx="608.4" cy="333.7" rx="6" ry="4.7" transform="rotate(-111 608.4 333.7)" fill="#707070" stroke="#919191" stroke-width="3.2"/>
<ellipse cx="623" cy="406.4" rx="5.7" ry="5.4" transform="rotate(-95 623 406.4)" fill="#4a4a4a" stroke="#919191" stroke-width="2.5"/>
<ellipse cx="583.2" cy="269.7" rx="9.7" ry="3.7" transform="rotate(-141 583.2 269.7)" fill="#3d3d3d" stroke="#8a8a8a" stroke-width="3.1"/>
<ellipse cx="646.8" cy="431.5" rx="6.5" ry="4.2" transform="rotate(-124 646.8 431.5)" fill="#4c4c4c" stroke="#a1a1a1" stroke-width="2.7"/>
<ellipse cx="626.1" cy="324.5" rx="8.1" ry="5.2" transform="rotate(-109 626.1 324.5)" fill="#6b6b6b" stroke="#969696" stroke-width="2.9"/>
<ellipse cx="599.6" cy="298.8" rx="6.2" ry="4.2" transform="rotate(-108 599.6 298.8)" fill="#4a4a4a" stroke="#8a8a8a" stroke-width="2.9"/>
<ellipse cx="679.6" cy="446.4" rx="9" ry="3" transform="rotate(-163 679.6 446.4)" fill="#4c4c4c" stroke="#919191" stroke-width="2.5"/>
<ellipse cx="636.6" cy="339.7" rx="8.2" ry="5.4" transform="rotate(-112 636.6 339.7)" fill="#545454" stroke="#919191" stroke-width="3"/>
<ellipse cx="686.3" cy="496.1" rx="6.2" ry="3.6" transform="rotate(-152 686.3 496.1)" fill="#545454" stroke="#919191" stroke-width="2.5"/>
<ellipse cx="599.9" cy="267" rx="7.9" ry="3.6" transform="rotate(-114 599.9 267)" fill="#6b6b6b" stroke="#a1a1a1" stroke-width="3.1"/>
<ellipse cx="586.8" cy="251.8" rx="5.6" ry="4.4" transform="rotate(-92 586.8 251.8)" fill="#4a4a4a" stroke="#919191" stroke-width="3.3"/>
<ellipse cx="656" cy="380.8" rx="8.3" ry="4.8" transform="rotate(-148 656 380.8)" fill="#707070" stroke="#adadad" stroke-width="3.4"/>
<ellipse cx="625.3" cy="247" rx="9.2" ry="4.3" transform="rotate(-114 625.3 247)" fill="#545454" stroke="#adadad" stroke-width="3.6"/>
<ellipse cx="642.3" cy="452.8" rx="9.5" ry="4.2" transform="rotate(-109 642.3 452.8)" fill="#4a4a4a" stroke="#8a8a8a" stroke-width="3"/>
<ellipse cx="653.6" cy="391.6" rx="10.4" ry="5.3" transform="rotate(-119 653.6 391.6)" fill="#4c4c4c" stroke="#a1a1a1" stroke-width="3"/>
<ellipse cx="632.4" cy="392.9" rx="9.4" ry="5.2" transform="rotate(-108 632.4 392.9)" fill="#545454" stroke="#a1a1a1" stroke-width="3.4"/>
<ellipse cx="557.9" cy="245" rx="8.3" ry="3.4" transform="rotate(-164 557.9 245)" fill="#3d3d3d" stroke="#adadad" stroke-width="2.8"/>
<ellipse cx="657.1" cy="413.4" rx="6.3" ry="3.3" transform="rotate(-106 657.1 413.4)" fill="#5c5c5c" stroke="#919191" stroke-width="3.3"/>
<ellipse cx="654.3" cy="426.9" rx="5.6" ry="4.6" transform="rotate(-120 654.3 426.9)" fill="#6b6b6b" stroke="#969696" stroke-width="3.3"/>
<ellipse cx="640.9" cy="420.5" rx="9.8" ry="5.2" transform="rotate(-125 640.9 420.5)" fill="#6b6b6b" stroke="#8a8a8a" stroke-width="2.9"/>
<ellipse cx="614.5" cy="389.4" rx="9.4" ry="3" transform="rotate(-111 614.5 389.4)" fill="#3d3d3d" stroke="#919191" stroke-width="2.4"/>
<ellipse cx="575.2" cy="245.7" rx="9.9" ry="3.2" transform="rotate(-90 575.2 245.7)" fill="#545454" stroke="#919191" stroke-width="2.5"/>
<ellipse cx="610.7" cy="292.2" rx="10" ry="5" transform="rotate(-77 610.7 292.2)" fill="#545454" stroke="#919191" stroke-width="3.1"/>
<ellipse cx="667.8" cy="364.8" rx="11" ry="3.8" transform="rotate(-90 667.8 364.8)" fill="#3d3d3d" stroke="#919191" stroke-width="3.5"/>
<ellipse cx="709" cy="481.7" rx="7.5" ry="3.9" transform="rotate(-188 709 481.7)" fill="#6b6b6b" stroke="#919191" stroke-width="2.6"/>
<ellipse cx="679.6" cy="446.6" rx="9.5" ry="4.4" transform="rotate(-147 679.6 446.6)" fill="#4c4c4c" stroke="#919191" stroke-width="3.1"/>
<ellipse cx="664.8" cy="368.9" rx="5.1" ry="4.3" transform="rotate(-97 664.8 368.9)" fill="#707070" stroke="#a1a1a1" stroke-width="3.6"/>
<ellipse cx="635.7" cy="341.4" rx="6.6" ry="4.5" transform="rotate(-91 635.7 341.4)" fill="#545454" stroke="#adadad" stroke-width="3.2"/>
<ellipse cx="609.7" cy="387.8" rx="5.3" ry="2.9" transform="rotate(-87 609.7 387.8)" fill="#4a4a4a" stroke="#8a8a8a" stroke-width="3.1"/>
<ellipse cx="655.6" cy="415.8" rx="6.9" ry="4.4" transform="rotate(-147 655.6 415.8)" fill="#3d3d3d" stroke="#adadad" stroke-width="2.7"/>
<ellipse cx="679.9" cy="508.8" rx="5.7" ry="4.6" transform="rotate(-146 679.9 508.8)" fill="#5c5c5c" stroke="#8a8a8a" stroke-width="3.7"/>
<ellipse cx="668.1" cy="364.5" rx="7.8" ry="3.3" transform="rotate(-127 668.1 364.5)" fill="#4a4a4a" stroke="#919191" stroke-width="3.4"/>
<ellipse cx="671.8" cy="431.3" rx="8.8" ry="3" transform="rotate(-134 671.8 431.3)" fill="#5c5c5c" stroke="#919191" stroke-width="2.5"/>
<ellipse cx="688.3" cy="459.7" rx="9.6" ry="5.5" transform="rotate(-156 688.3 459.7)" fill="#545454" stroke="#a1a1a1" stroke-width="3.5"/>
<ellipse cx="721" cy="509.9" rx="8.8" ry="4.3" transform="rotate(-174 721 509.9)" fill="#3d3d3d" stroke="#969696" stroke-width="3.2"/>
<ellipse cx="623" cy="338.2" rx="7.3" ry="4.9" transform="rotate(-79 623 338.2)" fill="#5c5c5c" stroke="#a1a1a1" stroke-width="3.8"/>
<ellipse cx="666.6" cy="394.8" rx="10.8" ry="5.2" transform="rotate(-98 666.6 394.8)" fill="#3d3d3d" stroke="#919191" stroke-width="3.5"/>
<ellipse cx="632.6" cy="323.6" rx="7.9" ry="5.3" transform="rotate(-106 632.6 323.6)" fill="#545454" stroke="#919191" stroke-width="3.1"/>
<ellipse cx="655.4" cy="401" rx="7.3" ry="3.8" transform="rotate(-121 655.4 401)" fill="#6b6b6b" stroke="#adadad" stroke-width="3.4"/>
<ellipse cx="559.6" cy="247.9" rx="8.8" ry="4.7" transform="rotate(-147 559.6 247.9)" fill="#6b6b6b" stroke="#adadad" stroke-width="3"/>
<ellipse cx="558.5" cy="234.3" rx="10.8" ry="2.9" transform="rotate(-113 558.5 234.3)" fill="#4a4a4a" stroke="#a1a1a1" stroke-width="2.6"/>
<ellipse cx="715" cy="488.7" rx="8.8" ry="3" transform="rotate(-169 715 488.7)" fill="#3d3d3d" stroke="#a1a1a1" stroke-width="3.4"/>
<ellipse cx="605.5" cy="311.2" rx="8.2" ry="3.9" transform="rotate(-109 605.5 311.2)" fill="#545454" stroke="#919191" stroke-width="2.8"/>
<ellipse cx="675.7" cy="437.1" rx="10.8" ry="4.5" transform="rotate(-139 675.7 437.1)" fill="#4c4c4c" stroke="#a1a1a1" stroke-width="3.2"/>
<ellipse cx="665.9" cy="485.8" rx="5.4" ry="5.3" transform="rotate(-173 665.9 485.8)" fill="#545454" stroke="#919191" stroke-width="2.9"/>
<ellipse cx="675.2" cy="442.2" rx="8.1" ry="5.1" transform="rotate(-161 675.2 442.2)" fill="#6b6b6b" stroke="#a1a1a1" stroke-width="3.8"/>
<ellipse cx="715" cy="484.4" rx="7.8" ry="4.1" transform="rotate(-173 715 484.4)" fill="#5c5c5c" stroke="#919191" stroke-width="3.7"/>
<ellipse cx="683.5" cy="354.2" rx="5.3" ry="4.1" transform="rotate(-115 683.5 354.2)" fill="#4c4c4c" stroke="#a1a1a1" stroke-width="2.4"/>
<ellipse cx="635.8" cy="300.8" rx="11" ry="5.4" transform="rotate(-98 635.8 300.8)" fill="#4c4c4c" stroke="#919191" stroke-width="3.8"/>
<ellipse cx="652.5" cy="439.4" rx="8.6" ry="3.4" transform="rotate(-147 652.5 439.4)" fill="#707070" stroke="#919191" stroke-width="3.4"/>
<ellipse cx="682.1" cy="478.2" rx="7.1" ry="2.8" transform="rotate(-183 682.1 478.2)" fill="#545454" stroke="#919191" stroke-width="2.8"/>
<ellipse cx="628" cy="322.3" rx="5.6" ry="3.9" transform="rotate(-116 628 322.3)" fill="#6b6b6b" stroke="#919191" stroke-width="3.7"/>
<ellipse cx="650.5" cy="426.5" rx="7.2" ry="3" transform="rotate(-116 650.5 426.5)" fill="#545454" stroke="#969696" stroke-width="2.7"/>
<ellipse cx="702.7" cy="517.4" rx="7.2" ry="5.3" transform="rotate(-149 702.7 517.4)" fill="#3d3d3d" stroke="#8a8a8a" stroke-width="3.1"/>
<ellipse cx="659.9" cy="353.4" rx="5.4" ry="5.2" transform="rotate(-91 659.9 353.4)" fill="#707070" stroke="#adadad" stroke-width="2.7"/>
<ellipse cx="646.1" cy="429.6" rx="9.5" ry="5" transform="rotate(-110 646.1 429.6)" fill="#545454" stroke="#919191" stroke-width="3.6"/>
<ellipse cx="708.8" cy="511.6" rx="8.8" ry="4.1" transform="rotate(-189 708.8 511.6)" fill="#4c4c4c" stroke="#8a8a8a" stroke-width="2.5"/>
<ellipse cx="684.4" cy="364.5" rx="5.6" ry="3.4" transform="rotate(-90 684.4 364.5)" fill="#707070" stroke="#a1a1a1" stroke-width="3.1"/>
<ellipse cx="676" cy="364.2" rx="7" ry="4.5" transform="rotate(-119 676 364.2)" fill="#707070" stroke="#919191" stroke-width="2.5"/>
<ellipse cx="582.1" cy="256.5" rx="8.8" ry="5" transform="rotate(-123 582.1 256.5)" fill="#6b6b6b" stroke="#969696" stroke-width="3.2"/>
<ellipse cx="560.9" cy="239.5" rx="9.6" ry="3.5" transform="rotate(-113 560.9 239.5)" fill="#3d3d3d" stroke="#adadad" stroke-width="2.8"/>
<ellipse cx="558.8" cy="234.8" rx="5.9" ry="3.9" transform="rotate(-107 558.8 234.8)" fill="#545454" stroke="#adadad" stroke-width="2.4"/>
<ellipse cx="574.4" cy="241.4" rx="7.8" ry="3.6" transform="rotate(-94 574.4 241.4)" fill="#4c4c4c" stroke="#919191" stroke-width="3.7"/>
<ellipse cx="644.1" cy="465.9" rx="8.3" ry="3.6" transform="rotate(-163 644.1 465.9)" fill="#4c4c4c" stroke="#8a8a8a" stroke-width="3.1"/>
<ellipse cx="640.9" cy="420.4" rx="9.6" ry="4.5" transform="rotate(-132 640.9 420.4)" fill="#545454" stroke="#919191" stroke-width="3.2"/>
<ellipse cx="616.6" cy="251.9" rx="10.4" ry="4.6" transform="rotate(-69 616.6 251.9)" fill="#5c5c5c" stroke="#969696" stroke-width="3.6"/>
<ellipse cx="611" cy="346.1" rx="10.2" ry="5" transform="rotate(-103 611 346.1)" fill="#4c4c4c" stroke="#919191" stroke-width="3.6"/>
<ellipse cx="628.1" cy="289.3" rx="7.6" ry="4.4" transform="rotate(-100 628.1 289.3)" fill="#707070" stroke="#969696" stroke-width="3.3"/>
<ellipse cx="684.1" cy="450.7" rx="10.2" ry="3.1" transform="rotate(-152 684.1 450.7)" fill="#545454" stroke="#919191" stroke-width="3.6"/>
<ellipse cx="664.1" cy="456.5" rx="9.4" ry="2.8" transform="rotate(-145 664.1 456.5)" fill="#3d3d3d" stroke="#adadad" stroke-width="3.8"/>
<ellipse cx="605.2" cy="267.6" rx="8.4" ry="4.1" transform="rotate(-79 605.2 267.6)" fill="#545454" stroke="#919191" stroke-width="3.4"/>
<ellipse cx="703.1" cy="471.6" rx="8.7" ry="5.2" transform="rotate(-192 703.1 471.6)" fill="#3d3d3d" stroke="#919191" stroke-width="3.7"/>
<ellipse cx="606.3" cy="280.2" rx="6.3" ry="3.8" transform="rotate(-121 606.3 280.2)" fill="#4a4a4a" stroke="#969696" stroke-width="3.4"/>
<ellipse cx="606.1" cy="241.7" rx="10.6" ry="4.3" transform="rotate(-92 606.1 241.7)" fill="#707070" stroke="#a1a1a1" stroke-width="3.4"/>
<ellipse cx="655.3" cy="383.8" rx="7" ry="4.7" transform="rotate(-106 655.3 383.8)" fill="#4a4a4a" stroke="#adadad" stroke-width="3.3"/>
<ellipse cx="666.4" cy="481" rx="5" ry="5.2" transform="rotate(-153 666.4 481)" fill="#5c5c5c" stroke="#919191" stroke-width="3.4"/>
<ellipse cx="669.3" cy="391.2" rx="9.4" ry="3.4" transform="rotate(-128 669.3 391.2)" fill="#4c4c4c" stroke="#adadad" stroke-width="3.1"/>
<ellipse cx="603.9" cy="286.7" rx="8.1" ry="3.9" transform="rotate(-68 603.9 286.7)" fill="#545454" stroke="#919191" stroke-width="3.4"/>
<ellipse cx="606.8" cy="262.4" rx="10.4" ry="4.9" transform="rotate(-89 606.8 262.4)" fill="#707070" stroke="#a1a1a1" stroke-width="3"/>
<ellipse cx="656.5" cy="442.5" rx="7.8" ry="3" transform="rotate(-116 656.5 442.5)" fill="#3d3d3d" stroke="#919191" stroke-width="3.5"/>
<ellipse cx="679.6" cy="446.8" rx="7.2" ry="3.7" transform="rotate(-137 679.6 446.8)" fill="#6b6b6b" stroke="#969696" stroke-width="2.7"/>
<ellipse cx="610.7" cy="300" rx="10.1" ry="2.9" transform="rotate(-73 610.7 300)" fill="#3d3d3d" stroke="#adadad" stroke-width="3.5"/>
<ellipse cx="620.8" cy="399.5" rx="9.5" ry="4.5" transform="rotate(-112 620.8 399.5)" fill="#4c4c4c" stroke="#919191" stroke-width="3.7"/>
<ellipse cx="631.2" cy="283.7" rx="7.1" ry="3.3" transform="rotate(-69 631.2 283.7)" fill="#3d3d3d" stroke="#a1a1a1" stroke-width="2.6"/>
<ellipse cx="653.6" cy="374.1" rx="6.6" ry="3.9" transform="rotate(-104 653.6 374.1)" fill="#545454" stroke="#919191" stroke-width="3"/>
<ellipse cx="572.7" cy="257" rx="7.2" ry="5.3" transform="rotate(-123 572.7 257)" fill="#707070" stroke="#919191" stroke-width="3.6"/>
<ellipse cx="656.4" cy="478" rx="9" ry="2.8" transform="rotate(-167 656.4 478)" fill="#4c4c4c" stroke="#919191" stroke-width="3.6"/>
<ellipse cx="637.3" cy="286.4" rx="7.2" ry="3.2" transform="rotate(-68 637.3 286.4)" fill="#6b6b6b" stroke="#969696" stroke-width="3.2"/>
<ellipse cx="614.4" cy="273.1" rx="8.6" ry="5.2" transform="rotate(-89 614.4 273.1)" fill="#4a4a4a" stroke="#adadad" stroke-width="3.2"/>
<ellipse cx="623.5" cy="272.8" rx="7" ry="5.4" transform="rotate(-81 623.5 272.8)" fill="#4a4a4a" stroke="#a1a1a1" stroke-width="3.1"/>
<ellipse cx="660.7" cy="409.8" rx="8.8" ry="2.9" transform="rotate(-125 660.7 409.8)" fill="#4a4a4a" stroke="#919191" stroke-width="2.7"/>
<ellipse cx="631.3" cy="283.5" rx="6.3" ry="3.4" transform="rotate(-93 631.3 283.5)" fill="#3d3d3d" stroke="#a1a1a1" stroke-width="2.6"/>
<ellipse cx="593.4" cy="239.1" rx="9.3" ry="3.1" transform="rotate(-75 593.4 239.1)" fill="#5c5c5c" stroke="#969696" stroke-width="3"/>
<ellipse cx="629.2" cy="260.4" rx="9.6" ry="3.8" transform="rotate(-97 629.2 260.4)" fill="#6b6b6b" stroke="#919191" stroke-width="2.4"/>
<ellipse cx="638" cy="362" rx="10.6" ry="4.1" transform="rotate(-101 638 362)" fill="#3d3d3d" stroke="#919191" stroke-width="3.2"/>
<ellipse cx="658" cy="398.4" rx="5.9" ry="5.1" transform="rotate(-98 658 398.4)" fill="#4a4a4a" stroke="#919191" stroke-width="2.8"/>
<ellipse cx="623.8" cy="334.1" rx="7.7" ry="4.9" transform="rotate(-67 623.8 334.1)" fill="#707070" stroke="#969696" stroke-width="2.8"/>
<path d="M668.6 411.6Q667 408.8 664 407.8T659.8 403.1T655.4 399.4" stroke="#a8a8a8" stroke-width="2.9"/>
<path d="M664.1 452.8Q660.5 451.9 660.3 448.2T655.3 442.4" stroke="#b0b0b0" stroke-width="1.9"/>
<path d="M607.5 371.8Q604.3 369 606.8 365.5T607 360.6" stroke="#5c5c5c" stroke-width="3.4"/>
<path d="M663.2 402.6Q661 400.4 661.6 397.4T659.9 392.9T659.6 388.3" stroke="#5c5c5c" stroke-width="1.9"/>
<path d="M603.3 264.5Q604.3 260.4 602.5 256.6T602.2 248.7" stroke="#6e6e6e" stroke-width="2.2"/>
<path d="M674.3 467.9Q669.9 469.5 668.1 465.2T661.1 461.3" stroke="#a8a8a8" stroke-width="2.6"/>
<path d="M628.7 276.7Q631.7 274.1 631.2 270.3T633.6 262.8" stroke="#a8a8a8" stroke-width="3.2"/>
<path d="M682.1 493.2Q680.8 488.5 675.9 488.6T670 484.3" stroke="#919191" stroke-width="1.9"/>
<path d="M660 421.2Q658.6 417.7 655.4 415.7T651.3 409.3" stroke="#4c4c4c" stroke-width="2.2"/>
<path d="M682.3 485.7Q679.1 482.9 674.9 483.9T668.8 482.6T659 481" stroke="#8f8f8f" stroke-width="3.1"/>
<path d="M644.5 332.6Q646.5 329.5 643.3 327.9T641.9 323.3" stroke="#6e6e6e" stroke-width="1.9"/>
<path d="M566.7 255.2Q565.4 252.4 562.3 252.4T557.4 248.1" stroke="#8f8f8f" stroke-width="2.5"/>
<path d="M586.2 266.2Q582.9 264 582.4 260T577.1 252.9" stroke="#999999" stroke-width="2.6"/>
<path d="M638.1 372.4Q634.6 369.9 635.7 365.7T634.6 357.9" stroke="#b8b8b8" stroke-width="2.6"/>
<path d="M680.6 389.9Q677.8 388.6 677.3 385.5T673.9 381" stroke="#a8a8a8" stroke-width="1.9"/>
<path d="M658.1 384.3Q655.8 381.4 657.8 378.4T657.2 372.3" stroke="#a8a8a8" stroke-width="3.1"/>
<path d="M579.7 276.9Q581.6 273.6 579.3 270.6T580.2 265.2T579.1 257.8" stroke="#6e6e6e" stroke-width="2.9"/>
<path d="M597.4 276.2Q599.3 271.5 594.4 270T591.1 264.6" stroke="#8f8f8f" stroke-width="2.9"/>
<path d="M583 261.4Q579.7 257.9 582 253.7T580.1 245.9T579.4 239.4" stroke="#858585" stroke-width="3.1"/>
<path d="M669.4 404.4Q670.6 400.8 666.8 399.9T665 395.9" stroke="#919191" stroke-width="2.8"/>
<path d="M600.9 274.3Q598.3 271.2 599.8 267.5T597.5 260.7" stroke="#4c4c4c" stroke-width="1.9"/>
<path d="M575.4 258.1Q572.2 258.5 572.1 255.3T570.2 253.2" stroke="#4a4a4a" stroke-width="2.5"/>
<path d="M612.2 360.5Q608.2 357.8 610.2 353.4T607.3 345.1" stroke="#6e6e6e" stroke-width="2.2"/>
<path d="M570.8 246.9Q572 243.3 568.3 242.4T565.9 237.1" stroke="#4a4a4a" stroke-width="2.7"/>
<path d="M599.3 270.1Q595 268.4 597.1 264.2T594.6 259.1T593 251.3" stroke="#b8b8b8" stroke-width="2.4"/>
<path d="M671.5 432.2Q669.9 428.5 665.9 428.5T659.7 424.2T655.6 422.1" stroke="#b8b8b8" stroke-width="2.8"/>
<path d="M687.4 508.8Q683.6 505.9 679.9 508.8T672.5 510" stroke="#8f8f8f" stroke-width="2.6"/>
<path d="M690.2 462.1Q686.4 461 683.2 463.3T675.6 463.3" stroke="#858585" stroke-width="2.3"/>
<path d="M621.7 335.5Q623.2 331.6 620.3 328.8T618.3 322.5T616.7 315.8" stroke="#8f8f8f" stroke-width="3"/>
<path d="M569.6 251.5Q568 249 565.1 248.8T559.9 245.1" stroke="#b0b0b0" stroke-width="2.7"/>
<path d="M713 487.7Q709.2 485.7 706.3 489T698.4 490.9T693.7 492.1" stroke="#b0b0b0" stroke-width="1.9"/>
<path d="M684.7 506Q680.9 507 678 504.4T670.8 502.7T664.1 500.7" stroke="#858585" stroke-width="2.5"/>
<path d="M626.2 346.1Q622.7 343.7 625.5 340.4T626 333.9T624 328.5" stroke="#5c5c5c" stroke-width="3.1"/>
<path d="M642 453.1Q640.4 449.1 636.5 447.6T631.5 442.1" stroke="#8f8f8f" stroke-width="2.4"/>
<path d="M564.2 257.4Q561.2 260.1 559.8 256.3T555.6 256.5" stroke="#8f8f8f" stroke-width="2.7"/>
<path d="M623.5 328.7Q621.8 325 624.1 321.6T626.1 314.8T626.6 307" stroke="#919191" stroke-width="2.1"/>
<path d="M596.8 284.6Q594.2 282.1 596.8 279.7T598 274.8" stroke="#8f8f8f" stroke-width="3.1"/>
<path d="M679.8 495.3Q680.4 490.6 675.7 491.2T670.5 487.3" stroke="#4c4c4c" stroke-width="1.9"/>
<path d="M623.6 313.8Q626.1 310.3 625.2 306.1T625.9 299.8" stroke="#b8b8b8" stroke-width="2.9"/>
<path d="M586.2 241Q590.1 237.8 586.7 234T586.9 227.4T587.6 219.8" stroke="#919191" stroke-width="2.2"/>
<path d="M661 424.8Q655.9 425.6 654.9 420.6T649.1 416.6T643.8 411.4" stroke="#999999" stroke-width="3.3"/>
<path d="M671.4 496.4Q667.5 497.4 664.9 494.4T657.5 493.8" stroke="#858585" stroke-width="1.8"/>
<path d="M625.7 335Q628.7 332.2 626.6 328.7T626.9 322.9" stroke="#858585" stroke-width="2"/>
<path d="M642.2 308.6Q644.4 304.5 640.1 302.8T637.1 297T635.2 292.4" stroke="#b8b8b8" stroke-width="2.1"/>
<path d="M624.6 336.9Q623.9 333.7 626.5 331.6T628.9 325.6T629.8 321.8" stroke="#858585" stroke-width="2.8"/>
<path d="M654.2 469.7Q649 470.7 647.7 465.6T642.3 460.6T635.9 456.7" stroke="#4c4c4c" stroke-width="3.1"/>
<path d="M613.2 359.1Q610.5 354.6 614.7 351.5T616.4 344.6T619.3 335.4" stroke="#858585" stroke-width="2.1"/>
<path d="M682.9 486.8Q679.7 486.3 678.7 483.3T673.3 481.1T669.5 475.2" stroke="#4c4c4c" stroke-width="3"/>
<path d="M699.8 502.5Q696.9 499.6 694.3 502.8T690.2 503.8T684.5 502.5" stroke="#858585" stroke-width="3"/>
<path d="M666.2 437.8Q664.7 434 660.8 433.5T654.7 428.7T649.3 424" stroke="#999999" stroke-width="2.3"/>
<path d="M645.5 380.2Q647.5 377.3 644.7 375.3T644.8 371.1" stroke="#4a4a4a" stroke-width="2.2"/>
<path d="M554.4 240.2Q550.1 241.2 548.3 237.3T541.1 233.2T536.4 230.4" stroke="#919191" stroke-width="3.2"/>
<path d="M607.8 247Q604.8 245.9 605.9 242.9T603.3 237.5" stroke="#919191" stroke-width="3.1"/>
<path d="M649.2 396.7Q650.8 393.1 646.8 393.3T644.2 391.1" stroke="#b8b8b8" stroke-width="2"/>
<path d="M666.5 410.9Q663.2 410.8 661.4 408.1T656.6 406.1" stroke="#4c4c4c" stroke-width="3.2"/>
<path d="M667.5 435.5Q663.3 435 664.4 430.9T662.1 426.6T658.8 422.7" stroke="#b0b0b0" stroke-width="3.1"/>
<path d="M607.3 271.6Q608.6 267.5 606.3 264T606.8 255.4" stroke="#999999" stroke-width="3"/>
<path d="M627.1 392.4Q629.5 388.2 626.6 384.4T627.1 375.6T624.5 369.7" stroke="#919191" stroke-width="2.6"/>
<path d="M718 487.8Q715.6 485.2 712 485.8T705.8 483.7T701.1 482.2" stroke="#6e6e6e" stroke-width="3"/>
<path d="M674.2 486.1Q671.3 486.1 671.3 483.1T668.9 481.2" stroke="#4a4a4a" stroke-width="2.2"/>
<path d="M589 263.1Q590 259.6 587.5 257T586.5 250.8T583.7 245.6" stroke="#a8a8a8" stroke-width="3.1"/>
<path d="M636.8 406.6Q634.9 403.7 636.7 400.6T636.8 394.4T637.5 387.9" stroke="#8f8f8f" stroke-width="2.2"/>
<path d="M643.3 460.2Q639 459.6 641.7 456.2T640.3 453" stroke="#8f8f8f" stroke-width="2"/>
<path d="M605.2 298.2Q605.7 294 602.1 291.8T600.2 284.5" stroke="#5c5c5c" stroke-width="2.6"/>
<path d="M666.5 438Q662.1 438.2 660.8 434T654.7 428.8T649.9 425.2" stroke="#6e6e6e" stroke-width="2.5"/>
<path d="M673.7 400.7Q675.2 396 670.4 394.6T667.3 388" stroke="#5c5c5c" stroke-width="3.3"/>
<path d="M611.9 285.9Q608.6 283.2 609.3 279T605.7 273.2T604.9 266.3" stroke="#5c5c5c" stroke-width="2.7"/>
<path d="M595.7 287.3Q594 283.5 596.6 280.3T596.9 273.9" stroke="#5c5c5c" stroke-width="2.2"/>
<path d="M643.3 439.9Q640.9 438 641.5 435T640 430.4" stroke="#8f8f8f" stroke-width="2.1"/>
<path d="M649.4 321.4Q653.1 319.2 649.2 317.2T647.6 312.4" stroke="#858585" stroke-width="2.6"/>
<path d="M629.6 396.1Q624.8 394.3 627.2 389.8T624.4 384.4" stroke="#4c4c4c" stroke-width="1.9"/>
<path d="M616 354.4Q618.9 351.1 615.4 348.4T614.9 341.4" stroke="#8f8f8f" stroke-width="3.1"/>
<path d="M642.2 463.8Q638.5 463.8 637.8 460.2T632.7 458" stroke="#8f8f8f" stroke-width="1.9"/>
<path d="M570.3 249.3Q567.1 245.8 563.3 248.7T555.5 249.1T548.8 247" stroke="#4a4a4a" stroke-width="2.1"/>
<path d="M604.6 330.8Q600.9 327.5 604 323.6T603.9 317.5" stroke="#919191" stroke-width="3.3"/>
<path d="M650.6 405.1Q649.9 401.2 646.4 399.5T640.7 394.9T639.3 388.6" stroke="#b8b8b8" stroke-width="2.6"/>
<path d="M682.3 489.5Q677.6 489.4 678.4 484.7T674.1 478.8T671.9 475.3" stroke="#4a4a4a" stroke-width="2.8"/>
<path d="M584.9 245.3Q580.7 244.5 582 240.4T578.7 234.9T576.7 230.8" stroke="#4c4c4c" stroke-width="2.2"/>
<path d="M673.8 440Q670 439.2 669.2 435.3T665.6 429T661 427" stroke="#4c4c4c" stroke-width="2.2"/>
<path d="M634.8 322.8Q631.7 319.3 635.5 316.7T635.1 309.8" stroke="#858585" stroke-width="2.7"/>
<path d="M676.3 424.4Q675.3 421.9 672.7 422.3T668.6 420" stroke="#a8a8a8" stroke-width="1.9"/>
<path d="M583 238.5Q584.5 234.5 580.3 235.5T578.8 233.4" stroke="#919191" stroke-width="2"/>
<path d="M719.8 485.7Q716.9 482.4 712.6 482.8T705.3 480.2T698.2 478.2" stroke="#4a4a4a" stroke-width="2.4"/>
<path d="M700.8 485.9Q696.9 488.3 695.2 484.1T690.8 483.4T683.1 480" stroke="#b8b8b8" stroke-width="2.6"/>
<path d="M683 352.8Q680.5 349.1 682.4 345.1T681.6 336.2" stroke="#919191" stroke-width="1.8"/>
<path d="M720.9 521.7Q719 517.8 714.9 519.4T708.6 517.8" stroke="#5c5c5c" stroke-width="2.1"/>
<path d="M663.7 394.2Q660.2 392.7 661.3 389.1T660.2 383.4T658 378.4" stroke="#b8b8b8" stroke-width="3.2"/>
<path d="M718.1 479Q715.1 475.5 712.1 479T707 480.1T700.6 478.6" stroke="#a8a8a8" stroke-width="3.3"/>
<path d="M578.2 242.3Q577.5 239.4 575 237.9T572.8 233.4T567.5 229.7" stroke="#919191" stroke-width="2.8"/>
<path d="M663.9 464Q660.9 464.4 658.4 462.5T654.3 459.8" stroke="#5c5c5c" stroke-width="1.9"/>
<path d="M726.1 486.6Q723.1 483.4 718.7 484.2T711.4 480.6T704.4 478.2" stroke="#919191" stroke-width="2.5"/>
<path d="M634.4 259.4Q636.8 255.3 632.6 253.2T632.2 246" stroke="#919191" stroke-width="1.9"/>
<path d="M661.5 484.6Q659.6 481.3 656.2 479.6T649.8 474.2" stroke="#919191" stroke-width="3.1"/>
<path d="M725.3 480.2Q723.3 478.6 721 479.8T716 480" stroke="#5c5c5c" stroke-width="1.9"/>
<path d="M592.6 272.3Q594 268.8 591.5 266T590.4 261.1T588.3 253.4" stroke="#b0b0b0" stroke-width="2.1"/>
<path d="M619.8 261.2Q622 258.5 621.9 255T622.8 248.7" stroke="#b0b0b0" stroke-width="3"/>
<path d="M674.7 426.1Q670.9 427.3 667.9 424.9T660.6 424.4" stroke="#b8b8b8" stroke-width="2.1"/>
<path d="M664.4 450.1Q665.2 445.6 660.7 445.3T657.6 439.2" stroke="#4c4c4c" stroke-width="2.7"/>
<path d="M678.6 448.6Q673.5 448.2 673.4 443.2T667.4 437.9T664.4 431.9" stroke="#5c5c5c" stroke-width="2.3"/>
<path d="M674.5 491.8Q673.7 488.9 670.7 488.8T667.6 485.2" stroke="#4a4a4a" stroke-width="3.1"/>
<path d="M648 453.3Q643.2 453.6 642.6 448.9T635.8 445.5T630.8 441" stroke="#4a4a4a" stroke-width="2.4"/>
<path d="M694.2 374.2Q689.9 373.1 692 369.1T688.6 364T687.5 359.7" stroke="#999999" stroke-width="3.2"/>
<path d="M664.6 413.9Q665.2 409.6 661.5 407.3T657.6 400.6" stroke="#919191" stroke-width="2.7"/>
<path d="M676.2 350.4Q673 346.4 676.4 342.6T676.1 335.3" stroke="#919191" stroke-width="3.2"/>
<path d="M587.3 244Q585.7 241.1 587.1 238T587.6 231.9T585.3 225.4" stroke="#a8a8a8" stroke-width="2.7"/>
<path d="M630.6 421.9Q627.5 419.1 630.1 415.8T628.3 409.2" stroke="#999999" stroke-width="1.9"/>
<path d="M615.1 237.7Q617.6 235.7 615.9 232.9T617.2 228.8" stroke="#919191" stroke-width="2.2"/>
<path d="M653.9 418.1Q650.4 415.9 651 411.8T647.6 404.6T646.1 400.6" stroke="#919191" stroke-width="3"/>
<path d="M651.7 302.5Q649.2 299.4 651.1 295.8T651.7 289.4" stroke="#b0b0b0" stroke-width="2.9"/>
<path d="M671.6 389.7Q670.1 385.9 666.3 384.4T660.8 380.1" stroke="#919191" stroke-width="2.5"/>
<path d="M567 249.4Q564.6 246.9 561 246.7T554.9 244.7T548.8 241.4" stroke="#4c4c4c" stroke-width="3"/>
<path d="M622.9 305.5Q620.3 304 621.4 301.2T619.3 295.4" stroke="#a8a8a8" stroke-width="2.6"/>
<path d="M610.9 278.3Q607.8 276.9 608.7 273.6T606.1 268.2" stroke="#a8a8a8" stroke-width="2.4"/>
<path d="M631.6 288.5Q634.9 285.8 631.3 283.6T629.8 278.7" stroke="#b8b8b8" stroke-width="2.1"/>
<path d="M674.9 413.7Q670.9 414.7 668.4 411.6T662.6 407.9T657 407.9" stroke="#919191" stroke-width="3"/>
<path d="M665.5 388.7Q663.1 386 664.7 382.7T662.9 377.3T663.9 370" stroke="#999999" stroke-width="1.9"/>
<path d="M636.1 315.9Q640.2 313.7 636.9 310.5T639.1 305.7" stroke="#4c4c4c" stroke-width="3.1"/>
<path d="M648.4 438.3Q645.3 436.2 646.6 432.7T644.9 427.2" stroke="#858585" stroke-width="2.6"/>
<path d="M582.4 243.3Q578.8 242.7 580.6 239.5T579.9 234.6" stroke="#919191" stroke-width="2.6"/>
<path d="M600.2 287.2Q596.5 285.9 598 282.2T595.1 276.6T593.5 273.3" stroke="#8f8f8f" stroke-width="3.4"/>
<path d="M661.3 460.5Q659.3 455.7 654.3 457.3T647.2 453.9" stroke="#4c4c4c" stroke-width="3.1"/>
<path d="M618.6 352.1Q616.9 349.6 617.4 346.6T615.9 342" stroke="#919191" stroke-width="2.1"/>
<path d="M644.9 365.9Q641 363.7 642.7 359.6T640.8 353.9T639.1 345.7" stroke="#5c5c5c" stroke-width="3"/>
<path d="M681.2 383.1Q682.2 379.9 679.6 377.7T677.1 371.8" stroke="#919191" stroke-width="2.9"/>
<path d="M679.5 477.9Q676 477.8 674.6 474.7T669.4 470.3T663.6 468.1" stroke="#4a4a4a" stroke-width="3.3"/>
<path d="M588 274.7Q587.7 271 584.6 269.2T581 264.6T576.4 258.5" stroke="#8f8f8f" stroke-width="2.1"/>
<path d="M619 366.1Q620.9 363.3 618.1 361.4T616.4 357.1" stroke="#4a4a4a" stroke-width="2"/>
<path d="M663.9 401.8Q663 397.4 658.6 396.2T652.5 390.5T647.2 384.1" stroke="#5c5c5c" stroke-width="2.1"/>
<path d="M665.1 414.1Q662.3 413.8 660.9 411.3T657.1 410" stroke="#858585" stroke-width="2.2"/>
<path d="M670.6 429.8Q668.8 426.7 665.5 428.1T660 425.4T655 424.2" stroke="#b0b0b0" stroke-width="2.8"/>
<path d="M656.4 414.4Q653.5 413.1 652.5 410.1T648 405.2" stroke="#919191" stroke-width="3.3"/>
<path d="M609 301.8Q607.2 298.1 607.9 294.1T606.1 287T606.6 277.1" stroke="#4a4a4a" stroke-width="2.6"/>
<path d="M602.4 313.5Q601 310.8 603.2 308.8T605.5 304.3" stroke="#8f8f8f" stroke-width="2.1"/>
<path d="M676.9 383.7Q672.3 382.9 672.3 378.3T667.6 373.6T664.7 367.9" stroke="#a8a8a8" stroke-width="2"/>
<path d="M679 481Q676.3 477.2 671.8 477.8T663.4 475.2" stroke="#4c4c4c" stroke-width="2.3"/>
<path d="M677.2 462.4Q674.7 460.1 671.5 461.1T665.8 460.6T659.7 458.2" stroke="#4c4c4c" stroke-width="3.3"/>
<path d="M661.7 418.3Q662.5 413.9 658 414T655.1 409.9" stroke="#4c4c4c" stroke-width="3.3"/>
<path d="M670.3 497.7Q666.4 497.1 667 493.2T665 489.6T660.1 483.4" stroke="#858585" stroke-width="2.5"/>
<path d="M622.4 368.2Q625.2 366 623.7 362.7T623.8 358.7" stroke="#919191" stroke-width="3.1"/>
<path d="M676.6 478.3Q675.4 475 672 475.3T667.4 472" stroke="#4a4a4a" stroke-width="2.6"/>
<path d="M726.1 496.6Q723.3 497.4 721 495.5T716.8 493.7" stroke="#6e6e6e" stroke-width="2.3"/>
<path d="M701.7 365.9Q701.4 361.4 697 360.6T693.1 354.9T688.1 349.1" stroke="#5c5c5c" stroke-width="2.9"/>
<path d="M618.2 356.9Q619.8 353 617.2 349.7T615.9 341.6T614.3 335.3" stroke="#4c4c4c" stroke-width="2.2"/>
<path d="M694.3 456.6Q691.5 455.3 688.5 456T683.2 455.4" stroke="#4c4c4c" stroke-width="1.9"/>
<path d="M670.3 396.8Q665.8 396.2 666.8 391.8T662.4 385.4T661.2 383" stroke="#6e6e6e" stroke-width="2"/>
<path d="M596.2 271.2Q592.3 268.4 595.4 264.7T594.2 257.5" stroke="#a8a8a8" stroke-width="2.8"/>
<path d="M725.4 497.9Q722.8 494.5 718.5 494.3T710.7 490.8T703.9 486.4" stroke="#6e6e6e" stroke-width="1.9"/>
<path d="M654.3 434.8Q649.3 434.3 650.4 429.4T647.2 425T641.5 418.4" stroke="#a8a8a8" stroke-width="2.7"/>
<path d="M618.5 267.6Q621 264.7 619.3 261.4T619.5 254.2" stroke="#919191" stroke-width="2.1"/>
<path d="M618.8 379.9Q617.4 376.2 619.5 373T620.5 365.2T622.6 360.1" stroke="#8f8f8f" stroke-width="3.2"/>
<path d="M675.5 420.1Q673.8 415.2 668.9 416.6T661.4 413.8" stroke="#a8a8a8" stroke-width="2.2"/>
<path d="M676 375.6Q672 375.3 671.9 371.3T666.6 368.4" stroke="#b8b8b8" stroke-width="3.2"/>
<path d="M586.9 283Q584.5 279.6 586.5 276.1T586.9 268.6" stroke="#919191" stroke-width="2.3"/>
<path d="M607.4 369.2Q609.5 366.2 608.3 362.8T609.9 357.8T608.7 351.6" stroke="#919191" stroke-width="3.2"/>
<path d="M622.8 398.3Q625.5 394.3 622.7 390.4T623.6 382T623.5 373.6" stroke="#8f8f8f" stroke-width="3.2"/>
<path d="M662.5 456.7Q662.1 454.1 659.6 453.3T655.5 451" stroke="#a8a8a8" stroke-width="2.1"/>
<path d="M558.4 237.4Q556.6 234.9 553.5 235T549.6 233.6T542.4 229.1" stroke="#a8a8a8" stroke-width="3.4"/>
<path d="M617.1 324.1Q616.4 320.5 618.9 318T619.4 311.3T623.9 305.1" stroke="#a8a8a8" stroke-width="2"/>
<path d="M641.7 448.1Q642.4 444.2 638.5 444.5T636 442" stroke="#858585" stroke-width="2.7"/>
<path d="M694.9 490.6Q691.5 490.9 689.5 488.1T683 484.2T679.4 482.1" stroke="#4c4c4c" stroke-width="3.2"/>
<path d="M702.9 515.9Q700.2 512.3 696.9 515.4T690 514" stroke="#6e6e6e" stroke-width="2"/>
<path d="M679 385.1Q678.6 382.8 676.5 381.7T674.7 378" stroke="#5c5c5c" stroke-width="2.7"/>
<path d="M622.8 294.5Q625.6 291.3 623.7 287.6T625.8 282T624.9 272.9" stroke="#b0b0b0" stroke-width="2.4"/>
<path d="M674.9 402Q676 398.1 673.2 395.1T672.4 389.3T670 381.1" stroke="#b0b0b0" stroke-width="2.3"/>
<path d="M586.1 259.3Q585.3 257 586.8 255T586.2 250.3" stroke="#a8a8a8" stroke-width="2"/>
<path d="M678.9 445.7Q677.4 442.8 675 444.9T670.7 443.6" stroke="#5c5c5c" stroke-width="3.1"/>
<path d="M620.2 396.4Q619.1 392.7 621.7 389.8T623.6 383.3T623.8 376.3" stroke="#919191" stroke-width="2.3"/>
<path d="M622.5 268.1Q621.9 263.8 625.1 260.9T626.6 252.5T629.6 245.8" stroke="#6e6e6e" stroke-width="2"/>
<path d="M704.4 509.7Q699.6 510.7 697.2 506.6T688.7 504.6" stroke="#6e6e6e" stroke-width="3.3"/>
<path d="M606.4 273.3Q604.2 271.1 605.1 268.1T603.6 263.1" stroke="#919191" stroke-width="2"/>
<path d="M649.6 440.8Q645.8 438.5 647 434.2T644 428.9T641.5 419.8" stroke="#858585" stroke-width="3.3"/>
<path d="M555.4 249.4Q551.4 249.3 552.1 245.4T549 241.6" stroke="#b8b8b8" stroke-width="2.4"/>
<path d="M617.1 284.3Q619 280.8 617.5 277.2T617.8 270.2" stroke="#b8b8b8" stroke-width="2.5"/>
<path d="M677.9 467.1Q677.7 462.4 673.2 463.5T667.2 459.1" stroke="#919191" stroke-width="1.9"/>
<path d="M563.7 240.9Q559.7 239.3 558.9 235.1T553.1 228.6" stroke="#b0b0b0" stroke-width="2.6"/>
<path d="M621.1 273.3Q622.7 271 621.4 268.5T622.3 262.8" stroke="#919191" stroke-width="2.8"/>
<path d="M635.5 360.4Q639.3 357.3 635.8 353.9T636.9 347.3" stroke="#b0b0b0" stroke-width="2.9"/>
<path d="M670.8 437.3Q669.1 435.4 666.6 435.9T662 434" stroke="#a8a8a8" stroke-width="2.3"/>
<path d="M620.7 280.6Q617.5 277.4 619.3 273.2T619.1 265.7" stroke="#858585" stroke-width="2.7"/>
<path d="M607.1 302.1Q604.8 299.1 608.3 297.6T608.4 294.6" stroke="#6e6e6e" stroke-width="2.3"/>
<path d="M646.8 278.3Q648.3 274.4 647 270.5T646.7 263.8" stroke="#919191" stroke-width="3.2"/>
<path d="M681.9 455.6Q679 455.6 679.1 452.6T677.5 450.5" stroke="#4a4a4a" stroke-width="2"/>
<path d="M674 459.8Q671.4 457 667.6 456.2T660.6 451.2T655.8 448.7" stroke="#a8a8a8" stroke-width="2.7"/>
<path d="M684.4 507.5Q681.6 503.5 677.7 506.6T671 505.9T665.8 504.3" stroke="#919191" stroke-width="2"/>
<path d="M676.6 386.2Q673.2 383.9 672.5 379.8T667.1 374.6" stroke="#a8a8a8" stroke-width="2.1"/>
<path d="M652.8 430.3Q648.9 429.9 650.6 426.3T649.7 423.7" stroke="#4c4c4c" stroke-width="1.8"/>
<path d="M589.2 266.6Q586.4 264.3 586.7 260.7T585.3 254.1" stroke="#999999" stroke-width="2.4"/>
<path d="M623.9 335.9Q621.3 331.8 624.9 328.6T626.8 320.8" stroke="#a8a8a8" stroke-width="2.2"/>
<path d="M634.1 319.2Q636.9 315.7 634.8 311.7T636.5 305.3T636.9 296.2" stroke="#4c4c4c" stroke-width="2.3"/>
<path d="M682 461.1Q681.7 457.6 678.5 459T675.7 456.6" stroke="#4c4c4c" stroke-width="2.7"/>
<path d="M622.1 357.2Q624.5 353.3 620.1 352T618.7 345.7T616.4 340.1" stroke="#4c4c4c" stroke-width="2"/>
<path d="M600.2 287.5Q600.1 284.5 597.9 282.6T595.1 278.6T592.5 271.6" stroke="#919191" stroke-width="2.1"/>
<path d="M717.4 496.5Q715.5 492.4 711.8 495.1T706.7 493.8T701.6 493.4" stroke="#999999" stroke-width="2.4"/>
<path d="M643.9 304.8Q647.1 302.4 644.5 299.3T646.2 294.3T646.9 288.8" stroke="#999999" stroke-width="2.9"/>
<path d="M588.2 258.7Q583.4 258.1 583.8 253.3T578.5 246.5T575.4 241.4" stroke="#b0b0b0" stroke-width="1.9"/>
<path d="M612.9 266.3Q616.7 264.2 613.8 261T613.6 256T616.9 251.2" stroke="#919191" stroke-width="2.2"/>
<path d="M667.2 430.5Q664.2 429.9 663 427.1T658.3 424.5" stroke="#6e6e6e" stroke-width="2.8"/>
<path d="M645.5 302.2Q643.9 299 646.7 296.9T646.8 291.4T650 285.8" stroke="#999999" stroke-width="2.4"/>
<path d="M724.7 527.1Q722.7 522.9 718.1 523.5T711.3 519.9T704.1 517" stroke="#858585" stroke-width="3.1"/>
<path d="M606.7 243.7Q608.4 241.1 607 238.4T607.1 232.1" stroke="#6e6e6e" stroke-width="2.5"/>
<path d="M656.5 364.6Q653.4 363.6 654.9 360.6T653.4 357.9" stroke="#999999" stroke-width="2.5"/>
<path d="M686.9 442.6Q682.1 445.3 679.3 440.6T671.8 439.4T664.1 436" stroke="#b8b8b8" stroke-width="3"/>
<path d="M601.4 247.1Q598.7 245 599.5 241.7T597 235.1" stroke="#858585" stroke-width="3.1"/>
<path d="M661.7 433.1Q657.8 431.6 658.6 427.6T654.3 423.2" stroke="#999999" stroke-width="2.5"/>
<path d="M569.6 254.2Q566.1 253.4 566.2 249.8T563.7 245.1T560.1 242.2" stroke="#a8a8a8" stroke-width="2.6"/>
<path d="M676.7 453Q673.7 449.8 669.6 451.2T661.8 449.7" stroke="#6e6e6e" stroke-width="2.8"/>
<path d="M666.5 486.2Q662 486.6 661 482.3T654.5 477.7" stroke="#999999" stroke-width="2.1"/>
<path d="M666.5 415.5Q662.6 416.1 660.7 412.6T655 410" stroke="#999999" stroke-width="3.3"/>
<path d="M604.3 272.9Q603 270.1 605.1 267.9T605.9 264.1" stroke="#4c4c4c" stroke-width="2"/>
<path d="M655.4 427.2Q655 424.2 652.6 422.4T649.7 417.3" stroke="#b0b0b0" stroke-width="2.8"/>
<path d="M617.8 388.4Q617.1 385.5 618.5 382.8T619.6 375.6" stroke="#4c4c4c" stroke-width="2.5"/>
<path d="M640.7 418.4Q642.1 414.6 640.9 410.7T639.9 403.7" stroke="#8f8f8f" stroke-width="2"/>
<path d="M603.5 285.4Q599.6 282.3 603.1 278.7T601.6 271.4T601.4 264.6" stroke="#4c4c4c" stroke-width="3"/>
<path d="M717.7 497.7Q715.1 501.8 711.8 498.3T704.6 500.1T698.9 499.3" stroke="#b8b8b8" stroke-width="2.4"/>
<path d="M599.2 290.6Q595.9 288.5 599.4 286.6T599.1 281.1" stroke="#4c4c4c" stroke-width="3.4"/>
<path d="M617.9 398.7Q617 395.2 618.9 392.2T618.9 386.9" stroke="#919191" stroke-width="2.6"/>
<path d="M586.2 250.2Q590.3 246.7 586.9 242.5T587.4 235.9" stroke="#4a4a4a" stroke-width="2.2"/>
<path d="M632.9 338.8Q634.5 335.9 632.9 333T634.3 328.6" stroke="#5c5c5c" stroke-width="3.3"/>
<path d="M702.8 470.1Q699.2 470.1 696.3 467.8T688.8 464.2T684.5 462.1" stroke="#858585" stroke-width="1.9"/>
<path d="M670.8 505.5Q665.8 505.1 666.7 500.2T661.3 493.5T658.6 490.8" stroke="#8f8f8f" stroke-width="3.1"/>
<path d="M609 329.2Q611.1 326.6 608 325.2T608.1 322.3" stroke="#5c5c5c" stroke-width="3.4"/>
<path d="M615.2 260.1Q611.9 257.8 612 253.8T609.5 247.9T605.2 242.5" stroke="#919191" stroke-width="2"/>
<path d="M561.6 241.6Q564.2 238 559.8 237.1T557.6 234" stroke="#919191" stroke-width="2.8"/>
<path d="M672 357Q670.8 353.6 672.6 350.6T673.1 344.1T674.8 336.4" stroke="#858585" stroke-width="2.2"/>
<path d="M612.7 304Q616.2 301.2 612.9 298.2T614.4 291.4T614.2 285.3" stroke="#919191" stroke-width="2"/>
<path d="M642.5 282.4Q640.8 278.5 644.4 276.3T645.3 268.9T647.1 262.7" stroke="#5c5c5c" stroke-width="3"/>
<path d="M617.6 263.1Q620.4 259.3 616.7 256.4T614.9 250.2T614.3 243.5" stroke="#b0b0b0" stroke-width="2"/>
<path d="M670.5 347Q668 345.3 667.6 342.3T665.8 338.4" stroke="#a8a8a8" stroke-width="3.2"/>
<path d="M624 291.7Q625.9 288.2 623.7 284.9T622 276.9" stroke="#a8a8a8" stroke-width="2"/>
<path d="M655.2 403.6Q650.9 402.2 652.1 397.8T648 392.7" stroke="#a8a8a8" stroke-width="2.5"/>
<path d="M583.9 270Q581.8 267.5 583 264.5T581 259.1T579.8 253.1" stroke="#8f8f8f" stroke-width="3.2"/>
<path d="M562 247.3Q559 245.8 555.6 246.4T547.9 246.2T541.6 245.7" stroke="#858585" stroke-width="2.3"/>
<path d="M658.9 422.9Q659.4 418.8 655.4 418T651.1 414.6" stroke="#b0b0b0" stroke-width="3.2"/>
<path d="M654 385.2Q651.8 382.3 653 378.9T652.7 372.4T651.9 366.8" stroke="#858585" stroke-width="2.9"/>
<path d="M579.6 265.2Q577.3 261.4 572.9 260.9T567.3 256.2T558.5 251.2" stroke="#8f8f8f" stroke-width="1.9"/>
<path d="M638.8 284.2Q641.1 280.1 636.6 278.7T633.8 273.4T632.9 266.9" stroke="#999999" stroke-width="1.9"/>
<path d="M613.5 314.1Q614.8 310 612.8 306.2T610.7 299.6" stroke="#919191" stroke-width="2.6"/>
<path d="M671.1 394.7Q668 394.1 668.9 391T665.2 386.2" stroke="#a8a8a8" stroke-width="1.9"/>
<path d="M665.5 401.8Q661.5 401 661.3 396.9T656.5 391T652.6 388.4" stroke="#5c5c5c" stroke-width="3.2"/>
<path d="M713.2 468.4Q709.5 470.9 706.5 467.7T700 467.1T692.5 466.2" stroke="#4a4a4a" stroke-width="2.5"/>
<path d="M615.9 264Q619.4 260.7 615.8 257.6T615.2 251.8T614.8 246.1" stroke="#b0b0b0" stroke-width="2.9"/>
<path d="M669.4 391.7Q666.7 388.2 668.9 384.4T667.2 378.2" stroke="#6e6e6e" stroke-width="3.3"/>
<path d="M615.3 357.9Q613.3 355.4 613.3 352.2T611.6 346.8" stroke="#8f8f8f" stroke-width="1.9"/>
<path d="M658 383.1Q660.4 380.6 657.8 378.4T656.6 372.6" stroke="#919191" stroke-width="2.8"/>
<path d="M651.4 431.7Q648.7 431.3 648.6 428.6T647 425.6" stroke="#6e6e6e" stroke-width="3.2"/>
<path d="M645.1 369.3Q646.8 366.4 644.2 364.4T644.2 360.6" stroke="#858585" stroke-width="2.8"/>
<path d="M598.7 249.5Q597.2 245.7 599.4 242.2T601.5 236.3" stroke="#919191" stroke-width="1.9"/>
<path d="M713.8 473.3Q711.4 471.5 709.1 473.5T704 472.9" stroke="#919191" stroke-width="2.6"/>
<path d="M612.9 354Q615.9 351.2 615.6 347.2T618.3 339.6T620.9 333.3" stroke="#8f8f8f" stroke-width="3.1"/>
<path d="M608.1 265.9Q607.4 261.8 604.6 258.7T602 252.5T597.1 245.6" stroke="#999999" stroke-width="2.4"/>
<path d="M681.8 427.3Q677.7 428.7 675.6 424.9T671 423.6T664.7 418.7" stroke="#4a4a4a" stroke-width="3.2"/>
<path d="M634 332.4Q632.4 329.3 633 325.9T632.1 319.9T631.4 313.2" stroke="#4a4a4a" stroke-width="2.8"/>
<path d="M657.5 412.6Q652.7 411.2 655 406.8T652.6 399.7T651.6 394" stroke="#6e6e6e" stroke-width="2.5"/>
<path d="M564.2 238.3Q560.4 239 559.1 235.5T554.2 233.1" stroke="#4a4a4a" stroke-width="3.3"/>
<path d="M634.8 416.4Q634.8 412.3 632.3 408.9T630.3 401.5T628.9 395.3" stroke="#8f8f8f" stroke-width="2.2"/>
<path d="M711.8 483.3Q709 481.3 705.9 482.6T700.6 483.4T693.4 480.8" stroke="#919191" stroke-width="2.2"/>
<path d="M657.7 387.9Q659.1 383.3 654.3 383.1T649.8 379.7" stroke="#6e6e6e" stroke-width="2.2"/>
<path d="M581.9 264.5Q583.5 259.4 578.4 257.5T573.5 249.4T572.7 244.9" stroke="#a8a8a8" stroke-width="2.5"/>
<path d="M607.8 312.8Q611.6 309.4 608 305.9T607.2 299.8" stroke="#8f8f8f" stroke-width="3.4"/>
<path d="M639.6 325Q644.1 322.9 641 319T641.4 312.2T644.7 306.2" stroke="#919191" stroke-width="2.8"/>
<path d="M631.8 388.2Q627.3 385.7 629.5 380.9T626.6 373.1T624.7 367.3" stroke="#6e6e6e" stroke-width="1.9"/>
<path d="M662.9 363.8Q659.4 361.3 660.6 357.3T659.2 351.1T654.7 344.1" stroke="#858585" stroke-width="2.3"/>
<path d="M623.5 335.8Q625.2 333.3 624.7 330.4T624.7 324.4T628.6 321" stroke="#6e6e6e" stroke-width="3.2"/>
<path d="M658.1 375.4Q660.5 371.7 658 368T659.2 359.8" stroke="#5c5c5c" stroke-width="2.1"/>
<path d="M686.7 442.6Q684.7 438.5 680.2 439.4T672.6 434.7" stroke="#4c4c4c" stroke-width="2.8"/>
<path d="M549.6 241.2Q546.1 240.2 545.8 236.6T540.7 232.4" stroke="#b0b0b0" stroke-width="2.5"/>
<path d="M711.7 472.7Q708 469.8 706 474.1T699.7 474.8T693 476.4" stroke="#858585" stroke-width="3"/>
<path d="M605.8 268Q607.9 263.4 603.4 261.2T601.3 255.7T597.2 247.4" stroke="#5c5c5c" stroke-width="2.4"/>
<path d="M661.3 406Q662.7 401.5 658.3 399.8T655.9 394.6T651.7 386" stroke="#858585" stroke-width="3.1"/>
<path d="M622.4 304.6Q619.5 303 621.8 300.6T621.1 297.5" stroke="#919191" stroke-width="3.1"/>
<path d="M707.6 467.1Q705.9 470.2 703.1 467.9T698.5 469.9" stroke="#a8a8a8" stroke-width="2.4"/>
<path d="M603.9 234.6Q604.4 230.5 602.1 227.1T600.4 220.4" stroke="#5c5c5c" stroke-width="1.9"/>
<path d="M626.8 344.9Q628.7 340.7 624.7 338.3T621.3 332.3" stroke="#919191" stroke-width="2.5"/>
<path d="M703.2 502.5Q699.7 500.4 695.6 500.6T688.1 498.4T681 497.5" stroke="#4c4c4c" stroke-width="2.8"/>
<path d="M615.8 342.1Q616.4 337.9 613.3 334.9T611.4 326.4" stroke="#919191" stroke-width="2.3"/>
<path d="M709.3 520.1Q707 515.5 702.7 518.2T695.3 517.2" stroke="#6e6e6e" stroke-width="2.9"/>
<path d="M650.1 304.3Q647.1 301.6 648.2 297.6T645.3 292.2T644.8 284.5" stroke="#b0b0b0" stroke-width="2.5"/>
<path d="M662.1 408.5Q657 407.5 658 402.3T652.6 396.4" stroke="#4a4a4a" stroke-width="2.5"/>
<path d="M720.3 475.5Q717.5 477.4 715.1 475T708.7 473.7" stroke="#999999" stroke-width="2.4"/>
<path d="M601.1 295.3Q602.7 292 599.9 289.6T599 282.9T598.8 277.2" stroke="#919191" stroke-width="2"/>
<path d="M556.2 245.5Q553.8 246.6 551.8 245T547.4 245.6" stroke="#5c5c5c" stroke-width="2.8"/>
<path d="M598 284Q594.5 283 596.7 280.1T594.2 277.4" stroke="#4c4c4c" stroke-width="2.1"/>
<path d="M632.9 381.5Q631.1 378.3 632.3 374.9T633.1 368.9T630.2 361" stroke="#5c5c5c" stroke-width="2.5"/>
<path d="M725.1 495.1Q723.3 497.5 721 495.6T716.5 496.6" stroke="#919191" stroke-width="2.4"/>
<path d="M642.1 367.8Q639.7 364 641.8 360.1T641.9 352.5T640.7 344.3" stroke="#999999" stroke-width="3.4"/>
<path d="M643 450Q640.6 449 640.9 446.5T638.7 444.1" stroke="#919191" stroke-width="2"/>
<path d="M710.6 480.3Q707.4 477.3 703 478.2T695.4 477.5" stroke="#b0b0b0" stroke-width="3.1"/>
<path d="M647.8 381.5Q643.1 379.7 644.9 374.9T641.9 368.3" stroke="#919191" stroke-width="3.1"/>
<path d="M678.8 447.7Q674.8 449.7 674.9 445.2T671.8 443" stroke="#999999" stroke-width="2.8"/>
<path d="M727.8 509.7Q724 507.4 721 510.7T713.3 512.7" stroke="#a8a8a8" stroke-width="2.2"/>
<path d="M726.9 505.6Q724.4 503.2 721 503.8T715.7 500.6" stroke="#b0b0b0" stroke-width="2.3"/>
<path d="M673.6 389.9Q675.3 386.1 673.5 382.3T673.7 375.2T672 366.5" stroke="#919191" stroke-width="2.5"/>
<path d="M613.4 267.4Q610.8 264.1 614 261.3T615.6 255.3T616.4 247.8" stroke="#999999" stroke-width="2.7"/>
<path d="M590.2 238.8Q588.1 236.6 588.1 233.6T585.8 228.6T583.5 222.2" stroke="#858585" stroke-width="2.6"/>
<path d="M634.5 271.4Q637.7 267.8 634.2 264.4T633.1 258.2" stroke="#999999" stroke-width="1.9"/>
<path d="M594.5 269.7Q592.7 266.2 595.6 263.5T597.5 256.4" stroke="#6e6e6e" stroke-width="2"/>
<path d="M633.4 378.7Q631.8 375.9 633.1 372.9T633.1 365.6T632.8 362.5" stroke="#4c4c4c" stroke-width="2.6"/>
<path d="M653.5 486.2Q650.5 484 651.1 480.3T648.4 472.9" stroke="#8f8f8f" stroke-width="1.8"/>
<path d="M706.6 499.3Q705.7 496.4 702.9 497.5T699.4 496.1" stroke="#919191" stroke-width="2.6"/>
<path d="M654.2 360.5Q655.5 355.7 650.6 354.7T648.3 348.9" stroke="#b8b8b8" stroke-width="2.7"/>
<path d="M681 495.5Q678.9 491.7 675.4 494.3T668.6 492.3" stroke="#919191" stroke-width="3"/>
<path d="M615.8 358Q612.5 354.4 615 350.1T613 342.6" stroke="#919191" stroke-width="2.3"/>
<path d="M588.9 268.8Q591.3 265.7 591.1 261.7T594.3 254.7" stroke="#4a4a4a" stroke-width="2.6"/>
<path d="M684.9 510.6Q681 510.5 677.9 507.9T671.9 505.7T662.7 503.9" stroke="#858585" stroke-width="2"/>
<path d="M639.1 317.5Q637.6 314.3 638.3 310.9T637.9 305.6T636.5 298.7" stroke="#b8b8b8" stroke-width="2.1"/>
<path d="M683.2 448.7Q682.7 445.5 679.6 446.6T677 444.1" stroke="#4c4c4c" stroke-width="2.3"/>
<path d="M641.6 340.7Q636.9 338.6 639.7 334.3T636.5 327.2" stroke="#b8b8b8" stroke-width="2.8"/>
<path d="M654.6 299.9Q656.3 295.8 652.6 293.2T649.9 286.8" stroke="#919191" stroke-width="2.7"/>
<path d="M697.3 481.4Q693.4 483.9 692.6 479.4T689.1 478.7" stroke="#6e6e6e" stroke-width="3.2"/>
<path d="M616.5 371.2Q614.3 367.1 617.9 364T619.5 357.2T621.4 350.3" stroke="#b0b0b0" stroke-width="2.9"/>
<path d="M614.1 357.5Q618.4 354.8 615.1 350.8T615.3 344.1T617.6 336.1" stroke="#5c5c5c" stroke-width="2.4"/>
<path d="M683.9 377.7Q681.8 375.7 683.1 373.2T681.2 368.1" stroke="#5c5c5c" stroke-width="2.5"/>
<path d="M617.4 353.7Q620.1 350.4 619.2 346.2T619.9 339.2T623.3 332.3" stroke="#6e6e6e" stroke-width="2.6"/>
<path d="M678.8 419.2Q675.8 417.2 672.2 417.1T665 415.8T657.6 413" stroke="#a8a8a8" stroke-width="2"/>
<path d="M621.4 291.8Q624.3 290.3 622.2 287.8T624.5 284.8" stroke="#919191" stroke-width="3.2"/>
<path d="M655.3 381Q652 379.5 652.3 375.9T649.3 371.1" stroke="#919191" stroke-width="2.5"/>
<path d="M658.4 409.3Q657.1 406 653.6 406.3T649.6 404.2T645.3 400.2" stroke="#a8a8a8" stroke-width="3.4"/>
<path d="M670.5 420Q666.8 418.7 664.6 415.4T658.4 411.1" stroke="#6e6e6e" stroke-width="3.1"/>
<path d="M689.8 460Q688 455.6 683.6 457.3T677 454.2" stroke="#a8a8a8" stroke-width="2.4"/>
<path d="M640.6 309.9Q643.5 307.1 642.1 303.3T644 296.8T646.5 291.1" stroke="#858585" stroke-width="2.6"/>
<path d="M701.2 490Q697.8 488.5 695.1 491.1T688.9 491.1T683.5 492.4" stroke="#a8a8a8" stroke-width="1.8"/>
<path d="M580.6 269.7Q575.8 269.4 574.9 264.7T570.2 259.6" stroke="#919191" stroke-width="2.9"/>
<path d="M669.2 458.5Q668.9 453.8 664.3 454.8T659.7 450.2" stroke="#a8a8a8" stroke-width="3.1"/>
<path d="M671.2 385.1Q671.8 380.9 667.6 381.4T663.8 376.5" stroke="#4c4c4c" stroke-width="3.2"/>
<path d="M676.8 467.1Q673.7 469.7 672.9 465.8T668 465.8" stroke="#a8a8a8" stroke-width="2.9"/>
<path d="M656 479.8Q654.7 476.9 651.5 477T646.8 473.9" stroke="#4a4a4a" stroke-width="2.7"/>
<path d="M578 269.8Q575.4 267.9 575.4 264.7T572.9 258.8T570 253.9" stroke="#4a4a4a" stroke-width="2.7"/>
<path d="M677.7 464.5Q677 461 673.5 460.2T668.2 454.8" stroke="#6e6e6e" stroke-width="3"/>
<path d="M669.5 404.5Q667 400.8 668.6 396.7T666.9 387.7T666.8 381.4" stroke="#a8a8a8" stroke-width="2.4"/>
<path d="M630.2 326.8Q634 324.3 631.1 320.7T633.2 313.2" stroke="#5c5c5c" stroke-width="1.9"/>
<path d="M702.8 494.4Q699.9 497.5 697.5 494T691.4 493.6" stroke="#b8b8b8" stroke-width="3"/>
<path d="M641 305.1Q641.1 301.8 643.5 299.6T646.5 292.9" stroke="#6e6e6e" stroke-width="3.3"/>
<path d="M600.8 269.3Q602.3 264.7 597.7 263.3T595.8 258.1T591.4 251.8" stroke="#4c4c4c" stroke-width="2.7"/>
<path d="M611.5 293.8Q607.3 291.4 608.7 286.9T607.1 279.8" stroke="#919191" stroke-width="2.5"/>
<path d="M720.4 507.7Q717.7 509.6 714.9 507.6T709.8 507" stroke="#4c4c4c" stroke-width="3.3"/>
<path d="M575.5 254.1Q575.5 249.9 571.5 248.8T566.3 243.7T563.5 237" stroke="#919191" stroke-width="2.7"/>
<path d="M557.8 233.3Q554.2 231.7 550.3 232.5T541.9 230.8" stroke="#919191" stroke-width="1.9"/>
<path d="M624.2 345.6Q622.1 341.2 625.9 338T628.4 329.3T628 321.8" stroke="#b0b0b0" stroke-width="3"/>
<path d="M670.9 389.2Q672.3 385.7 670.5 382.4T668.9 377" stroke="#999999" stroke-width="3"/>
<path d="M616.3 240.8Q613.7 237.9 616.2 235T617 230T614.8 224.6" stroke="#4c4c4c" stroke-width="2.6"/>
<path d="M615.1 405.5Q612.5 403.1 614 399.9T614.3 394.9" stroke="#919191" stroke-width="2.3"/>
<path d="M630.1 362.8Q627.6 358.9 630.2 355.1T631.1 347T630.7 339.1" stroke="#858585" stroke-width="2.9"/>
<path d="M654.2 411.1Q654.4 407.2 651.1 405.3T647.5 399.7" stroke="#858585" stroke-width="2.3"/>
<path d="M708 515.1Q705.5 513.5 702.7 514.5T698.1 513.4" stroke="#5c5c5c" stroke-width="3.2"/>
<path d="M674.1 365.5Q676.4 362.5 673.7 360T673.8 354.5T674 350" stroke="#4a4a4a" stroke-width="3.1"/>
<path d="M669.6 414.2Q666.8 411.4 666.1 407.5T663.4 400.2T658.4 395.2" stroke="#4c4c4c" stroke-width="3.3"/>
<path d="M691 370.4Q686.4 370.1 687.3 365.6T684.2 360.1T681.1 354.8" stroke="#4a4a4a" stroke-width="2.5"/>
<path d="M673.3 475.9Q669.2 476 669.5 472T666.1 468.7T661.2 464.8" stroke="#999999" stroke-width="2.9"/>
<path d="M604.3 287.3Q607.3 284.4 606.3 280.3T609 273.9" stroke="#999999" stroke-width="3.3"/>
<path d="M629 324.6Q628.4 320.7 630.9 317.7T632.4 311.2" stroke="#4a4a4a" stroke-width="2.4"/>
<path d="M657.6 433.2Q655.6 429.6 651.7 428.4T646.9 424.6T641.2 419.3" stroke="#4a4a4a" stroke-width="2.7"/>
<path d="M666 402Q661.7 400.7 660.6 396.4T655.1 390.9T648.2 385.2" stroke="#4a4a4a" stroke-width="1.9"/>
<path d="M713.3 482.7Q712.1 486.6 709 483.9T703.7 484.9" stroke="#4c4c4c" stroke-width="2.9"/>
<path d="M581.4 274Q576.9 271.9 579 267.3T576.9 259.1" stroke="#5c5c5c" stroke-width="3.2"/>
<path d="M585.6 275.3Q586.3 270.3 581.3 270.3T577.7 264.8T573.6 260.5" stroke="#4c4c4c" stroke-width="2.7"/>
<path d="M636.8 307.7Q634.5 305.6 634.7 302.5T632.6 297.9" stroke="#858585" stroke-width="2.7"/>
<path d="M666.7 435.5Q665.8 431 661.2 430.7T656.2 427.1T651 422.4" stroke="#5c5c5c" stroke-width="1.9"/>
<path d="M598.8 249.2Q601.7 246.9 599 244.5T597.9 239.6" stroke="#4a4a4a" stroke-width="3"/>
<path d="M662.3 476.3Q657.6 476.4 655.8 472.1T649.1 468.2T642.5 462.7" stroke="#999999" stroke-width="2.8"/>
<path d="M668.6 399.8Q665 397 667.7 393.2T665.8 387.5" stroke="#5c5c5c" stroke-width="2.2"/>
<path d="M682.4 437.2Q678.3 438.2 675.1 435.4T669.2 433.4T661.2 432.3" stroke="#6e6e6e" stroke-width="3.3"/>
<path d="M627.9 265.9Q629.6 261.5 625.8 258.7T623 251.9" stroke="#5c5c5c" stroke-width="1.8"/>
<path d="M557.2 243.9Q553.5 246.1 550.4 243.1T542.2 243.5" stroke="#a8a8a8" stroke-width="3.2"/>
<path d="M619.3 255.8Q615.1 253.5 617.5 249.4T617.1 243.6" stroke="#6e6e6e" stroke-width="1.8"/>
<path d="M615.7 362.7Q613 360.1 613.7 356.3T611.8 350.3T609.3 344.1" stroke="#8f8f8f" stroke-width="2.2"/>
<path d="M634.3 288Q630.8 285.3 633.9 282.1T633 274.8T632.5 270" stroke="#b8b8b8" stroke-width="2.1"/>
<path d="M639.9 352.7Q639.2 349.1 641.5 346.2T642.3 340.1T644.7 332.6" stroke="#6e6e6e" stroke-width="2.2"/>
<path d="M649.4 432Q645.2 433.1 645.9 428.8T643 426.5" stroke="#919191" stroke-width="2.8"/>
<path d="M631.4 386.2Q632.2 383.9 630.5 382.3" stroke="#333333" stroke-width="1.5"/>
<path d="M583.5 264.7Q583.8 262.3 581.7 261.1" stroke="#333333" stroke-width="1.5"/>
<path d="M573.8 259.8Q571.8 258.6 572.1 256.3" stroke="#333333" stroke-width="1.5"/>
<path d="M625.9 307.1Q627.2 305.1 625.9 303.1" stroke="#333333" stroke-width="1.5"/>
<path d="M623.9 407.8Q624.6 405.5 622.8 404" stroke="#333333" stroke-width="1.5"/>
<path d="M634.9 380.8Q633.2 379.2 634 376.9" stroke="#333333" stroke-width="1.5"/>
<path d="M623.4 333.9Q622 331.9 623.2 329.9" stroke="#333333" stroke-width="1.5"/>
<path d="M594.7 271.6Q593.2 269.7 594.3 267.6" stroke="#333333" stroke-width="1.5"/>
<path d="M651.7 407.3Q649.3 406.8 648.9 404.4" stroke="#333333" stroke-width="1.5"/>
<path d="M659.8 465.6Q658.9 463.5 656.5 463.4" stroke="#333333" stroke-width="1.5"/>
<path d="M607.4 292Q606.1 290 607.4 288" stroke="#333333" stroke-width="1.5"/>
<path d="M662 448.8Q659.6 448.7 658.7 446.5" stroke="#333333" stroke-width="1.5"/>
<path d="M674.9 392Q674.9 389.6 672.7 388.7" stroke="#333333" stroke-width="1.5"/>
<path d="M655.5 429.8Q655 427.5 652.7 427" stroke="#333333" stroke-width="1.5"/>
<path d="M631.8 316.8Q633 314.8 631.6 312.8" stroke="#333333" stroke-width="1.5"/>
<path d="M622.4 337.9Q621.2 335.9 622.5 333.9" stroke="#333333" stroke-width="1.5"/>
<path d="M679.3 471Q678.2 468.9 675.8 469.1" stroke="#333333" stroke-width="1.5"/>
<path d="M658.8 473.1Q657.9 470.9 655.5 470.9" stroke="#333333" stroke-width="1.5"/>
<path d="M634.3 393Q632.4 391.4 633.1 389.2" stroke="#333333" stroke-width="1.5"/>
<path d="M641.5 449.3Q641.2 446.9 639 446.2" stroke="#333333" stroke-width="1.5"/>
<path d="M636.2 318.4Q637.6 316.4 636.3 314.4" stroke="#333333" stroke-width="1.5"/>
<path d="M616.1 282.3Q614.8 280.3 616.1 278.3" stroke="#333333" stroke-width="1.5"/>
<path d="M615.3 292.3Q614 290.3 615.3 288.3" stroke="#333333" stroke-width="1.5"/>
<path d="M575.9 246.7Q576.2 244.3 574.2 243.1" stroke="#333333" stroke-width="1.5"/>
<path d="M597.1 281Q598.3 278.9 596.8 277" stroke="#333333" stroke-width="1.5"/>
<path d="M676.4 448.8Q674 448.9 673 446.8" stroke="#333333" stroke-width="1.5"/>
<path d="M676.5 447.5Q674.2 447.6 673.1 445.4" stroke="#333333" stroke-width="1.5"/>
<path d="M640.3 456.8Q639.8 454.4 637.5 453.9" stroke="#333333" stroke-width="1.5"/>
<path d="M663.6 476Q661.2 476.1 660.2 474" stroke="#333333" stroke-width="1.5"/>
<path d="M657.1 449.6Q656.6 447.3 654.2 446.8" stroke="#333333" stroke-width="1.5"/>
<path d="M711 492.1Q708.8 493.1 707 491.6" stroke="#333333" stroke-width="1.5"/>
<path d="M642.7 292.5Q644 290.5 642.7 288.5" stroke="#333333" stroke-width="1.5"/>
<path d="M673.7 476.9Q671.3 477 670.2 474.8" stroke="#333333" stroke-width="1.5"/>
<path d="M636.1 302.4Q637.4 300.4 636.1 298.4" stroke="#333333" stroke-width="1.5"/>
<path d="M704.9 490Q702.8 491.1 701 489.5" stroke="#333333" stroke-width="1.5"/>
<path d="M624.3 332Q622.9 330.1 624.1 328" stroke="#333333" stroke-width="1.5"/>
<path d="M666.1 455.3Q663.7 455.4 662.7 453.2" stroke="#333333" stroke-width="1.5"/>
<path d="M577.5 255.3Q575.4 254.1 575.7 251.7" stroke="#333333" stroke-width="1.5"/>
<path d="M573.1 257.4Q571.1 256.2 571.4 253.8" stroke="#333333" stroke-width="1.5"/>
<path d="M695 467.3Q692.9 468.4 691.1 466.8" stroke="#333333" stroke-width="1.5"/>
<path d="M632.3 283.7Q633.6 281.7 632.3 279.7" stroke="#333333" stroke-width="1.5"/>
<path d="M611.5 300.3Q610.2 298.3 611.5 296.3" stroke="#333333" stroke-width="1.5"/>
<path d="M658.3 441.3Q655.9 440.8 655.4 438.4" stroke="#333333" stroke-width="1.5"/>
<path d="M647.3 456.3Q646.8 454 644.5 453.5" stroke="#333333" stroke-width="1.5"/>
<path d="M608.2 260.5Q606.7 258.6 607.8 256.5" stroke="#333333" stroke-width="1.5"/>
<path d="M627.9 334.5Q626.3 332.7 627.3 330.6" stroke="#333333" stroke-width="1.5"/>
<path d="M647.1 415.1Q645.3 413.5 646 411.3" stroke="#333333" stroke-width="1.5"/>
<path d="M661.8 385.7Q660 384.2 660.6 381.9" stroke="#333333" stroke-width="1.5"/>
<path d="M649.6 401.8Q647.8 400.3 648.5 398" stroke="#333333" stroke-width="1.5"/>
<path d="M633.8 404.1Q634.5 401.9 632.7 400.3" stroke="#333333" stroke-width="1.5"/>
<path d="M621.8 332.5Q620.6 330.5 621.9 328.5" stroke="#333333" stroke-width="1.5"/>
<path d="M602.9 277.5Q601.5 275.7 602.6 273.6" stroke="#333333" stroke-width="1.5"/>
<path d="M570.4 259.3Q568.2 258.6 567.9 256.3" stroke="#333333" stroke-width="1.5"/>
<path d="M573.5 258.6Q571.4 257.4 571.7 255.1" stroke="#333333" stroke-width="1.5"/>
<path d="M653.2 445.1Q652.7 442.8 650.4 442.3" stroke="#333333" stroke-width="1.5"/>
<path d="M710.8 515.5Q709 514 706.8 515.1" stroke="#333333" stroke-width="1.5"/>
<path d="M570.7 259.8Q570.4 257.5 568.1 256.7" stroke="#333333" stroke-width="1.5"/>
<path d="M607.9 365.4Q609.1 363.4 607.7 361.4" stroke="#333333" stroke-width="1.5"/>
<path d="M611.7 366.7Q610.2 364.9 611.2 362.7" stroke="#333333" stroke-width="1.5"/>
<path d="M649.8 415.4Q649.3 413.1 647 412.6" stroke="#333333" stroke-width="1.5"/>
<path d="M688.8 486.9Q687 485.4 684.8 486.4" stroke="#333333" stroke-width="1.5"/>
<path d="M642.1 293.4Q643.4 291.4 642.1 289.4" stroke="#333333" stroke-width="1.5"/>
<path d="M665.4 401.2Q665.4 398.8 663.2 397.9" stroke="#333333" stroke-width="1.5"/>
<path d="M682.9 495.5Q680.8 496.6 678.9 495.1" stroke="#333333" stroke-width="1.5"/>
<path d="M641.8 442.6Q641.8 440.2 639.6 439.3" stroke="#333333" stroke-width="1.5"/>
<path d="M569.5 245.3Q569.8 242.9 567.8 241.7" stroke="#333333" stroke-width="1.5"/>
<path d="M642.6 309.3Q643.9 307.4 642.7 305.3" stroke="#333333" stroke-width="1.5"/>
<path d="M656.8 421.4Q656.3 419.1 654 418.6" stroke="#333333" stroke-width="1.5"/>
<path d="M717 494.8Q715.1 493.2 713 494.3" stroke="#333333" stroke-width="1.5"/>
<path d="M650.1 422.8Q649.8 420.4 647.6 419.7" stroke="#333333" stroke-width="1.5"/>
<path d="M598.8 291Q599.9 288.8 598.5 287" stroke="#333333" stroke-width="1.5"/>
<path d="M646.8 350.7Q645.2 348.9 646.2 346.7" stroke="#333333" stroke-width="1.5"/>
<path d="M579.1 264.5Q577 263.3 577.3 260.9" stroke="#333333" stroke-width="1.5"/>
<path d="M592.8 248.5Q591.3 246.6 592.4 244.5" stroke="#333333" stroke-width="1.5"/>
<path d="M605.3 313.8Q604 311.8 605.3 309.8" stroke="#333333" stroke-width="1.5"/>
<path d="M661.6 400Q659.4 399.1 659.3 396.7" stroke="#333333" stroke-width="1.5"/>
<ellipse cx="498.8" cy="260.6" rx="5.5" ry="4.9" transform="rotate(-6 498.8 260.6)" fill="#5c5c5c" stroke="#919191" stroke-width="3.7"/>
<ellipse cx="522.5" cy="237.7" rx="9.7" ry="3.4" transform="rotate(-28 522.5 237.7)" fill="#5c5c5c" stroke="#adadad" stroke-width="3.6"/>
<ellipse cx="440.4" cy="265.2" rx="11" ry="3.7" transform="rotate(-13 440.4 265.2)" fill="#4a4a4a" stroke="#8a8a8a" stroke-width="3.5"/>
<ellipse cx="463.3" cy="273.8" rx="5.7" ry="3.9" transform="rotate(-10 463.3 273.8)" fill="#4c4c4c" stroke="#a1a1a1" stroke-width="2.9"/>
<ellipse cx="445.1" cy="258.2" rx="8.2" ry="2.9" transform="rotate(-25 445.1 258.2)" fill="#4a4a4a" stroke="#969696" stroke-width="3.7"/>
<ellipse cx="440.7" cy="234.9" rx="7.6" ry="4.6" transform="rotate(-12 440.7 234.9)" fill="#707070" stroke="#a1a1a1" stroke-width="3.2"/>
<ellipse cx="502.9" cy="262.2" rx="6.4" ry="4.1" transform="rotate(-36 502.9 262.2)" fill="#6b6b6b" stroke="#919191" stroke-width="3.2"/>
<ellipse cx="427.4" cy="257.8" rx="7.7" ry="4.6" transform="rotate(16 427.4 257.8)" fill="#3d3d3d" stroke="#a1a1a1" stroke-width="2.5"/>
<ellipse cx="456.3" cy="274.7" rx="9.5" ry="4.8" transform="rotate(-16 456.3 274.7)" fill="#4a4a4a" stroke="#919191" stroke-width="3.7"/>
<ellipse cx="495" cy="248.6" rx="9.2" ry="5.2" transform="rotate(-16 495 248.6)" fill="#4c4c4c" stroke="#adadad" stroke-width="3.7"/>
<ellipse cx="489.1" cy="273.5" rx="8.9" ry="4.8" transform="rotate(22 489.1 273.5)" fill="#545454" stroke="#a1a1a1" stroke-width="3.3"/>
<ellipse cx="407.5" cy="273" rx="9.4" ry="3.4" transform="rotate(40 407.5 273)" fill="#4c4c4c" stroke="#919191" stroke-width="2.8"/>
<ellipse cx="408.6" cy="272.6" rx="6.4" ry="5.2" transform="rotate(26 408.6 272.6)" fill="#6b6b6b" stroke="#969696" stroke-width="3.6"/>
<ellipse cx="459.2" cy="271.9" rx="7.3" ry="4.3" transform="rotate(-8 459.2 271.9)" fill="#3d3d3d" stroke="#919191" stroke-width="2.9"/>
<ellipse cx="384.3" cy="267" rx="6.2" ry="4.8" transform="rotate(-3 384.3 267)" fill="#3d3d3d" stroke="#919191" stroke-width="3.4"/>
<ellipse cx="463.4" cy="273.5" rx="9.5" ry="4.1" transform="rotate(10 463.4 273.5)" fill="#4c4c4c" stroke="#969696" stroke-width="3"/>
<ellipse cx="399.5" cy="271.3" rx="6.8" ry="4.6" transform="rotate(25 399.5 271.3)" fill="#3d3d3d" stroke="#919191" stroke-width="2.8"/>
<ellipse cx="386.6" cy="269.3" rx="7.4" ry="5.4" transform="rotate(17 386.6 269.3)" fill="#6b6b6b" stroke="#919191" stroke-width="3.8"/>
<ellipse cx="497.4" cy="270.5" rx="5.7" ry="3.5" transform="rotate(-28 497.4 270.5)" fill="#545454" stroke="#8a8a8a" stroke-width="3"/>
<ellipse cx="517.2" cy="234.5" rx="5.6" ry="5.2" transform="rotate(-13 517.2 234.5)" fill="#3d3d3d" stroke="#969696" stroke-width="2.5"/>
<ellipse cx="482" cy="275" rx="8.9" ry="3.4" transform="rotate(9 482 275)" fill="#3d3d3d" stroke="#adadad" stroke-width="3"/>
<ellipse cx="444.9" cy="253.5" rx="7" ry="5.4" transform="rotate(-5 444.9 253.5)" fill="#3d3d3d" stroke="#919191" stroke-width="3.3"/>
<ellipse cx="447.3" cy="247.3" rx="10.6" ry="3.6" transform="rotate(14 447.3 247.3)" fill="#6b6b6b" stroke="#919191" stroke-width="3.5"/>
<ellipse cx="526.4" cy="249" rx="11" ry="5.2" transform="rotate(-21 526.4 249)" fill="#4c4c4c" stroke="#919191" stroke-width="3.3"/>
<ellipse cx="448.3" cy="244.7" rx="6.3" ry="3.6" transform="rotate(-10 448.3 244.7)" fill="#4a4a4a" stroke="#adadad" stroke-width="2.5"/>
<ellipse cx="443.4" cy="261.5" rx="8.1" ry="3.4" transform="rotate(5 443.4 261.5)" fill="#5c5c5c" stroke="#a1a1a1" stroke-width="2.7"/>
<ellipse cx="452.3" cy="268.6" rx="5.9" ry="4.7" transform="rotate(-7 452.3 268.6)" fill="#707070" stroke="#a1a1a1" stroke-width="3.6"/>
<ellipse cx="478.1" cy="275.2" rx="10.9" ry="4.7" transform="rotate(10 478.1 275.2)" fill="#6b6b6b" stroke="#a1a1a1" stroke-width="2.6"/>
<ellipse cx="496.3" cy="272" rx="9.2" ry="4.5" transform="rotate(-3 496.3 272)" fill="#545454" stroke="#adadad" stroke-width="3.5"/>
<ellipse cx="469.6" cy="276.1" rx="8" ry="3.5" transform="rotate(-22 469.6 276.1)" fill="#4c4c4c" stroke="#919191" stroke-width="3.5"/>
<ellipse cx="499.3" cy="242.6" rx="5" ry="3.4" transform="rotate(-30 499.3 242.6)" fill="#6b6b6b" stroke="#919191" stroke-width="2.6"/>
<ellipse cx="418.2" cy="267.2" rx="6.3" ry="4.4" transform="rotate(-12 418.2 267.2)" fill="#6b6b6b" stroke="#adadad" stroke-width="3"/>
<ellipse cx="498.5" cy="270.1" rx="7.2" ry="4.2" transform="rotate(1 498.5 270.1)" fill="#4c4c4c" stroke="#919191" stroke-width="2.5"/>
<ellipse cx="400.8" cy="274" rx="5.9" ry="4.2" transform="rotate(25 400.8 274)" fill="#4a4a4a" stroke="#969696" stroke-width="3.8"/>
<path d="M481.9 276.9Q484.3 274.6 487.7 275T494.7 273.2T498.7 270.3" stroke="#b8b8b8" stroke-width="2.9"/>
<path d="M456.6 273.4Q460.2 272.3 463.1 274.6T468.6 276.7" stroke="#4c4c4c" stroke-width="2.9"/>
<path d="M394.4 271.7Q399 269.9 401.8 273.9T409.1 277.6" stroke="#b8b8b8" stroke-width="2.1"/>
<path d="M466.4 277.2Q470.2 278.1 473.5 275.8T481.8 273.6" stroke="#858585" stroke-width="1.9"/>
<path d="M445.2 269Q447.9 273.1 452.3 271.2T458 273T467.4 276.8" stroke="#b0b0b0" stroke-width="3.3"/>
<path d="M492.2 251.9Q494.3 247.7 498.9 249.2T505.5 246.2T510.8 242.7" stroke="#999999" stroke-width="1.9"/>
<path d="M500.5 248.1Q503.7 251.3 506.2 247.6T512.3 246.8" stroke="#4a4a4a" stroke-width="2.6"/>
<path d="M474.3 278.2Q477.2 274.3 481.8 276T489.7 274.4T496.2 272.3" stroke="#b0b0b0" stroke-width="2.9"/>
<path d="M482.7 276Q486.8 278.2 489.5 274.4T494.9 272.2T503.5 270.3" stroke="#a8a8a8" stroke-width="2"/>
<path d="M489.9 244.4Q491.8 239.9 495.9 242.6T501 240T507.3 240.4" stroke="#b8b8b8" stroke-width="2.2"/>
<path d="M409.2 269Q412.6 266.4 413.8 270.5T417.8 273.4" stroke="#a8a8a8" stroke-width="2.9"/>
<path d="M375.5 269.8Q378.9 267.2 382.4 269.6T389.3 270T396 270.3" stroke="#4a4a4a" stroke-width="2.3"/>
<path d="M493.8 259.9Q495.4 257.2 498 258.9T503 257" stroke="#5c5c5c" stroke-width="2"/>
<path d="M518.1 244.5Q521.3 241.6 524.8 244.2T530.7 245.2T538.2 244.6" stroke="#858585" stroke-width="2"/>
<path d="M472.6 273.9Q475.8 278 479.6 274.4T485.4 275.8" stroke="#5c5c5c" stroke-width="2.6"/>
<path d="M487.5 271.4Q490.8 270.2 492.6 273.2T499.1 276" stroke="#858585" stroke-width="1.9"/>
<path d="M387.2 256.6Q391.7 255.9 391.6 260.5T396.9 263" stroke="#b8b8b8" stroke-width="1.9"/>
<path d="M514.8 254.9Q516.5 251.8 520 251.9T524.5 249.4" stroke="#858585" stroke-width="2.5"/>
<path d="M503.2 233.3Q507.1 235.9 508.6 231.4T514.3 229T520.5 227.7" stroke="#999999" stroke-width="1.9"/>
<path d="M482.3 276.5Q484.3 272.8 488.1 274.7T492.4 271.8T499.5 272.2" stroke="#999999" stroke-width="3"/>
<path d="M390 269.3Q392.1 273.1 396.2 271.9T402.1 273.3T407.2 277.5" stroke="#858585" stroke-width="3.2"/>
<path d="M491.8 270.6Q495.7 271.7 498.5 268.8T505.4 266.5" stroke="#999999" stroke-width="2.1"/>
<path d="M485.8 242.4Q488.7 245.5 491 241.9T496.7 241.1" stroke="#b0b0b0" stroke-width="1.9"/>
<path d="M441 266.8Q444.9 269 447.8 265.7T455.8 266" stroke="#b8b8b8" stroke-width="1.9"/>
<path d="M475.6 273.6Q479.4 272.8 483 274.2T489.6 275.5T497.3 276.1" stroke="#b0b0b0" stroke-width="2.5"/>
<path d="M457.4 271.5Q461.1 271.5 464.1 273.7T472 275.4T478.4 277.5" stroke="#4c4c4c" stroke-width="2.6"/>
<path d="M442.5 248.5Q444.1 250.2 446.4 249.6T449.4 250.9" stroke="#919191" stroke-width="1.8"/>
<path d="M441.4 265.5Q444.3 267.4 447.8 266.8T452.8 266.8" stroke="#919191" stroke-width="1.9"/>
<path d="M379.8 260.1Q383.4 263.5 387.3 260.5T393.8 260.4T402.8 260.1" stroke="#6e6e6e" stroke-width="2"/>
<path d="M392.9 271.5Q396.3 275.2 399.6 271.3T405.3 271.9" stroke="#858585" stroke-width="2.1"/>
<path d="M400.9 267.8Q405 268.4 406.2 272.3T412.7 275.5" stroke="#919191" stroke-width="2.8"/>
<path d="M527.3 247.4Q527.5 243.3 531.5 244.1T537.2 241.3" stroke="#919191" stroke-width="2.8"/>
<path d="M416.2 259.1Q419.2 255.6 423.4 257.4T431.7 256.8T438.5 255" stroke="#a8a8a8" stroke-width="2.4"/>
<path d="M496.3 266.8Q496.9 263.2 500.5 263.4T506.1 260T508.7 255.7" stroke="#6e6e6e" stroke-width="2"/>
<path d="M483.1 275.5Q485.3 273.9 487.6 275.2T493.5 273.7" stroke="#999999" stroke-width="2.6"/>
<path d="M438.9 254.7Q440.6 257.7 444 256.6T449.4 257T455.4 261.6" stroke="#6e6e6e" stroke-width="3.2"/>
<path d="M439 260.1Q441.3 256.9 445.2 257.8T450.4 254.8" stroke="#858585" stroke-width="2.4"/>
<path d="M453 272.8Q456.2 274.4 459.3 272.4T465.9 271.8" stroke="#5c5c5c" stroke-width="3.3"/>
<path d="M414.7 268.9Q417 267 419.1 269.2T422.3 270.2" stroke="#4a4a4a" stroke-width="2.8"/>
<path d="M439.6 236.5Q441.8 239.3 445.2 238.4T450.9 241T457.7 243.3" stroke="#919191" stroke-width="2.5"/>
<path d="M435.2 242.7Q437.3 239.9 440.8 240.4T446.2 238.2T451.3 237.2" stroke="#919191" stroke-width="3.2"/>
<path d="M377.8 261.5Q381.1 259.8 383.1 262.8T387.8 263T393.7 265" stroke="#919191" stroke-width="2.9"/>
<path d="M492.2 267Q496 266.6 499 264.2T505.7 261.8" stroke="#919191" stroke-width="2.4"/>
<path d="M502.5 237.7Q504.9 233.5 509.4 235.6T516.4 233.6T523.5 232.4" stroke="#858585" stroke-width="2.3"/>
<path d="M450.6 273.3Q453.6 272.2 456.2 274.1T461.4 275.7" stroke="#919191" stroke-width="2"/>
<path d="M446.4 270.1Q448.3 275 453 272.7T460.8 274.8" stroke="#858585" stroke-width="2.6"/>
<path d="M411.3 264.1Q414.8 263.7 417.6 265.9T423.2 266.8T431.4 270" stroke="#4a4a4a" stroke-width="2.3"/>
<path d="M507.5 245.1Q509 240.8 513.1 242.9T520 241.6T523.2 238.2" stroke="#4a4a4a" stroke-width="2.2"/>
<path d="M487.2 271.9Q490.5 270.7 493.6 272.4T500.8 273.9T507.4 274.4" stroke="#a8a8a8" stroke-width="2.7"/>
<path d="M439 251Q440.8 246.6 444.4 249.6T448.8 249.5T455.9 246.4" stroke="#5c5c5c" stroke-width="2.5"/>
<path d="M440.1 256.2Q443.5 254.4 446.6 256.8T454.2 259" stroke="#919191" stroke-width="3.2"/>
<path d="M513.8 248.8Q516.6 246.9 519.5 248.4T523.7 246.7T531.6 249" stroke="#919191" stroke-width="3"/>
<path d="M494.2 235Q497 233.5 499.8 235T505 236.1" stroke="#b0b0b0" stroke-width="2.6"/>
<path d="M391.3 272Q393 275 396.1 273.5T401.5 274.1" stroke="#858585" stroke-width="2.2"/>
<path d="M443.4 256.3Q445.5 255 447.4 256.3" stroke="#333333" stroke-width="1.5"/>
<path d="M457.4 274.2Q459.4 275.5 461.4 274.2" stroke="#333333" stroke-width="1.5"/>
<path d="M403.3 274Q405.3 275.3 407.3 274" stroke="#333333" stroke-width="1.5"/>
<path d="M420.6 262.8Q422.6 261.6 424.6 262.9" stroke="#333333" stroke-width="1.5"/>
<path d="M439.2 263.2Q441.2 261.9 443.2 263.2" stroke="#333333" stroke-width="1.5"/>
<path d="M512 256Q513.6 254.2 515.9 254.9" stroke="#333333" stroke-width="1.5"/>
<path d="M485.6 274.1Q487.6 275.4 489.6 274.1" stroke="#333333" stroke-width="1.5"/>
<path d="M495.3 247.3Q496.8 245.5 499.1 246.1" stroke="#333333" stroke-width="1.5"/>
<path d="M495.6 269.8Q497.6 271.1 499.6 269.8" stroke="#333333" stroke-width="1.5"/>
<path d="M495.2 255Q497.5 255.6 499.1 253.8" stroke="#333333" stroke-width="1.5"/>
<path d="M496.7 260.7Q499 261.3 500.5 259.5" stroke="#333333" stroke-width="1.5"/>
</g></g>
<path d="M170.0 544.0C178.3 543.1 207.5 541.9 220.0 538.5C232.5 535.1 236.7 530.2 245.0 523.5C253.3 516.8 263.0 506.8 270.0 498.4C277.0 490.0 282.3 483.8 287.0 473.4C291.7 463.0 294.8 449.9 298.0 436.0C301.2 422.1 304.5 406.0 306.0 390.0C307.5 374.0 306.5 355.8 306.9 340.0C307.3 324.2 307.6 305.3 308.6 295.0C309.6 284.7 309.8 282.5 313.0 278.0C316.2 273.5 321.8 270.3 328.0 268.0C334.2 265.7 346.3 264.7 350.0 264.0L349.5 261.0C345.7 261.6 333.5 262.0 326.6 264.3C319.7 266.5 312.6 269.5 308.1 274.5C303.6 279.5 302.5 283.3 299.6 294.1C296.8 305.0 294.0 324.0 290.9 339.6C287.8 355.2 285.1 372.8 281.1 387.7C277.1 402.6 271.3 417.1 266.8 428.9C262.3 440.7 258.3 451.0 254.2 458.7C250.0 466.3 246.9 468.5 241.6 474.6C236.4 480.8 227.5 489.9 222.5 495.4C217.5 500.9 220.9 504.5 211.6 507.6C202.3 510.8 174.2 513.1 166.7 514.2Z" fill="#4c4c4c" stroke="#4c4c4c" stroke-width="3.0" stroke-linecap="round" stroke-linejoin="round" filter="url(#bl2)"/>
<path d="M170.0 544.0C178.3 543.1 207.5 541.9 220.0 538.5C232.5 535.1 236.7 530.2 245.0 523.5C253.3 516.8 263.0 506.8 270.0 498.4C277.0 490.0 282.3 483.8 287.0 473.4C291.7 463.0 294.8 449.9 298.0 436.0C301.2 422.1 304.5 406.0 306.0 390.0C307.5 374.0 306.5 355.8 306.9 340.0C307.3 324.2 307.6 305.3 308.6 295.0C309.6 284.7 309.8 282.5 313.0 278.0C316.2 273.5 321.8 270.3 328.0 268.0C334.2 265.7 346.3 264.7 350.0 264.0L349.5 261.0C345.7 261.6 333.5 262.0 326.6 264.3C319.7 266.5 312.6 269.5 308.1 274.5C303.6 279.5 302.5 283.3 299.6 294.1C296.8 305.0 294.0 324.0 290.9 339.6C287.8 355.2 285.1 372.8 281.1 387.7C277.1 402.6 271.3 417.1 266.8 428.9C262.3 440.7 258.3 451.0 254.2 458.7C250.0 466.3 246.9 468.5 241.6 474.6C236.4 480.8 227.5 489.9 222.5 495.4C217.5 500.9 220.9 504.5 211.6 507.6C202.3 510.8 174.2 513.1 166.7 514.2Z" fill="#494949" filter="url(#bl3)" opacity="0.8"/>
<path d="M721.0 544.0C712.7 543.1 683.5 541.9 671.0 538.5C658.5 535.1 654.3 530.2 646.0 523.5C637.7 516.8 628.0 506.8 621.0 498.4C614.0 490.0 608.7 483.8 604.0 473.4C599.3 463.0 596.2 449.9 593.0 436.0C589.8 422.1 586.5 406.0 585.0 390.0C583.5 374.0 584.5 355.8 584.1 340.0C583.7 324.2 583.4 305.3 582.4 295.0C581.4 284.7 581.2 282.5 578.0 278.0C574.8 273.5 569.2 270.3 563.0 268.0C556.8 265.7 544.7 264.7 541.0 264.0L541.5 261.0C545.3 261.6 557.5 262.0 564.4 264.3C571.3 266.5 578.4 269.5 582.9 274.5C587.4 279.5 588.5 283.3 591.4 294.1C594.2 305.0 597.0 324.0 600.1 339.6C603.2 355.2 605.9 372.8 609.9 387.7C613.9 402.6 619.7 417.1 624.2 428.9C628.7 440.7 632.7 451.0 636.8 458.7C641.0 466.3 644.1 468.5 649.4 474.6C654.6 480.8 663.5 489.9 668.5 495.4C673.5 500.9 670.1 504.5 679.4 507.6C688.7 510.8 716.8 513.1 724.3 514.2Z" fill="#4c4c4c" stroke="#4c4c4c" stroke-width="3.0" stroke-linecap="round" stroke-linejoin="round" filter="url(#bl2)"/>
<path d="M721.0 544.0C712.7 543.1 683.5 541.9 671.0 538.5C658.5 535.1 654.3 530.2 646.0 523.5C637.7 516.8 628.0 506.8 621.0 498.4C614.0 490.0 608.7 483.8 604.0 473.4C599.3 463.0 596.2 449.9 593.0 436.0C589.8 422.1 586.5 406.0 585.0 390.0C583.5 374.0 584.5 355.8 584.1 340.0C583.7 324.2 583.4 305.3 582.4 295.0C581.4 284.7 581.2 282.5 578.0 278.0C574.8 273.5 569.2 270.3 563.0 268.0C556.8 265.7 544.7 264.7 541.0 264.0L541.5 261.0C545.3 261.6 557.5 262.0 564.4 264.3C571.3 266.5 578.4 269.5 582.9 274.5C587.4 279.5 588.5 283.3 591.4 294.1C594.2 305.0 597.0 324.0 600.1 339.6C603.2 355.2 605.9 372.8 609.9 387.7C613.9 402.6 619.7 417.1 624.2 428.9C628.7 440.7 632.7 451.0 636.8 458.7C641.0 466.3 644.1 468.5 649.4 474.6C654.6 480.8 663.5 489.9 668.5 495.4C673.5 500.9 670.1 504.5 679.4 507.6C688.7 510.8 716.8 513.1 724.3 514.2Z" fill="#494949" filter="url(#bl3)" opacity="0.8"/>
<path d="M168.9 533.6C176.9 532.6 205.7 531.0 217.0 527.7C228.4 524.4 229.9 519.9 237.1 513.7C244.3 507.4 253.7 497.7 260.1 490.1C266.5 482.5 271.0 477.7 275.5 468.2C280.0 458.8 283.4 446.7 287.1 433.5C290.7 420.3 294.9 404.8 297.3 389.2C299.7 373.6 299.9 355.6 301.3 339.8C302.7 324.1 304.8 302.2 305.5 294.7" fill="none" stroke="#555555" stroke-width="3.0" stroke-linecap="round" stroke-linejoin="round" filter="url(#bl1_5)" opacity="0.85"/>
<path d="M722.1 533.6C714.1 532.6 685.3 531.0 674.0 527.7C662.6 524.4 661.1 519.9 653.9 513.7C646.7 507.4 637.3 497.7 630.9 490.1C624.5 482.5 620.0 477.7 615.5 468.2C611.0 458.8 607.6 446.7 603.9 433.5C600.3 420.3 596.1 404.8 593.7 389.2C591.3 373.6 591.1 355.6 589.7 339.8C588.3 324.1 586.2 302.2 585.5 294.7" fill="none" stroke="#555555" stroke-width="3.0" stroke-linecap="round" stroke-linejoin="round" filter="url(#bl1_5)" opacity="0.85"/>
<path d="M168.0 525.5C175.8 524.5 204.3 522.6 214.8 519.4C225.3 516.1 224.8 512.0 231.0 506.1C237.3 500.1 246.5 490.6 252.4 483.7C258.4 476.7 262.3 472.9 266.6 464.3C271.0 455.6 274.7 444.2 278.7 431.6C282.6 419.0 287.5 403.9 290.6 388.6C293.6 373.3 294.9 355.4 297.0 339.7C299.1 324.0 302.0 302.0 303.0 294.5" fill="none" stroke="#595959" stroke-width="2.5" stroke-linecap="round" stroke-linejoin="round" filter="url(#bl1_5)" opacity="0.85"/>
<path d="M723.0 525.5C715.2 524.5 686.7 522.6 676.2 519.4C665.7 516.1 666.2 512.0 660.0 506.1C653.7 500.1 644.5 490.6 638.6 483.7C632.6 476.7 628.7 472.9 624.4 464.3C620.0 455.6 616.3 444.2 612.3 431.6C608.4 419.0 603.5 403.9 600.4 388.6C597.4 373.3 596.1 355.4 594.0 339.7C591.9 324.0 589.0 302.0 588.0 294.5" fill="none" stroke="#595959" stroke-width="2.5" stroke-linecap="round" stroke-linejoin="round" filter="url(#bl1_5)" opacity="0.85"/>
<path d="M167.2 518.7C174.8 517.6 203.1 515.4 212.8 512.3C222.6 509.1 220.3 505.3 225.9 499.6C231.4 494.0 240.4 484.7 245.9 478.2C251.4 471.7 254.8 468.9 259.1 460.9C263.3 452.8 267.2 442.1 271.5 430.0C275.8 417.8 281.2 403.1 284.8 388.0C288.5 373.0 290.6 355.3 293.3 339.6C296.0 324.0 299.7 301.8 301.0 294.3" fill="none" stroke="#5e5e5e" stroke-width="3.0" stroke-linecap="round" stroke-linejoin="round" filter="url(#bl1_5)" opacity="0.85"/>
<path d="M723.8 518.7C716.2 517.6 687.9 515.4 678.2 512.3C668.4 509.1 670.7 505.3 665.1 499.6C659.6 494.0 650.6 484.7 645.1 478.2C639.6 471.7 636.2 468.9 631.9 460.9C627.7 452.8 623.8 442.1 619.5 430.0C615.2 417.8 609.8 403.1 606.2 388.0C602.5 373.0 600.4 355.3 597.7 339.6C595.0 324.0 591.3 301.8 590.0 294.3" fill="none" stroke="#5e5e5e" stroke-width="3.0" stroke-linecap="round" stroke-linejoin="round" filter="url(#bl1_5)" opacity="0.85"/>
<path d="M421.3 215.2C416.1 215.0 411.9 212.1 408.8 209.0C405.7 205.9 404.2 200.6 402.5 196.4C400.8 192.2 399.6 188.1 398.8 183.9C398.0 179.7 397.1 175.4 397.5 171.4C397.9 167.4 399.8 163.7 401.3 160.1C402.8 156.5 404.0 152.6 406.3 150.1C408.6 147.6 412.2 145.5 415.1 145.1C418.0 144.7 420.9 145.9 423.8 147.6C426.7 149.3 429.9 152.2 432.6 155.1C435.3 158.0 438.0 161.8 440.1 165.1C442.2 168.4 443.0 172.3 445.1 175.2C447.2 178.1 450.7 180.2 452.6 182.7C454.5 185.2 456.2 187.5 456.4 190.2C456.6 192.9 455.6 196.4 453.9 198.9C452.2 201.4 448.7 203.3 446.4 205.2C444.1 207.1 444.3 208.5 440.1 210.2C435.9 211.9 426.5 215.4 421.3 215.2Z" fill="#a1a1a1" filter="url(#bl2)"/>
<path d="M412.0 160.0C412.7 163.3 414.0 173.3 416.0 180.0C418.0 186.7 421.3 193.0 424.0 200.0C426.7 207.0 429.7 214.7 432.0 222.0C434.3 229.3 437.0 240.3 438.0 244.0" fill="none" stroke="#d4d4d4" stroke-width="2.2" stroke-linecap="round" stroke-linejoin="round" filter="url(#bl0_6)"/>
<path d="M420.0 158.0C421.0 161.7 423.8 172.5 426.0 180.0C428.2 187.5 430.7 195.3 433.0 203.0C435.3 210.7 438.8 222.2 440.0 226.0" fill="none" stroke="#c7c7c7" stroke-width="2.2" stroke-linecap="round" stroke-linejoin="round" filter="url(#bl0_6)"/>
<path d="M407.0 170.0C407.5 173.3 408.3 184.0 410.0 190.0C411.7 196.0 415.8 203.3 417.0 206.0" fill="none" stroke="#bdbdbd" stroke-width="2.2" stroke-linecap="round" stroke-linejoin="round" filter="url(#bl0_6)"/>
<path d="M432.0 168.0C433.0 171.0 436.0 181.0 438.0 186.0C440.0 191.0 443.0 196.0 444.0 198.0" fill="none" stroke="#c2c2c2" stroke-width="2.2" stroke-linecap="round" stroke-linejoin="round" filter="url(#bl0_6)"/>
<path d="M427.0 175.0C427.5 177.2 429.5 185.8 430.0 188.0" fill="none" stroke="#757575" stroke-width="2.2" stroke-linecap="round" stroke-linejoin="round" filter="url(#bl0_6)"/>
<path d="M414.0 186.0C414.7 187.7 417.3 194.3 418.0 196.0" fill="none" stroke="#757575" stroke-width="2.2" stroke-linecap="round" stroke-linejoin="round" filter="url(#bl0_6)"/>
<path d="M440.0 180.0C440.7 181.7 443.3 188.3 444.0 190.0" fill="none" stroke="#7a7a7a" stroke-width="2.2" stroke-linecap="round" stroke-linejoin="round" filter="url(#bl0_6)"/>
<path d="M420.0 168.0C420.5 169.3 422.5 174.7 423.0 176.0" fill="none" stroke="#858585" stroke-width="2.2" stroke-linecap="round" stroke-linejoin="round" filter="url(#bl0_6)"/>
<path d="M404.0 180.0C404.7 183.0 407.3 195.0 408.0 198.0" fill="none" stroke="#8a8a8a" stroke-width="2.2" stroke-linecap="round" stroke-linejoin="round" filter="url(#bl0_6)"/>
<path d="M446.0 186.0C446.3 187.7 447.7 194.3 448.0 196.0" fill="none" stroke="#cccccc" stroke-width="2.2" stroke-linecap="round" stroke-linejoin="round" filter="url(#bl0_6)"/>
<path d="M425.0 190.0C425.8 192.7 428.2 201.3 430.0 206.0C431.8 210.7 435.0 216.0 436.0 218.0" fill="none" stroke="#d6d6d6" stroke-width="2.2" stroke-linecap="round" stroke-linejoin="round" filter="url(#bl0_6)"/>
<path d="M403.0 176.0C403.5 179.0 404.3 188.7 406.0 194.0C407.7 199.3 411.8 205.7 413.0 208.0" fill="none" stroke="#d1d1d1" stroke-width="2.2" stroke-linecap="round" stroke-linejoin="round" filter="url(#bl0_6)"/>
<path d="M409.0 156.0C409.5 158.3 411.5 167.7 412.0 170.0" fill="none" stroke="#cccccc" stroke-width="2.2" stroke-linecap="round" stroke-linejoin="round" filter="url(#bl0_6)"/>
<path d="M436.0 162.0C436.8 164.3 439.2 172.0 441.0 176.0C442.8 180.0 446.0 184.3 447.0 186.0" fill="none" stroke="#d1d1d1" stroke-width="2.2" stroke-linecap="round" stroke-linejoin="round" filter="url(#bl0_6)"/>
<path d="M416.0 150.0C417.3 150.3 421.7 150.7 424.0 152.0C426.3 153.3 429.0 157.0 430.0 158.0" fill="none" stroke="#c7c7c7" stroke-width="2.2" stroke-linecap="round" stroke-linejoin="round" filter="url(#bl0_6)"/>
<path d="M449.0 192.0C448.5 193.3 447.5 197.7 446.0 200.0C444.5 202.3 441.0 205.0 440.0 206.0" fill="none" stroke="#d1d1d1" stroke-width="2.2" stroke-linecap="round" stroke-linejoin="round" filter="url(#bl0_6)"/>
<path d="M418.0 196.0C418.7 198.0 421.3 206.0 422.0 208.0" fill="none" stroke="#808080" stroke-width="2.2" stroke-linecap="round" stroke-linejoin="round" filter="url(#bl0_6)"/>
<path d="M388.5 258.0C389.1 259.3 390.4 263.8 392.0 266.0C393.6 268.2 395.0 269.8 398.0 271.0C401.0 272.2 406.2 273.5 410.2 273.0C414.2 272.5 418.7 270.8 422.0 268.0C425.3 265.2 427.9 260.5 430.0 256.0C432.1 251.5 434.2 245.7 434.4 241.0C434.6 236.3 431.6 230.2 431.0 228.0" fill="none" stroke="#999999" stroke-width="12.0" stroke-linecap="round" stroke-linejoin="round" filter="url(#bl3)" opacity="0.8"/>
<path d="M388.5 258.0C389.1 259.3 390.4 263.8 392.0 266.0C393.6 268.2 395.0 269.8 398.0 271.0C401.0 272.2 406.2 273.5 410.2 273.0C414.2 272.5 418.7 270.8 422.0 268.0C425.3 265.2 427.9 260.5 430.0 256.0C432.1 251.5 434.2 245.7 434.4 241.0C434.6 236.3 431.6 230.2 431.0 228.0" fill="none" stroke="#b8b8b8" stroke-width="6.6" stroke-linecap="round" stroke-linejoin="round" filter="url(#bl1_5)" opacity="0.95"/>
<path d="M388.5 258.0C389.1 259.3 390.4 263.8 392.0 266.0C393.6 268.2 395.0 269.8 398.0 271.0C401.0 272.2 406.2 273.5 410.2 273.0C414.2 272.5 418.7 270.8 422.0 268.0C425.3 265.2 427.9 260.5 430.0 256.0C432.1 251.5 434.2 245.7 434.4 241.0C434.6 236.3 431.6 230.2 431.0 228.0" fill="none" stroke="#b8b8b8" stroke-width="4.0" stroke-linecap="round" stroke-linejoin="round" filter="url(#bl0_8)"/>
<path d="M445.9 250.0C446.3 252.3 446.5 260.4 448.4 264.0C450.2 267.6 453.8 269.8 457.0 271.5C460.2 273.2 461.6 274.2 467.6 274.5C473.6 274.8 487.1 273.9 493.0 273.0C498.9 272.1 501.0 270.8 503.3 269.0C505.6 267.2 506.4 263.2 507.0 262.0" fill="none" stroke="#999999" stroke-width="12.0" stroke-linecap="round" stroke-linejoin="round" filter="url(#bl3)" opacity="0.8"/>
<path d="M445.9 250.0C446.3 252.3 446.5 260.4 448.4 264.0C450.2 267.6 453.8 269.8 457.0 271.5C460.2 273.2 461.6 274.2 467.6 274.5C473.6 274.8 487.1 273.9 493.0 273.0C498.9 272.1 501.0 270.8 503.3 269.0C505.6 267.2 506.4 263.2 507.0 262.0" fill="none" stroke="#b8b8b8" stroke-width="6.6" stroke-linecap="round" stroke-linejoin="round" filter="url(#bl1_5)" opacity="0.95"/>
<path d="M445.9 250.0C446.3 252.3 446.5 260.4 448.4 264.0C450.2 267.6 453.8 269.8 457.0 271.5C460.2 273.2 461.6 274.2 467.6 274.5C473.6 274.8 487.1 273.9 493.0 273.0C498.9 272.1 501.0 270.8 503.3 269.0C505.6 267.2 506.4 263.2 507.0 262.0" fill="none" stroke="#b8b8b8" stroke-width="4.0" stroke-linecap="round" stroke-linejoin="round" filter="url(#bl0_8)"/>
<path d="M421.3 215.2C419.2 214.2 411.9 212.1 408.8 209.0C405.7 205.9 404.2 200.6 402.5 196.4C400.8 192.2 399.6 188.1 398.8 183.9C398.0 179.7 397.1 175.4 397.5 171.4C397.9 167.4 399.8 163.7 401.3 160.1C402.8 156.5 404.0 152.6 406.3 150.1C408.6 147.6 412.2 145.5 415.1 145.1C418.0 144.7 420.9 145.9 423.8 147.6C426.7 149.3 429.9 152.2 432.6 155.1C435.3 158.0 438.0 161.8 440.1 165.1C442.2 168.4 443.0 172.3 445.1 175.2C447.2 178.1 450.7 180.2 452.6 182.7C454.5 185.2 456.2 187.5 456.4 190.2C456.6 192.9 455.6 196.4 453.9 198.9C452.2 201.4 448.7 203.3 446.4 205.2C444.1 207.1 441.4 208.5 440.1 210.2C438.9 211.9 438.1 213.1 438.9 215.2C439.7 217.3 442.4 220.4 445.1 222.7C447.8 225.0 452.5 226.4 455.1 229.0C457.8 231.6 460.4 235.0 461.0 238.0C461.6 241.0 460.3 245.0 459.0 247.0C457.7 249.0 454.7 250.2 453.0 250.0C451.3 249.8 449.7 246.7 449.0 246.0" fill="none" stroke="#a1a1a1" stroke-width="11.0" stroke-linecap="round" stroke-linejoin="round" filter="url(#bl3)" opacity="0.8"/>
<path d="M421.3 215.2C419.2 214.2 411.9 212.1 408.8 209.0C405.7 205.9 404.2 200.6 402.5 196.4C400.8 192.2 399.6 188.1 398.8 183.9C398.0 179.7 397.1 175.4 397.5 171.4C397.9 167.4 399.8 163.7 401.3 160.1C402.8 156.5 404.0 152.6 406.3 150.1C408.6 147.6 412.2 145.5 415.1 145.1C418.0 144.7 420.9 145.9 423.8 147.6C426.7 149.3 429.9 152.2 432.6 155.1C435.3 158.0 438.0 161.8 440.1 165.1C442.2 168.4 443.0 172.3 445.1 175.2C447.2 178.1 450.7 180.2 452.6 182.7C454.5 185.2 456.2 187.5 456.4 190.2C456.6 192.9 455.6 196.4 453.9 198.9C452.2 201.4 448.7 203.3 446.4 205.2C444.1 207.1 441.4 208.5 440.1 210.2C438.9 211.9 438.1 213.1 438.9 215.2C439.7 217.3 442.4 220.4 445.1 222.7C447.8 225.0 452.5 226.4 455.1 229.0C457.8 231.6 460.4 235.0 461.0 238.0C461.6 241.0 460.3 245.0 459.0 247.0C457.7 249.0 454.7 250.2 453.0 250.0C451.3 249.8 449.7 246.7 449.0 246.0" fill="none" stroke="#bababa" stroke-width="7.0" stroke-linecap="round" stroke-linejoin="round" filter="url(#bl1_5)" opacity="0.95"/>
<path d="M421.3 215.2C419.2 214.2 411.9 212.1 408.8 209.0C405.7 205.9 404.2 200.6 402.5 196.4C400.8 192.2 399.6 188.1 398.8 183.9C398.0 179.7 397.1 175.4 397.5 171.4C397.9 167.4 399.8 163.7 401.3 160.1C402.8 156.5 404.0 152.6 406.3 150.1C408.6 147.6 412.2 145.5 415.1 145.1C418.0 144.7 420.9 145.9 423.8 147.6C426.7 149.3 429.9 152.2 432.6 155.1C435.3 158.0 438.0 161.8 440.1 165.1C442.2 168.4 443.0 172.3 445.1 175.2C447.2 178.1 450.7 180.2 452.6 182.7C454.5 185.2 456.2 187.5 456.4 190.2C456.6 192.9 455.6 196.4 453.9 198.9C452.2 201.4 448.7 203.3 446.4 205.2C444.1 207.1 441.4 208.5 440.1 210.2C438.9 211.9 438.1 213.1 438.9 215.2C439.7 217.3 442.4 220.4 445.1 222.7C447.8 225.0 452.5 226.4 455.1 229.0C457.8 231.6 460.4 235.0 461.0 238.0C461.6 241.0 460.3 245.0 459.0 247.0C457.7 249.0 454.7 250.2 453.0 250.0C451.3 249.8 449.7 246.7 449.0 246.0" fill="none" stroke="#e0e0e0" stroke-width="4.4" stroke-linecap="round" stroke-linejoin="round" filter="url(#bl0_8)"/>
<path d="M421.3 215.2C422.8 216.9 428.0 222.1 430.1 225.2C432.2 228.3 433.7 230.5 433.8 234.0C433.9 237.5 431.5 244.0 431.0 246.0" fill="none" stroke="#a1a1a1" stroke-width="11.0" stroke-linecap="round" stroke-linejoin="round" filter="url(#bl3)" opacity="0.8"/>
<path d="M421.3 215.2C422.8 216.9 428.0 222.1 430.1 225.2C432.2 228.3 433.7 230.5 433.8 234.0C433.9 237.5 431.5 244.0 431.0 246.0" fill="none" stroke="#bababa" stroke-width="6.6" stroke-linecap="round" stroke-linejoin="round" filter="url(#bl1_5)" opacity="0.95"/>
<path d="M421.3 215.2C422.8 216.9 428.0 222.1 430.1 225.2C432.2 228.3 433.7 230.5 433.8 234.0C433.9 237.5 431.5 244.0 431.0 246.0" fill="none" stroke="#dedede" stroke-width="4.0" stroke-linecap="round" stroke-linejoin="round" filter="url(#bl0_8)"/>
<path d="M397.0 255.0C396.7 252.6 397.1 245.0 395.4 240.3C393.7 235.6 391.2 230.5 387.0 226.9C382.8 223.3 375.9 221.1 370.3 218.6C364.7 216.1 359.2 214.1 353.6 211.9C348.0 209.7 343.3 206.7 336.9 205.2C330.5 203.7 321.7 202.3 315.0 203.0C308.3 203.7 301.4 206.3 296.8 209.1C292.2 211.9 289.1 216.5 287.6 219.8C286.1 223.1 286.1 226.2 287.6 228.9C289.1 231.6 297.3 233.6 296.8 235.8C296.3 238.0 289.2 240.6 284.6 241.9C280.0 243.2 274.0 242.8 269.4 243.4C264.8 244.0 260.4 244.0 257.2 245.7C254.0 247.3 251.6 250.2 250.3 253.3C249.0 256.4 249.0 260.7 249.6 264.0C250.2 267.3 251.8 270.6 254.1 273.1C256.4 275.6 261.8 278.2 263.3 279.2" fill="none" stroke="#a1a1a1" stroke-width="11.0" stroke-linecap="round" stroke-linejoin="round" filter="url(#bl3)" opacity="0.8"/>
<path d="M397.0 255.0C396.7 252.6 397.1 245.0 395.4 240.3C393.7 235.6 391.2 230.5 387.0 226.9C382.8 223.3 375.9 221.1 370.3 218.6C364.7 216.1 359.2 214.1 353.6 211.9C348.0 209.7 343.3 206.7 336.9 205.2C330.5 203.7 321.7 202.3 315.0 203.0C308.3 203.7 301.4 206.3 296.8 209.1C292.2 211.9 289.1 216.5 287.6 219.8C286.1 223.1 286.1 226.2 287.6 228.9C289.1 231.6 297.3 233.6 296.8 235.8C296.3 238.0 289.2 240.6 284.6 241.9C280.0 243.2 274.0 242.8 269.4 243.4C264.8 244.0 260.4 244.0 257.2 245.7C254.0 247.3 251.6 250.2 250.3 253.3C249.0 256.4 249.0 260.7 249.6 264.0C250.2 267.3 251.8 270.6 254.1 273.1C256.4 275.6 261.8 278.2 263.3 279.2" fill="none" stroke="#bababa" stroke-width="6.8" stroke-linecap="round" stroke-linejoin="round" filter="url(#bl1_5)" opacity="0.95"/>
<path d="M397.0 255.0C396.7 252.6 397.1 245.0 395.4 240.3C393.7 235.6 391.2 230.5 387.0 226.9C382.8 223.3 375.9 221.1 370.3 218.6C364.7 216.1 359.2 214.1 353.6 211.9C348.0 209.7 343.3 206.7 336.9 205.2C330.5 203.7 321.7 202.3 315.0 203.0C308.3 203.7 301.4 206.3 296.8 209.1C292.2 211.9 289.1 216.5 287.6 219.8C286.1 223.1 286.1 226.2 287.6 228.9C289.1 231.6 297.3 233.6 296.8 235.8C296.3 238.0 289.2 240.6 284.6 241.9C280.0 243.2 274.0 242.8 269.4 243.4C264.8 244.0 260.4 244.0 257.2 245.7C254.0 247.3 251.6 250.2 250.3 253.3C249.0 256.4 249.0 260.7 249.6 264.0C250.2 267.3 251.8 270.6 254.1 273.1C256.4 275.6 261.8 278.2 263.3 279.2" fill="none" stroke="#dedede" stroke-width="4.2" stroke-linecap="round" stroke-linejoin="round" filter="url(#bl0_8)"/>
<path d="M263.3 279.2C261.8 279.8 257.6 282.0 254.1 283.0C250.5 284.0 246.1 283.9 242.0 285.3C237.9 286.7 233.6 289.4 229.8 291.4C226.0 293.4 221.7 295.0 219.1 297.5C216.5 300.0 214.8 303.3 214.5 306.6C214.2 309.9 215.3 314.5 217.6 317.3C219.9 320.1 224.8 322.8 228.3 323.3C231.9 323.8 237.6 318.8 238.9 320.3C240.2 321.8 237.9 328.4 235.9 332.5C233.9 336.6 229.8 341.1 226.7 344.7C223.6 348.2 220.6 351.0 217.6 353.8C214.6 356.6 209.8 358.6 208.5 361.4C207.2 364.2 208.2 368.0 210.0 370.5C211.8 373.0 215.5 375.8 219.1 376.6C222.7 377.4 227.5 376.6 231.3 375.1C235.1 373.6 240.2 368.8 242.0 367.5" fill="none" stroke="#999999" stroke-width="10.0" stroke-linecap="round" stroke-linejoin="round" filter="url(#bl3)" opacity="0.8"/>
<path d="M263.3 279.2C261.8 279.8 257.6 282.0 254.1 283.0C250.5 284.0 246.1 283.9 242.0 285.3C237.9 286.7 233.6 289.4 229.8 291.4C226.0 293.4 221.7 295.0 219.1 297.5C216.5 300.0 214.8 303.3 214.5 306.6C214.2 309.9 215.3 314.5 217.6 317.3C219.9 320.1 224.8 322.8 228.3 323.3C231.9 323.8 237.6 318.8 238.9 320.3C240.2 321.8 237.9 328.4 235.9 332.5C233.9 336.6 229.8 341.1 226.7 344.7C223.6 348.2 220.6 351.0 217.6 353.8C214.6 356.6 209.8 358.6 208.5 361.4C207.2 364.2 208.2 368.0 210.0 370.5C211.8 373.0 215.5 375.8 219.1 376.6C222.7 377.4 227.5 376.6 231.3 375.1C235.1 373.6 240.2 368.8 242.0 367.5" fill="none" stroke="#bababa" stroke-width="5.8" stroke-linecap="round" stroke-linejoin="round" filter="url(#bl1_5)" opacity="0.95"/>
<path d="M263.3 279.2C261.8 279.8 257.6 282.0 254.1 283.0C250.5 284.0 246.1 283.9 242.0 285.3C237.9 286.7 233.6 289.4 229.8 291.4C226.0 293.4 221.7 295.0 219.1 297.5C216.5 300.0 214.8 303.3 214.5 306.6C214.2 309.9 215.3 314.5 217.6 317.3C219.9 320.1 224.8 322.8 228.3 323.3C231.9 323.8 237.6 318.8 238.9 320.3C240.2 321.8 237.9 328.4 235.9 332.5C233.9 336.6 229.8 341.1 226.7 344.7C223.6 348.2 220.6 351.0 217.6 353.8C214.6 356.6 209.8 358.6 208.5 361.4C207.2 364.2 208.2 368.0 210.0 370.5C211.8 373.0 215.5 375.8 219.1 376.6C222.7 377.4 227.5 376.6 231.3 375.1C235.1 373.6 240.2 368.8 242.0 367.5" fill="none" stroke="#c7c7c7" stroke-width="3.2" stroke-linecap="round" stroke-linejoin="round" filter="url(#bl0_8)"/>
<path d="M242.0 367.5C241.0 369.6 238.3 375.4 236.0 380.0C233.7 384.6 229.8 390.5 228.0 395.0C226.2 399.5 226.2 401.2 225.0 407.0C223.8 412.8 221.7 426.2 221.0 430.0" fill="none" stroke="#949494" stroke-width="8.0" stroke-linecap="round" stroke-linejoin="round" filter="url(#bl3)" opacity="0.8"/>
<path d="M242.0 367.5C241.0 369.6 238.3 375.4 236.0 380.0C233.7 384.6 229.8 390.5 228.0 395.0C226.2 399.5 226.2 401.2 225.0 407.0C223.8 412.8 221.7 426.2 221.0 430.0" fill="none" stroke="#adadad" stroke-width="4.8" stroke-linecap="round" stroke-linejoin="round" filter="url(#bl1_5)" opacity="0.95"/>
<path d="M242.0 367.5C241.0 369.6 238.3 375.4 236.0 380.0C233.7 384.6 229.8 390.5 228.0 395.0C226.2 399.5 226.2 401.2 225.0 407.0C223.8 412.8 221.7 426.2 221.0 430.0" fill="none" stroke="#adadad" stroke-width="2.2" stroke-linecap="round" stroke-linejoin="round" filter="url(#bl0_8)"/>
<path d="M221.0 430.0C219.8 433.3 217.5 443.7 214.0 450.0C210.5 456.3 205.0 463.5 200.0 468.0C195.0 472.5 189.0 475.0 184.0 477.0C179.0 479.0 172.3 479.5 170.0 480.0" fill="none" stroke="#8c8c8c" stroke-width="7.0" stroke-linecap="round" stroke-linejoin="round" filter="url(#bl3)" opacity="0.8"/>
<path d="M221.0 430.0C219.8 433.3 217.5 443.7 214.0 450.0C210.5 456.3 205.0 463.5 200.0 468.0C195.0 472.5 189.0 475.0 184.0 477.0C179.0 479.0 172.3 479.5 170.0 480.0" fill="none" stroke="#999999" stroke-width="4.8" stroke-linecap="round" stroke-linejoin="round" filter="url(#bl1_5)" opacity="0.95"/>
<path d="M221.0 430.0C219.8 433.3 217.5 443.7 214.0 450.0C210.5 456.3 205.0 463.5 200.0 468.0C195.0 472.5 189.0 475.0 184.0 477.0C179.0 479.0 172.3 479.5 170.0 480.0" fill="none" stroke="#999999" stroke-width="2.2" stroke-linecap="round" stroke-linejoin="round" filter="url(#bl0_8)"/>
<path d="M275.5 279.2C273.5 281.7 267.4 289.1 263.3 294.4C259.2 299.7 254.7 305.9 251.1 311.2C247.5 316.5 245.1 321.3 242.0 326.4C238.9 331.5 235.1 337.3 232.8 341.6C230.5 345.9 228.8 350.3 228.0 352.0" fill="none" stroke="#a1a1a1" stroke-width="9.0" stroke-linecap="round" stroke-linejoin="round" filter="url(#bl3)" opacity="0.8"/>
<path d="M275.5 279.2C273.5 281.7 267.4 289.1 263.3 294.4C259.2 299.7 254.7 305.9 251.1 311.2C247.5 316.5 245.1 321.3 242.0 326.4C238.9 331.5 235.1 337.3 232.8 341.6C230.5 345.9 228.8 350.3 228.0 352.0" fill="none" stroke="#bababa" stroke-width="5.6" stroke-linecap="round" stroke-linejoin="round" filter="url(#bl1_5)" opacity="0.95"/>
<path d="M275.5 279.2C273.5 281.7 267.4 289.1 263.3 294.4C259.2 299.7 254.7 305.9 251.1 311.2C247.5 316.5 245.1 321.3 242.0 326.4C238.9 331.5 235.1 337.3 232.8 341.6C230.5 345.9 228.8 350.3 228.0 352.0" fill="none" stroke="#bababa" stroke-width="3.0" stroke-linecap="round" stroke-linejoin="round" filter="url(#bl0_8)"/>
<path d="M296.8 235.8C299.8 235.7 309.4 235.9 315.0 235.0C320.6 234.1 325.3 232.0 330.3 230.5C335.3 229.0 340.4 227.1 345.0 226.0C349.6 224.9 355.8 224.3 358.0 224.0" fill="none" stroke="#a1a1a1" stroke-width="11.0" stroke-linecap="round" stroke-linejoin="round" filter="url(#bl3)" opacity="0.8"/>
<path d="M296.8 235.8C299.8 235.7 309.4 235.9 315.0 235.0C320.6 234.1 325.3 232.0 330.3 230.5C335.3 229.0 340.4 227.1 345.0 226.0C349.6 224.9 355.8 224.3 358.0 224.0" fill="none" stroke="#bababa" stroke-width="5.6" stroke-linecap="round" stroke-linejoin="round" filter="url(#bl1_5)" opacity="0.95"/>
<path d="M296.8 235.8C299.8 235.7 309.4 235.9 315.0 235.0C320.6 234.1 325.3 232.0 330.3 230.5C335.3 229.0 340.4 227.1 345.0 226.0C349.6 224.9 355.8 224.3 358.0 224.0" fill="none" stroke="#d1d1d1" stroke-width="3.0" stroke-linecap="round" stroke-linejoin="round" filter="url(#bl0_8)"/>
<path d="M224.0 303.0C225.3 302.3 229.0 300.2 232.0 299.0C235.0 297.8 241.0 294.8 242.0 296.0C243.0 297.2 240.0 303.0 238.0 306.0C236.0 309.0 232.3 313.2 230.0 314.0C227.7 314.8 225.0 311.5 224.0 311.0" fill="none" stroke="#b8b8b8" stroke-width="2.4" stroke-linecap="round" stroke-linejoin="round" filter="url(#bl0_6)"/>
<path d="M228.0 306.0C229.0 305.5 233.2 302.5 234.0 303.0C234.8 303.5 233.2 308.0 233.0 309.0" fill="none" stroke="#707070" stroke-width="2.4" stroke-linecap="round" stroke-linejoin="round" filter="url(#bl0_6)"/>
<path d="M217.0 363.0C218.3 362.2 222.2 359.5 225.0 358.0C227.8 356.5 233.0 353.0 234.0 354.0C235.0 355.0 232.8 361.3 231.0 364.0C229.2 366.7 225.3 369.3 223.0 370.0C220.7 370.7 218.0 368.3 217.0 368.0" fill="none" stroke="#b8b8b8" stroke-width="2.4" stroke-linecap="round" stroke-linejoin="round" filter="url(#bl0_6)"/>
<path d="M221.0 364.0C222.0 363.5 226.2 360.7 227.0 361.0C227.8 361.3 226.2 365.2 226.0 366.0" fill="none" stroke="#707070" stroke-width="2.4" stroke-linecap="round" stroke-linejoin="round" filter="url(#bl0_6)"/>
<path d="M258.0 256.0C259.7 255.0 264.0 251.3 268.0 250.0C272.0 248.7 280.7 246.3 282.0 248.0C283.3 249.7 278.7 256.3 276.0 260.0C273.3 263.7 269.0 269.0 266.0 270.0C263.0 271.0 259.3 266.7 258.0 266.0" fill="none" stroke="#c2c2c2" stroke-width="2.4" stroke-linecap="round" stroke-linejoin="round" filter="url(#bl0_6)"/>
<path d="M264.0 258.0C265.3 257.3 271.0 253.3 272.0 254.0C273.0 254.7 270.3 260.7 270.0 262.0" fill="none" stroke="#707070" stroke-width="2.4" stroke-linecap="round" stroke-linejoin="round" filter="url(#bl0_6)"/>
<path d="M640.0 270.0C641.7 271.3 648.0 275.2 650.0 278.0C652.0 280.8 652.8 285.2 652.0 287.0C651.2 288.8 647.0 289.7 645.0 289.0C643.0 288.3 640.8 284.0 640.0 283.0" fill="none" stroke="#bdbdbd" stroke-width="2.4" stroke-linecap="round" stroke-linejoin="round" filter="url(#bl0_6)"/>
<path d="M645.0 280.0C645.5 280.7 647.5 283.3 648.0 284.0" fill="none" stroke="#707070" stroke-width="2.4" stroke-linecap="round" stroke-linejoin="round" filter="url(#bl0_6)"/>
<path d="M668.0 348.0C670.0 347.8 676.7 346.0 680.0 347.0C683.3 348.0 687.3 351.2 688.0 354.0C688.7 356.8 686.7 362.2 684.0 364.0C681.3 365.8 675.0 366.0 672.0 365.0C669.0 364.0 667.0 359.2 666.0 358.0" fill="none" stroke="#bdbdbd" stroke-width="2.4" stroke-linecap="round" stroke-linejoin="round" filter="url(#bl0_6)"/>
<path d="M674.0 354.0C675.2 354.2 680.3 354.0 681.0 355.0C681.7 356.0 678.5 359.2 678.0 360.0" fill="none" stroke="#6b6b6b" stroke-width="2.4" stroke-linecap="round" stroke-linejoin="round" filter="url(#bl0_6)"/>
<path d="M359.0 243.6C359.8 245.0 361.5 249.6 364.0 252.0C366.5 254.4 370.3 257.3 374.0 258.0C377.7 258.7 383.0 258.0 386.0 256.0C389.0 254.0 391.7 249.3 392.0 246.0C392.3 242.7 390.3 238.3 388.0 236.0C385.7 233.7 381.3 232.2 378.0 232.0C374.7 231.8 369.7 234.5 368.0 235.0" fill="none" stroke="#a1a1a1" stroke-width="9.0" stroke-linecap="round" stroke-linejoin="round" filter="url(#bl3)" opacity="0.8"/>
<path d="M359.0 243.6C359.8 245.0 361.5 249.6 364.0 252.0C366.5 254.4 370.3 257.3 374.0 258.0C377.7 258.7 383.0 258.0 386.0 256.0C389.0 254.0 391.7 249.3 392.0 246.0C392.3 242.7 390.3 238.3 388.0 236.0C385.7 233.7 381.3 232.2 378.0 232.0C374.7 231.8 369.7 234.5 368.0 235.0" fill="none" stroke="#bababa" stroke-width="5.6" stroke-linecap="round" stroke-linejoin="round" filter="url(#bl1_5)" opacity="0.95"/>
<path d="M359.0 243.6C359.8 245.0 361.5 249.6 364.0 252.0C366.5 254.4 370.3 257.3 374.0 258.0C377.7 258.7 383.0 258.0 386.0 256.0C389.0 254.0 391.7 249.3 392.0 246.0C392.3 242.7 390.3 238.3 388.0 236.0C385.7 233.7 381.3 232.2 378.0 232.0C374.7 231.8 369.7 234.5 368.0 235.0" fill="none" stroke="#bdbdbd" stroke-width="3.0" stroke-linecap="round" stroke-linejoin="round" filter="url(#bl0_8)"/>
<path d="M318.0 215.0C319.3 216.2 325.7 219.8 326.0 222.0C326.3 224.2 322.2 228.0 320.0 228.0C317.8 228.0 314.2 223.0 313.0 222.0" fill="none" stroke="#707070" stroke-width="2.2" stroke-linecap="round" stroke-linejoin="round" filter="url(#bl0_6)"/>
<path d="M300.0 222.0C302.0 222.8 307.0 226.5 312.0 227.0C317.0 227.5 327.0 225.3 330.0 225.0" fill="none" stroke="#c2c2c2" stroke-width="2.2" stroke-linecap="round" stroke-linejoin="round" filter="url(#bl0_6)"/>
<path d="M335.0 214.0C337.5 215.3 345.2 219.7 350.0 222.0C354.8 224.3 361.7 227.0 364.0 228.0" fill="none" stroke="#8a8a8a" stroke-width="2.2" stroke-linecap="round" stroke-linejoin="round" filter="url(#bl0_6)"/>
<path d="M320.0 219.0C320.3 219.8 321.7 223.2 322.0 224.0" fill="none" stroke="#4c4c4c" stroke-width="2.2" stroke-linecap="round" stroke-linejoin="round" filter="url(#bl0_6)"/>
<path d="M300.0 214.0C302.5 213.2 309.2 209.5 315.0 209.0C320.8 208.5 328.3 209.5 335.0 211.0C341.7 212.5 351.7 216.8 355.0 218.0" fill="none" stroke="#a8a8a8" stroke-width="2.2" stroke-linecap="round" stroke-linejoin="round" filter="url(#bl0_6)"/>
<path d="M483.9 240.3C479.1 239.7 486.4 227.1 488.9 221.5C491.4 215.9 495.2 210.9 499.0 206.5C502.8 202.1 507.3 198.8 511.5 195.2C515.7 191.6 520.2 188.1 524.0 185.2C527.8 182.3 530.5 179.4 534.0 177.7C537.5 176.0 541.3 175.1 545.3 175.1C549.3 175.1 554.2 176.0 557.8 177.7C561.3 179.4 564.5 182.3 566.6 185.2C568.7 188.1 570.3 191.9 570.3 195.2C570.3 198.5 568.7 202.7 566.6 205.2C564.5 207.7 561.8 208.5 557.8 210.2C553.8 211.9 548.4 213.5 542.8 215.2C537.2 216.9 528.2 218.5 524.0 220.2C519.8 221.9 524.4 221.8 517.7 225.2C511.0 228.5 488.7 240.9 483.9 240.3Z" fill="#9c9c9c" filter="url(#bl2)"/>
<path d="M500.0 216.0C502.3 213.8 509.0 207.0 514.0 203.0C519.0 199.0 524.7 195.2 530.0 192.0C535.3 188.8 543.3 185.3 546.0 184.0" fill="none" stroke="#bdbdbd" stroke-width="2.2" stroke-linecap="round" stroke-linejoin="round" filter="url(#bl0_6)"/>
<path d="M508.0 222.0C510.7 220.0 518.3 213.3 524.0 210.0C529.7 206.7 536.3 204.3 542.0 202.0C547.7 199.7 555.3 197.0 558.0 196.0" fill="none" stroke="#808080" stroke-width="2.2" stroke-linecap="round" stroke-linejoin="round" filter="url(#bl0_6)"/>
<path d="M520.0 205.0C522.0 203.8 527.8 199.7 532.0 198.0C536.2 196.3 542.8 195.5 545.0 195.0" fill="none" stroke="#707070" stroke-width="2.2" stroke-linecap="round" stroke-linejoin="round" filter="url(#bl0_6)"/>
<path d="M534.0 208.0C536.3 207.3 545.7 204.7 548.0 204.0" fill="none" stroke="#b2b2b2" stroke-width="2.2" stroke-linecap="round" stroke-linejoin="round" filter="url(#bl0_6)"/>
<path d="M494.0 236.0C495.0 233.7 497.7 226.0 500.0 222.0C502.3 218.0 506.7 213.7 508.0 212.0" fill="none" stroke="#d1d1d1" stroke-width="2.2" stroke-linecap="round" stroke-linejoin="round" filter="url(#bl0_6)"/>
<path d="M550.0 190.0C551.7 190.3 558.3 191.7 560.0 192.0" fill="none" stroke="#757575" stroke-width="2.2" stroke-linecap="round" stroke-linejoin="round" filter="url(#bl0_6)"/>
<path d="M512.0 214.0C514.3 212.7 523.7 207.3 526.0 206.0" fill="none" stroke="#adadad" stroke-width="2.2" stroke-linecap="round" stroke-linejoin="round" filter="url(#bl0_6)"/>
<path d="M528.0 184.0C530.0 183.3 536.0 180.3 540.0 180.0C544.0 179.7 548.5 180.7 552.0 182.0C555.5 183.3 559.5 187.0 561.0 188.0" fill="none" stroke="#d1d1d1" stroke-width="2.2" stroke-linecap="round" stroke-linejoin="round" filter="url(#bl0_6)"/>
<path d="M560.0 200.0C558.0 201.2 552.7 205.0 548.0 207.0C543.3 209.0 534.7 211.2 532.0 212.0" fill="none" stroke="#d1d1d1" stroke-width="2.2" stroke-linecap="round" stroke-linejoin="round" filter="url(#bl0_6)"/>
<path d="M504.0 208.0C506.0 206.3 512.0 201.0 516.0 198.0C520.0 195.0 526.0 191.3 528.0 190.0" fill="none" stroke="#cccccc" stroke-width="2.2" stroke-linecap="round" stroke-linejoin="round" filter="url(#bl0_6)"/>
<path d="M540.0 190.0C542.0 190.0 550.0 190.0 552.0 190.0" fill="none" stroke="#808080" stroke-width="2.2" stroke-linecap="round" stroke-linejoin="round" filter="url(#bl0_6)"/>
<path d="M526.0 200.0C528.0 199.3 536.0 196.7 538.0 196.0" fill="none" stroke="#c7c7c7" stroke-width="2.2" stroke-linecap="round" stroke-linejoin="round" filter="url(#bl0_6)"/>
<path d="M486.7 259.0C486.3 256.8 484.6 249.1 484.1 246.0C483.6 242.9 483.1 244.4 483.9 240.3C484.7 236.2 486.4 227.1 488.9 221.5C491.4 215.9 495.2 210.9 499.0 206.5C502.8 202.1 507.3 198.8 511.5 195.2C515.7 191.6 520.2 188.1 524.0 185.2C527.8 182.3 530.5 179.4 534.0 177.7C537.5 176.0 541.3 175.1 545.3 175.1C549.3 175.1 554.2 176.0 557.8 177.7C561.3 179.4 564.5 182.3 566.6 185.2C568.7 188.1 570.3 191.9 570.3 195.2C570.3 198.5 568.7 202.7 566.6 205.2C564.5 207.7 561.8 208.5 557.8 210.2C553.8 211.9 548.4 213.5 542.8 215.2C537.2 216.9 528.2 218.5 524.0 220.2C519.8 221.9 518.8 224.4 517.7 225.2" fill="none" stroke="#a1a1a1" stroke-width="11.0" stroke-linecap="round" stroke-linejoin="round" filter="url(#bl3)" opacity="0.8"/>
<path d="M486.7 259.0C486.3 256.8 484.6 249.1 484.1 246.0C483.6 242.9 483.1 244.4 483.9 240.3C484.7 236.2 486.4 227.1 488.9 221.5C491.4 215.9 495.2 210.9 499.0 206.5C502.8 202.1 507.3 198.8 511.5 195.2C515.7 191.6 520.2 188.1 524.0 185.2C527.8 182.3 530.5 179.4 534.0 177.7C537.5 176.0 541.3 175.1 545.3 175.1C549.3 175.1 554.2 176.0 557.8 177.7C561.3 179.4 564.5 182.3 566.6 185.2C568.7 188.1 570.3 191.9 570.3 195.2C570.3 198.5 568.7 202.7 566.6 205.2C564.5 207.7 561.8 208.5 557.8 210.2C553.8 211.9 548.4 213.5 542.8 215.2C537.2 216.9 528.2 218.5 524.0 220.2C519.8 221.9 518.8 224.4 517.7 225.2" fill="none" stroke="#bababa" stroke-width="7.0" stroke-linecap="round" stroke-linejoin="round" filter="url(#bl1_5)" opacity="0.95"/>
<path d="M486.7 259.0C486.3 256.8 484.6 249.1 484.1 246.0C483.6 242.9 483.1 244.4 483.9 240.3C484.7 236.2 486.4 227.1 488.9 221.5C491.4 215.9 495.2 210.9 499.0 206.5C502.8 202.1 507.3 198.8 511.5 195.2C515.7 191.6 520.2 188.1 524.0 185.2C527.8 182.3 530.5 179.4 534.0 177.7C537.5 176.0 541.3 175.1 545.3 175.1C549.3 175.1 554.2 176.0 557.8 177.7C561.3 179.4 564.5 182.3 566.6 185.2C568.7 188.1 570.3 191.9 570.3 195.2C570.3 198.5 568.7 202.7 566.6 205.2C564.5 207.7 561.8 208.5 557.8 210.2C553.8 211.9 548.4 213.5 542.8 215.2C537.2 216.9 528.2 218.5 524.0 220.2C519.8 221.9 518.8 224.4 517.7 225.2" fill="none" stroke="#e0e0e0" stroke-width="4.4" stroke-linecap="round" stroke-linejoin="round" filter="url(#bl0_8)"/>
<path d="M492.0 262.0C492.0 259.3 491.2 251.3 492.0 246.0C492.8 240.7 494.7 234.7 497.0 230.0C499.3 225.3 504.5 220.0 506.0 218.0" fill="none" stroke="#a1a1a1" stroke-width="8.0" stroke-linecap="round" stroke-linejoin="round" filter="url(#bl3)" opacity="0.8"/>
<path d="M492.0 262.0C492.0 259.3 491.2 251.3 492.0 246.0C492.8 240.7 494.7 234.7 497.0 230.0C499.3 225.3 504.5 220.0 506.0 218.0" fill="none" stroke="#bababa" stroke-width="5.2" stroke-linecap="round" stroke-linejoin="round" filter="url(#bl1_5)" opacity="0.95"/>
<path d="M492.0 262.0C492.0 259.3 491.2 251.3 492.0 246.0C492.8 240.7 494.7 234.7 497.0 230.0C499.3 225.3 504.5 220.0 506.0 218.0" fill="none" stroke="#d1d1d1" stroke-width="2.6" stroke-linecap="round" stroke-linejoin="round" filter="url(#bl0_8)"/>
<path d="M506.0 232.0C507.3 231.3 511.2 227.7 514.0 228.0C516.8 228.3 521.2 230.3 523.0 234.0C524.8 237.7 525.7 245.2 525.0 250.0C524.3 254.8 521.5 260.3 519.0 263.0C516.5 265.7 511.5 265.5 510.0 266.0" fill="none" stroke="#a1a1a1" stroke-width="9.0" stroke-linecap="round" stroke-linejoin="round" filter="url(#bl3)" opacity="0.8"/>
<path d="M506.0 232.0C507.3 231.3 511.2 227.7 514.0 228.0C516.8 228.3 521.2 230.3 523.0 234.0C524.8 237.7 525.7 245.2 525.0 250.0C524.3 254.8 521.5 260.3 519.0 263.0C516.5 265.7 511.5 265.5 510.0 266.0" fill="none" stroke="#bababa" stroke-width="5.8" stroke-linecap="round" stroke-linejoin="round" filter="url(#bl1_5)" opacity="0.95"/>
<path d="M506.0 232.0C507.3 231.3 511.2 227.7 514.0 228.0C516.8 228.3 521.2 230.3 523.0 234.0C524.8 237.7 525.7 245.2 525.0 250.0C524.3 254.8 521.5 260.3 519.0 263.0C516.5 265.7 511.5 265.5 510.0 266.0" fill="none" stroke="#bababa" stroke-width="3.2" stroke-linecap="round" stroke-linejoin="round" filter="url(#bl0_8)"/>
<path d="M517.7 225.2C519.8 226.2 526.1 229.8 530.3 231.5C534.5 233.2 537.8 235.2 542.8 235.3C547.8 235.4 553.3 233.6 560.0 232.2C566.7 230.8 575.3 227.8 582.9 226.9C590.5 226.0 599.4 226.2 605.7 226.9C612.0 227.7 616.6 229.0 620.9 231.4C625.2 233.8 629.6 237.6 631.6 241.3C633.6 245.0 631.3 249.7 633.1 253.5C634.9 257.3 638.7 260.9 642.3 264.2C645.9 267.5 651.7 270.0 654.5 273.3C657.3 276.6 659.3 280.7 659.0 284.0C658.7 287.3 655.7 291.6 652.9 293.1C650.1 294.6 645.0 294.1 642.3 293.1C639.6 292.1 637.3 289.0 636.9 287.0C636.5 285.0 639.5 282.0 640.0 281.0" fill="none" stroke="#a1a1a1" stroke-width="11.0" stroke-linecap="round" stroke-linejoin="round" filter="url(#bl3)" opacity="0.8"/>
<path d="M517.7 225.2C519.8 226.2 526.1 229.8 530.3 231.5C534.5 233.2 537.8 235.2 542.8 235.3C547.8 235.4 553.3 233.6 560.0 232.2C566.7 230.8 575.3 227.8 582.9 226.9C590.5 226.0 599.4 226.2 605.7 226.9C612.0 227.7 616.6 229.0 620.9 231.4C625.2 233.8 629.6 237.6 631.6 241.3C633.6 245.0 631.3 249.7 633.1 253.5C634.9 257.3 638.7 260.9 642.3 264.2C645.9 267.5 651.7 270.0 654.5 273.3C657.3 276.6 659.3 280.7 659.0 284.0C658.7 287.3 655.7 291.6 652.9 293.1C650.1 294.6 645.0 294.1 642.3 293.1C639.6 292.1 637.3 289.0 636.9 287.0C636.5 285.0 639.5 282.0 640.0 281.0" fill="none" stroke="#bababa" stroke-width="6.8" stroke-linecap="round" stroke-linejoin="round" filter="url(#bl1_5)" opacity="0.95"/>
<path d="M517.7 225.2C519.8 226.2 526.1 229.8 530.3 231.5C534.5 233.2 537.8 235.2 542.8 235.3C547.8 235.4 553.3 233.6 560.0 232.2C566.7 230.8 575.3 227.8 582.9 226.9C590.5 226.0 599.4 226.2 605.7 226.9C612.0 227.7 616.6 229.0 620.9 231.4C625.2 233.8 629.6 237.6 631.6 241.3C633.6 245.0 631.3 249.7 633.1 253.5C634.9 257.3 638.7 260.9 642.3 264.2C645.9 267.5 651.7 270.0 654.5 273.3C657.3 276.6 659.3 280.7 659.0 284.0C658.7 287.3 655.7 291.6 652.9 293.1C650.1 294.6 645.0 294.1 642.3 293.1C639.6 292.1 637.3 289.0 636.9 287.0C636.5 285.0 639.5 282.0 640.0 281.0" fill="none" stroke="#dedede" stroke-width="4.2" stroke-linecap="round" stroke-linejoin="round" filter="url(#bl0_8)"/>
<path d="M629.0 268.0C628.9 270.1 628.2 276.2 628.6 280.9C629.0 285.6 629.3 291.4 631.6 296.2C633.9 301.0 638.5 305.6 642.3 309.9C646.1 314.2 650.5 317.8 654.5 322.1C658.5 326.4 662.6 332.5 666.6 335.8C670.6 339.1 675.0 340.9 678.8 341.9C682.6 342.9 686.7 340.4 689.5 341.9C692.3 343.4 694.8 347.4 695.6 351.0C696.4 354.6 695.9 359.9 694.1 363.2C692.3 366.5 689.0 369.5 684.9 370.8C680.8 372.1 673.8 371.8 669.7 370.8C665.6 369.8 662.3 367.0 660.5 364.7C658.7 362.4 658.4 359.2 659.0 357.1C659.6 355.0 663.2 352.9 664.0 352.0" fill="none" stroke="#999999" stroke-width="10.0" stroke-linecap="round" stroke-linejoin="round" filter="url(#bl3)" opacity="0.8"/>
<path d="M629.0 268.0C628.9 270.1 628.2 276.2 628.6 280.9C629.0 285.6 629.3 291.4 631.6 296.2C633.9 301.0 638.5 305.6 642.3 309.9C646.1 314.2 650.5 317.8 654.5 322.1C658.5 326.4 662.6 332.5 666.6 335.8C670.6 339.1 675.0 340.9 678.8 341.9C682.6 342.9 686.7 340.4 689.5 341.9C692.3 343.4 694.8 347.4 695.6 351.0C696.4 354.6 695.9 359.9 694.1 363.2C692.3 366.5 689.0 369.5 684.9 370.8C680.8 372.1 673.8 371.8 669.7 370.8C665.6 369.8 662.3 367.0 660.5 364.7C658.7 362.4 658.4 359.2 659.0 357.1C659.6 355.0 663.2 352.9 664.0 352.0" fill="none" stroke="#bababa" stroke-width="5.8" stroke-linecap="round" stroke-linejoin="round" filter="url(#bl1_5)" opacity="0.95"/>
<path d="M629.0 268.0C628.9 270.1 628.2 276.2 628.6 280.9C629.0 285.6 629.3 291.4 631.6 296.2C633.9 301.0 638.5 305.6 642.3 309.9C646.1 314.2 650.5 317.8 654.5 322.1C658.5 326.4 662.6 332.5 666.6 335.8C670.6 339.1 675.0 340.9 678.8 341.9C682.6 342.9 686.7 340.4 689.5 341.9C692.3 343.4 694.8 347.4 695.6 351.0C696.4 354.6 695.9 359.9 694.1 363.2C692.3 366.5 689.0 369.5 684.9 370.8C680.8 372.1 673.8 371.8 669.7 370.8C665.6 369.8 662.3 367.0 660.5 364.7C658.7 362.4 658.4 359.2 659.0 357.1C659.6 355.0 663.2 352.9 664.0 352.0" fill="none" stroke="#c9c9c9" stroke-width="3.2" stroke-linecap="round" stroke-linejoin="round" filter="url(#bl0_8)"/>
<path d="M645.3 352.5C645.8 355.8 646.4 365.9 648.4 372.3C650.4 378.7 654.5 384.2 657.5 390.6C660.5 397.0 665.1 407.1 666.6 410.4" fill="none" stroke="#949494" stroke-width="8.0" stroke-linecap="round" stroke-linejoin="round" filter="url(#bl3)" opacity="0.8"/>
<path d="M645.3 352.5C645.8 355.8 646.4 365.9 648.4 372.3C650.4 378.7 654.5 384.2 657.5 390.6C660.5 397.0 665.1 407.1 666.6 410.4" fill="none" stroke="#adadad" stroke-width="4.8" stroke-linecap="round" stroke-linejoin="round" filter="url(#bl1_5)" opacity="0.95"/>
<path d="M645.3 352.5C645.8 355.8 646.4 365.9 648.4 372.3C650.4 378.7 654.5 384.2 657.5 390.6C660.5 397.0 665.1 407.1 666.6 410.4" fill="none" stroke="#adadad" stroke-width="2.2" stroke-linecap="round" stroke-linejoin="round" filter="url(#bl0_8)"/>
<path d="M666.6 410.4C668.5 413.7 674.1 423.7 678.0 430.0C681.9 436.3 685.8 442.3 690.0 448.0C694.2 453.7 697.8 459.0 703.0 464.0C708.2 469.0 718.0 475.7 721.0 478.0" fill="none" stroke="#8c8c8c" stroke-width="7.0" stroke-linecap="round" stroke-linejoin="round" filter="url(#bl3)" opacity="0.8"/>
<path d="M666.6 410.4C668.5 413.7 674.1 423.7 678.0 430.0C681.9 436.3 685.8 442.3 690.0 448.0C694.2 453.7 697.8 459.0 703.0 464.0C708.2 469.0 718.0 475.7 721.0 478.0" fill="none" stroke="#999999" stroke-width="4.8" stroke-linecap="round" stroke-linejoin="round" filter="url(#bl1_5)" opacity="0.95"/>
<path d="M666.6 410.4C668.5 413.7 674.1 423.7 678.0 430.0C681.9 436.3 685.8 442.3 690.0 448.0C694.2 453.7 697.8 459.0 703.0 464.0C708.2 469.0 718.0 475.7 721.0 478.0" fill="none" stroke="#999999" stroke-width="2.2" stroke-linecap="round" stroke-linejoin="round" filter="url(#bl0_8)"/>
<path d="M170.0 544.0C178.3 543.1 207.5 541.9 220.0 538.5C232.5 535.1 236.7 530.2 245.0 523.5C253.3 516.8 263.0 506.8 270.0 498.4C277.0 490.0 282.3 483.8 287.0 473.4C291.7 463.0 294.8 449.9 298.0 436.0C301.2 422.1 304.5 406.0 306.0 390.0C307.5 374.0 306.5 355.8 306.9 340.0C307.3 324.2 307.6 305.3 308.6 295.0C309.6 284.7 309.8 282.5 313.0 278.0C316.2 273.5 321.8 270.3 328.0 268.0C334.2 265.7 342.7 264.0 350.0 264.0C357.3 264.0 364.5 265.9 372.0 268.0C379.5 270.1 383.0 275.4 395.1 276.9C407.2 278.4 427.1 277.0 444.7 277.0C462.3 277.0 487.7 278.1 500.6 276.9C513.5 275.7 514.8 272.1 522.0 270.0C529.2 267.9 537.3 265.0 544.0 264.0C550.7 263.0 556.8 262.8 562.0 264.0C567.2 265.2 571.0 266.1 575.0 271.0C579.0 275.9 583.6 283.8 585.9 293.1C588.2 302.4 588.4 313.4 588.9 326.6C589.4 339.8 589.0 360.1 588.9 372.3C588.8 384.5 587.3 389.4 588.0 400.0C588.7 410.6 590.3 423.8 593.0 436.0C595.7 448.2 599.3 463.0 604.0 473.4C608.7 483.8 614.0 490.0 621.0 498.4C628.0 506.8 637.7 516.8 646.0 523.5C654.3 530.2 658.5 535.1 671.0 538.5C683.5 541.9 712.7 543.1 721.0 544.0L721 640 L170 640Z" fill="#1f1f1f" stroke="#1f1f1f" stroke-width="4.0" stroke-linecap="round" stroke-linejoin="round" filter="url(#bl2)"/>
<path d="M170.0 544.0C178.3 543.1 207.5 541.9 220.0 538.5C232.5 535.1 236.7 530.2 245.0 523.5C253.3 516.8 263.0 506.8 270.0 498.4C277.0 490.0 282.3 483.8 287.0 473.4C291.7 463.0 294.8 449.9 298.0 436.0C301.2 422.1 304.5 406.0 306.0 390.0C307.5 374.0 306.5 355.8 306.9 340.0C307.3 324.2 307.6 305.3 308.6 295.0C309.6 284.7 309.8 282.5 313.0 278.0C316.2 273.5 321.8 270.3 328.0 268.0C334.2 265.7 342.7 264.0 350.0 264.0C357.3 264.0 364.5 265.9 372.0 268.0C379.5 270.1 383.0 275.4 395.1 276.9C407.2 278.4 427.1 277.0 444.7 277.0C462.3 277.0 487.7 278.1 500.6 276.9C513.5 275.7 514.8 272.1 522.0 270.0C529.2 267.9 537.3 265.0 544.0 264.0C550.7 263.0 556.8 262.8 562.0 264.0C567.2 265.2 571.0 266.1 575.0 271.0C579.0 275.9 583.6 283.8 585.9 293.1C588.2 302.4 588.4 313.4 588.9 326.6C589.4 339.8 589.0 360.1 588.9 372.3C588.8 384.5 587.3 389.4 588.0 400.0C588.7 410.6 590.3 423.8 593.0 436.0C595.7 448.2 599.3 463.0 604.0 473.4C608.7 483.8 614.0 490.0 621.0 498.4C628.0 506.8 637.7 516.8 646.0 523.5C654.3 530.2 658.5 535.1 671.0 538.5C683.5 541.9 712.7 543.1 721.0 544.0L721 640 L170 640Z" fill="#000000" filter="url(#bl1)"/>
<path d="M170.0 544.0C178.3 543.1 207.5 541.9 220.0 538.5C232.5 535.1 236.7 530.2 245.0 523.5C253.3 516.8 263.0 506.8 270.0 498.4C277.0 490.0 282.3 483.8 287.0 473.4C291.7 463.0 294.8 449.9 298.0 436.0C301.2 422.1 304.7 397.7 306.0 390.0" fill="none" stroke="#171717" stroke-width="7.0" stroke-linecap="round" stroke-linejoin="round" filter="url(#bl2)" opacity="0.9"/>
<path d="M721.0 544.0C712.7 543.1 683.5 541.9 671.0 538.5C658.5 535.1 654.3 530.2 646.0 523.5C637.7 516.8 628.0 506.8 621.0 498.4C614.0 490.0 608.7 483.8 604.0 473.4C599.3 463.0 596.2 449.9 593.0 436.0C589.8 422.1 586.3 397.7 585.0 390.0" fill="none" stroke="#171717" stroke-width="7.0" stroke-linecap="round" stroke-linejoin="round" filter="url(#bl2)" opacity="0.9"/>
<path d="M298.0 436.0C299.3 428.3 304.5 406.0 306.0 390.0C307.5 374.0 306.5 355.8 306.9 340.0C307.3 324.2 307.6 305.3 308.6 295.0C309.6 284.7 312.3 280.8 313.0 278.0" fill="none" stroke="#1a1a1a" stroke-width="3.5" stroke-linecap="round" stroke-linejoin="round" filter="url(#bl2)" opacity="0.8"/>
<path d="M593.0 436.0C591.7 428.3 586.5 406.0 585.0 390.0C583.5 374.0 584.5 355.8 584.1 340.0C583.7 324.2 583.4 305.3 582.4 295.0C581.4 284.7 578.7 280.8 578.0 278.0" fill="none" stroke="#1a1a1a" stroke-width="3.5" stroke-linecap="round" stroke-linejoin="round" filter="url(#bl2)" opacity="0.8"/>
<path d="M312.0 296.0C310.0 291.0 314.2 284.0 318.0 280.0C321.8 276.0 329.3 274.0 335.0 272.0C340.7 270.0 345.8 268.0 352.0 268.0C358.2 268.0 364.7 269.8 372.0 272.0C379.3 274.2 383.8 279.5 396.0 281.0C408.2 282.5 427.7 281.0 445.0 281.0C462.3 281.0 487.2 282.2 500.0 281.0C512.8 279.8 514.7 276.2 522.0 274.0C529.3 271.8 537.3 269.0 544.0 268.0C550.7 267.0 556.3 266.3 562.0 268.0C567.7 269.7 574.3 273.3 578.0 278.0C581.7 282.7 585.3 290.3 584.0 296.0C582.7 301.7 577.3 307.3 570.0 312.0C562.7 316.7 551.7 320.8 540.0 324.0C528.3 327.2 515.8 329.0 500.0 331.0C484.2 333.0 461.7 336.3 445.0 336.0C428.3 335.7 414.2 331.7 400.0 329.0C385.8 326.3 371.7 323.2 360.0 320.0C348.3 316.8 338.0 314.0 330.0 310.0C322.0 306.0 314.0 301.0 312.0 296.0Z" fill="#1c1c1c" filter="url(#bl6)" opacity="0.9"/>
<g filter="url(#bl0_6)" fill="none" stroke-linecap="round" stroke-linejoin="round">
<path d="M316.6 281.8Q323.9 282 330.8 279.2T345 277.3" stroke="#494949" stroke-width="3.7"/>
<path d="M334.7 281.2Q341 283.5 347.6 282.3T362.1 284" stroke="#3d3d3d" stroke-width="3.3"/>
<path d="M357.1 277.3Q367.5 276.4 377.6 278.5T397.8 278.3" stroke="#454545" stroke-width="3.8"/>
<path d="M384.7 275.6Q390.4 273.2 395 277.4T404.1 278.2" stroke="#494949" stroke-width="4.4"/>
<path d="M403.8 283.8Q409.8 287 415.8 283.8T426.8 284.1" stroke="#494949" stroke-width="3.9"/>
<path d="M415.4 276.4Q421.7 281.5 429.7 280.4T443.8 284" stroke="#1a1a1a" stroke-width="3.2"/>
<path d="M425.2 286.4Q434.2 286.5 442.3 282.6T457.9 278" stroke="#0a0a0a" stroke-width="4.1"/>
<path d="M437.2 280.6Q448.1 276 459.7 277.6T483.6 273.4" stroke="#494949" stroke-width="4.2"/>
<path d="M471.5 265.4Q481.1 271.4 492.1 274.2T513.1 281.9" stroke="#1a1a1a" stroke-width="4.1"/>
<path d="M490.2 278.8Q496.4 278.6 501.8 275.6T512.5 272.4" stroke="#454545" stroke-width="4.4"/>
<path d="M511.1 284.5Q521.4 280.1 532.6 280.7T553.9 277" stroke="#3d3d3d" stroke-width="3.6"/>
<path d="M527.1 274.4Q534.4 272.9 540.3 277.5T554.4 281.8" stroke="#525252" stroke-width="2.9"/>
<path d="M549.4 286.8Q559.3 281.1 570.8 280.6T593.3 275.8" stroke="#494949" stroke-width="4.6"/>
<path d="M315.8 299.2Q324.6 294.8 334.5 294.9T352.3 291.1" stroke="#454545" stroke-width="4"/>
<path d="M330.5 286.5Q339.9 292.6 351.2 293T372.8 300.8" stroke="#494949" stroke-width="4.1"/>
<path d="M366.3 284.8Q370.7 289.2 376.9 289.4T388.4 294.5" stroke="#494949" stroke-width="3.3"/>
<path d="M383.2 295.6Q392.2 294.9 399.3 289.3T415.3 284.3" stroke="#454545" stroke-width="3.6"/>
<path d="M393.5 293Q401.6 288.4 410.7 289.8T428.5 286.3" stroke="#494949" stroke-width="3.1"/>
<path d="M418.3 293.6Q427.2 298.1 437.2 297.4T456.3 301" stroke="#494949" stroke-width="3.9"/>
<path d="M418.8 282.3Q428.4 288.3 439.6 289.6T460.2 297.9" stroke="#494949" stroke-width="4.2"/>
<path d="M448 288Q454.2 290.8 460.9 290.1T474.8 293" stroke="#0a0a0a" stroke-width="4.6"/>
<path d="M478.1 293.6Q483.4 289.1 490.4 288.7T504.1 283.9" stroke="#1a1a1a" stroke-width="3.9"/>
<path d="M493.3 303.2Q503.6 302.9 511.7 296.4T531.1 290.6" stroke="#1a1a1a" stroke-width="4"/>
<path d="M515.8 293.2Q523.9 295.1 531.3 291.4T547 290.6" stroke="#0a0a0a" stroke-width="3.2"/>
<path d="M522.2 289.6Q529.4 292.5 536.9 290.2T551.9 289.4" stroke="#494949" stroke-width="4.7"/>
<path d="M542 295.9Q548.1 298.6 554.5 296.7T568.1 298.6" stroke="#0a0a0a" stroke-width="3.6"/>
<path d="M330.7 297.9Q340.5 299.3 349.1 304T366.3 309.8" stroke="#0a0a0a" stroke-width="4.3"/>
<path d="M387.5 306.9Q398.1 309.6 408.8 307.5T429.4 306.8" stroke="#525252" stroke-width="3"/>
<path d="M414.5 305.8Q420.6 309.6 427.8 309.1T440.4 313.1" stroke="#454545" stroke-width="4.3"/>
<path d="M422.5 306.9Q433.3 303.9 444.1 306.5T466.1 304.8" stroke="#454545" stroke-width="4.3"/>
<path d="M469.7 312.9Q475.3 308.5 482.3 309.7T494.4 305.4" stroke="#494949" stroke-width="3.2"/>
<path d="M498.1 299.6Q503.3 303.1 509.5 303.7T520.5 307.3" stroke="#494949" stroke-width="3.3"/>
<path d="M509.9 306.5Q516.5 303.2 523.6 305.1T538.6 304.7" stroke="#494949" stroke-width="4"/>
</g>
<path d="M401.4 325.2C402.0 325.9 403.5 328.3 405.0 329.5C406.5 330.6 408.6 331.2 410.3 332.1C412.1 333.0 414.0 333.7 415.4 335.0C416.7 336.2 418.0 338.9 418.5 339.7" fill="none" stroke="#1f1f1f" stroke-width="1.3" stroke-linecap="round" stroke-linejoin="round" filter="url(#bl1)"/>
<path d="M542.7 327.3C542.6 327.9 542.0 329.8 542.1 330.8C542.3 331.8 542.8 332.5 543.6 333.1C544.4 333.7 546.0 333.9 546.9 334.4C547.9 334.9 549.0 335.9 549.4 336.2" fill="none" stroke="#1f1f1f" stroke-width="2.5" stroke-linecap="round" stroke-linejoin="round" filter="url(#bl1)"/>
<path d="M359.8 339.2C359.8 339.7 360.1 341.2 359.7 342.3C359.4 343.4 358.3 344.5 357.8 345.6C357.4 346.7 357.0 347.8 357.2 348.8C357.5 349.8 359.0 351.1 359.3 351.6" fill="none" stroke="#1f1f1f" stroke-width="1.7" stroke-linecap="round" stroke-linejoin="round" filter="url(#bl1)"/>
<path d="M356.3 345.8C356.9 346.2 359.1 347.2 360.3 348.1C361.5 348.9 362.9 349.7 363.6 350.8C364.3 352.0 364.3 353.5 364.5 355.0C364.7 356.5 364.7 358.8 364.7 359.6" fill="none" stroke="#1f1f1f" stroke-width="1.4" stroke-linecap="round" stroke-linejoin="round" filter="url(#bl1)"/>
<path d="M377.3 323.5C377.4 324.0 377.1 325.6 377.6 326.5C378.1 327.4 379.5 328.1 380.3 328.9C381.2 329.7 382.3 330.4 382.6 331.4C382.9 332.3 382.3 334.0 382.2 334.5" fill="none" stroke="#1f1f1f" stroke-width="2.0" stroke-linecap="round" stroke-linejoin="round" filter="url(#bl1)"/>
<path d="M502.9 326.8C502.4 327.2 500.6 328.3 499.9 329.1C499.2 330.0 498.6 330.8 498.5 331.8C498.5 332.8 499.3 334.0 499.7 335.1C500.1 336.2 500.6 337.9 500.8 338.4" fill="none" stroke="#1f1f1f" stroke-width="1.3" stroke-linecap="round" stroke-linejoin="round" filter="url(#bl1)"/>
<path d="M345.7 344.0C346.0 344.4 346.9 345.6 347.9 346.1C348.8 346.7 350.5 346.7 351.5 347.3C352.5 347.8 353.5 348.3 353.9 349.2C354.4 350.1 354.1 352.1 354.2 352.7" fill="none" stroke="#1f1f1f" stroke-width="1.5" stroke-linecap="round" stroke-linejoin="round" filter="url(#bl1)"/>
<path d="M472.7 330.3C472.5 331.3 471.3 334.3 471.1 336.3C471.0 338.2 471.4 340.1 472.0 342.0C472.6 343.9 474.0 345.8 474.8 347.7C475.5 349.5 476.2 352.4 476.5 353.4" fill="none" stroke="#1f1f1f" stroke-width="2.1" stroke-linecap="round" stroke-linejoin="round" filter="url(#bl1)"/>
<path d="M390.0 322.7C390.5 323.6 391.9 326.3 393.1 328.0C394.3 329.7 396.1 331.2 397.1 332.9C398.2 334.7 398.9 336.5 399.2 338.5C399.6 340.5 399.1 343.8 399.1 344.9" fill="none" stroke="#1f1f1f" stroke-width="2.5" stroke-linecap="round" stroke-linejoin="round" filter="url(#bl1)"/>
<path d="M403.6 325.8C403.5 326.3 403.5 327.8 402.8 328.5C402.2 329.2 400.8 329.5 399.8 330.0C398.8 330.5 397.5 330.8 396.9 331.5C396.3 332.2 396.4 333.8 396.3 334.3" fill="none" stroke="#1f1f1f" stroke-width="2.3" stroke-linecap="round" stroke-linejoin="round" filter="url(#bl1)"/>
<path d="M557.6 308.4C557.0 309.2 554.7 311.4 553.9 313.1C553.1 314.8 552.8 316.7 552.7 318.6C552.5 320.5 553.2 322.7 553.1 324.7C553.0 326.6 552.3 329.3 552.2 330.3" fill="none" stroke="#1f1f1f" stroke-width="2.1" stroke-linecap="round" stroke-linejoin="round" filter="url(#bl1)"/>
<path d="M412.6 320.2C413.2 320.5 415.4 321.1 416.4 321.9C417.3 322.8 417.8 323.9 418.1 325.2C418.5 326.4 418.1 328.2 418.5 329.5C418.8 330.8 419.7 332.3 420.0 332.9" fill="none" stroke="#1f1f1f" stroke-width="2.0" stroke-linecap="round" stroke-linejoin="round" filter="url(#bl1)"/>
<path d="M356.5 335.3C356.0 336.1 354.1 338.3 353.2 340.1C352.3 341.8 351.9 344.2 351.0 345.9C350.1 347.7 349.1 349.4 347.7 350.7C346.2 352.0 343.3 353.2 342.4 353.7" fill="none" stroke="#1f1f1f" stroke-width="1.3" stroke-linecap="round" stroke-linejoin="round" filter="url(#bl1)"/>
<path d="M349.0 323.3C349.4 324.2 350.8 326.7 351.1 328.4C351.3 330.2 350.7 332.0 350.4 333.9C350.0 335.7 349.1 337.6 349.0 339.4C348.9 341.2 349.7 343.8 349.8 344.7" fill="none" stroke="#1f1f1f" stroke-width="2.5" stroke-linecap="round" stroke-linejoin="round" filter="url(#bl1)"/>
<path d="M462.2 310.1C462.2 311.0 462.2 313.8 462.3 315.8C462.4 317.7 463.0 319.7 462.8 321.5C462.6 323.4 461.9 325.1 461.0 326.7C460.1 328.3 457.9 330.5 457.3 331.3" fill="none" stroke="#1f1f1f" stroke-width="1.4" stroke-linecap="round" stroke-linejoin="round" filter="url(#bl1)"/>
<path d="M443.0 318.4C442.8 319.2 442.3 321.9 441.9 323.5C441.4 325.1 441.1 326.9 440.1 328.2C439.2 329.5 437.7 330.3 436.3 331.2C434.8 332.1 432.3 333.2 431.6 333.6" fill="none" stroke="#1f1f1f" stroke-width="1.9" stroke-linecap="round" stroke-linejoin="round" filter="url(#bl1)"/>
</g></g>
<rect x="178" y="83.5" width="535" height="532" fill="none" stroke="#0a6b55" stroke-width="1"/>
<text x="632" y="136" font-size="42" class="b">(a)</text>
<g clip-path="url(#clipC)"><g filter="url(#cmap)">
<rect x="170" y="617" width="551" height="553" fill="#525252"/>
<clipPath id="cCirc"><circle cx="445.5" cy="1016" r="371"/></clipPath>
<g clip-path="url(#cCirc)">
<linearGradient id="cBase" gradientUnits="userSpaceOnUse" x1="0" y1="645" x2="0" y2="1000">
<stop offset="0.0000" stop-color="#8a8a8a"/>
<stop offset="0.2394" stop-color="#898989"/>
<stop offset="0.3521" stop-color="#858585"/>
<stop offset="0.4366" stop-color="#7d7d7d"/>
<stop offset="0.5211" stop-color="#747474"/>
<stop offset="0.6197" stop-color="#6e6e6e"/>
<stop offset="1.0000" stop-color="#6c6c6c"/>
</linearGradient>
<circle cx="445.5" cy="1016" r="371" fill="url(#cBase)"/>
<ellipse cx="445.5" cy="705" rx="55" ry="50" fill="#8f8f8f" filter="url(#bl16)" opacity="0.7"/>
<circle cx="445.5" cy="668.0" r="2.2" fill="#939393" filter="url(#bl1)"/>
<circle cx="448.5" cy="680.0" r="2.2" fill="#838383" filter="url(#bl1)"/>
<circle cx="442.5" cy="692.0" r="2.2" fill="#939393" filter="url(#bl1)"/>
<circle cx="447.5" cy="704.0" r="2.2" fill="#838383" filter="url(#bl1)"/>
<circle cx="443.5" cy="716.0" r="2.2" fill="#939393" filter="url(#bl1)"/>
<circle cx="448.5" cy="727.0" r="2.2" fill="#838383" filter="url(#bl1)"/>
<path d="M269.8 855.0C268.7 852.7 264.7 847.1 263.0 841.0C261.3 834.9 259.5 825.9 259.5 818.4C259.5 810.9 260.1 802.9 262.8 796.0C265.5 789.1 270.3 782.3 275.6 776.8C280.9 771.3 288.4 766.0 294.8 762.8C301.2 759.6 307.1 757.8 314.0 757.6C320.9 757.4 330.0 759.3 336.4 761.5C342.8 763.7 348.1 767.8 352.4 771.0C356.7 774.2 359.0 778.0 362.0 781.0C365.0 784.0 367.7 786.7 370.2 789.0C372.7 791.3 374.7 793.5 377.0 795.0C379.3 796.5 381.5 797.8 384.0 798.0C386.5 798.2 389.4 797.5 392.0 796.5C394.6 795.5 397.3 793.8 399.4 792.0C401.5 790.2 403.8 788.0 404.5 786.0C405.2 784.0 404.1 782.0 403.5 780.0C402.9 778.0 401.6 776.3 401.0 774.0C400.4 771.7 399.8 768.6 400.0 766.0C400.2 763.4 400.9 760.7 402.0 758.5C403.1 756.3 404.7 754.7 406.5 753.0C408.3 751.3 410.4 749.6 413.0 748.4C415.6 747.2 419.1 746.7 422.0 746.0C424.9 745.3 427.4 745.0 430.4 744.2C433.4 743.5 437.5 742.5 440.0 741.5C442.5 740.5 443.7 738.0 445.5 738.0C447.3 738.0 448.5 740.5 451.0 741.5C453.5 742.5 457.6 743.5 460.6 744.2C463.6 745.0 466.1 745.3 469.0 746.0C471.9 746.7 475.4 747.2 478.0 748.4C480.6 749.6 482.7 751.3 484.5 753.0C486.3 754.7 487.9 756.3 489.0 758.5C490.1 760.7 490.8 763.4 491.0 766.0C491.2 768.6 490.6 771.7 490.0 774.0C489.4 776.3 488.1 778.0 487.5 780.0C486.9 782.0 485.8 784.0 486.5 786.0C487.2 788.0 489.5 790.2 491.6 792.0C493.7 793.8 496.4 795.5 499.0 796.5C501.6 797.5 504.5 798.2 507.0 798.0C509.5 797.8 511.7 796.5 514.0 795.0C516.3 793.5 518.3 791.3 520.8 789.0C523.3 786.7 526.0 784.0 529.0 781.0C532.0 778.0 534.3 774.2 538.6 771.0C542.9 767.8 548.2 763.7 554.6 761.5C561.0 759.3 570.1 757.4 577.0 757.6C583.9 757.8 589.8 759.6 596.2 762.8C602.6 766.0 610.1 771.3 615.4 776.8C620.7 782.3 625.5 789.1 628.2 796.0C630.9 802.9 631.5 810.9 631.5 818.4C631.5 825.9 629.7 834.9 628.0 841.0C626.3 847.1 622.3 852.7 621.2 855.0" fill="none" stroke="#9c9c9c" stroke-width="46" stroke-linecap="butt" stroke-linejoin="round" filter="url(#bl12)" opacity="0.9" />
<path d="M259.5 818.4C260.1 814.7 260.1 802.9 262.8 796.0C265.5 789.1 270.3 782.3 275.6 776.8C280.9 771.3 288.4 766.0 294.8 762.8C301.2 759.6 307.1 757.8 314.0 757.6C320.9 757.4 330.0 759.3 336.4 761.5C342.8 763.7 348.1 767.8 352.4 771.0C356.7 774.2 360.4 779.3 362.0 781.0" fill="none" stroke="#bababa" stroke-width="20" stroke-linecap="butt" stroke-linejoin="round" filter="url(#bl6)" opacity="0.95" />
<path d="M259.5 818.4C260.1 814.7 260.1 802.9 262.8 796.0C265.5 789.1 270.3 782.3 275.6 776.8C280.9 771.3 288.4 766.0 294.8 762.8C301.2 759.6 307.1 757.8 314.0 757.6C320.9 757.4 330.0 759.3 336.4 761.5C342.8 763.7 348.1 767.8 352.4 771.0C356.7 774.2 360.4 779.3 362.0 781.0" fill="none" stroke="#cccccc" stroke-width="7" stroke-linecap="butt" stroke-linejoin="round" filter="url(#bl2)" opacity="1" />
<path d="M259.5 818.4C260.1 814.7 260.1 802.9 262.8 796.0C265.5 789.1 270.3 782.3 275.6 776.8C280.9 771.3 288.4 766.0 294.8 762.8C301.2 759.6 307.1 757.8 314.0 757.6C320.9 757.4 330.0 759.3 336.4 761.5C342.8 763.7 348.1 767.8 352.4 771.0C356.7 774.2 360.4 779.3 362.0 781.0" fill="none" stroke="#d6d6d6" stroke-width="3.5" stroke-linecap="butt" stroke-linejoin="round" filter="url(#bl1)" opacity="1" />
<path d="M631.5 818.4C631.0 814.7 630.9 802.9 628.2 796.0C625.5 789.1 620.7 782.3 615.4 776.8C610.1 771.3 602.6 766.0 596.2 762.8C589.8 759.6 583.9 757.8 577.0 757.6C570.1 757.4 561.0 759.3 554.6 761.5C548.2 763.7 542.9 767.8 538.6 771.0C534.3 774.2 530.6 779.3 529.0 781.0" fill="none" stroke="#bababa" stroke-width="20" stroke-linecap="butt" stroke-linejoin="round" filter="url(#bl6)" opacity="0.95" />
<path d="M631.5 818.4C631.0 814.7 630.9 802.9 628.2 796.0C625.5 789.1 620.7 782.3 615.4 776.8C610.1 771.3 602.6 766.0 596.2 762.8C589.8 759.6 583.9 757.8 577.0 757.6C570.1 757.4 561.0 759.3 554.6 761.5C548.2 763.7 542.9 767.8 538.6 771.0C534.3 774.2 530.6 779.3 529.0 781.0" fill="none" stroke="#cccccc" stroke-width="7" stroke-linecap="butt" stroke-linejoin="round" filter="url(#bl2)" opacity="1" />
<path d="M631.5 818.4C631.0 814.7 630.9 802.9 628.2 796.0C625.5 789.1 620.7 782.3 615.4 776.8C610.1 771.3 602.6 766.0 596.2 762.8C589.8 759.6 583.9 757.8 577.0 757.6C570.1 757.4 561.0 759.3 554.6 761.5C548.2 763.7 542.9 767.8 538.6 771.0C534.3 774.2 530.6 779.3 529.0 781.0" fill="none" stroke="#d6d6d6" stroke-width="3.5" stroke-linecap="butt" stroke-linejoin="round" filter="url(#bl1)" opacity="1" />
<path d="M402.0 758.5C402.8 757.6 404.7 754.7 406.5 753.0C408.3 751.3 410.4 749.6 413.0 748.4C415.6 747.2 419.1 746.7 422.0 746.0C424.9 745.3 427.4 745.0 430.4 744.2C433.4 743.5 437.5 742.5 440.0 741.5C442.5 740.5 443.7 738.0 445.5 738.0C447.3 738.0 448.5 740.5 451.0 741.5C453.5 742.5 457.6 743.5 460.6 744.2C463.6 745.0 466.1 745.3 469.0 746.0C471.9 746.7 475.4 747.2 478.0 748.4C480.6 749.6 482.7 751.3 484.5 753.0C486.3 754.7 488.2 757.6 489.0 758.5" fill="none" stroke="#bababa" stroke-width="20" stroke-linecap="butt" stroke-linejoin="round" filter="url(#bl6)" opacity="0.95" />
<path d="M402.0 758.5C402.8 757.6 404.7 754.7 406.5 753.0C408.3 751.3 410.4 749.6 413.0 748.4C415.6 747.2 419.1 746.7 422.0 746.0C424.9 745.3 427.4 745.0 430.4 744.2C433.4 743.5 437.5 742.5 440.0 741.5C442.5 740.5 443.7 738.0 445.5 738.0C447.3 738.0 448.5 740.5 451.0 741.5C453.5 742.5 457.6 743.5 460.6 744.2C463.6 745.0 466.1 745.3 469.0 746.0C471.9 746.7 475.4 747.2 478.0 748.4C480.6 749.6 482.7 751.3 484.5 753.0C486.3 754.7 488.2 757.6 489.0 758.5" fill="none" stroke="#cccccc" stroke-width="7" stroke-linecap="butt" stroke-linejoin="round" filter="url(#bl2)" opacity="1" />
<path d="M402.0 758.5C402.8 757.6 404.7 754.7 406.5 753.0C408.3 751.3 410.4 749.6 413.0 748.4C415.6 747.2 419.1 746.7 422.0 746.0C424.9 745.3 427.4 745.0 430.4 744.2C433.4 743.5 437.5 742.5 440.0 741.5C442.5 740.5 443.7 738.0 445.5 738.0C447.3 738.0 448.5 740.5 451.0 741.5C453.5 742.5 457.6 743.5 460.6 744.2C463.6 745.0 466.1 745.3 469.0 746.0C471.9 746.7 475.4 747.2 478.0 748.4C480.6 749.6 482.7 751.3 484.5 753.0C486.3 754.7 488.2 757.6 489.0 758.5" fill="none" stroke="#d6d6d6" stroke-width="3.5" stroke-linecap="butt" stroke-linejoin="round" filter="url(#bl1)" opacity="1" />
<path d="M403.5 780.0C403.1 779.0 401.6 776.3 401.0 774.0C400.4 771.7 399.8 768.6 400.0 766.0C400.2 763.4 400.9 760.7 402.0 758.5C403.1 756.3 405.8 753.9 406.5 753.0" fill="none" stroke="#a8a8a8" stroke-width="10" stroke-linecap="butt" stroke-linejoin="round" filter="url(#bl4)" opacity="0.8" />
<path d="M487.5 780.0C487.9 779.0 489.4 776.3 490.0 774.0C490.6 771.7 491.2 768.6 491.0 766.0C490.8 763.4 490.1 760.7 489.0 758.5C487.9 756.3 485.2 753.9 484.5 753.0" fill="none" stroke="#a8a8a8" stroke-width="10" stroke-linecap="butt" stroke-linejoin="round" filter="url(#bl4)" opacity="0.8" />
<path d="M269.8 855.0C268.7 852.7 264.7 847.1 263.0 841.0C261.3 834.9 259.5 825.9 259.5 818.4C259.5 810.9 262.2 799.7 262.8 796.0" fill="none" stroke="#b2b2b2" stroke-width="12" stroke-linecap="butt" stroke-linejoin="round" filter="url(#bl4)" opacity="0.9" />
<path d="M621.2 855.0C622.3 852.7 626.3 847.1 628.0 841.0C629.7 834.9 631.5 825.9 631.5 818.4C631.5 810.9 628.8 799.7 628.2 796.0" fill="none" stroke="#b2b2b2" stroke-width="12" stroke-linecap="butt" stroke-linejoin="round" filter="url(#bl4)" opacity="0.9" />
<path d="M263.0 841.0C262.4 837.2 259.5 825.9 259.5 818.4C259.5 810.9 262.2 799.7 262.8 796.0" fill="none" stroke="#c7c7c7" stroke-width="5" stroke-linecap="butt" stroke-linejoin="round" filter="url(#bl2)" opacity="0.9" />
<path d="M628.0 841.0C628.6 837.2 631.5 825.9 631.5 818.4C631.5 810.9 628.8 799.7 628.2 796.0" fill="none" stroke="#c7c7c7" stroke-width="5" stroke-linecap="butt" stroke-linejoin="round" filter="url(#bl2)" opacity="0.9" />
<path d="M352.4 771.0C354.0 772.7 359.0 778.0 362.0 781.0C365.0 784.0 367.7 786.7 370.2 789.0C372.7 791.3 374.7 793.5 377.0 795.0C379.3 796.5 381.5 797.8 384.0 798.0C386.5 798.2 389.4 797.5 392.0 796.5C394.6 795.5 397.3 793.8 399.4 792.0C401.5 790.2 403.6 787.0 404.5 786.0" fill="none" stroke="#b2b2b2" stroke-width="11" stroke-linecap="butt" stroke-linejoin="round" filter="url(#bl3)" opacity="0.95" />
<path d="M538.6 771.0C537.0 772.7 532.0 778.0 529.0 781.0C526.0 784.0 523.3 786.7 520.8 789.0C518.3 791.3 516.3 793.5 514.0 795.0C511.7 796.5 509.5 797.8 507.0 798.0C504.5 798.2 501.6 797.5 499.0 796.5C496.4 795.5 493.7 793.8 491.6 792.0C489.5 790.2 487.4 787.0 486.5 786.0" fill="none" stroke="#b2b2b2" stroke-width="11" stroke-linecap="butt" stroke-linejoin="round" filter="url(#bl3)" opacity="0.95" />
<path d="M262.0 846.0C262.8 848.0 265.0 855.3 267.0 858.0C269.0 860.7 272.8 861.3 274.0 862.0" fill="none" stroke="#949494" stroke-width="8" stroke-linecap="round" stroke-linejoin="round" filter="url(#bl3)" />
<path d="M629.0 846.0C628.2 848.0 626.0 855.3 624.0 858.0C622.0 860.7 618.2 861.3 617.0 862.0" fill="none" stroke="#949494" stroke-width="8" stroke-linecap="round" stroke-linejoin="round" filter="url(#bl3)" />
<ellipse cx="445.5" cy="733" rx="9" ry="7" fill="#d4d4d4" filter="url(#bl3)"/>
<path d="M360.0 730.0C358.3 733.3 363.7 742.3 366.0 748.0C368.3 753.7 371.2 759.0 374.0 764.0C376.8 769.0 380.5 774.3 383.0 778.0C385.5 781.7 387.3 786.3 389.0 786.0C390.7 785.7 392.7 780.7 393.0 776.0C393.3 771.3 392.2 763.7 391.0 758.0C389.8 752.3 388.5 747.0 386.0 742.0C383.5 737.0 380.3 730.0 376.0 728.0C371.7 726.0 361.7 726.7 360.0 730.0Z" fill="#6b6b6b" filter="url(#bl5)" opacity="0.97" />
<path d="M531.0 730.0C532.7 733.3 527.3 742.3 525.0 748.0C522.7 753.7 519.8 759.0 517.0 764.0C514.2 769.0 510.5 774.3 508.0 778.0C505.5 781.7 503.7 786.3 502.0 786.0C500.3 785.7 498.3 780.7 498.0 776.0C497.7 771.3 498.8 763.7 500.0 758.0C501.2 752.3 502.5 747.0 505.0 742.0C507.5 737.0 510.7 730.0 515.0 728.0C519.3 726.0 529.3 726.7 531.0 730.0Z" fill="#6b6b6b" filter="url(#bl5)" opacity="0.97" />
<path d="M366.0 744.0C365.3 747.0 370.3 755.7 373.0 760.0C375.7 764.3 380.2 770.7 382.0 770.0C383.8 769.3 384.8 760.7 384.0 756.0C383.2 751.3 380.0 744.0 377.0 742.0C374.0 740.0 366.7 741.0 366.0 744.0Z" fill="#6a6a6a" filter="url(#bl4)" opacity="0.9" />
<path d="M525.0 744.0C525.7 747.0 520.7 755.7 518.0 760.0C515.3 764.3 510.8 770.7 509.0 770.0C507.2 769.3 506.2 760.7 507.0 756.0C507.8 751.3 511.0 744.0 514.0 742.0C517.0 740.0 524.3 741.0 525.0 744.0Z" fill="#6a6a6a" filter="url(#bl4)" opacity="0.9" />
<path d="M394.0 735.0C393.3 736.7 396.7 749.2 398.0 750.0C399.3 750.8 402.7 742.5 402.0 740.0C401.3 737.5 394.7 733.3 394.0 735.0Z" fill="#787878" filter="url(#bl4)" opacity="0.6" />
<path d="M497.0 735.0C497.7 736.7 494.3 749.2 493.0 750.0C491.7 750.8 488.3 742.5 489.0 740.0C489.7 737.5 496.3 733.3 497.0 735.0Z" fill="#787878" filter="url(#bl4)" opacity="0.6" />
<path d="M170.0 968.0C175.0 957.0 190.8 958.7 200.0 956.0C209.2 953.3 217.3 954.7 225.0 952.0C232.7 949.3 239.8 946.7 246.0 940.0C252.2 933.3 258.0 913.7 262.0 912.0C266.0 910.3 270.3 921.7 270.0 930.0C269.7 938.3 263.8 952.0 260.0 962.0C256.2 972.0 252.7 982.3 247.0 990.0C241.3 997.7 233.3 1003.3 226.0 1008.0C218.7 1012.7 212.3 1015.7 203.0 1018.0C193.7 1020.3 175.5 1030.3 170.0 1022.0C164.5 1013.7 165.0 979.0 170.0 968.0Z" fill="#595959" filter="url(#bl4)" opacity="0.95" />
<path d="M721.0 968.0C716.0 957.0 700.2 958.7 691.0 956.0C681.8 953.3 673.7 954.7 666.0 952.0C658.3 949.3 651.2 946.7 645.0 940.0C638.8 933.3 633.0 913.7 629.0 912.0C625.0 910.3 620.7 921.7 621.0 930.0C621.3 938.3 627.2 952.0 631.0 962.0C634.8 972.0 638.3 982.3 644.0 990.0C649.7 997.7 657.7 1003.3 665.0 1008.0C672.3 1012.7 678.7 1015.7 688.0 1018.0C697.3 1020.3 715.5 1030.3 721.0 1022.0C726.5 1013.7 726.0 979.0 721.0 968.0Z" fill="#595959" filter="url(#bl4)" opacity="0.95" />
<path d="M170.0 990.0C175.0 984.5 190.8 978.0 200.0 975.0C209.2 972.0 217.5 974.5 225.0 972.0C232.5 969.5 240.8 959.5 245.0 960.0C249.2 960.5 252.2 969.3 250.0 975.0C247.8 980.7 239.0 989.2 232.0 994.0C225.0 998.8 218.3 1001.7 208.0 1004.0C197.7 1006.3 176.3 1010.3 170.0 1008.0C163.7 1005.7 165.0 995.5 170.0 990.0Z" fill="#545454" filter="url(#bl4)" opacity="0.7" />
<path d="M721.0 990.0C716.0 984.5 700.2 978.0 691.0 975.0C681.8 972.0 673.5 974.5 666.0 972.0C658.5 969.5 650.2 959.5 646.0 960.0C641.8 960.5 638.8 969.3 641.0 975.0C643.2 980.7 652.0 989.2 659.0 994.0C666.0 998.8 672.7 1001.7 683.0 1004.0C693.3 1006.3 714.7 1010.3 721.0 1008.0C727.3 1005.7 726.0 995.5 721.0 990.0Z" fill="#545454" filter="url(#bl4)" opacity="0.7" />
<path d="M170.0 985.0C174.2 982.8 186.3 975.2 195.0 972.0C203.7 968.8 214.0 969.3 222.0 966.0C230.0 962.7 237.3 958.0 243.0 952.0C248.7 946.0 252.2 937.8 256.0 930.0C259.8 922.2 264.3 909.2 266.0 905.0" fill="none" stroke="#4a4a4a" stroke-width="2.2" stroke-linecap="round" stroke-linejoin="round" filter="url(#bl0_6)" />
<path d="M721.0 985.0C716.8 982.8 704.7 975.2 696.0 972.0C687.3 968.8 677.0 969.3 669.0 966.0C661.0 962.7 653.7 958.0 648.0 952.0C642.3 946.0 638.8 937.8 635.0 930.0C631.2 922.2 626.7 909.2 625.0 905.0" fill="none" stroke="#4a4a4a" stroke-width="2.2" stroke-linecap="round" stroke-linejoin="round" filter="url(#bl0_6)" />
<path d="M170.0 998.0C172.5 996.3 180.0 991.7 185.0 988.0C190.0 984.3 197.5 978.0 200.0 976.0" fill="none" stroke="#4a4a4a" stroke-width="1.8" stroke-linecap="round" stroke-linejoin="round" filter="url(#bl0_6)" />
<path d="M721.0 998.0C718.5 996.3 711.0 991.7 706.0 988.0C701.0 984.3 693.5 978.0 691.0 976.0" fill="none" stroke="#4a4a4a" stroke-width="1.8" stroke-linecap="round" stroke-linejoin="round" filter="url(#bl0_6)" />
<path d="M258.0 928.0C259.3 925.0 263.3 916.3 266.0 910.0C268.7 903.7 271.2 897.0 274.0 890.0C276.8 883.0 281.5 871.7 283.0 868.0" fill="none" stroke="#878787" stroke-width="3.5" stroke-linecap="round" stroke-linejoin="round" filter="url(#bl1_5)" />
<path d="M633.0 928.0C631.7 925.0 627.7 916.3 625.0 910.0C622.3 903.7 619.8 897.0 617.0 890.0C614.2 883.0 609.5 871.7 608.0 868.0" fill="none" stroke="#878787" stroke-width="3.5" stroke-linecap="round" stroke-linejoin="round" filter="url(#bl1_5)" />
<path d="M170.0 1040.0C173.3 1039.8 183.0 1040.0 190.0 1039.0C197.0 1038.0 205.0 1036.8 212.0 1034.0C219.0 1031.2 228.7 1024.0 232.0 1022.0" fill="none" stroke="#8f8f8f" stroke-width="4" stroke-linecap="round" stroke-linejoin="round" filter="url(#bl1_5)" />
<path d="M721.0 1040.0C717.7 1039.8 708.0 1040.0 701.0 1039.0C694.0 1038.0 686.0 1036.8 679.0 1034.0C672.0 1031.2 662.3 1024.0 659.0 1022.0" fill="none" stroke="#8f8f8f" stroke-width="4" stroke-linecap="round" stroke-linejoin="round" filter="url(#bl1_5)" />
</g>
<circle cx="445.5" cy="1016" r="371" fill="none" stroke="#666666" stroke-width="1.3"/>
<path d="M170.0 1049.0C176.9 1047.7 201.1 1045.2 211.7 1041.0C222.3 1036.8 227.0 1031.9 233.4 1024.0C239.8 1016.1 245.0 1005.8 250.0 993.5C255.0 981.2 260.2 964.8 263.5 950.0C266.8 935.2 267.9 916.7 270.0 905.0C272.1 893.3 273.8 886.8 276.0 880.0C278.2 873.2 283.3 868.7 283.0 864.0C282.7 859.3 276.8 856.3 274.0 852.0C271.2 847.7 267.9 843.7 266.0 838.0C264.1 832.3 262.5 824.8 262.5 818.0C262.5 811.2 263.4 803.5 266.0 797.0C268.6 790.5 273.1 784.2 278.0 779.0C282.9 773.8 288.7 768.8 295.2 765.5C301.7 762.2 309.9 759.6 316.9 759.2C323.8 758.9 330.8 761.0 336.9 763.4C343.0 765.8 349.4 770.5 353.6 773.4C357.8 776.3 359.2 778.4 362.0 781.0C364.8 783.6 367.7 786.7 370.2 789.0C372.7 791.3 374.7 793.5 377.0 795.0C379.3 796.5 381.5 797.8 384.0 798.0C386.5 798.2 389.4 797.5 392.0 796.5C394.6 795.5 397.3 793.8 399.4 792.0C401.5 790.2 403.8 788.0 404.5 786.0C405.2 784.0 404.1 782.0 403.5 780.0C402.9 778.0 401.6 776.3 401.0 774.0C400.4 771.7 399.8 768.6 400.0 766.0C400.2 763.4 400.9 760.7 402.0 758.5C403.1 756.3 404.7 754.7 406.5 753.0C408.3 751.3 410.4 749.6 413.0 748.4C415.6 747.2 419.1 746.7 422.0 746.0C424.9 745.3 427.4 745.0 430.4 744.2C433.4 743.5 437.8 742.4 440.0 741.5C442.2 740.6 442.6 740.1 443.5 739.0C444.4 737.9 444.8 735.0 445.5 735.0C446.2 735.0 446.6 737.9 447.5 739.0C448.4 740.1 448.8 740.6 451.0 741.5C453.2 742.4 457.6 743.5 460.6 744.2C463.6 745.0 466.1 745.3 469.0 746.0C471.9 746.7 475.4 747.2 478.0 748.4C480.6 749.6 482.7 751.3 484.5 753.0C486.3 754.7 487.9 756.3 489.0 758.5C490.1 760.7 490.8 763.4 491.0 766.0C491.2 768.6 490.6 771.7 490.0 774.0C489.4 776.3 488.1 778.0 487.5 780.0C486.9 782.0 485.8 784.0 486.5 786.0C487.2 788.0 489.5 790.2 491.6 792.0C493.7 793.8 496.4 795.5 499.0 796.5C501.6 797.5 504.5 798.2 507.0 798.0C509.5 797.8 511.7 796.5 514.0 795.0C516.3 793.5 518.3 791.3 520.8 789.0C523.3 786.7 526.2 783.6 529.0 781.0C531.8 778.4 533.2 776.3 537.4 773.4C541.6 770.5 548.0 765.8 554.1 763.4C560.2 761.0 567.2 758.9 574.1 759.2C581.0 759.6 589.3 762.2 595.8 765.5C602.3 768.8 608.1 773.8 613.0 779.0C617.9 784.2 622.4 790.5 625.0 797.0C627.6 803.5 628.5 811.2 628.5 818.0C628.5 824.8 626.9 832.3 625.0 838.0C623.1 843.7 619.8 847.7 617.0 852.0C614.2 856.3 608.3 859.3 608.0 864.0C607.7 868.7 612.8 873.2 615.0 880.0C617.2 886.8 618.9 893.3 621.0 905.0C623.1 916.7 624.2 935.2 627.5 950.0C630.8 964.8 636.0 981.2 641.0 993.5C646.0 1005.8 651.2 1016.1 657.6 1024.0C664.0 1031.9 668.7 1036.8 679.3 1041.0C689.9 1045.2 714.0 1047.7 721.0 1049.0L721 1056 L721 1170 L170 1170Z" fill="#4b4b4b" filter="url(#bl0_6)" />
<path d="M279.0 868.0C277.8 872.5 274.2 885.5 272.0 895.0C269.8 904.5 268.3 914.2 266.0 925.0C263.7 935.8 261.2 948.8 258.0 960.0C254.8 971.2 251.3 982.0 247.0 992.0C242.7 1002.0 237.8 1012.0 232.0 1020.0C226.2 1028.0 220.7 1035.0 212.0 1040.0C203.3 1045.0 185.3 1048.3 180.0 1050.0" fill="none" stroke="#5e5e5e" stroke-width="6" stroke-linecap="round" stroke-linejoin="round" filter="url(#bl1_5)" />
<path d="M612.0 868.0C613.2 872.5 616.8 885.5 619.0 895.0C621.2 904.5 622.7 914.2 625.0 925.0C627.3 935.8 629.8 948.8 633.0 960.0C636.2 971.2 639.7 982.0 644.0 992.0C648.3 1002.0 653.2 1012.0 659.0 1020.0C664.8 1028.0 670.3 1035.0 679.0 1040.0C687.7 1045.0 705.7 1048.3 711.0 1050.0" fill="none" stroke="#5e5e5e" stroke-width="6" stroke-linecap="round" stroke-linejoin="round" filter="url(#bl1_5)" />
<path d="M292.0 866.0C291.2 870.8 288.5 885.2 287.0 895.0C285.5 904.8 284.8 914.2 283.0 925.0C281.2 935.8 278.8 948.8 276.0 960.0C273.2 971.2 270.3 981.7 266.0 992.0C261.7 1002.3 256.7 1013.0 250.0 1022.0C243.3 1031.0 235.2 1040.0 226.0 1046.0C216.8 1052.0 200.2 1056.0 195.0 1058.0" fill="none" stroke="#525252" stroke-width="5" stroke-linecap="round" stroke-linejoin="round" filter="url(#bl1_5)" />
<path d="M599.0 866.0C599.8 870.8 602.5 885.2 604.0 895.0C605.5 904.8 606.2 914.2 608.0 925.0C609.8 935.8 612.2 948.8 615.0 960.0C617.8 971.2 620.7 981.7 625.0 992.0C629.3 1002.3 634.3 1013.0 641.0 1022.0C647.7 1031.0 655.8 1040.0 665.0 1046.0C674.2 1052.0 690.8 1056.0 696.0 1058.0" fill="none" stroke="#525252" stroke-width="5" stroke-linecap="round" stroke-linejoin="round" filter="url(#bl1_5)" />
<path d="M298.0 800.0C298.3 806.7 300.0 826.7 300.0 840.0C300.0 853.3 299.0 866.7 298.0 880.0C297.0 893.3 295.7 906.7 294.0 920.0C292.3 933.3 290.7 947.5 288.0 960.0C285.3 972.5 282.3 984.0 278.0 995.0C273.7 1006.0 268.3 1017.2 262.0 1026.0C255.7 1034.8 249.5 1042.3 240.0 1048.0C230.5 1053.7 210.8 1058.0 205.0 1060.0" fill="none" stroke="#555555" stroke-width="4" stroke-linecap="round" stroke-linejoin="round" filter="url(#bl1_5)" />
<path d="M593.0 800.0C592.7 806.7 591.0 826.7 591.0 840.0C591.0 853.3 592.0 866.7 593.0 880.0C594.0 893.3 595.3 906.7 597.0 920.0C598.7 933.3 600.3 947.5 603.0 960.0C605.7 972.5 608.7 984.0 613.0 995.0C617.3 1006.0 622.7 1017.2 629.0 1026.0C635.3 1034.8 641.5 1042.3 651.0 1048.0C660.5 1053.7 680.2 1058.0 686.0 1060.0" fill="none" stroke="#555555" stroke-width="4" stroke-linecap="round" stroke-linejoin="round" filter="url(#bl1_5)" />
<path d="M287.0 870.0C286.2 875.8 284.0 893.3 282.0 905.0C280.0 916.7 277.7 928.8 275.0 940.0C272.3 951.2 269.5 961.7 266.0 972.0C262.5 982.3 258.7 992.7 254.0 1002.0C249.3 1011.3 240.7 1023.7 238.0 1028.0" fill="none" stroke="#696969" stroke-width="2.2" stroke-linecap="round" stroke-linejoin="round" filter="url(#bl0_8)" />
<path d="M604.0 870.0C604.8 875.8 607.0 893.3 609.0 905.0C611.0 916.7 613.3 928.8 616.0 940.0C618.7 951.2 621.5 961.7 625.0 972.0C628.5 982.3 632.3 992.7 637.0 1002.0C641.7 1011.3 650.3 1023.7 653.0 1028.0" fill="none" stroke="#696969" stroke-width="2.2" stroke-linecap="round" stroke-linejoin="round" filter="url(#bl0_8)" />
<path d="M304.0 790.0C304.2 796.7 305.0 816.7 305.0 830.0C305.0 843.3 304.2 863.3 304.0 870.0" fill="none" stroke="#595959" stroke-width="2.5" stroke-linecap="round" stroke-linejoin="round" filter="url(#bl1)" />
<path d="M587.0 790.0C586.8 796.7 586.0 816.7 586.0 830.0C586.0 843.3 586.8 863.3 587.0 870.0" fill="none" stroke="#595959" stroke-width="2.5" stroke-linecap="round" stroke-linejoin="round" filter="url(#bl1)" />
<path d="M276.0 885.0C275.0 890.0 272.2 905.0 270.0 915.0C267.8 925.0 264.2 940.0 263.0 945.0" fill="none" stroke="#333333" stroke-width="1.4" stroke-linecap="round" stroke-linejoin="round" filter="url(#bl0_6)" />
<path d="M615.0 885.0C616.0 890.0 618.8 905.0 621.0 915.0C623.2 925.0 626.8 940.0 628.0 945.0" fill="none" stroke="#333333" stroke-width="1.4" stroke-linecap="round" stroke-linejoin="round" filter="url(#bl0_6)" />
<path d="M330.0 766.0C332.7 767.0 341.0 769.2 346.0 772.0C351.0 774.8 357.7 781.2 360.0 783.0" fill="none" stroke="#333333" stroke-width="1.6" stroke-linecap="round" stroke-linejoin="round" filter="url(#bl0_6)" />
<path d="M561.0 766.0C558.3 767.0 550.0 769.2 545.0 772.0C540.0 774.8 533.3 781.2 531.0 783.0" fill="none" stroke="#333333" stroke-width="1.6" stroke-linecap="round" stroke-linejoin="round" filter="url(#bl0_6)" />
<path d="M289.0 776.0C287.5 778.7 282.3 786.0 280.0 792.0C277.7 798.0 275.5 805.3 275.0 812.0C274.5 818.7 275.3 825.7 277.0 832.0C278.7 838.3 283.7 847.0 285.0 850.0" fill="none" stroke="#757575" stroke-width="4" stroke-linecap="round" stroke-linejoin="round" filter="url(#bl0_6)" />
<path d="M602.0 776.0C603.5 778.7 608.7 786.0 611.0 792.0C613.3 798.0 615.5 805.3 616.0 812.0C616.5 818.7 615.7 825.7 614.0 832.0C612.3 838.3 607.3 847.0 606.0 850.0" fill="none" stroke="#757575" stroke-width="4" stroke-linecap="round" stroke-linejoin="round" filter="url(#bl0_6)" />
<path d="M281.0 800.0C280.5 803.0 277.8 812.0 278.0 818.0C278.2 824.0 281.3 833.0 282.0 836.0" fill="none" stroke="#8a8a8a" stroke-width="2" stroke-linecap="round" stroke-linejoin="round" filter="url(#bl0_6)" />
<path d="M610.0 800.0C610.5 803.0 613.2 812.0 613.0 818.0C612.8 824.0 609.7 833.0 609.0 836.0" fill="none" stroke="#8a8a8a" stroke-width="2" stroke-linecap="round" stroke-linejoin="round" filter="url(#bl0_6)" />
<path d="M270.0 800.0C269.5 803.0 267.0 811.7 267.0 818.0C267.0 824.3 269.5 834.7 270.0 838.0" fill="none" stroke="#636363" stroke-width="3" stroke-linecap="round" stroke-linejoin="round" filter="url(#bl0_6)" />
<path d="M621.0 800.0C621.5 803.0 624.0 811.7 624.0 818.0C624.0 824.3 621.5 834.7 621.0 838.0" fill="none" stroke="#636363" stroke-width="3" stroke-linecap="round" stroke-linejoin="round" filter="url(#bl0_6)" />
<path d="M293.0 782.0C292.2 785.0 288.7 793.3 288.0 800.0C287.3 806.7 288.2 815.0 289.0 822.0C289.8 829.0 291.7 835.3 293.0 842.0C294.3 848.7 296.3 858.7 297.0 862.0" fill="none" stroke="#636363" stroke-width="2.5" stroke-linecap="round" stroke-linejoin="round" filter="url(#bl0_6)" />
<path d="M598.0 782.0C598.8 785.0 602.3 793.3 603.0 800.0C603.7 806.7 602.8 815.0 602.0 822.0C601.2 829.0 599.3 835.3 598.0 842.0C596.7 848.7 594.7 858.7 594.0 862.0" fill="none" stroke="#636363" stroke-width="2.5" stroke-linecap="round" stroke-linejoin="round" filter="url(#bl0_6)" />
<path d="M300.0 772.0C303.7 770.8 315.3 765.3 322.0 765.0C328.7 764.7 334.3 767.3 340.0 770.0C345.7 772.7 351.3 777.2 356.0 781.0C360.7 784.8 366.0 791.0 368.0 793.0" fill="none" stroke="#5c5c5c" stroke-width="2.5" stroke-linecap="round" stroke-linejoin="round" filter="url(#bl0_6)" />
<path d="M591.0 772.0C587.3 770.8 575.7 765.3 569.0 765.0C562.3 764.7 556.7 767.3 551.0 770.0C545.3 772.7 539.7 777.2 535.0 781.0C530.3 784.8 525.0 791.0 523.0 793.0" fill="none" stroke="#5c5c5c" stroke-width="2.5" stroke-linecap="round" stroke-linejoin="round" filter="url(#bl0_6)" />
<path d="M287.0 852.0C285.8 855.3 282.5 864.7 280.0 872.0C277.5 879.3 274.3 888.0 272.0 896.0C269.7 904.0 267.0 916.0 266.0 920.0" fill="none" stroke="#a1a1a1" stroke-width="1.6" stroke-linecap="round" stroke-linejoin="round" filter="url(#bl0_6)" />
<path d="M604.0 852.0C605.2 855.3 608.5 864.7 611.0 872.0C613.5 879.3 616.7 888.0 619.0 896.0C621.3 904.0 624.0 916.0 625.0 920.0" fill="none" stroke="#a1a1a1" stroke-width="1.6" stroke-linecap="round" stroke-linejoin="round" filter="url(#bl0_6)" />
<path d="M284.0 790.0C283.7 791.7 282.3 798.3 282.0 800.0" fill="none" stroke="#292929" stroke-width="2" stroke-linecap="round" stroke-linejoin="round" filter="url(#bl0_6)" />
<path d="M607.0 790.0C607.3 791.7 608.7 798.3 609.0 800.0" fill="none" stroke="#292929" stroke-width="2" stroke-linecap="round" stroke-linejoin="round" filter="url(#bl0_6)" />
<path d="M282.0 812.0C282.3 814.0 283.7 822.0 284.0 824.0" fill="none" stroke="#292929" stroke-width="2" stroke-linecap="round" stroke-linejoin="round" filter="url(#bl0_6)" />
<path d="M609.0 812.0C608.7 814.0 607.3 822.0 607.0 824.0" fill="none" stroke="#292929" stroke-width="2" stroke-linecap="round" stroke-linejoin="round" filter="url(#bl0_6)" />
<path d="M272.0 826.0C272.5 828.0 274.5 836.0 275.0 838.0" fill="none" stroke="#292929" stroke-width="2" stroke-linecap="round" stroke-linejoin="round" filter="url(#bl0_6)" />
<path d="M619.0 826.0C618.5 828.0 616.5 836.0 616.0 838.0" fill="none" stroke="#292929" stroke-width="2" stroke-linecap="round" stroke-linejoin="round" filter="url(#bl0_6)" />
<path d="M300.0 780.0C300.7 783.3 303.5 791.7 304.0 800.0C304.5 808.3 303.7 820.0 303.0 830.0C302.3 840.0 300.5 855.0 300.0 860.0" fill="none" stroke="#383838" stroke-width="2" stroke-linecap="round" stroke-linejoin="round" filter="url(#bl0_6)" />
<path d="M591.0 780.0C590.3 783.3 587.5 791.7 587.0 800.0C586.5 808.3 587.3 820.0 588.0 830.0C588.7 840.0 590.5 855.0 591.0 860.0" fill="none" stroke="#383838" stroke-width="2" stroke-linecap="round" stroke-linejoin="round" filter="url(#bl0_6)" />
<path d="M386.0 796.5C387.3 795.9 391.5 794.5 394.0 793.0C396.5 791.5 398.9 789.5 401.0 787.5C403.1 785.5 405.6 782.1 406.5 781.0" fill="none" stroke="#b0b0b0" stroke-width="5" stroke-linecap="round" stroke-linejoin="round" filter="url(#bl1)" />
<path d="M505.0 796.5C503.7 795.9 499.5 794.5 497.0 793.0C494.5 791.5 492.1 789.5 490.0 787.5C487.9 785.5 485.4 782.1 484.5 781.0" fill="none" stroke="#b0b0b0" stroke-width="5" stroke-linecap="round" stroke-linejoin="round" filter="url(#bl1)" />
<path d="M401.0 787.5C401.9 786.4 404.9 783.4 406.5 781.0C408.1 778.6 409.6 775.4 410.5 773.0C411.4 770.6 412.0 768.4 412.0 766.6C412.0 764.8 410.8 762.8 410.5 762.0" fill="none" stroke="#969696" stroke-width="5.5" stroke-linecap="round" stroke-linejoin="round" filter="url(#bl1)" />
<path d="M490.0 787.5C489.1 786.4 486.1 783.4 484.5 781.0C482.9 778.6 481.4 775.4 480.5 773.0C479.6 770.6 479.0 768.4 479.0 766.6C479.0 764.8 480.2 762.8 480.5 762.0" fill="none" stroke="#969696" stroke-width="5.5" stroke-linecap="round" stroke-linejoin="round" filter="url(#bl1)" />
<path d="M405.0 781.5C404.8 780.4 404.2 777.2 404.0 775.0C403.8 772.8 403.7 770.2 404.0 768.0C404.3 765.8 404.8 763.6 406.0 762.0C407.2 760.4 409.2 758.8 411.0 758.5C412.8 758.2 416.0 759.8 417.0 760.0" fill="none" stroke="#636363" stroke-width="2" stroke-linecap="round" stroke-linejoin="round" filter="url(#bl0_6)" />
<path d="M486.0 781.5C486.2 780.4 486.8 777.2 487.0 775.0C487.2 772.8 487.3 770.2 487.0 768.0C486.7 765.8 486.2 763.6 485.0 762.0C483.8 760.4 481.8 758.8 480.0 758.5C478.2 758.2 475.0 759.8 474.0 760.0" fill="none" stroke="#636363" stroke-width="2" stroke-linecap="round" stroke-linejoin="round" filter="url(#bl0_6)" />
<path d="M408.0 752.5C409.0 752.1 411.3 750.7 414.0 750.0C416.7 749.3 420.8 749.0 424.0 748.5C427.2 748.0 430.2 747.6 433.0 747.0C435.8 746.4 438.9 745.8 441.0 745.0C443.1 744.2 444.0 742.0 445.5 742.0C447.0 742.0 447.9 744.2 450.0 745.0C452.1 745.8 455.2 746.4 458.0 747.0C460.8 747.6 463.8 748.0 467.0 748.5C470.2 749.0 474.3 749.3 477.0 750.0C479.7 750.7 482.0 752.1 483.0 752.5" fill="none" stroke="#363636" stroke-width="3.5" stroke-linecap="round" stroke-linejoin="round" filter="url(#bl1)" />
<path d="M170.0 1067.0C178.3 1066.7 207.6 1067.8 220.1 1065.3C232.6 1062.8 236.8 1058.3 245.1 1051.9C253.4 1045.5 263.2 1036.1 270.2 1026.9C277.2 1017.7 282.4 1006.8 286.9 996.8C291.3 986.8 294.4 976.0 296.9 966.8C299.4 957.6 300.8 952.8 301.9 941.7C303.0 930.6 303.1 910.2 303.6 900.0C304.2 889.8 304.4 891.9 305.2 880.3C306.0 868.7 307.9 844.1 308.6 830.2C309.3 816.3 308.8 804.3 309.4 796.8C309.9 789.3 309.5 787.9 311.9 785.1C314.3 782.3 319.4 780.7 323.6 780.1C327.8 779.5 333.0 780.4 336.9 781.8C340.8 783.2 343.5 785.5 347.0 788.4C350.5 791.3 354.5 795.7 358.0 799.0C361.5 802.3 364.3 806.2 368.0 808.0C371.7 809.8 375.7 810.0 380.0 810.0C384.3 810.0 389.7 809.7 394.0 808.0C398.3 806.3 402.7 803.2 406.0 800.0C409.3 796.8 411.7 793.2 414.0 789.0C416.3 784.8 418.0 778.3 420.0 775.0C422.0 771.7 423.7 770.4 426.0 769.0C428.3 767.6 430.8 767.1 434.0 766.5C437.2 765.9 441.7 765.5 445.5 765.5C449.3 765.5 453.8 765.9 457.0 766.5C460.2 767.1 462.7 767.6 465.0 769.0C467.3 770.4 469.0 771.7 471.0 775.0C473.0 778.3 474.7 784.8 477.0 789.0C479.3 793.2 481.7 796.8 485.0 800.0C488.3 803.2 492.7 806.3 497.0 808.0C501.3 809.7 506.7 810.0 511.0 810.0C515.3 810.0 519.3 809.8 523.0 808.0C526.7 806.2 529.5 802.3 533.0 799.0C536.5 795.7 540.5 791.3 544.0 788.4C547.5 785.5 550.2 783.2 554.1 781.8C558.0 780.4 563.2 779.5 567.4 780.1C571.6 780.7 576.7 782.3 579.1 785.1C581.5 787.9 581.1 789.3 581.6 796.8C582.1 804.3 581.7 816.3 582.4 830.2C583.1 844.1 585.0 868.7 585.8 880.3C586.6 891.9 586.8 889.8 587.4 900.0C588.0 910.2 588.0 930.6 589.1 941.7C590.2 952.8 591.6 957.6 594.1 966.8C596.6 976.0 599.7 986.8 604.1 996.8C608.5 1006.8 613.8 1017.7 620.8 1026.9C627.8 1036.1 637.5 1045.5 645.9 1051.9C654.2 1058.3 658.4 1062.8 670.9 1065.3C683.4 1067.8 712.6 1066.7 721.0 1067.0L721 1067 L721 1170 L170 1170Z" fill="#212121" stroke="#212121" stroke-width="3" stroke-linecap="round" stroke-linejoin="round" filter="url(#bl1_5)" />
<path d="M170.0 1067.0C178.3 1066.7 207.6 1067.8 220.1 1065.3C232.6 1062.8 236.8 1058.3 245.1 1051.9C253.4 1045.5 263.2 1036.1 270.2 1026.9C277.2 1017.7 282.4 1006.8 286.9 996.8C291.3 986.8 294.4 976.0 296.9 966.8C299.4 957.6 300.8 952.8 301.9 941.7C303.0 930.6 303.1 910.2 303.6 900.0C304.2 889.8 304.4 891.9 305.2 880.3C306.0 868.7 307.9 844.1 308.6 830.2C309.3 816.3 308.8 804.3 309.4 796.8C309.9 789.3 309.5 787.9 311.9 785.1C314.3 782.3 319.4 780.7 323.6 780.1C327.8 779.5 333.0 780.4 336.9 781.8C340.8 783.2 343.5 785.5 347.0 788.4C350.5 791.3 354.5 795.7 358.0 799.0C361.5 802.3 364.3 806.2 368.0 808.0C371.7 809.8 375.7 810.0 380.0 810.0C384.3 810.0 389.7 809.7 394.0 808.0C398.3 806.3 402.7 803.2 406.0 800.0C409.3 796.8 411.7 793.2 414.0 789.0C416.3 784.8 418.0 778.3 420.0 775.0C422.0 771.7 423.7 770.4 426.0 769.0C428.3 767.6 430.8 767.1 434.0 766.5C437.2 765.9 441.7 765.5 445.5 765.5C449.3 765.5 453.8 765.9 457.0 766.5C460.2 767.1 462.7 767.6 465.0 769.0C467.3 770.4 469.0 771.7 471.0 775.0C473.0 778.3 474.7 784.8 477.0 789.0C479.3 793.2 481.7 796.8 485.0 800.0C488.3 803.2 492.7 806.3 497.0 808.0C501.3 809.7 506.7 810.0 511.0 810.0C515.3 810.0 519.3 809.8 523.0 808.0C526.7 806.2 529.5 802.3 533.0 799.0C536.5 795.7 540.5 791.3 544.0 788.4C547.5 785.5 550.2 783.2 554.1 781.8C558.0 780.4 563.2 779.5 567.4 780.1C571.6 780.7 576.7 782.3 579.1 785.1C581.5 787.9 581.1 789.3 581.6 796.8C582.1 804.3 581.7 816.3 582.4 830.2C583.1 844.1 585.0 868.7 585.8 880.3C586.6 891.9 586.8 889.8 587.4 900.0C588.0 910.2 588.0 930.6 589.1 941.7C590.2 952.8 591.6 957.6 594.1 966.8C596.6 976.0 599.7 986.8 604.1 996.8C608.5 1006.8 613.8 1017.7 620.8 1026.9C627.8 1036.1 637.5 1045.5 645.9 1051.9C654.2 1058.3 658.4 1062.8 670.9 1065.3C683.4 1067.8 712.6 1066.7 721.0 1067.0L721 1067 L721 1170 L170 1170Z" fill="#000000" filter="url(#bl1)" />
<path d="M328.6 816.8C329.8 820.0 331.8 829.9 336.0 836.0C340.2 842.1 346.5 849.8 353.6 853.5C360.7 857.2 372.3 859.1 378.7 858.5C385.1 857.9 388.4 853.6 392.0 850.0C395.6 846.4 399.0 839.0 400.4 836.8" fill="none" stroke="#1f1f1f" stroke-width="4" stroke-linecap="round" stroke-linejoin="round" filter="url(#bl1_5)" />
<path d="M562.4 816.8C561.2 820.0 559.2 829.9 555.0 836.0C550.8 842.1 544.5 849.8 537.4 853.5C530.3 857.2 518.7 859.1 512.3 858.5C505.9 857.9 502.6 853.6 499.0 850.0C495.4 846.4 492.0 839.0 490.6 836.8" fill="none" stroke="#1f1f1f" stroke-width="4" stroke-linecap="round" stroke-linejoin="round" filter="url(#bl1_5)" />
<path d="M340.0 810.0C342.0 813.7 347.0 826.7 352.0 832.0C357.0 837.3 364.7 841.0 370.0 842.0C375.3 843.0 381.7 838.7 384.0 838.0" fill="none" stroke="#1a1a1a" stroke-width="3.5" stroke-linecap="round" stroke-linejoin="round" filter="url(#bl1_5)" />
<path d="M551.0 810.0C549.0 813.7 544.0 826.7 539.0 832.0C534.0 837.3 526.3 841.0 521.0 842.0C515.7 843.0 509.3 838.7 507.0 838.0" fill="none" stroke="#1a1a1a" stroke-width="3.5" stroke-linecap="round" stroke-linejoin="round" filter="url(#bl1_5)" />
<path d="M378.7 816.8C380.9 816.7 387.8 814.9 392.0 816.0C396.2 817.1 400.0 819.8 403.7 823.5C407.4 827.2 411.2 832.7 414.0 838.0C416.8 843.3 419.3 852.3 420.4 855.2" fill="none" stroke="#1f1f1f" stroke-width="3.5" stroke-linecap="round" stroke-linejoin="round" filter="url(#bl1_5)" />
<path d="M512.3 816.8C510.1 816.7 503.2 814.9 499.0 816.0C494.8 817.1 491.0 819.8 487.3 823.5C483.6 827.2 479.8 832.7 477.0 838.0C474.2 843.3 471.7 852.3 470.6 855.2" fill="none" stroke="#1f1f1f" stroke-width="3.5" stroke-linecap="round" stroke-linejoin="round" filter="url(#bl1_5)" />
<path d="M420.4 780.1C420.8 783.4 421.7 793.4 423.0 800.0C424.3 806.6 425.8 814.0 428.0 820.0C430.2 826.0 433.1 832.5 436.0 836.0C438.9 839.5 443.9 840.2 445.5 841.0" fill="none" stroke="#181818" stroke-width="9" stroke-linecap="round" stroke-linejoin="round" filter="url(#bl3)" />
<path d="M470.6 780.1C470.2 783.4 469.3 793.4 468.0 800.0C466.7 806.6 465.2 814.0 463.0 820.0C460.8 826.0 457.9 832.5 455.0 836.0C452.1 839.5 447.1 840.2 445.5 841.0" fill="none" stroke="#181818" stroke-width="9" stroke-linecap="round" stroke-linejoin="round" filter="url(#bl3)" />
<path d="M352.0 796.0C353.0 797.7 358.0 802.3 358.0 806.0C358.0 809.7 354.3 814.7 352.0 818.0C349.7 821.3 345.3 824.7 344.0 826.0" fill="none" stroke="#1f1f1f" stroke-width="4" stroke-linecap="round" stroke-linejoin="round" filter="url(#bl1_5)" />
<path d="M539.0 796.0C538.0 797.7 533.0 802.3 533.0 806.0C533.0 809.7 536.7 814.7 539.0 818.0C541.3 821.3 545.7 824.7 547.0 826.0" fill="none" stroke="#1f1f1f" stroke-width="4" stroke-linecap="round" stroke-linejoin="round" filter="url(#bl1_5)" />
<path d="M386.0 812.0C388.0 811.0 394.0 808.7 398.0 806.0C402.0 803.3 406.7 800.0 410.0 796.0C413.3 792.0 416.7 784.3 418.0 782.0" fill="none" stroke="#1f1f1f" stroke-width="4" stroke-linecap="round" stroke-linejoin="round" filter="url(#bl1_5)" />
<path d="M505.0 812.0C503.0 811.0 497.0 808.7 493.0 806.0C489.0 803.3 484.3 800.0 481.0 796.0C477.7 792.0 474.3 784.3 473.0 782.0" fill="none" stroke="#1f1f1f" stroke-width="4" stroke-linecap="round" stroke-linejoin="round" filter="url(#bl1_5)" />
<path d="M378.0 801.0C376.7 802.2 372.4 805.5 370.0 808.0C367.6 810.5 365.3 813.4 363.5 816.0C361.7 818.6 359.8 821.5 359.0 823.5C358.2 825.5 358.6 827.2 358.5 828.0" fill="none" stroke="#494949" stroke-width="5.5" stroke-linecap="round" stroke-linejoin="round" filter="url(#bl0_6)" />
<path d="M513.0 801.0C514.3 802.2 518.6 805.5 521.0 808.0C523.4 810.5 525.7 813.4 527.5 816.0C529.3 818.6 531.2 821.5 532.0 823.5C532.8 825.5 532.4 827.2 532.5 828.0" fill="none" stroke="#494949" stroke-width="5.5" stroke-linecap="round" stroke-linejoin="round" filter="url(#bl0_6)" />
<path d="M376.0 805.0C377.7 804.8 382.3 804.3 386.0 803.5C389.7 802.7 394.3 801.9 398.0 800.0C401.7 798.1 405.2 795.0 408.0 792.0C410.8 789.0 413.1 785.5 415.0 782.0C416.9 778.5 418.8 772.8 419.5 771.0" fill="none" stroke="#494949" stroke-width="6" stroke-linecap="round" stroke-linejoin="round" filter="url(#bl0_6)" />
<path d="M515.0 805.0C513.3 804.8 508.7 804.3 505.0 803.5C501.3 802.7 496.7 801.9 493.0 800.0C489.3 798.1 485.8 795.0 483.0 792.0C480.2 789.0 477.9 785.5 476.0 782.0C474.1 778.5 472.2 772.8 471.5 771.0" fill="none" stroke="#494949" stroke-width="6" stroke-linecap="round" stroke-linejoin="round" filter="url(#bl0_6)" />
<path d="M350.0 781.0C352.0 782.8 358.2 788.5 362.0 792.0C365.8 795.5 371.2 800.3 373.0 802.0" fill="none" stroke="#494949" stroke-width="4" stroke-linecap="round" stroke-linejoin="round" filter="url(#bl0_6)" />
<path d="M541.0 781.0C539.0 782.8 532.8 788.5 529.0 792.0C525.2 795.5 519.8 800.3 518.0 802.0" fill="none" stroke="#494949" stroke-width="4" stroke-linecap="round" stroke-linejoin="round" filter="url(#bl0_6)" />
<path d="M366.0 812.0C364.7 813.7 359.3 820.3 358.0 822.0" fill="none" stroke="#5c5c5c" stroke-width="2" stroke-linecap="round" stroke-linejoin="round" filter="url(#bl0_6)" />
<path d="M525.0 812.0C526.3 813.7 531.7 820.3 533.0 822.0" fill="none" stroke="#5c5c5c" stroke-width="2" stroke-linecap="round" stroke-linejoin="round" filter="url(#bl0_6)" />
<path d="M378.0 805.0C380.0 804.6 386.0 803.8 390.0 802.5C394.0 801.2 398.5 799.4 402.0 797.0C405.5 794.6 409.5 789.5 411.0 788.0" fill="none" stroke="#616161" stroke-width="1.8" stroke-linecap="round" stroke-linejoin="round" filter="url(#bl0_6)" />
<path d="M513.0 805.0C511.0 804.6 505.0 803.8 501.0 802.5C497.0 801.2 492.5 799.4 489.0 797.0C485.5 794.6 481.5 789.5 480.0 788.0" fill="none" stroke="#616161" stroke-width="1.8" stroke-linecap="round" stroke-linejoin="round" filter="url(#bl0_6)" />
<path d="M178.0 1068.0C185.0 1067.8 208.7 1069.3 220.0 1067.0C231.3 1064.7 237.5 1060.3 246.0 1054.0C254.5 1047.7 264.0 1038.3 271.0 1029.0C278.0 1019.7 283.5 1008.2 288.0 998.0C292.5 987.8 295.5 977.3 298.0 968.0C300.5 958.7 302.2 946.3 303.0 942.0" fill="none" stroke="#1a1a1a" stroke-width="6" stroke-linecap="round" stroke-linejoin="round" filter="url(#bl2)" />
<path d="M713.0 1068.0C706.0 1067.8 682.3 1069.3 671.0 1067.0C659.7 1064.7 653.5 1060.3 645.0 1054.0C636.5 1047.7 627.0 1038.3 620.0 1029.0C613.0 1019.7 607.5 1008.2 603.0 998.0C598.5 987.8 595.5 977.3 593.0 968.0C590.5 958.7 588.8 946.3 588.0 942.0" fill="none" stroke="#1a1a1a" stroke-width="6" stroke-linecap="round" stroke-linejoin="round" filter="url(#bl2)" />
</g></g>
<rect x="178" y="625" width="535" height="536.5" fill="none" stroke="#0a6b55" stroke-width="1"/>
<text x="631" y="678" font-size="43" class="b" letter-spacing="1">(c)</text>
</svg>
</body></html>
